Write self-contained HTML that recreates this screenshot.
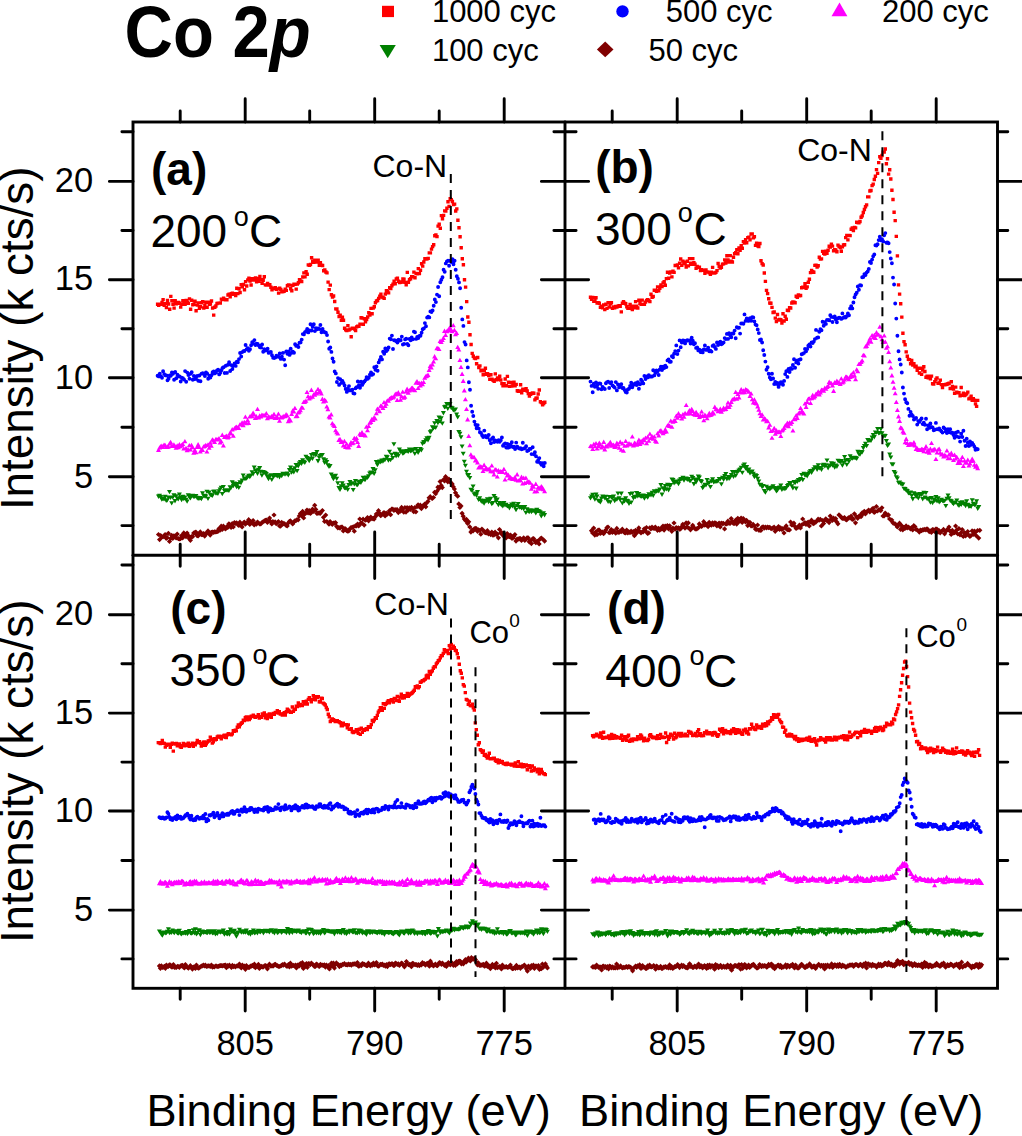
<!DOCTYPE html><html><head><meta charset="utf-8"><style>html,body{margin:0;padding:0;background:#fff;overflow:hidden;font-family:"Liberation Sans", sans-serif}svg{display:block}</style></head><body><svg width="1022" height="1136" viewBox="0 0 1022 1136" style="font-family:&quot;Liberation Sans&quot;, sans-serif"><rect width="1022" height="1136" fill="#fff"/><path d="M155.9 534.5l2.6 -2.6l2.6 2.6l-2.6 2.6zM157 539.6l2.6 -2.6l2.6 2.6l-2.6 2.6zM158.1 535.5l2.6 -2.6l2.6 2.6l-2.6 2.6zM159.2 536.7l2.6 -2.6l2.6 2.6l-2.6 2.6zM160.3 537l2.6 -2.6l2.6 2.6l-2.6 2.6zM161.4 535.7l2.6 -2.6l2.6 2.6l-2.6 2.6zM162.5 534.5l2.6 -2.6l2.6 2.6l-2.6 2.6zM163.6 538.3l2.6 -2.6l2.6 2.6l-2.6 2.6zM164.7 537.7l2.6 -2.6l2.6 2.6l-2.6 2.6zM165.8 533.3l2.6 -2.6l2.6 2.6l-2.6 2.6zM166.9 541.4l2.6 -2.6l2.6 2.6l-2.6 2.6zM168 538.7l2.6 -2.6l2.6 2.6l-2.6 2.6zM169.1 535.4l2.6 -2.6l2.6 2.6l-2.6 2.6zM170.2 538.5l2.6 -2.6l2.6 2.6l-2.6 2.6zM171.3 535.8l2.6 -2.6l2.6 2.6l-2.6 2.6zM172.4 536.5l2.6 -2.6l2.6 2.6l-2.6 2.6zM173.5 538l2.6 -2.6l2.6 2.6l-2.6 2.6zM174.6 534.1l2.6 -2.6l2.6 2.6l-2.6 2.6zM175.7 538.6l2.6 -2.6l2.6 2.6l-2.6 2.6zM176.8 539l2.6 -2.6l2.6 2.6l-2.6 2.6zM177.9 538.7l2.6 -2.6l2.6 2.6l-2.6 2.6zM179 535.6l2.6 -2.6l2.6 2.6l-2.6 2.6zM180.1 537.8l2.6 -2.6l2.6 2.6l-2.6 2.6zM181.2 532.9l2.6 -2.6l2.6 2.6l-2.6 2.6zM182.3 535.5l2.6 -2.6l2.6 2.6l-2.6 2.6zM183.4 536.6l2.6 -2.6l2.6 2.6l-2.6 2.6zM184.5 533.1l2.6 -2.6l2.6 2.6l-2.6 2.6zM185.6 535.4l2.6 -2.6l2.6 2.6l-2.6 2.6zM186.7 538.7l2.6 -2.6l2.6 2.6l-2.6 2.6zM187.8 540.3l2.6 -2.6l2.6 2.6l-2.6 2.6zM188.9 536.7l2.6 -2.6l2.6 2.6l-2.6 2.6zM190 536.7l2.6 -2.6l2.6 2.6l-2.6 2.6zM191.1 533.1l2.6 -2.6l2.6 2.6l-2.6 2.6zM192.2 532.6l2.6 -2.6l2.6 2.6l-2.6 2.6zM193.3 532l2.6 -2.6l2.6 2.6l-2.6 2.6zM194.4 535.6l2.6 -2.6l2.6 2.6l-2.6 2.6zM195.5 535.9l2.6 -2.6l2.6 2.6l-2.6 2.6zM196.6 533.1l2.6 -2.6l2.6 2.6l-2.6 2.6zM197.7 531.9l2.6 -2.6l2.6 2.6l-2.6 2.6zM198.8 534.6l2.6 -2.6l2.6 2.6l-2.6 2.6zM199.9 534.6l2.6 -2.6l2.6 2.6l-2.6 2.6zM201 533.6l2.6 -2.6l2.6 2.6l-2.6 2.6zM202.1 536.1l2.6 -2.6l2.6 2.6l-2.6 2.6zM203.2 533.3l2.6 -2.6l2.6 2.6l-2.6 2.6zM204.3 533.1l2.6 -2.6l2.6 2.6l-2.6 2.6zM205.4 530.9l2.6 -2.6l2.6 2.6l-2.6 2.6zM206.5 533l2.6 -2.6l2.6 2.6l-2.6 2.6zM207.6 535.1l2.6 -2.6l2.6 2.6l-2.6 2.6zM208.7 532.3l2.6 -2.6l2.6 2.6l-2.6 2.6zM209.8 532.1l2.6 -2.6l2.6 2.6l-2.6 2.6zM210.9 532.4l2.6 -2.6l2.6 2.6l-2.6 2.6zM212 531.8l2.6 -2.6l2.6 2.6l-2.6 2.6zM213.1 532l2.6 -2.6l2.6 2.6l-2.6 2.6zM214.2 531.7l2.6 -2.6l2.6 2.6l-2.6 2.6zM215.3 531.5l2.6 -2.6l2.6 2.6l-2.6 2.6zM216.4 528.5l2.6 -2.6l2.6 2.6l-2.6 2.6zM217.5 530.2l2.6 -2.6l2.6 2.6l-2.6 2.6zM218.6 526.2l2.6 -2.6l2.6 2.6l-2.6 2.6zM219.7 529.4l2.6 -2.6l2.6 2.6l-2.6 2.6zM220.8 526.2l2.6 -2.6l2.6 2.6l-2.6 2.6zM221.9 528.1l2.6 -2.6l2.6 2.6l-2.6 2.6zM223 528.8l2.6 -2.6l2.6 2.6l-2.6 2.6zM224.1 526.8l2.6 -2.6l2.6 2.6l-2.6 2.6zM225.2 527.4l2.6 -2.6l2.6 2.6l-2.6 2.6zM226.3 523.8l2.6 -2.6l2.6 2.6l-2.6 2.6zM227.4 524.9l2.6 -2.6l2.6 2.6l-2.6 2.6zM228.5 527.5l2.6 -2.6l2.6 2.6l-2.6 2.6zM229.6 523.7l2.6 -2.6l2.6 2.6l-2.6 2.6zM230.7 526.9l2.6 -2.6l2.6 2.6l-2.6 2.6zM231.8 522.7l2.6 -2.6l2.6 2.6l-2.6 2.6zM232.9 523.4l2.6 -2.6l2.6 2.6l-2.6 2.6zM234 522.8l2.6 -2.6l2.6 2.6l-2.6 2.6zM235.1 524.6l2.6 -2.6l2.6 2.6l-2.6 2.6zM236.2 525.4l2.6 -2.6l2.6 2.6l-2.6 2.6zM237.3 522.2l2.6 -2.6l2.6 2.6l-2.6 2.6zM238.4 523.7l2.6 -2.6l2.6 2.6l-2.6 2.6zM239.5 527l2.6 -2.6l2.6 2.6l-2.6 2.6zM240.6 523.1l2.6 -2.6l2.6 2.6l-2.6 2.6zM241.7 522.1l2.6 -2.6l2.6 2.6l-2.6 2.6zM242.8 524.2l2.6 -2.6l2.6 2.6l-2.6 2.6zM243.9 522.9l2.6 -2.6l2.6 2.6l-2.6 2.6zM245 521.9l2.6 -2.6l2.6 2.6l-2.6 2.6zM246.1 519.7l2.6 -2.6l2.6 2.6l-2.6 2.6zM247.2 524.5l2.6 -2.6l2.6 2.6l-2.6 2.6zM248.3 521.8l2.6 -2.6l2.6 2.6l-2.6 2.6zM249.4 522.7l2.6 -2.6l2.6 2.6l-2.6 2.6zM250.5 520.6l2.6 -2.6l2.6 2.6l-2.6 2.6zM251.6 525l2.6 -2.6l2.6 2.6l-2.6 2.6zM252.7 523.8l2.6 -2.6l2.6 2.6l-2.6 2.6zM253.8 524.2l2.6 -2.6l2.6 2.6l-2.6 2.6zM254.9 522l2.6 -2.6l2.6 2.6l-2.6 2.6zM256 523l2.6 -2.6l2.6 2.6l-2.6 2.6zM257.1 523.8l2.6 -2.6l2.6 2.6l-2.6 2.6zM258.2 523.9l2.6 -2.6l2.6 2.6l-2.6 2.6zM259.3 522.5l2.6 -2.6l2.6 2.6l-2.6 2.6zM260.4 521.8l2.6 -2.6l2.6 2.6l-2.6 2.6zM261.5 521.2l2.6 -2.6l2.6 2.6l-2.6 2.6zM262.6 520.4l2.6 -2.6l2.6 2.6l-2.6 2.6zM263.7 520l2.6 -2.6l2.6 2.6l-2.6 2.6zM264.8 522.5l2.6 -2.6l2.6 2.6l-2.6 2.6zM265.9 521.3l2.6 -2.6l2.6 2.6l-2.6 2.6zM267 518l2.6 -2.6l2.6 2.6l-2.6 2.6zM268.1 521.6l2.6 -2.6l2.6 2.6l-2.6 2.6zM269.2 523.9l2.6 -2.6l2.6 2.6l-2.6 2.6zM270.3 521.5l2.6 -2.6l2.6 2.6l-2.6 2.6zM271.4 515l2.6 -2.6l2.6 2.6l-2.6 2.6zM272.5 521.9l2.6 -2.6l2.6 2.6l-2.6 2.6zM273.6 523.7l2.6 -2.6l2.6 2.6l-2.6 2.6zM274.7 522.7l2.6 -2.6l2.6 2.6l-2.6 2.6zM275.8 521.5l2.6 -2.6l2.6 2.6l-2.6 2.6zM276.9 525.9l2.6 -2.6l2.6 2.6l-2.6 2.6zM278 526.1l2.6 -2.6l2.6 2.6l-2.6 2.6zM279.1 522.4l2.6 -2.6l2.6 2.6l-2.6 2.6zM280.2 524.2l2.6 -2.6l2.6 2.6l-2.6 2.6zM281.3 523.4l2.6 -2.6l2.6 2.6l-2.6 2.6zM282.4 524.2l2.6 -2.6l2.6 2.6l-2.6 2.6zM283.5 525.5l2.6 -2.6l2.6 2.6l-2.6 2.6zM284.6 525.9l2.6 -2.6l2.6 2.6l-2.6 2.6zM285.7 523l2.6 -2.6l2.6 2.6l-2.6 2.6zM286.8 521.4l2.6 -2.6l2.6 2.6l-2.6 2.6zM287.9 520.9l2.6 -2.6l2.6 2.6l-2.6 2.6zM289 522.1l2.6 -2.6l2.6 2.6l-2.6 2.6zM290.1 524l2.6 -2.6l2.6 2.6l-2.6 2.6zM291.2 521.8l2.6 -2.6l2.6 2.6l-2.6 2.6zM292.3 520.8l2.6 -2.6l2.6 2.6l-2.6 2.6zM293.4 520.6l2.6 -2.6l2.6 2.6l-2.6 2.6zM294.5 519.5l2.6 -2.6l2.6 2.6l-2.6 2.6zM295.6 519.8l2.6 -2.6l2.6 2.6l-2.6 2.6zM296.7 515.9l2.6 -2.6l2.6 2.6l-2.6 2.6zM297.8 513.5l2.6 -2.6l2.6 2.6l-2.6 2.6zM298.9 515.7l2.6 -2.6l2.6 2.6l-2.6 2.6zM300 511.4l2.6 -2.6l2.6 2.6l-2.6 2.6zM301.1 518l2.6 -2.6l2.6 2.6l-2.6 2.6zM302.2 514l2.6 -2.6l2.6 2.6l-2.6 2.6zM303.3 513.1l2.6 -2.6l2.6 2.6l-2.6 2.6zM304.4 510l2.6 -2.6l2.6 2.6l-2.6 2.6zM305.5 512.9l2.6 -2.6l2.6 2.6l-2.6 2.6zM306.6 510.6l2.6 -2.6l2.6 2.6l-2.6 2.6zM307.7 513.5l2.6 -2.6l2.6 2.6l-2.6 2.6zM308.8 512.6l2.6 -2.6l2.6 2.6l-2.6 2.6zM309.9 509.2l2.6 -2.6l2.6 2.6l-2.6 2.6zM311 511.3l2.6 -2.6l2.6 2.6l-2.6 2.6zM312.1 505.3l2.6 -2.6l2.6 2.6l-2.6 2.6zM313.2 509.4l2.6 -2.6l2.6 2.6l-2.6 2.6zM314.3 513.4l2.6 -2.6l2.6 2.6l-2.6 2.6zM315.4 513.2l2.6 -2.6l2.6 2.6l-2.6 2.6zM316.5 512.8l2.6 -2.6l2.6 2.6l-2.6 2.6zM317.6 513.4l2.6 -2.6l2.6 2.6l-2.6 2.6zM318.7 511.8l2.6 -2.6l2.6 2.6l-2.6 2.6zM319.8 510.5l2.6 -2.6l2.6 2.6l-2.6 2.6zM320.9 517.3l2.6 -2.6l2.6 2.6l-2.6 2.6zM322 521.4l2.6 -2.6l2.6 2.6l-2.6 2.6zM323.1 515.1l2.6 -2.6l2.6 2.6l-2.6 2.6zM324.2 521.6l2.6 -2.6l2.6 2.6l-2.6 2.6zM325.3 522.6l2.6 -2.6l2.6 2.6l-2.6 2.6zM326.4 524.2l2.6 -2.6l2.6 2.6l-2.6 2.6zM327.5 521.6l2.6 -2.6l2.6 2.6l-2.6 2.6zM328.6 522.8l2.6 -2.6l2.6 2.6l-2.6 2.6zM329.7 524.5l2.6 -2.6l2.6 2.6l-2.6 2.6zM330.8 523l2.6 -2.6l2.6 2.6l-2.6 2.6zM331.9 523.2l2.6 -2.6l2.6 2.6l-2.6 2.6zM333 522.7l2.6 -2.6l2.6 2.6l-2.6 2.6zM334.1 526.4l2.6 -2.6l2.6 2.6l-2.6 2.6zM335.2 527.8l2.6 -2.6l2.6 2.6l-2.6 2.6zM336.3 527.5l2.6 -2.6l2.6 2.6l-2.6 2.6zM337.4 528.1l2.6 -2.6l2.6 2.6l-2.6 2.6zM338.5 527l2.6 -2.6l2.6 2.6l-2.6 2.6zM339.6 527.2l2.6 -2.6l2.6 2.6l-2.6 2.6zM340.7 530.9l2.6 -2.6l2.6 2.6l-2.6 2.6zM341.8 528.8l2.6 -2.6l2.6 2.6l-2.6 2.6zM342.9 528.8l2.6 -2.6l2.6 2.6l-2.6 2.6zM344 530.7l2.6 -2.6l2.6 2.6l-2.6 2.6zM345.1 531.1l2.6 -2.6l2.6 2.6l-2.6 2.6zM346.2 530.9l2.6 -2.6l2.6 2.6l-2.6 2.6zM347.3 528.8l2.6 -2.6l2.6 2.6l-2.6 2.6zM348.4 527.5l2.6 -2.6l2.6 2.6l-2.6 2.6zM349.5 527.6l2.6 -2.6l2.6 2.6l-2.6 2.6zM350.6 526.9l2.6 -2.6l2.6 2.6l-2.6 2.6zM351.7 531.2l2.6 -2.6l2.6 2.6l-2.6 2.6zM352.8 525.8l2.6 -2.6l2.6 2.6l-2.6 2.6zM353.9 525.9l2.6 -2.6l2.6 2.6l-2.6 2.6zM355 524l2.6 -2.6l2.6 2.6l-2.6 2.6zM356.1 526l2.6 -2.6l2.6 2.6l-2.6 2.6zM357.2 519l2.6 -2.6l2.6 2.6l-2.6 2.6zM358.3 523.1l2.6 -2.6l2.6 2.6l-2.6 2.6zM359.4 523.3l2.6 -2.6l2.6 2.6l-2.6 2.6zM360.5 519.2l2.6 -2.6l2.6 2.6l-2.6 2.6zM361.6 525.1l2.6 -2.6l2.6 2.6l-2.6 2.6zM362.7 520.2l2.6 -2.6l2.6 2.6l-2.6 2.6zM363.8 519.7l2.6 -2.6l2.6 2.6l-2.6 2.6zM364.9 517.5l2.6 -2.6l2.6 2.6l-2.6 2.6zM366 520.8l2.6 -2.6l2.6 2.6l-2.6 2.6zM367.1 519.1l2.6 -2.6l2.6 2.6l-2.6 2.6zM368.2 517.1l2.6 -2.6l2.6 2.6l-2.6 2.6zM369.3 518.6l2.6 -2.6l2.6 2.6l-2.6 2.6zM370.4 518.6l2.6 -2.6l2.6 2.6l-2.6 2.6zM371.5 519.1l2.6 -2.6l2.6 2.6l-2.6 2.6zM372.6 516.8l2.6 -2.6l2.6 2.6l-2.6 2.6zM373.7 514.1l2.6 -2.6l2.6 2.6l-2.6 2.6zM374.8 514.4l2.6 -2.6l2.6 2.6l-2.6 2.6zM375.9 510.7l2.6 -2.6l2.6 2.6l-2.6 2.6zM377 513.3l2.6 -2.6l2.6 2.6l-2.6 2.6zM378.1 515.7l2.6 -2.6l2.6 2.6l-2.6 2.6zM379.2 514.8l2.6 -2.6l2.6 2.6l-2.6 2.6zM380.3 513.4l2.6 -2.6l2.6 2.6l-2.6 2.6zM381.4 512.6l2.6 -2.6l2.6 2.6l-2.6 2.6zM382.5 516l2.6 -2.6l2.6 2.6l-2.6 2.6zM383.6 513.2l2.6 -2.6l2.6 2.6l-2.6 2.6zM384.7 514.2l2.6 -2.6l2.6 2.6l-2.6 2.6zM385.8 512.9l2.6 -2.6l2.6 2.6l-2.6 2.6zM386.9 510.7l2.6 -2.6l2.6 2.6l-2.6 2.6zM388 514.7l2.6 -2.6l2.6 2.6l-2.6 2.6zM389.1 509.2l2.6 -2.6l2.6 2.6l-2.6 2.6zM390.2 509.2l2.6 -2.6l2.6 2.6l-2.6 2.6zM391.3 510.5l2.6 -2.6l2.6 2.6l-2.6 2.6zM392.4 509.7l2.6 -2.6l2.6 2.6l-2.6 2.6zM393.5 509.9l2.6 -2.6l2.6 2.6l-2.6 2.6zM394.6 509.7l2.6 -2.6l2.6 2.6l-2.6 2.6zM395.7 512.6l2.6 -2.6l2.6 2.6l-2.6 2.6zM396.8 510.7l2.6 -2.6l2.6 2.6l-2.6 2.6zM397.9 511.2l2.6 -2.6l2.6 2.6l-2.6 2.6zM399 507.4l2.6 -2.6l2.6 2.6l-2.6 2.6zM400.1 508.6l2.6 -2.6l2.6 2.6l-2.6 2.6zM401.2 512.2l2.6 -2.6l2.6 2.6l-2.6 2.6zM402.3 507.7l2.6 -2.6l2.6 2.6l-2.6 2.6zM403.4 512.1l2.6 -2.6l2.6 2.6l-2.6 2.6zM404.5 507.7l2.6 -2.6l2.6 2.6l-2.6 2.6zM405.6 510.1l2.6 -2.6l2.6 2.6l-2.6 2.6zM406.7 507.8l2.6 -2.6l2.6 2.6l-2.6 2.6zM407.8 509.5l2.6 -2.6l2.6 2.6l-2.6 2.6zM408.9 507.3l2.6 -2.6l2.6 2.6l-2.6 2.6zM410 508.3l2.6 -2.6l2.6 2.6l-2.6 2.6zM411.1 511.7l2.6 -2.6l2.6 2.6l-2.6 2.6zM412.2 507.5l2.6 -2.6l2.6 2.6l-2.6 2.6zM413.3 511.8l2.6 -2.6l2.6 2.6l-2.6 2.6zM414.4 506.7l2.6 -2.6l2.6 2.6l-2.6 2.6zM415.5 504.8l2.6 -2.6l2.6 2.6l-2.6 2.6zM416.6 506.7l2.6 -2.6l2.6 2.6l-2.6 2.6zM417.7 505.2l2.6 -2.6l2.6 2.6l-2.6 2.6zM418.8 508.6l2.6 -2.6l2.6 2.6l-2.6 2.6zM419.9 506.2l2.6 -2.6l2.6 2.6l-2.6 2.6zM421 506l2.6 -2.6l2.6 2.6l-2.6 2.6zM422.1 504.1l2.6 -2.6l2.6 2.6l-2.6 2.6zM423.2 506.8l2.6 -2.6l2.6 2.6l-2.6 2.6zM424.3 502.7l2.6 -2.6l2.6 2.6l-2.6 2.6zM425.4 501.3l2.6 -2.6l2.6 2.6l-2.6 2.6zM426.5 497.8l2.6 -2.6l2.6 2.6l-2.6 2.6zM427.6 496.7l2.6 -2.6l2.6 2.6l-2.6 2.6zM428.7 497.8l2.6 -2.6l2.6 2.6l-2.6 2.6zM429.8 498.4l2.6 -2.6l2.6 2.6l-2.6 2.6zM430.9 497.5l2.6 -2.6l2.6 2.6l-2.6 2.6zM432 492.3l2.6 -2.6l2.6 2.6l-2.6 2.6zM433.1 493.7l2.6 -2.6l2.6 2.6l-2.6 2.6zM434.2 491.4l2.6 -2.6l2.6 2.6l-2.6 2.6zM435.3 487.2l2.6 -2.6l2.6 2.6l-2.6 2.6zM436.4 488.6l2.6 -2.6l2.6 2.6l-2.6 2.6zM437.5 481.6l2.6 -2.6l2.6 2.6l-2.6 2.6zM438.6 485.4l2.6 -2.6l2.6 2.6l-2.6 2.6zM439.7 487.6l2.6 -2.6l2.6 2.6l-2.6 2.6zM440.8 479.8l2.6 -2.6l2.6 2.6l-2.6 2.6zM441.9 480.9l2.6 -2.6l2.6 2.6l-2.6 2.6zM443 476.7l2.6 -2.6l2.6 2.6l-2.6 2.6zM444.1 478.7l2.6 -2.6l2.6 2.6l-2.6 2.6zM445.2 481.8l2.6 -2.6l2.6 2.6l-2.6 2.6zM446.3 479.1l2.6 -2.6l2.6 2.6l-2.6 2.6zM447.4 482l2.6 -2.6l2.6 2.6l-2.6 2.6zM448.5 482.7l2.6 -2.6l2.6 2.6l-2.6 2.6zM449.6 484.1l2.6 -2.6l2.6 2.6l-2.6 2.6zM450.7 486.8l2.6 -2.6l2.6 2.6l-2.6 2.6zM451.8 489l2.6 -2.6l2.6 2.6l-2.6 2.6zM452.9 492.8l2.6 -2.6l2.6 2.6l-2.6 2.6zM454 495.2l2.6 -2.6l2.6 2.6l-2.6 2.6zM455.1 496.2l2.6 -2.6l2.6 2.6l-2.6 2.6zM456.2 503.9l2.6 -2.6l2.6 2.6l-2.6 2.6zM457.3 507.5l2.6 -2.6l2.6 2.6l-2.6 2.6zM458.4 505.9l2.6 -2.6l2.6 2.6l-2.6 2.6zM459.5 513.3l2.6 -2.6l2.6 2.6l-2.6 2.6zM460.6 516.2l2.6 -2.6l2.6 2.6l-2.6 2.6zM461.7 518.9l2.6 -2.6l2.6 2.6l-2.6 2.6zM462.8 520.5l2.6 -2.6l2.6 2.6l-2.6 2.6zM463.9 519.4l2.6 -2.6l2.6 2.6l-2.6 2.6zM465 523.4l2.6 -2.6l2.6 2.6l-2.6 2.6zM466.1 521.8l2.6 -2.6l2.6 2.6l-2.6 2.6zM467.2 526.9l2.6 -2.6l2.6 2.6l-2.6 2.6zM468.3 532.1l2.6 -2.6l2.6 2.6l-2.6 2.6zM469.4 530.2l2.6 -2.6l2.6 2.6l-2.6 2.6zM470.5 531l2.6 -2.6l2.6 2.6l-2.6 2.6zM471.6 528.9l2.6 -2.6l2.6 2.6l-2.6 2.6zM472.7 528.4l2.6 -2.6l2.6 2.6l-2.6 2.6zM473.8 528.7l2.6 -2.6l2.6 2.6l-2.6 2.6zM474.9 531.3l2.6 -2.6l2.6 2.6l-2.6 2.6zM476 529.9l2.6 -2.6l2.6 2.6l-2.6 2.6zM477.1 530.5l2.6 -2.6l2.6 2.6l-2.6 2.6zM478.2 534.2l2.6 -2.6l2.6 2.6l-2.6 2.6zM479.3 529.1l2.6 -2.6l2.6 2.6l-2.6 2.6zM480.4 530l2.6 -2.6l2.6 2.6l-2.6 2.6zM481.5 531.8l2.6 -2.6l2.6 2.6l-2.6 2.6zM482.6 532.7l2.6 -2.6l2.6 2.6l-2.6 2.6zM483.7 532.9l2.6 -2.6l2.6 2.6l-2.6 2.6zM484.8 530.7l2.6 -2.6l2.6 2.6l-2.6 2.6zM485.9 533.9l2.6 -2.6l2.6 2.6l-2.6 2.6zM487 533.5l2.6 -2.6l2.6 2.6l-2.6 2.6zM488.1 534.6l2.6 -2.6l2.6 2.6l-2.6 2.6zM489.2 532l2.6 -2.6l2.6 2.6l-2.6 2.6zM490.3 535.2l2.6 -2.6l2.6 2.6l-2.6 2.6zM491.4 534.9l2.6 -2.6l2.6 2.6l-2.6 2.6zM492.5 532.2l2.6 -2.6l2.6 2.6l-2.6 2.6zM493.6 534.5l2.6 -2.6l2.6 2.6l-2.6 2.6zM494.7 534l2.6 -2.6l2.6 2.6l-2.6 2.6zM495.8 537.8l2.6 -2.6l2.6 2.6l-2.6 2.6zM496.9 529.5l2.6 -2.6l2.6 2.6l-2.6 2.6zM498 532.9l2.6 -2.6l2.6 2.6l-2.6 2.6zM499.1 532.6l2.6 -2.6l2.6 2.6l-2.6 2.6zM500.2 535.3l2.6 -2.6l2.6 2.6l-2.6 2.6zM501.3 534.9l2.6 -2.6l2.6 2.6l-2.6 2.6zM502.4 535.6l2.6 -2.6l2.6 2.6l-2.6 2.6zM503.5 537.9l2.6 -2.6l2.6 2.6l-2.6 2.6zM504.6 533.6l2.6 -2.6l2.6 2.6l-2.6 2.6zM505.7 535.3l2.6 -2.6l2.6 2.6l-2.6 2.6zM506.8 536.7l2.6 -2.6l2.6 2.6l-2.6 2.6zM507.9 535l2.6 -2.6l2.6 2.6l-2.6 2.6zM509 538.1l2.6 -2.6l2.6 2.6l-2.6 2.6zM510.1 538.2l2.6 -2.6l2.6 2.6l-2.6 2.6zM511.2 536.4l2.6 -2.6l2.6 2.6l-2.6 2.6zM512.3 534.6l2.6 -2.6l2.6 2.6l-2.6 2.6zM513.4 541.1l2.6 -2.6l2.6 2.6l-2.6 2.6zM514.5 539.1l2.6 -2.6l2.6 2.6l-2.6 2.6zM515.6 539.2l2.6 -2.6l2.6 2.6l-2.6 2.6zM516.7 538.7l2.6 -2.6l2.6 2.6l-2.6 2.6zM517.8 538.6l2.6 -2.6l2.6 2.6l-2.6 2.6zM518.9 540.4l2.6 -2.6l2.6 2.6l-2.6 2.6zM520 538.9l2.6 -2.6l2.6 2.6l-2.6 2.6zM521.1 537.9l2.6 -2.6l2.6 2.6l-2.6 2.6zM522.2 540.5l2.6 -2.6l2.6 2.6l-2.6 2.6zM523.3 539.4l2.6 -2.6l2.6 2.6l-2.6 2.6zM524.4 537.9l2.6 -2.6l2.6 2.6l-2.6 2.6zM525.5 537.8l2.6 -2.6l2.6 2.6l-2.6 2.6zM526.6 541.8l2.6 -2.6l2.6 2.6l-2.6 2.6zM527.7 540.9l2.6 -2.6l2.6 2.6l-2.6 2.6zM528.8 543.6l2.6 -2.6l2.6 2.6l-2.6 2.6zM529.9 538.9l2.6 -2.6l2.6 2.6l-2.6 2.6zM531 538.6l2.6 -2.6l2.6 2.6l-2.6 2.6zM532.1 540.8l2.6 -2.6l2.6 2.6l-2.6 2.6zM533.2 542.7l2.6 -2.6l2.6 2.6l-2.6 2.6zM534.3 541.3l2.6 -2.6l2.6 2.6l-2.6 2.6zM535.4 541l2.6 -2.6l2.6 2.6l-2.6 2.6zM536.5 543.9l2.6 -2.6l2.6 2.6l-2.6 2.6zM537.6 538.9l2.6 -2.6l2.6 2.6l-2.6 2.6zM538.7 538l2.6 -2.6l2.6 2.6l-2.6 2.6zM539.8 539l2.6 -2.6l2.6 2.6l-2.6 2.6zM540.9 539.8l2.6 -2.6l2.6 2.6l-2.6 2.6zM542 541.1l2.6 -2.6l2.6 2.6l-2.6 2.6z" fill="#800000"/><path d="M156 494.6l2.5 4.3l2.5 -4.3zM157.1 493.7l2.5 4.3l2.5 -4.3zM158.2 495.1l2.5 4.3l2.5 -4.3zM159.3 497.5l2.5 4.3l2.5 -4.3zM160.4 496.6l2.5 4.3l2.5 -4.3zM161.5 497.2l2.5 4.3l2.5 -4.3zM162.6 494.7l2.5 4.3l2.5 -4.3zM163.7 498.8l2.5 4.3l2.5 -4.3zM164.8 498.2l2.5 4.3l2.5 -4.3zM165.9 495.4l2.5 4.3l2.5 -4.3zM167 490l2.5 4.3l2.5 -4.3zM168.1 495.6l2.5 4.3l2.5 -4.3zM169.2 501.3l2.5 4.3l2.5 -4.3zM170.3 495.4l2.5 4.3l2.5 -4.3zM171.4 493.3l2.5 4.3l2.5 -4.3zM172.5 499.1l2.5 4.3l2.5 -4.3zM173.6 494.2l2.5 4.3l2.5 -4.3zM174.7 496.5l2.5 4.3l2.5 -4.3zM175.8 497.1l2.5 4.3l2.5 -4.3zM176.9 492.4l2.5 4.3l2.5 -4.3zM178 495.8l2.5 4.3l2.5 -4.3zM179.1 498l2.5 4.3l2.5 -4.3zM180.2 494.8l2.5 4.3l2.5 -4.3zM181.3 496.9l2.5 4.3l2.5 -4.3zM182.4 495.4l2.5 4.3l2.5 -4.3zM183.5 497.7l2.5 4.3l2.5 -4.3zM184.6 499.4l2.5 4.3l2.5 -4.3zM185.7 493.2l2.5 4.3l2.5 -4.3zM186.8 494.9l2.5 4.3l2.5 -4.3zM187.9 496.3l2.5 4.3l2.5 -4.3zM189 494.2l2.5 4.3l2.5 -4.3zM190.1 493.7l2.5 4.3l2.5 -4.3zM191.2 494.7l2.5 4.3l2.5 -4.3zM192.3 494.8l2.5 4.3l2.5 -4.3zM193.4 493.9l2.5 4.3l2.5 -4.3zM194.5 495.8l2.5 4.3l2.5 -4.3zM195.6 496.7l2.5 4.3l2.5 -4.3zM196.7 496.4l2.5 4.3l2.5 -4.3zM197.8 496l2.5 4.3l2.5 -4.3zM198.9 496.9l2.5 4.3l2.5 -4.3zM200 491.3l2.5 4.3l2.5 -4.3zM201.1 493.7l2.5 4.3l2.5 -4.3zM202.2 494.1l2.5 4.3l2.5 -4.3zM203.3 494.5l2.5 4.3l2.5 -4.3zM204.4 489.7l2.5 4.3l2.5 -4.3zM205.5 496.7l2.5 4.3l2.5 -4.3zM206.6 490.6l2.5 4.3l2.5 -4.3zM207.7 492.7l2.5 4.3l2.5 -4.3zM208.8 493.3l2.5 4.3l2.5 -4.3zM209.9 493.7l2.5 4.3l2.5 -4.3zM211 489.7l2.5 4.3l2.5 -4.3zM212.1 489.6l2.5 4.3l2.5 -4.3zM213.2 491.2l2.5 4.3l2.5 -4.3zM214.3 491.3l2.5 4.3l2.5 -4.3zM215.4 491.6l2.5 4.3l2.5 -4.3zM216.5 489.2l2.5 4.3l2.5 -4.3zM217.6 487.5l2.5 4.3l2.5 -4.3zM218.7 485.8l2.5 4.3l2.5 -4.3zM219.8 491.9l2.5 4.3l2.5 -4.3zM220.9 485l2.5 4.3l2.5 -4.3zM222 489l2.5 4.3l2.5 -4.3zM223.1 488.3l2.5 4.3l2.5 -4.3zM224.2 488.3l2.5 4.3l2.5 -4.3zM225.3 488.3l2.5 4.3l2.5 -4.3zM226.4 488.7l2.5 4.3l2.5 -4.3zM227.5 485.3l2.5 4.3l2.5 -4.3zM228.6 485.8l2.5 4.3l2.5 -4.3zM229.7 480.3l2.5 4.3l2.5 -4.3zM230.8 484l2.5 4.3l2.5 -4.3zM231.9 481.5l2.5 4.3l2.5 -4.3zM233 482.6l2.5 4.3l2.5 -4.3zM234.1 484.9l2.5 4.3l2.5 -4.3zM235.2 482l2.5 4.3l2.5 -4.3zM236.3 485.8l2.5 4.3l2.5 -4.3zM237.4 480.2l2.5 4.3l2.5 -4.3zM238.5 480.9l2.5 4.3l2.5 -4.3zM239.6 478.6l2.5 4.3l2.5 -4.3zM240.7 473.5l2.5 4.3l2.5 -4.3zM241.8 476.6l2.5 4.3l2.5 -4.3zM242.9 476.6l2.5 4.3l2.5 -4.3zM244 476.5l2.5 4.3l2.5 -4.3zM245.1 475.2l2.5 4.3l2.5 -4.3zM246.2 473.8l2.5 4.3l2.5 -4.3zM247.3 475l2.5 4.3l2.5 -4.3zM248.4 473.4l2.5 4.3l2.5 -4.3zM249.5 470.3l2.5 4.3l2.5 -4.3zM250.6 472.1l2.5 4.3l2.5 -4.3zM251.7 465.5l2.5 4.3l2.5 -4.3zM252.8 468.6l2.5 4.3l2.5 -4.3zM253.9 468.6l2.5 4.3l2.5 -4.3zM255 471.6l2.5 4.3l2.5 -4.3zM256.1 467.8l2.5 4.3l2.5 -4.3zM257.2 466.1l2.5 4.3l2.5 -4.3zM258.3 469.8l2.5 4.3l2.5 -4.3zM259.4 473.4l2.5 4.3l2.5 -4.3zM260.5 469.9l2.5 4.3l2.5 -4.3zM261.6 470.6l2.5 4.3l2.5 -4.3zM262.7 470.9l2.5 4.3l2.5 -4.3zM263.8 471.9l2.5 4.3l2.5 -4.3zM264.9 475l2.5 4.3l2.5 -4.3zM266 476.9l2.5 4.3l2.5 -4.3zM267.1 474.2l2.5 4.3l2.5 -4.3zM268.2 473.3l2.5 4.3l2.5 -4.3zM269.3 477.7l2.5 4.3l2.5 -4.3zM270.4 474.1l2.5 4.3l2.5 -4.3zM271.5 474.1l2.5 4.3l2.5 -4.3zM272.6 473.1l2.5 4.3l2.5 -4.3zM273.7 473.1l2.5 4.3l2.5 -4.3zM274.8 474.2l2.5 4.3l2.5 -4.3zM275.9 472.9l2.5 4.3l2.5 -4.3zM277 475.1l2.5 4.3l2.5 -4.3zM278.1 473.2l2.5 4.3l2.5 -4.3zM279.2 473.9l2.5 4.3l2.5 -4.3zM280.3 471.7l2.5 4.3l2.5 -4.3zM281.4 471.8l2.5 4.3l2.5 -4.3zM282.5 472.4l2.5 4.3l2.5 -4.3zM283.6 471.7l2.5 4.3l2.5 -4.3zM284.7 471.4l2.5 4.3l2.5 -4.3zM285.8 473.3l2.5 4.3l2.5 -4.3zM286.9 468.1l2.5 4.3l2.5 -4.3zM288 465.6l2.5 4.3l2.5 -4.3zM289.1 470.5l2.5 4.3l2.5 -4.3zM290.2 467.7l2.5 4.3l2.5 -4.3zM291.3 470.2l2.5 4.3l2.5 -4.3zM292.4 466.2l2.5 4.3l2.5 -4.3zM293.5 463l2.5 4.3l2.5 -4.3zM294.6 469l2.5 4.3l2.5 -4.3zM295.7 464.3l2.5 4.3l2.5 -4.3zM296.8 461.5l2.5 4.3l2.5 -4.3zM297.9 459.9l2.5 4.3l2.5 -4.3zM299 461.8l2.5 4.3l2.5 -4.3zM300.1 458.3l2.5 4.3l2.5 -4.3zM301.2 459.8l2.5 4.3l2.5 -4.3zM302.3 460.7l2.5 4.3l2.5 -4.3zM303.4 454.7l2.5 4.3l2.5 -4.3zM304.5 456.1l2.5 4.3l2.5 -4.3zM305.6 457.1l2.5 4.3l2.5 -4.3zM306.7 458.9l2.5 4.3l2.5 -4.3zM307.8 456.7l2.5 4.3l2.5 -4.3zM308.9 453.1l2.5 4.3l2.5 -4.3zM310 456.6l2.5 4.3l2.5 -4.3zM311.1 452.3l2.5 4.3l2.5 -4.3zM312.2 452l2.5 4.3l2.5 -4.3zM313.3 453.3l2.5 4.3l2.5 -4.3zM314.4 450.1l2.5 4.3l2.5 -4.3zM315.5 459.1l2.5 4.3l2.5 -4.3zM316.6 455.5l2.5 4.3l2.5 -4.3zM317.7 454.1l2.5 4.3l2.5 -4.3zM318.8 453.3l2.5 4.3l2.5 -4.3zM319.9 453l2.5 4.3l2.5 -4.3zM321 457.3l2.5 4.3l2.5 -4.3zM322.1 460.7l2.5 4.3l2.5 -4.3zM323.2 458.2l2.5 4.3l2.5 -4.3zM324.3 460l2.5 4.3l2.5 -4.3zM325.4 463.3l2.5 4.3l2.5 -4.3zM326.5 464.7l2.5 4.3l2.5 -4.3zM327.6 464l2.5 4.3l2.5 -4.3zM328.7 472.4l2.5 4.3l2.5 -4.3zM329.8 474.2l2.5 4.3l2.5 -4.3zM330.9 476.9l2.5 4.3l2.5 -4.3zM332 475.2l2.5 4.3l2.5 -4.3zM333.1 473.7l2.5 4.3l2.5 -4.3zM334.2 476.8l2.5 4.3l2.5 -4.3zM335.3 481.3l2.5 4.3l2.5 -4.3zM336.4 486.1l2.5 4.3l2.5 -4.3zM337.5 487.7l2.5 4.3l2.5 -4.3zM338.6 484.2l2.5 4.3l2.5 -4.3zM339.7 481.2l2.5 4.3l2.5 -4.3zM340.8 483.4l2.5 4.3l2.5 -4.3zM341.9 486l2.5 4.3l2.5 -4.3zM343 486.1l2.5 4.3l2.5 -4.3zM344.1 485.4l2.5 4.3l2.5 -4.3zM345.2 487.8l2.5 4.3l2.5 -4.3zM346.3 482.9l2.5 4.3l2.5 -4.3zM347.4 480l2.5 4.3l2.5 -4.3zM348.5 482.3l2.5 4.3l2.5 -4.3zM349.6 481.3l2.5 4.3l2.5 -4.3zM350.7 487.9l2.5 4.3l2.5 -4.3zM351.8 482.3l2.5 4.3l2.5 -4.3zM352.9 479.1l2.5 4.3l2.5 -4.3zM354 482.7l2.5 4.3l2.5 -4.3zM355.1 482.9l2.5 4.3l2.5 -4.3zM356.2 480.2l2.5 4.3l2.5 -4.3zM357.3 479.8l2.5 4.3l2.5 -4.3zM358.4 480.8l2.5 4.3l2.5 -4.3zM359.5 479l2.5 4.3l2.5 -4.3zM360.6 475.7l2.5 4.3l2.5 -4.3zM361.7 477.6l2.5 4.3l2.5 -4.3zM362.8 477.6l2.5 4.3l2.5 -4.3zM363.9 475.6l2.5 4.3l2.5 -4.3zM365 475.8l2.5 4.3l2.5 -4.3zM366.1 474.2l2.5 4.3l2.5 -4.3zM367.2 471.4l2.5 4.3l2.5 -4.3zM368.3 470.4l2.5 4.3l2.5 -4.3zM369.4 470.8l2.5 4.3l2.5 -4.3zM370.5 467.1l2.5 4.3l2.5 -4.3zM371.6 471.8l2.5 4.3l2.5 -4.3zM372.7 468.2l2.5 4.3l2.5 -4.3zM373.8 460.1l2.5 4.3l2.5 -4.3zM374.9 463l2.5 4.3l2.5 -4.3zM376 460.3l2.5 4.3l2.5 -4.3zM377.1 459.5l2.5 4.3l2.5 -4.3zM378.2 460.1l2.5 4.3l2.5 -4.3zM379.3 458.6l2.5 4.3l2.5 -4.3zM380.4 459.4l2.5 4.3l2.5 -4.3zM381.5 458.3l2.5 4.3l2.5 -4.3zM382.6 457.8l2.5 4.3l2.5 -4.3zM383.7 454.8l2.5 4.3l2.5 -4.3zM384.8 455.2l2.5 4.3l2.5 -4.3zM385.9 458.4l2.5 4.3l2.5 -4.3zM387 449.7l2.5 4.3l2.5 -4.3zM388.1 458l2.5 4.3l2.5 -4.3zM389.2 452.8l2.5 4.3l2.5 -4.3zM390.3 456l2.5 4.3l2.5 -4.3zM391.4 442.2l2.5 4.3l2.5 -4.3zM392.5 451.8l2.5 4.3l2.5 -4.3zM393.6 454.1l2.5 4.3l2.5 -4.3zM394.7 452.3l2.5 4.3l2.5 -4.3zM395.8 453.8l2.5 4.3l2.5 -4.3zM396.9 447.6l2.5 4.3l2.5 -4.3zM398 449.8l2.5 4.3l2.5 -4.3zM399.1 449.3l2.5 4.3l2.5 -4.3zM400.2 451.5l2.5 4.3l2.5 -4.3zM401.3 451.2l2.5 4.3l2.5 -4.3zM402.4 449.7l2.5 4.3l2.5 -4.3zM403.5 449.2l2.5 4.3l2.5 -4.3zM404.6 449l2.5 4.3l2.5 -4.3zM405.7 449.8l2.5 4.3l2.5 -4.3zM406.8 447.4l2.5 4.3l2.5 -4.3zM407.9 449.1l2.5 4.3l2.5 -4.3zM409 448.8l2.5 4.3l2.5 -4.3zM410.1 447.8l2.5 4.3l2.5 -4.3zM411.2 447.6l2.5 4.3l2.5 -4.3zM412.3 451.7l2.5 4.3l2.5 -4.3zM413.4 447.1l2.5 4.3l2.5 -4.3zM414.5 449l2.5 4.3l2.5 -4.3zM415.6 450.7l2.5 4.3l2.5 -4.3zM416.7 449l2.5 4.3l2.5 -4.3zM417.8 447l2.5 4.3l2.5 -4.3zM418.9 448.2l2.5 4.3l2.5 -4.3zM420 441.7l2.5 4.3l2.5 -4.3zM421.1 440.3l2.5 4.3l2.5 -4.3zM422.2 440.1l2.5 4.3l2.5 -4.3zM423.3 438.3l2.5 4.3l2.5 -4.3zM424.4 436.3l2.5 4.3l2.5 -4.3zM425.5 438.3l2.5 4.3l2.5 -4.3zM426.6 435.8l2.5 4.3l2.5 -4.3zM427.7 430.3l2.5 4.3l2.5 -4.3zM428.8 429.3l2.5 4.3l2.5 -4.3zM429.9 425.3l2.5 4.3l2.5 -4.3zM431 426.3l2.5 4.3l2.5 -4.3zM432.1 421.3l2.5 4.3l2.5 -4.3zM433.2 425.6l2.5 4.3l2.5 -4.3zM434.3 419l2.5 4.3l2.5 -4.3zM435.4 420.9l2.5 4.3l2.5 -4.3zM436.5 415.4l2.5 4.3l2.5 -4.3zM437.6 419.5l2.5 4.3l2.5 -4.3zM438.7 416.3l2.5 4.3l2.5 -4.3zM439.8 421.4l2.5 4.3l2.5 -4.3zM440.9 411.1l2.5 4.3l2.5 -4.3zM442 405.2l2.5 4.3l2.5 -4.3zM443.1 404.8l2.5 4.3l2.5 -4.3zM444.2 402.1l2.5 4.3l2.5 -4.3zM445.3 406.8l2.5 4.3l2.5 -4.3zM446.4 401.9l2.5 4.3l2.5 -4.3zM447.5 402l2.5 4.3l2.5 -4.3zM448.6 405.7l2.5 4.3l2.5 -4.3zM449.7 406.3l2.5 4.3l2.5 -4.3zM450.8 408.3l2.5 4.3l2.5 -4.3zM451.9 408l2.5 4.3l2.5 -4.3zM453 407.5l2.5 4.3l2.5 -4.3zM454.1 412.6l2.5 4.3l2.5 -4.3zM455.2 415.3l2.5 4.3l2.5 -4.3zM456.3 430.1l2.5 4.3l2.5 -4.3zM457.4 431.7l2.5 4.3l2.5 -4.3zM458.5 435.3l2.5 4.3l2.5 -4.3zM459.6 444.5l2.5 4.3l2.5 -4.3zM460.7 451.8l2.5 4.3l2.5 -4.3zM461.8 459.7l2.5 4.3l2.5 -4.3zM462.9 463.7l2.5 4.3l2.5 -4.3zM464 469.8l2.5 4.3l2.5 -4.3zM465.1 473.2l2.5 4.3l2.5 -4.3zM466.2 473.1l2.5 4.3l2.5 -4.3zM467.3 476l2.5 4.3l2.5 -4.3zM468.4 487.7l2.5 4.3l2.5 -4.3zM469.5 488.8l2.5 4.3l2.5 -4.3zM470.6 484.4l2.5 4.3l2.5 -4.3zM471.7 492.4l2.5 4.3l2.5 -4.3zM472.8 491.5l2.5 4.3l2.5 -4.3zM473.9 493.5l2.5 4.3l2.5 -4.3zM475 490.1l2.5 4.3l2.5 -4.3zM476.1 497.7l2.5 4.3l2.5 -4.3zM477.2 496.3l2.5 4.3l2.5 -4.3zM478.3 498.6l2.5 4.3l2.5 -4.3zM479.4 499.6l2.5 4.3l2.5 -4.3zM480.5 500.3l2.5 4.3l2.5 -4.3zM481.6 501.4l2.5 4.3l2.5 -4.3zM482.7 498.8l2.5 4.3l2.5 -4.3zM483.8 498.9l2.5 4.3l2.5 -4.3zM484.9 497.3l2.5 4.3l2.5 -4.3zM486 500l2.5 4.3l2.5 -4.3zM487.1 498.5l2.5 4.3l2.5 -4.3zM488.2 496.7l2.5 4.3l2.5 -4.3zM489.3 501.9l2.5 4.3l2.5 -4.3zM490.4 501l2.5 4.3l2.5 -4.3zM491.5 494.1l2.5 4.3l2.5 -4.3zM492.6 496l2.5 4.3l2.5 -4.3zM493.7 499.6l2.5 4.3l2.5 -4.3zM494.8 497.4l2.5 4.3l2.5 -4.3zM495.9 503l2.5 4.3l2.5 -4.3zM497 501l2.5 4.3l2.5 -4.3zM498.1 502.1l2.5 4.3l2.5 -4.3zM499.2 503.1l2.5 4.3l2.5 -4.3zM500.3 504.3l2.5 4.3l2.5 -4.3zM501.4 501.1l2.5 4.3l2.5 -4.3zM502.5 503.3l2.5 4.3l2.5 -4.3zM503.6 502.8l2.5 4.3l2.5 -4.3zM504.7 504.2l2.5 4.3l2.5 -4.3zM505.8 504l2.5 4.3l2.5 -4.3zM506.9 506.1l2.5 4.3l2.5 -4.3zM508 504.5l2.5 4.3l2.5 -4.3zM509.1 502.6l2.5 4.3l2.5 -4.3zM510.2 504.2l2.5 4.3l2.5 -4.3zM511.3 501.8l2.5 4.3l2.5 -4.3zM512.4 505.2l2.5 4.3l2.5 -4.3zM513.5 508l2.5 4.3l2.5 -4.3zM514.6 503.8l2.5 4.3l2.5 -4.3zM515.7 501.9l2.5 4.3l2.5 -4.3zM516.8 505.5l2.5 4.3l2.5 -4.3zM517.9 504.9l2.5 4.3l2.5 -4.3zM519 506.2l2.5 4.3l2.5 -4.3zM520.1 505.3l2.5 4.3l2.5 -4.3zM521.2 507l2.5 4.3l2.5 -4.3zM522.3 505l2.5 4.3l2.5 -4.3zM523.4 510.7l2.5 4.3l2.5 -4.3zM524.5 507.3l2.5 4.3l2.5 -4.3zM525.6 509.1l2.5 4.3l2.5 -4.3zM526.7 509.9l2.5 4.3l2.5 -4.3zM527.8 508.3l2.5 4.3l2.5 -4.3zM528.9 509.9l2.5 4.3l2.5 -4.3zM530 508.7l2.5 4.3l2.5 -4.3zM531.1 508.6l2.5 4.3l2.5 -4.3zM532.2 509.4l2.5 4.3l2.5 -4.3zM533.3 511.2l2.5 4.3l2.5 -4.3zM534.4 507.8l2.5 4.3l2.5 -4.3zM535.5 508.9l2.5 4.3l2.5 -4.3zM536.6 509.4l2.5 4.3l2.5 -4.3zM537.7 510.3l2.5 4.3l2.5 -4.3zM538.8 514.2l2.5 4.3l2.5 -4.3zM539.9 512l2.5 4.3l2.5 -4.3zM541 511.2l2.5 4.3l2.5 -4.3zM542.1 513.1l2.5 4.3l2.5 -4.3z" fill="#008000"/><path d="M156 451.9l2.5 -4.3l2.5 4.3zM157.1 449.6l2.5 -4.3l2.5 4.3zM158.2 448.3l2.5 -4.3l2.5 4.3zM159.3 447.7l2.5 -4.3l2.5 4.3zM160.4 449l2.5 -4.3l2.5 4.3zM161.5 446.9l2.5 -4.3l2.5 4.3zM162.6 447.1l2.5 -4.3l2.5 4.3zM163.7 448.9l2.5 -4.3l2.5 4.3zM164.8 448.9l2.5 -4.3l2.5 4.3zM165.9 448.6l2.5 -4.3l2.5 4.3zM167 445.6l2.5 -4.3l2.5 4.3zM168.1 444l2.5 -4.3l2.5 4.3zM169.2 448l2.5 -4.3l2.5 4.3zM170.3 447.7l2.5 -4.3l2.5 4.3zM171.4 446.6l2.5 -4.3l2.5 4.3zM172.5 448.1l2.5 -4.3l2.5 4.3zM173.6 449.8l2.5 -4.3l2.5 4.3zM174.7 447.6l2.5 -4.3l2.5 4.3zM175.8 449.2l2.5 -4.3l2.5 4.3zM176.9 446.2l2.5 -4.3l2.5 4.3zM178 448.3l2.5 -4.3l2.5 4.3zM179.1 447.1l2.5 -4.3l2.5 4.3zM180.2 446l2.5 -4.3l2.5 4.3zM181.3 450.6l2.5 -4.3l2.5 4.3zM182.4 443.3l2.5 -4.3l2.5 4.3zM183.5 450l2.5 -4.3l2.5 4.3zM184.6 452.2l2.5 -4.3l2.5 4.3zM185.7 451.6l2.5 -4.3l2.5 4.3zM186.8 447.3l2.5 -4.3l2.5 4.3zM187.9 451.6l2.5 -4.3l2.5 4.3zM189 447l2.5 -4.3l2.5 4.3zM190.1 449.3l2.5 -4.3l2.5 4.3zM191.2 454.7l2.5 -4.3l2.5 4.3zM192.3 451.9l2.5 -4.3l2.5 4.3zM193.4 454.2l2.5 -4.3l2.5 4.3zM194.5 448.9l2.5 -4.3l2.5 4.3zM195.6 446.4l2.5 -4.3l2.5 4.3zM196.7 449.1l2.5 -4.3l2.5 4.3zM197.8 453.4l2.5 -4.3l2.5 4.3zM198.9 452.1l2.5 -4.3l2.5 4.3zM200 451.9l2.5 -4.3l2.5 4.3zM201.1 448.5l2.5 -4.3l2.5 4.3zM202.2 448l2.5 -4.3l2.5 4.3zM203.3 447.1l2.5 -4.3l2.5 4.3zM204.4 453.6l2.5 -4.3l2.5 4.3zM205.5 446.5l2.5 -4.3l2.5 4.3zM206.6 449.8l2.5 -4.3l2.5 4.3zM207.7 444.7l2.5 -4.3l2.5 4.3zM208.8 447.8l2.5 -4.3l2.5 4.3zM209.9 441.6l2.5 -4.3l2.5 4.3zM211 442.5l2.5 -4.3l2.5 4.3zM212.1 444l2.5 -4.3l2.5 4.3zM213.2 441.4l2.5 -4.3l2.5 4.3zM214.3 441.4l2.5 -4.3l2.5 4.3zM215.4 441.5l2.5 -4.3l2.5 4.3zM216.5 440.2l2.5 -4.3l2.5 4.3zM217.6 444.6l2.5 -4.3l2.5 4.3zM218.7 443.2l2.5 -4.3l2.5 4.3zM219.8 436.9l2.5 -4.3l2.5 4.3zM220.9 447.6l2.5 -4.3l2.5 4.3zM222 439.1l2.5 -4.3l2.5 4.3zM223.1 438.5l2.5 -4.3l2.5 4.3zM224.2 437.7l2.5 -4.3l2.5 4.3zM225.3 439.5l2.5 -4.3l2.5 4.3zM226.4 438.5l2.5 -4.3l2.5 4.3zM227.5 434.9l2.5 -4.3l2.5 4.3zM228.6 435.4l2.5 -4.3l2.5 4.3zM229.7 431.4l2.5 -4.3l2.5 4.3zM230.8 437.8l2.5 -4.3l2.5 4.3zM231.9 430.6l2.5 -4.3l2.5 4.3zM233 429.4l2.5 -4.3l2.5 4.3zM234.1 428.8l2.5 -4.3l2.5 4.3zM235.2 429.7l2.5 -4.3l2.5 4.3zM236.3 430l2.5 -4.3l2.5 4.3zM237.4 426.5l2.5 -4.3l2.5 4.3zM238.5 426.3l2.5 -4.3l2.5 4.3zM239.6 424.5l2.5 -4.3l2.5 4.3zM240.7 427.3l2.5 -4.3l2.5 4.3zM241.8 424l2.5 -4.3l2.5 4.3zM242.9 418.8l2.5 -4.3l2.5 4.3zM244 425.3l2.5 -4.3l2.5 4.3zM245.1 422.1l2.5 -4.3l2.5 4.3zM246.2 425.1l2.5 -4.3l2.5 4.3zM247.3 418.5l2.5 -4.3l2.5 4.3zM248.4 418.1l2.5 -4.3l2.5 4.3zM249.5 418.2l2.5 -4.3l2.5 4.3zM250.6 414.8l2.5 -4.3l2.5 4.3zM251.7 416.6l2.5 -4.3l2.5 4.3zM252.8 420l2.5 -4.3l2.5 4.3zM253.9 418.4l2.5 -4.3l2.5 4.3zM255 411.1l2.5 -4.3l2.5 4.3zM256.1 419.5l2.5 -4.3l2.5 4.3zM257.2 417.5l2.5 -4.3l2.5 4.3zM258.3 418.6l2.5 -4.3l2.5 4.3zM259.4 416.9l2.5 -4.3l2.5 4.3zM260.5 417.4l2.5 -4.3l2.5 4.3zM261.6 417.3l2.5 -4.3l2.5 4.3zM262.7 417.5l2.5 -4.3l2.5 4.3zM263.8 415.2l2.5 -4.3l2.5 4.3zM264.9 420.2l2.5 -4.3l2.5 4.3zM266 418.5l2.5 -4.3l2.5 4.3zM267.1 419.2l2.5 -4.3l2.5 4.3zM268.2 419.3l2.5 -4.3l2.5 4.3zM269.3 418l2.5 -4.3l2.5 4.3zM270.4 418.8l2.5 -4.3l2.5 4.3zM271.5 416.1l2.5 -4.3l2.5 4.3zM272.6 419.9l2.5 -4.3l2.5 4.3zM273.7 420.1l2.5 -4.3l2.5 4.3zM274.8 419l2.5 -4.3l2.5 4.3zM275.9 415.7l2.5 -4.3l2.5 4.3zM277 422.8l2.5 -4.3l2.5 4.3zM278.1 419.3l2.5 -4.3l2.5 4.3zM279.2 419.6l2.5 -4.3l2.5 4.3zM280.3 418.8l2.5 -4.3l2.5 4.3zM281.4 418l2.5 -4.3l2.5 4.3zM282.5 418.2l2.5 -4.3l2.5 4.3zM283.6 416.4l2.5 -4.3l2.5 4.3zM284.7 417.4l2.5 -4.3l2.5 4.3zM285.8 423.2l2.5 -4.3l2.5 4.3zM286.9 420.8l2.5 -4.3l2.5 4.3zM288 422.4l2.5 -4.3l2.5 4.3zM289.1 416l2.5 -4.3l2.5 4.3zM290.2 412.6l2.5 -4.3l2.5 4.3zM291.3 413.4l2.5 -4.3l2.5 4.3zM292.4 410.1l2.5 -4.3l2.5 4.3zM293.5 418.2l2.5 -4.3l2.5 4.3zM294.6 417.9l2.5 -4.3l2.5 4.3zM295.7 414.4l2.5 -4.3l2.5 4.3zM296.8 413.8l2.5 -4.3l2.5 4.3zM297.9 412.3l2.5 -4.3l2.5 4.3zM299 409.6l2.5 -4.3l2.5 4.3zM300.1 409.8l2.5 -4.3l2.5 4.3zM301.2 404.1l2.5 -4.3l2.5 4.3zM302.3 403.7l2.5 -4.3l2.5 4.3zM303.4 402.8l2.5 -4.3l2.5 4.3zM304.5 394l2.5 -4.3l2.5 4.3zM305.6 398.2l2.5 -4.3l2.5 4.3zM306.7 400.6l2.5 -4.3l2.5 4.3zM307.8 399.4l2.5 -4.3l2.5 4.3zM308.9 391.9l2.5 -4.3l2.5 4.3zM310 398.7l2.5 -4.3l2.5 4.3zM311.1 396.5l2.5 -4.3l2.5 4.3zM312.2 396.7l2.5 -4.3l2.5 4.3zM313.3 394.2l2.5 -4.3l2.5 4.3zM314.4 395.4l2.5 -4.3l2.5 4.3zM315.5 391l2.5 -4.3l2.5 4.3zM316.6 393.9l2.5 -4.3l2.5 4.3zM317.7 392.9l2.5 -4.3l2.5 4.3zM318.8 395.4l2.5 -4.3l2.5 4.3zM319.9 400.9l2.5 -4.3l2.5 4.3zM321 403.6l2.5 -4.3l2.5 4.3zM322.1 401.9l2.5 -4.3l2.5 4.3zM323.2 402.7l2.5 -4.3l2.5 4.3zM324.3 408.5l2.5 -4.3l2.5 4.3zM325.4 411.3l2.5 -4.3l2.5 4.3zM326.5 418.6l2.5 -4.3l2.5 4.3zM327.6 419.5l2.5 -4.3l2.5 4.3zM328.7 416.4l2.5 -4.3l2.5 4.3zM329.8 425.2l2.5 -4.3l2.5 4.3zM330.9 426.7l2.5 -4.3l2.5 4.3zM332 427.9l2.5 -4.3l2.5 4.3zM333.1 432.3l2.5 -4.3l2.5 4.3zM334.2 434.3l2.5 -4.3l2.5 4.3zM335.3 435.5l2.5 -4.3l2.5 4.3zM336.4 441.9l2.5 -4.3l2.5 4.3zM337.5 441.1l2.5 -4.3l2.5 4.3zM338.6 443.9l2.5 -4.3l2.5 4.3zM339.7 443.8l2.5 -4.3l2.5 4.3zM340.8 447.5l2.5 -4.3l2.5 4.3zM341.9 443l2.5 -4.3l2.5 4.3zM343 448.9l2.5 -4.3l2.5 4.3zM344.1 445.7l2.5 -4.3l2.5 4.3zM345.2 449.6l2.5 -4.3l2.5 4.3zM346.3 449.3l2.5 -4.3l2.5 4.3zM347.4 446.8l2.5 -4.3l2.5 4.3zM348.5 444.2l2.5 -4.3l2.5 4.3zM349.6 445.3l2.5 -4.3l2.5 4.3zM350.7 444.8l2.5 -4.3l2.5 4.3zM351.8 440l2.5 -4.3l2.5 4.3zM352.9 441.8l2.5 -4.3l2.5 4.3zM354 440.1l2.5 -4.3l2.5 4.3zM355.1 444l2.5 -4.3l2.5 4.3zM356.2 447.9l2.5 -4.3l2.5 4.3zM357.3 435.8l2.5 -4.3l2.5 4.3zM358.4 437l2.5 -4.3l2.5 4.3zM359.5 434.2l2.5 -4.3l2.5 4.3zM360.6 436.7l2.5 -4.3l2.5 4.3zM361.7 436.7l2.5 -4.3l2.5 4.3zM362.8 437.5l2.5 -4.3l2.5 4.3zM363.9 428.8l2.5 -4.3l2.5 4.3zM365 432.2l2.5 -4.3l2.5 4.3zM366.1 428l2.5 -4.3l2.5 4.3zM367.2 424.8l2.5 -4.3l2.5 4.3zM368.3 423.9l2.5 -4.3l2.5 4.3zM369.4 421.1l2.5 -4.3l2.5 4.3zM370.5 422.1l2.5 -4.3l2.5 4.3zM371.6 419.4l2.5 -4.3l2.5 4.3zM372.7 420.6l2.5 -4.3l2.5 4.3zM373.8 415.2l2.5 -4.3l2.5 4.3zM374.9 410.8l2.5 -4.3l2.5 4.3zM376 411.5l2.5 -4.3l2.5 4.3zM377.1 413.3l2.5 -4.3l2.5 4.3zM378.2 407.8l2.5 -4.3l2.5 4.3zM379.3 408.2l2.5 -4.3l2.5 4.3zM380.4 409.9l2.5 -4.3l2.5 4.3zM381.5 404.2l2.5 -4.3l2.5 4.3zM382.6 408.1l2.5 -4.3l2.5 4.3zM383.7 405.8l2.5 -4.3l2.5 4.3zM384.8 402.6l2.5 -4.3l2.5 4.3zM385.9 402.8l2.5 -4.3l2.5 4.3zM387 400.7l2.5 -4.3l2.5 4.3zM388.1 400.1l2.5 -4.3l2.5 4.3zM389.2 399.4l2.5 -4.3l2.5 4.3zM390.3 399.5l2.5 -4.3l2.5 4.3zM391.4 398.6l2.5 -4.3l2.5 4.3zM392.5 396.6l2.5 -4.3l2.5 4.3zM393.6 395.5l2.5 -4.3l2.5 4.3zM394.7 402.1l2.5 -4.3l2.5 4.3zM395.8 394.4l2.5 -4.3l2.5 4.3zM396.9 396.3l2.5 -4.3l2.5 4.3zM398 401.8l2.5 -4.3l2.5 4.3zM399.1 398.2l2.5 -4.3l2.5 4.3zM400.2 393.8l2.5 -4.3l2.5 4.3zM401.3 399.7l2.5 -4.3l2.5 4.3zM402.4 398.7l2.5 -4.3l2.5 4.3zM403.5 393.4l2.5 -4.3l2.5 4.3zM404.6 390.9l2.5 -4.3l2.5 4.3zM405.7 394.7l2.5 -4.3l2.5 4.3zM406.8 392.4l2.5 -4.3l2.5 4.3zM407.9 391.7l2.5 -4.3l2.5 4.3zM409 390l2.5 -4.3l2.5 4.3zM410.1 389.9l2.5 -4.3l2.5 4.3zM411.2 391.5l2.5 -4.3l2.5 4.3zM412.3 392.2l2.5 -4.3l2.5 4.3zM413.4 384.7l2.5 -4.3l2.5 4.3zM414.5 383.3l2.5 -4.3l2.5 4.3zM415.6 390.1l2.5 -4.3l2.5 4.3zM416.7 385l2.5 -4.3l2.5 4.3zM417.8 387.5l2.5 -4.3l2.5 4.3zM418.9 384.9l2.5 -4.3l2.5 4.3zM420 386.2l2.5 -4.3l2.5 4.3zM421.1 384l2.5 -4.3l2.5 4.3zM422.2 379.7l2.5 -4.3l2.5 4.3zM423.3 378.3l2.5 -4.3l2.5 4.3zM424.4 377.7l2.5 -4.3l2.5 4.3zM425.5 376.9l2.5 -4.3l2.5 4.3zM426.6 371.9l2.5 -4.3l2.5 4.3zM427.7 367.9l2.5 -4.3l2.5 4.3zM428.8 369.5l2.5 -4.3l2.5 4.3zM429.9 366.6l2.5 -4.3l2.5 4.3zM431 363.5l2.5 -4.3l2.5 4.3zM432.1 358.4l2.5 -4.3l2.5 4.3zM433.2 360.3l2.5 -4.3l2.5 4.3zM434.3 350.3l2.5 -4.3l2.5 4.3zM435.4 350l2.5 -4.3l2.5 4.3zM436.5 351.1l2.5 -4.3l2.5 4.3zM437.6 342.9l2.5 -4.3l2.5 4.3zM438.7 344.1l2.5 -4.3l2.5 4.3zM439.8 342.1l2.5 -4.3l2.5 4.3zM440.9 339.9l2.5 -4.3l2.5 4.3zM442 332.9l2.5 -4.3l2.5 4.3zM443.1 337l2.5 -4.3l2.5 4.3zM444.2 333.2l2.5 -4.3l2.5 4.3zM445.3 332.4l2.5 -4.3l2.5 4.3zM446.4 330.8l2.5 -4.3l2.5 4.3zM447.5 329.5l2.5 -4.3l2.5 4.3zM448.6 332l2.5 -4.3l2.5 4.3zM449.7 333.2l2.5 -4.3l2.5 4.3zM450.8 327.2l2.5 -4.3l2.5 4.3zM451.9 332l2.5 -4.3l2.5 4.3zM453 336.2l2.5 -4.3l2.5 4.3zM454.1 334.9l2.5 -4.3l2.5 4.3zM455.2 349.1l2.5 -4.3l2.5 4.3zM456.3 351.6l2.5 -4.3l2.5 4.3zM457.4 362.1l2.5 -4.3l2.5 4.3zM458.5 369.1l2.5 -4.3l2.5 4.3zM459.6 375.9l2.5 -4.3l2.5 4.3zM460.7 382.9l2.5 -4.3l2.5 4.3zM461.8 392.4l2.5 -4.3l2.5 4.3zM462.9 401.3l2.5 -4.3l2.5 4.3zM464 411.1l2.5 -4.3l2.5 4.3zM465.1 421.4l2.5 -4.3l2.5 4.3zM466.2 438.1l2.5 -4.3l2.5 4.3zM467.3 447.3l2.5 -4.3l2.5 4.3zM468.4 456.6l2.5 -4.3l2.5 4.3zM469.5 458.6l2.5 -4.3l2.5 4.3zM470.6 459.2l2.5 -4.3l2.5 4.3zM471.7 459.3l2.5 -4.3l2.5 4.3zM472.8 462.5l2.5 -4.3l2.5 4.3zM473.9 462.5l2.5 -4.3l2.5 4.3zM475 464.6l2.5 -4.3l2.5 4.3zM476.1 469.5l2.5 -4.3l2.5 4.3zM477.2 468.8l2.5 -4.3l2.5 4.3zM478.3 468.4l2.5 -4.3l2.5 4.3zM479.4 469.4l2.5 -4.3l2.5 4.3zM480.5 473l2.5 -4.3l2.5 4.3zM481.6 466.9l2.5 -4.3l2.5 4.3zM482.7 471l2.5 -4.3l2.5 4.3zM483.8 470l2.5 -4.3l2.5 4.3zM484.9 471.2l2.5 -4.3l2.5 4.3zM486 471.4l2.5 -4.3l2.5 4.3zM487.1 470.9l2.5 -4.3l2.5 4.3zM488.2 473.3l2.5 -4.3l2.5 4.3zM489.3 467.5l2.5 -4.3l2.5 4.3zM490.4 473.5l2.5 -4.3l2.5 4.3zM491.5 476.4l2.5 -4.3l2.5 4.3zM492.6 471.4l2.5 -4.3l2.5 4.3zM493.7 471.7l2.5 -4.3l2.5 4.3zM494.8 478.6l2.5 -4.3l2.5 4.3zM495.9 472.4l2.5 -4.3l2.5 4.3zM497 473.9l2.5 -4.3l2.5 4.3zM498.1 473.3l2.5 -4.3l2.5 4.3zM499.2 473.9l2.5 -4.3l2.5 4.3zM500.3 474l2.5 -4.3l2.5 4.3zM501.4 471l2.5 -4.3l2.5 4.3zM502.5 481.5l2.5 -4.3l2.5 4.3zM503.6 474.7l2.5 -4.3l2.5 4.3zM504.7 477.5l2.5 -4.3l2.5 4.3zM505.8 476.8l2.5 -4.3l2.5 4.3zM506.9 480.3l2.5 -4.3l2.5 4.3zM508 479.2l2.5 -4.3l2.5 4.3zM509.1 480.6l2.5 -4.3l2.5 4.3zM510.2 481l2.5 -4.3l2.5 4.3zM511.3 480.7l2.5 -4.3l2.5 4.3zM512.4 479.3l2.5 -4.3l2.5 4.3zM513.5 481.7l2.5 -4.3l2.5 4.3zM514.6 476.4l2.5 -4.3l2.5 4.3zM515.7 482.5l2.5 -4.3l2.5 4.3zM516.8 482.6l2.5 -4.3l2.5 4.3zM517.9 482.1l2.5 -4.3l2.5 4.3zM519 478.9l2.5 -4.3l2.5 4.3zM520.1 485.5l2.5 -4.3l2.5 4.3zM521.2 479.9l2.5 -4.3l2.5 4.3zM522.3 484.9l2.5 -4.3l2.5 4.3zM523.4 479.7l2.5 -4.3l2.5 4.3zM524.5 484.1l2.5 -4.3l2.5 4.3zM525.6 483.6l2.5 -4.3l2.5 4.3zM526.7 483.8l2.5 -4.3l2.5 4.3zM527.8 484.7l2.5 -4.3l2.5 4.3zM528.9 490.8l2.5 -4.3l2.5 4.3zM530 487.3l2.5 -4.3l2.5 4.3zM531.1 488.7l2.5 -4.3l2.5 4.3zM532.2 493.5l2.5 -4.3l2.5 4.3zM533.3 485.9l2.5 -4.3l2.5 4.3zM534.4 493.3l2.5 -4.3l2.5 4.3zM535.5 489.6l2.5 -4.3l2.5 4.3zM536.6 489.7l2.5 -4.3l2.5 4.3zM537.7 490.8l2.5 -4.3l2.5 4.3zM538.8 488.3l2.5 -4.3l2.5 4.3zM539.9 489.6l2.5 -4.3l2.5 4.3zM541 491.2l2.5 -4.3l2.5 4.3zM542.1 493.2l2.5 -4.3l2.5 4.3z" fill="#ff00ff"/><path d="M157.6 375.8h0M158.7 376.4h0M159.8 373.8h0M160.9 376.5h0M162 377.7h0M163.1 371.3h0M164.2 374.1h0M165.3 375.2h0M166.4 375.5h0M167.5 380.3h0M168.6 378.8h0M169.7 375.5h0M170.8 375.7h0M171.9 372.5h0M173 373.7h0M174.1 379.8h0M175.2 372h0M176.3 378.2h0M177.4 374.8h0M178.5 375.9h0M179.6 376.5h0M180.7 381.5h0M181.8 377.7h0M182.9 378.2h0M184 379.5h0M185.1 371.1h0M186.2 381.8h0M187.3 372.6h0M188.4 375h0M189.5 378.7h0M190.6 373.7h0M191.7 372.3h0M192.8 379.8h0M193.9 375.9h0M195 379.1h0M196.1 377.8h0M197.2 375.9h0M198.3 380.7h0M199.4 375.5h0M200.5 381.3h0M201.6 373.6h0M202.7 373.2h0M203.8 373.9h0M204.9 376.1h0M206 372.4h0M207.1 373.4h0M208.2 378.8h0M209.3 375.8h0M210.4 377.6h0M211.5 375.2h0M212.6 372.3h0M213.7 371.4h0M214.8 373.4h0M215.9 372.6h0M217 370.5h0M218.1 369.8h0M219.2 374.4h0M220.3 372.8h0M221.4 370.3h0M222.5 368h0M223.6 367.3h0M224.7 373h0M225.8 365.8h0M226.9 372.9h0M228 364.8h0M229.1 362.3h0M230.2 371h0M231.3 365.1h0M232.4 369h0M233.5 365.7h0M234.6 363.4h0M235.7 365.9h0M236.8 361.8h0M237.9 362.3h0M239 359.1h0M240.1 353h0M241.2 356.5h0M242.3 352.1h0M243.4 351.2h0M244.5 351h0M245.6 345h0M246.7 349.1h0M247.8 348.2h0M248.9 350.8h0M250 349.3h0M251.1 345.2h0M252.2 342.2h0M253.3 343.6h0M254.4 340.1h0M255.5 345h0M256.6 343.8h0M257.7 343.9h0M258.8 345.5h0M259.9 347.3h0M261 347.5h0M262.1 344.5h0M263.2 351.7h0M264.3 349.1h0M265.4 350.5h0M266.5 350.4h0M267.6 348.8h0M268.7 352.9h0M269.8 352.1h0M270.9 351.9h0M272 355.3h0M273.1 357.8h0M274.2 358.1h0M275.3 357.5h0M276.4 355.7h0M277.5 356.5h0M278.6 356.9h0M279.7 353.4h0M280.8 358.9h0M281.9 356.8h0M283 352.9h0M284.1 359.6h0M285.2 365.2h0M286.3 351.4h0M287.4 353.7h0M288.5 351.4h0M289.6 354.9h0M290.7 348.7h0M291.8 352.7h0M292.9 351.7h0M294 352.8h0M295.1 344.2h0M296.2 345.9h0M297.3 345.8h0M298.4 347h0M299.5 342.8h0M300.6 342.4h0M301.7 339.6h0M302.8 334.1h0M303.9 334.4h0M305 332.1h0M306.1 331.3h0M307.2 328.9h0M308.3 332.4h0M309.4 330.5h0M310.5 324.2h0M311.6 330.5h0M312.7 326.8h0M313.8 324.2h0M314.9 331.1h0M316 328.1h0M317.1 329.3h0M318.2 328.4h0M319.3 329h0M320.4 325h0M321.5 332.2h0M322.6 329h0M323.7 331.7h0M324.8 332.3h0M325.9 332.7h0M327 335.1h0M328.1 341.5h0M329.2 348.8h0M330.3 347.5h0M331.4 351.9h0M332.5 358.5h0M333.6 361.8h0M334.7 371.4h0M335.8 373.4h0M336.9 382h0M338 378.1h0M339.1 384.9h0M340.2 379.3h0M341.3 382.9h0M342.4 381h0M343.5 383h0M344.6 385.5h0M345.7 389h0M346.8 391.9h0M347.9 388.5h0M349 386.1h0M350.1 390.4h0M351.2 390.3h0M352.3 389.7h0M353.4 393.2h0M354.5 393.6h0M355.6 388.2h0M356.7 387.3h0M357.8 381.4h0M358.9 385.2h0M360 387.7h0M361.1 381.7h0M362.2 384.9h0M363.3 382.9h0M364.4 381.4h0M365.5 380.1h0M366.6 377.1h0M367.7 378.8h0M368.8 377.7h0M369.9 374.7h0M371 372.5h0M372.1 374.8h0M373.2 374.1h0M374.3 367.3h0M375.4 369.8h0M376.5 366.4h0M377.6 370.8h0M378.7 362.4h0M379.8 359.9h0M380.9 357h0M382 359.4h0M383.1 351.8h0M384.2 353.8h0M385.3 348.4h0M386.4 351h0M387.5 349.8h0M388.6 347.4h0M389.7 338.6h0M390.8 339.3h0M391.9 335.6h0M393 349h0M394.1 340.3h0M395.2 340.4h0M396.3 341.3h0M397.4 342.5h0M398.5 339.8h0M399.6 340.6h0M400.7 340.2h0M401.8 336.6h0M402.9 344.5h0M404 344h0M405.1 339.4h0M406.2 338.8h0M407.3 343.9h0M408.4 345.2h0M409.5 338.9h0M410.6 340.2h0M411.7 337.4h0M412.8 339.2h0M413.9 331.6h0M415 332.2h0M416.1 338.9h0M417.2 337h0M418.3 338h0M419.4 336h0M420.5 335.7h0M421.6 332.8h0M422.7 329.3h0M423.8 328.4h0M424.9 323.1h0M426 326.2h0M427.1 317.6h0M428.2 316.7h0M429.3 317.4h0M430.4 311.4h0M431.5 312h0M432.6 310.4h0M433.7 305.7h0M434.8 299.4h0M435.9 302.1h0M437 294.6h0M438.1 287h0M439.2 296.3h0M440.3 282.2h0M441.4 279.7h0M442.5 277.2h0M443.6 269.7h0M444.7 271.8h0M445.8 263.4h0M446.9 261.5h0M448 260.8h0M449.1 265.8h0M450.2 260.6h0M451.3 262h0M452.4 259.1h0M453.5 264.2h0M454.6 260.8h0M455.7 269.8h0M456.8 276.2h0M457.9 278.7h0M459 282.4h0M460.1 288.2h0M461.2 307.7h0M462.3 319.4h0M463.4 325.9h0M464.5 342.1h0M465.6 344.5h0M466.7 360.4h0M467.8 367.4h0M468.9 382.3h0M470 389.7h0M471.1 405.8h0M472.2 411.8h0M473.3 416h0M474.4 421.6h0M475.5 424.8h0M476.6 428.3h0M477.7 425.1h0M478.8 428.6h0M479.9 432.3h0M481 433h0M482.1 435.3h0M483.2 437.1h0M484.3 430.6h0M485.4 435.9h0M486.5 437.3h0M487.6 437.4h0M488.7 435h0M489.8 440.2h0M490.9 443.2h0M492 438.7h0M493.1 437.5h0M494.2 442h0M495.3 440.4h0M496.4 441h0M497.5 441.7h0M498.6 440.3h0M499.7 441.8h0M500.8 440.3h0M501.9 437.5h0M503 445.7h0M504.1 444.1h0M505.2 443.5h0M506.3 447.5h0M507.4 443.9h0M508.5 447.5h0M509.6 447h0M510.7 444.4h0M511.8 442.2h0M512.9 447h0M514 446.6h0M515.1 449h0M516.2 442.6h0M517.3 446.6h0M518.4 447.9h0M519.5 448.6h0M520.6 448.3h0M521.7 449.2h0M522.8 442.8h0M523.9 448.5h0M525 448h0M526.1 446.2h0M527.2 451.1h0M528.3 450.4h0M529.4 448.9h0M530.5 448.9h0M531.6 454.1h0M532.7 447.2h0M533.8 454.3h0M534.9 452.3h0M536 456.3h0M537.1 461.7h0M538.2 460.1h0M539.3 458.1h0M540.4 463h0M541.5 464.7h0M542.6 463.2h0M543.7 466.3h0M544.8 462.9h0" stroke="#0000ff" stroke-width="3.9" stroke-linecap="round" fill="none"/><path d="M155.9 302.5h3.4v3.4h-3.4zM157 303.5h3.4v3.4h-3.4zM158.1 302.4h3.4v3.4h-3.4zM159.2 302.7h3.4v3.4h-3.4zM160.3 300.8h3.4v3.4h-3.4zM161.4 297.9h3.4v3.4h-3.4zM162.5 303.5h3.4v3.4h-3.4zM163.6 301.9h3.4v3.4h-3.4zM164.7 305.8h3.4v3.4h-3.4zM165.8 298.8h3.4v3.4h-3.4zM166.9 302.3h3.4v3.4h-3.4zM168 307.5h3.4v3.4h-3.4zM169.1 294.7h3.4v3.4h-3.4zM170.2 298.9h3.4v3.4h-3.4zM171.3 302.6h3.4v3.4h-3.4zM172.4 306.4h3.4v3.4h-3.4zM173.5 299h3.4v3.4h-3.4zM174.6 302.2h3.4v3.4h-3.4zM175.7 301.6h3.4v3.4h-3.4zM176.8 300.7h3.4v3.4h-3.4zM177.9 301.5h3.4v3.4h-3.4zM179 305.4h3.4v3.4h-3.4zM180.1 302.6h3.4v3.4h-3.4zM181.2 298.9h3.4v3.4h-3.4zM182.3 300.8h3.4v3.4h-3.4zM183.4 302.7h3.4v3.4h-3.4zM184.5 298.8h3.4v3.4h-3.4zM185.6 300.7h3.4v3.4h-3.4zM186.7 301.5h3.4v3.4h-3.4zM187.8 297.2h3.4v3.4h-3.4zM188.9 307.5h3.4v3.4h-3.4zM190 298.6h3.4v3.4h-3.4zM191.1 303h3.4v3.4h-3.4zM192.2 302.5h3.4v3.4h-3.4zM193.3 299.6h3.4v3.4h-3.4zM194.4 309.1h3.4v3.4h-3.4zM195.5 303.4h3.4v3.4h-3.4zM196.6 301.2h3.4v3.4h-3.4zM197.7 306.6h3.4v3.4h-3.4zM198.8 305.1h3.4v3.4h-3.4zM199.9 301.1h3.4v3.4h-3.4zM201 299.9h3.4v3.4h-3.4zM202.1 306.3h3.4v3.4h-3.4zM203.2 303.7h3.4v3.4h-3.4zM204.3 300.4h3.4v3.4h-3.4zM205.4 305.7h3.4v3.4h-3.4zM206.5 300.6h3.4v3.4h-3.4zM207.6 302.6h3.4v3.4h-3.4zM208.7 302.3h3.4v3.4h-3.4zM209.8 299.3h3.4v3.4h-3.4zM210.9 306.3h3.4v3.4h-3.4zM212 313.4h3.4v3.4h-3.4zM213.1 305.5h3.4v3.4h-3.4zM214.2 304.3h3.4v3.4h-3.4zM215.3 301.8h3.4v3.4h-3.4zM216.4 301.4h3.4v3.4h-3.4zM217.5 301.4h3.4v3.4h-3.4zM218.6 301.3h3.4v3.4h-3.4zM219.7 297.4h3.4v3.4h-3.4zM220.8 297.9h3.4v3.4h-3.4zM221.9 296.5h3.4v3.4h-3.4zM223 297.8h3.4v3.4h-3.4zM224.1 298.2h3.4v3.4h-3.4zM225.2 298h3.4v3.4h-3.4zM226.3 293.3h3.4v3.4h-3.4zM227.4 292.6h3.4v3.4h-3.4zM228.5 295.1h3.4v3.4h-3.4zM229.6 292.1h3.4v3.4h-3.4zM230.7 291.6h3.4v3.4h-3.4zM231.8 292.7h3.4v3.4h-3.4zM232.9 291.9h3.4v3.4h-3.4zM234 293.8h3.4v3.4h-3.4zM235.1 286.5h3.4v3.4h-3.4zM236.2 291.9h3.4v3.4h-3.4zM237.3 287h3.4v3.4h-3.4zM238.4 290.8h3.4v3.4h-3.4zM239.5 283.1h3.4v3.4h-3.4zM240.6 285.1h3.4v3.4h-3.4zM241.7 282.8h3.4v3.4h-3.4zM242.8 288h3.4v3.4h-3.4zM243.9 279.9h3.4v3.4h-3.4zM245 284.3h3.4v3.4h-3.4zM246.1 278.2h3.4v3.4h-3.4zM247.2 276.5h3.4v3.4h-3.4zM248.3 279.4h3.4v3.4h-3.4zM249.4 283.3h3.4v3.4h-3.4zM250.5 277.1h3.4v3.4h-3.4zM251.6 278.4h3.4v3.4h-3.4zM252.7 277.1h3.4v3.4h-3.4zM253.8 276.3h3.4v3.4h-3.4zM254.9 280.1h3.4v3.4h-3.4zM256 276.8h3.4v3.4h-3.4zM257.1 279.5h3.4v3.4h-3.4zM258.2 274.8h3.4v3.4h-3.4zM259.3 277.9h3.4v3.4h-3.4zM260.4 281.6h3.4v3.4h-3.4zM261.5 278.6h3.4v3.4h-3.4zM262.6 275h3.4v3.4h-3.4zM263.7 283.2h3.4v3.4h-3.4zM264.8 283.4h3.4v3.4h-3.4zM265.9 281.7h3.4v3.4h-3.4zM267 283.4h3.4v3.4h-3.4zM268.1 282.9h3.4v3.4h-3.4zM269.2 285.5h3.4v3.4h-3.4zM270.3 288.1h3.4v3.4h-3.4zM271.4 286.8h3.4v3.4h-3.4zM272.5 286.5h3.4v3.4h-3.4zM273.6 286.1h3.4v3.4h-3.4zM274.7 287.5h3.4v3.4h-3.4zM275.8 287.2h3.4v3.4h-3.4zM276.9 291.4h3.4v3.4h-3.4zM278 286.4h3.4v3.4h-3.4zM279.1 287.7h3.4v3.4h-3.4zM280.2 290.1h3.4v3.4h-3.4zM281.3 289.9h3.4v3.4h-3.4zM282.4 289.5h3.4v3.4h-3.4zM283.5 287.4h3.4v3.4h-3.4zM284.6 288.7h3.4v3.4h-3.4zM285.7 284h3.4v3.4h-3.4zM286.8 283.3h3.4v3.4h-3.4zM287.9 283.4h3.4v3.4h-3.4zM289 287.1h3.4v3.4h-3.4zM290.1 289h3.4v3.4h-3.4zM291.2 283.7h3.4v3.4h-3.4zM292.3 282.6h3.4v3.4h-3.4zM293.4 282.6h3.4v3.4h-3.4zM294.5 287.4h3.4v3.4h-3.4zM295.6 282.4h3.4v3.4h-3.4zM296.7 281h3.4v3.4h-3.4zM297.8 278h3.4v3.4h-3.4zM298.9 279.3h3.4v3.4h-3.4zM300 279.8h3.4v3.4h-3.4zM301.1 275.3h3.4v3.4h-3.4zM302.2 271.2h3.4v3.4h-3.4zM303.3 275.2h3.4v3.4h-3.4zM304.4 269.9h3.4v3.4h-3.4zM305.5 272.6h3.4v3.4h-3.4zM306.6 263.2h3.4v3.4h-3.4zM307.7 263.6h3.4v3.4h-3.4zM308.8 262.8h3.4v3.4h-3.4zM309.9 256.1h3.4v3.4h-3.4zM311 259.8h3.4v3.4h-3.4zM312.1 260.5h3.4v3.4h-3.4zM313.2 258.6h3.4v3.4h-3.4zM314.3 260.4h3.4v3.4h-3.4zM315.4 260.3h3.4v3.4h-3.4zM316.5 258.5h3.4v3.4h-3.4zM317.6 263.6h3.4v3.4h-3.4zM318.7 260.9h3.4v3.4h-3.4zM319.8 263.5h3.4v3.4h-3.4zM320.9 263.8h3.4v3.4h-3.4zM322 269h3.4v3.4h-3.4zM323.1 268.2h3.4v3.4h-3.4zM324.2 270.3h3.4v3.4h-3.4zM325.3 271.2h3.4v3.4h-3.4zM326.4 280.4h3.4v3.4h-3.4zM327.5 287.9h3.4v3.4h-3.4zM328.6 283.4h3.4v3.4h-3.4zM329.7 293.1h3.4v3.4h-3.4zM330.8 295.4h3.4v3.4h-3.4zM331.9 294.3h3.4v3.4h-3.4zM333 299.8h3.4v3.4h-3.4zM334.1 307.2h3.4v3.4h-3.4zM335.2 307.3h3.4v3.4h-3.4zM336.3 310.6h3.4v3.4h-3.4zM337.4 314.8h3.4v3.4h-3.4zM338.5 313.4h3.4v3.4h-3.4zM339.6 318.7h3.4v3.4h-3.4zM340.7 315.5h3.4v3.4h-3.4zM341.8 318.6h3.4v3.4h-3.4zM342.9 326.6h3.4v3.4h-3.4zM344 328.2h3.4v3.4h-3.4zM345.1 328.8h3.4v3.4h-3.4zM346.2 323.9h3.4v3.4h-3.4zM347.3 328.3h3.4v3.4h-3.4zM348.4 327.4h3.4v3.4h-3.4zM349.5 335.1h3.4v3.4h-3.4zM350.6 326.6h3.4v3.4h-3.4zM351.7 326.4h3.4v3.4h-3.4zM352.8 327.4h3.4v3.4h-3.4zM353.9 328.8h3.4v3.4h-3.4zM355 325.2h3.4v3.4h-3.4zM356.1 324.5h3.4v3.4h-3.4zM357.2 324.6h3.4v3.4h-3.4zM358.3 322.4h3.4v3.4h-3.4zM359.4 316.1h3.4v3.4h-3.4zM360.5 316.4h3.4v3.4h-3.4zM361.6 322.6h3.4v3.4h-3.4zM362.7 317.1h3.4v3.4h-3.4zM363.8 320.2h3.4v3.4h-3.4zM364.9 317.8h3.4v3.4h-3.4zM366 315.3h3.4v3.4h-3.4zM367.1 311.1h3.4v3.4h-3.4zM368.2 313.4h3.4v3.4h-3.4zM369.3 306.7h3.4v3.4h-3.4zM370.4 312.1h3.4v3.4h-3.4zM371.5 306.4h3.4v3.4h-3.4zM372.6 305h3.4v3.4h-3.4zM373.7 301.1h3.4v3.4h-3.4zM374.8 299.3h3.4v3.4h-3.4zM375.9 298.8h3.4v3.4h-3.4zM377 296.7h3.4v3.4h-3.4zM378.1 294.5h3.4v3.4h-3.4zM379.2 292.6h3.4v3.4h-3.4zM380.3 295.4h3.4v3.4h-3.4zM381.4 295.9h3.4v3.4h-3.4zM382.5 296.7h3.4v3.4h-3.4zM383.6 292.4h3.4v3.4h-3.4zM384.7 289h3.4v3.4h-3.4zM385.8 289.6h3.4v3.4h-3.4zM386.9 291.2h3.4v3.4h-3.4zM388 285.9h3.4v3.4h-3.4zM389.1 286.9h3.4v3.4h-3.4zM390.2 284.1h3.4v3.4h-3.4zM391.3 282.4h3.4v3.4h-3.4zM392.4 279.6h3.4v3.4h-3.4zM393.5 282h3.4v3.4h-3.4zM394.6 277.3h3.4v3.4h-3.4zM395.7 276.4h3.4v3.4h-3.4zM396.8 279.5h3.4v3.4h-3.4zM397.9 280.9h3.4v3.4h-3.4zM399 280.6h3.4v3.4h-3.4zM400.1 280.3h3.4v3.4h-3.4zM401.2 277.2h3.4v3.4h-3.4zM402.3 277.5h3.4v3.4h-3.4zM403.4 280.7h3.4v3.4h-3.4zM404.5 283h3.4v3.4h-3.4zM405.6 270.7h3.4v3.4h-3.4zM406.7 280.6h3.4v3.4h-3.4zM407.8 277.9h3.4v3.4h-3.4zM408.9 277.1h3.4v3.4h-3.4zM410 275.1h3.4v3.4h-3.4zM411.1 275.1h3.4v3.4h-3.4zM412.2 270.4h3.4v3.4h-3.4zM413.3 276.1h3.4v3.4h-3.4zM414.4 271.7h3.4v3.4h-3.4zM415.5 272.1h3.4v3.4h-3.4zM416.6 266.9h3.4v3.4h-3.4zM417.7 271.9h3.4v3.4h-3.4zM418.8 268.6h3.4v3.4h-3.4zM419.9 262h3.4v3.4h-3.4zM421 264.4h3.4v3.4h-3.4zM422.1 260.3h3.4v3.4h-3.4zM423.2 257.1h3.4v3.4h-3.4zM424.3 257.4h3.4v3.4h-3.4zM425.4 257.2h3.4v3.4h-3.4zM426.5 256.7h3.4v3.4h-3.4zM427.6 251.2h3.4v3.4h-3.4zM428.7 251.2h3.4v3.4h-3.4zM429.8 247.4h3.4v3.4h-3.4zM430.9 244.9h3.4v3.4h-3.4zM432 243h3.4v3.4h-3.4zM433.1 234h3.4v3.4h-3.4zM434.2 233.3h3.4v3.4h-3.4zM435.3 234.9h3.4v3.4h-3.4zM436.4 224.4h3.4v3.4h-3.4zM437.5 222.5h3.4v3.4h-3.4zM438.6 226.6h3.4v3.4h-3.4zM439.7 213.9h3.4v3.4h-3.4zM440.8 217h3.4v3.4h-3.4zM441.9 213.7h3.4v3.4h-3.4zM443 209.2h3.4v3.4h-3.4zM444.1 209.4h3.4v3.4h-3.4zM445.2 206.5h3.4v3.4h-3.4zM446.3 200.1h3.4v3.4h-3.4zM447.4 204.7h3.4v3.4h-3.4zM448.5 197.1h3.4v3.4h-3.4zM449.6 197.9h3.4v3.4h-3.4zM450.7 199.8h3.4v3.4h-3.4zM451.8 202.8h3.4v3.4h-3.4zM452.9 202.4h3.4v3.4h-3.4zM454 209.3h3.4v3.4h-3.4zM455.1 207.2h3.4v3.4h-3.4zM456.2 218.5h3.4v3.4h-3.4zM457.3 226h3.4v3.4h-3.4zM458.4 235.1h3.4v3.4h-3.4zM459.5 246.1h3.4v3.4h-3.4zM460.6 257h3.4v3.4h-3.4zM461.7 263h3.4v3.4h-3.4zM462.8 278h3.4v3.4h-3.4zM463.9 285.4h3.4v3.4h-3.4zM465 299.9h3.4v3.4h-3.4zM466.1 315.3h3.4v3.4h-3.4zM467.2 320.5h3.4v3.4h-3.4zM468.3 333h3.4v3.4h-3.4zM469.4 342.8h3.4v3.4h-3.4zM470.5 351.7h3.4v3.4h-3.4zM471.6 354.5h3.4v3.4h-3.4zM472.7 356.3h3.4v3.4h-3.4zM473.8 356.8h3.4v3.4h-3.4zM474.9 362.1h3.4v3.4h-3.4zM476 355.8h3.4v3.4h-3.4zM477.1 365.8h3.4v3.4h-3.4zM478.2 364.2h3.4v3.4h-3.4zM479.3 369h3.4v3.4h-3.4zM480.4 368.4h3.4v3.4h-3.4zM481.5 373.1h3.4v3.4h-3.4zM482.6 369.1h3.4v3.4h-3.4zM483.7 366.6h3.4v3.4h-3.4zM484.8 372.6h3.4v3.4h-3.4zM485.9 372.1h3.4v3.4h-3.4zM487 373.8h3.4v3.4h-3.4zM488.1 377.7h3.4v3.4h-3.4zM489.2 373h3.4v3.4h-3.4zM490.3 377.6h3.4v3.4h-3.4zM491.4 378.6h3.4v3.4h-3.4zM492.5 379.6h3.4v3.4h-3.4zM493.6 372.2h3.4v3.4h-3.4zM494.7 378.1h3.4v3.4h-3.4zM495.8 376.3h3.4v3.4h-3.4zM496.9 377.9h3.4v3.4h-3.4zM498 374.5h3.4v3.4h-3.4zM499.1 378.3h3.4v3.4h-3.4zM500.2 381.9h3.4v3.4h-3.4zM501.3 384.2h3.4v3.4h-3.4zM502.4 381.9h3.4v3.4h-3.4zM503.5 377.3h3.4v3.4h-3.4zM504.6 384h3.4v3.4h-3.4zM505.7 374.7h3.4v3.4h-3.4zM506.8 380.5h3.4v3.4h-3.4zM507.9 384.7h3.4v3.4h-3.4zM509 380.7h3.4v3.4h-3.4zM510.1 384.4h3.4v3.4h-3.4zM511.2 382.3h3.4v3.4h-3.4zM512.3 380.4h3.4v3.4h-3.4zM513.4 384.2h3.4v3.4h-3.4zM514.5 382.7h3.4v3.4h-3.4zM515.6 389h3.4v3.4h-3.4zM516.7 389.6h3.4v3.4h-3.4zM517.8 389.3h3.4v3.4h-3.4zM518.9 383.1h3.4v3.4h-3.4zM520 391h3.4v3.4h-3.4zM521.1 387.5h3.4v3.4h-3.4zM522.2 388.5h3.4v3.4h-3.4zM523.3 388.3h3.4v3.4h-3.4zM524.4 387h3.4v3.4h-3.4zM525.5 389.3h3.4v3.4h-3.4zM526.6 391.9h3.4v3.4h-3.4zM527.7 394.3h3.4v3.4h-3.4zM528.8 392.5h3.4v3.4h-3.4zM529.9 391.8h3.4v3.4h-3.4zM531 391.2h3.4v3.4h-3.4zM532.1 391.5h3.4v3.4h-3.4zM533.2 398.2h3.4v3.4h-3.4zM534.3 396.6h3.4v3.4h-3.4zM535.4 396.3h3.4v3.4h-3.4zM536.5 392.3h3.4v3.4h-3.4zM537.6 388.3h3.4v3.4h-3.4zM538.7 400.1h3.4v3.4h-3.4zM539.8 400.9h3.4v3.4h-3.4zM540.9 403.1h3.4v3.4h-3.4zM542 401.8h3.4v3.4h-3.4zM543.1 400.6h3.4v3.4h-3.4z" fill="#ff0000"/><path d="M588.9 530.7l2.6 -2.6l2.6 2.6l-2.6 2.6zM590 532.9l2.6 -2.6l2.6 2.6l-2.6 2.6zM591.1 528.1l2.6 -2.6l2.6 2.6l-2.6 2.6zM592.2 535.1l2.6 -2.6l2.6 2.6l-2.6 2.6zM593.3 531.8l2.6 -2.6l2.6 2.6l-2.6 2.6zM594.4 534.7l2.6 -2.6l2.6 2.6l-2.6 2.6zM595.5 530.2l2.6 -2.6l2.6 2.6l-2.6 2.6zM596.6 530.1l2.6 -2.6l2.6 2.6l-2.6 2.6zM597.7 533.5l2.6 -2.6l2.6 2.6l-2.6 2.6zM598.8 532.7l2.6 -2.6l2.6 2.6l-2.6 2.6zM599.9 532l2.6 -2.6l2.6 2.6l-2.6 2.6zM601 533.7l2.6 -2.6l2.6 2.6l-2.6 2.6zM602.1 532.2l2.6 -2.6l2.6 2.6l-2.6 2.6zM603.2 530.1l2.6 -2.6l2.6 2.6l-2.6 2.6zM604.3 527.7l2.6 -2.6l2.6 2.6l-2.6 2.6zM605.4 527l2.6 -2.6l2.6 2.6l-2.6 2.6zM606.5 532.6l2.6 -2.6l2.6 2.6l-2.6 2.6zM607.6 532.5l2.6 -2.6l2.6 2.6l-2.6 2.6zM608.7 529.6l2.6 -2.6l2.6 2.6l-2.6 2.6zM609.8 532.4l2.6 -2.6l2.6 2.6l-2.6 2.6zM610.9 531l2.6 -2.6l2.6 2.6l-2.6 2.6zM612 531.5l2.6 -2.6l2.6 2.6l-2.6 2.6zM613.1 533.2l2.6 -2.6l2.6 2.6l-2.6 2.6zM614.2 528.4l2.6 -2.6l2.6 2.6l-2.6 2.6zM615.3 532.1l2.6 -2.6l2.6 2.6l-2.6 2.6zM616.4 532.4l2.6 -2.6l2.6 2.6l-2.6 2.6zM617.5 531l2.6 -2.6l2.6 2.6l-2.6 2.6zM618.6 531.7l2.6 -2.6l2.6 2.6l-2.6 2.6zM619.7 529.2l2.6 -2.6l2.6 2.6l-2.6 2.6zM620.8 531.7l2.6 -2.6l2.6 2.6l-2.6 2.6zM621.9 532.6l2.6 -2.6l2.6 2.6l-2.6 2.6zM623 532.9l2.6 -2.6l2.6 2.6l-2.6 2.6zM624.1 530l2.6 -2.6l2.6 2.6l-2.6 2.6zM625.2 532.9l2.6 -2.6l2.6 2.6l-2.6 2.6zM626.3 531.9l2.6 -2.6l2.6 2.6l-2.6 2.6zM627.4 532.6l2.6 -2.6l2.6 2.6l-2.6 2.6zM628.5 531.2l2.6 -2.6l2.6 2.6l-2.6 2.6zM629.6 532.4l2.6 -2.6l2.6 2.6l-2.6 2.6zM630.7 531.5l2.6 -2.6l2.6 2.6l-2.6 2.6zM631.8 535.7l2.6 -2.6l2.6 2.6l-2.6 2.6zM632.9 530.4l2.6 -2.6l2.6 2.6l-2.6 2.6zM634 533.1l2.6 -2.6l2.6 2.6l-2.6 2.6zM635.1 530.8l2.6 -2.6l2.6 2.6l-2.6 2.6zM636.2 527.9l2.6 -2.6l2.6 2.6l-2.6 2.6zM637.3 531.6l2.6 -2.6l2.6 2.6l-2.6 2.6zM638.4 533l2.6 -2.6l2.6 2.6l-2.6 2.6zM639.5 532l2.6 -2.6l2.6 2.6l-2.6 2.6zM640.6 532l2.6 -2.6l2.6 2.6l-2.6 2.6zM641.7 528.8l2.6 -2.6l2.6 2.6l-2.6 2.6zM642.8 530.8l2.6 -2.6l2.6 2.6l-2.6 2.6zM643.9 527.5l2.6 -2.6l2.6 2.6l-2.6 2.6zM645 533.5l2.6 -2.6l2.6 2.6l-2.6 2.6zM646.1 532.9l2.6 -2.6l2.6 2.6l-2.6 2.6zM647.2 527.8l2.6 -2.6l2.6 2.6l-2.6 2.6zM648.3 529l2.6 -2.6l2.6 2.6l-2.6 2.6zM649.4 527.2l2.6 -2.6l2.6 2.6l-2.6 2.6zM650.5 528.1l2.6 -2.6l2.6 2.6l-2.6 2.6zM651.6 528.5l2.6 -2.6l2.6 2.6l-2.6 2.6zM652.7 527l2.6 -2.6l2.6 2.6l-2.6 2.6zM653.8 528.3l2.6 -2.6l2.6 2.6l-2.6 2.6zM654.9 530.3l2.6 -2.6l2.6 2.6l-2.6 2.6zM656 528.4l2.6 -2.6l2.6 2.6l-2.6 2.6zM657.1 530.2l2.6 -2.6l2.6 2.6l-2.6 2.6zM658.2 528.4l2.6 -2.6l2.6 2.6l-2.6 2.6zM659.3 528.8l2.6 -2.6l2.6 2.6l-2.6 2.6zM660.4 526l2.6 -2.6l2.6 2.6l-2.6 2.6zM661.5 530.1l2.6 -2.6l2.6 2.6l-2.6 2.6zM662.6 526l2.6 -2.6l2.6 2.6l-2.6 2.6zM663.7 527.4l2.6 -2.6l2.6 2.6l-2.6 2.6zM664.8 525.5l2.6 -2.6l2.6 2.6l-2.6 2.6zM665.9 528.8l2.6 -2.6l2.6 2.6l-2.6 2.6zM667 525.8l2.6 -2.6l2.6 2.6l-2.6 2.6zM668.1 528.8l2.6 -2.6l2.6 2.6l-2.6 2.6zM669.2 531.3l2.6 -2.6l2.6 2.6l-2.6 2.6zM670.3 528.1l2.6 -2.6l2.6 2.6l-2.6 2.6zM671.4 523l2.6 -2.6l2.6 2.6l-2.6 2.6zM672.5 529.2l2.6 -2.6l2.6 2.6l-2.6 2.6zM673.6 527.5l2.6 -2.6l2.6 2.6l-2.6 2.6zM674.7 528.3l2.6 -2.6l2.6 2.6l-2.6 2.6zM675.8 527.8l2.6 -2.6l2.6 2.6l-2.6 2.6zM676.9 529.2l2.6 -2.6l2.6 2.6l-2.6 2.6zM678 528.8l2.6 -2.6l2.6 2.6l-2.6 2.6zM679.1 526.7l2.6 -2.6l2.6 2.6l-2.6 2.6zM680.2 524.3l2.6 -2.6l2.6 2.6l-2.6 2.6zM681.3 526.5l2.6 -2.6l2.6 2.6l-2.6 2.6zM682.4 528.1l2.6 -2.6l2.6 2.6l-2.6 2.6zM683.5 522.9l2.6 -2.6l2.6 2.6l-2.6 2.6zM684.6 527.1l2.6 -2.6l2.6 2.6l-2.6 2.6zM685.7 522.9l2.6 -2.6l2.6 2.6l-2.6 2.6zM686.8 528.5l2.6 -2.6l2.6 2.6l-2.6 2.6zM687.9 529.8l2.6 -2.6l2.6 2.6l-2.6 2.6zM689 527.9l2.6 -2.6l2.6 2.6l-2.6 2.6zM690.1 525.3l2.6 -2.6l2.6 2.6l-2.6 2.6zM691.2 527.6l2.6 -2.6l2.6 2.6l-2.6 2.6zM692.3 528.6l2.6 -2.6l2.6 2.6l-2.6 2.6zM693.4 529.2l2.6 -2.6l2.6 2.6l-2.6 2.6zM694.5 528.6l2.6 -2.6l2.6 2.6l-2.6 2.6zM695.6 527.9l2.6 -2.6l2.6 2.6l-2.6 2.6zM696.7 523.9l2.6 -2.6l2.6 2.6l-2.6 2.6zM697.8 525.5l2.6 -2.6l2.6 2.6l-2.6 2.6zM698.9 526.5l2.6 -2.6l2.6 2.6l-2.6 2.6zM700 525.6l2.6 -2.6l2.6 2.6l-2.6 2.6zM701.1 521.7l2.6 -2.6l2.6 2.6l-2.6 2.6zM702.2 525.1l2.6 -2.6l2.6 2.6l-2.6 2.6zM703.3 524l2.6 -2.6l2.6 2.6l-2.6 2.6zM704.4 525.6l2.6 -2.6l2.6 2.6l-2.6 2.6zM705.5 526.6l2.6 -2.6l2.6 2.6l-2.6 2.6zM706.6 522.3l2.6 -2.6l2.6 2.6l-2.6 2.6zM707.7 523.5l2.6 -2.6l2.6 2.6l-2.6 2.6zM708.8 525.2l2.6 -2.6l2.6 2.6l-2.6 2.6zM709.9 522.8l2.6 -2.6l2.6 2.6l-2.6 2.6zM711 524.6l2.6 -2.6l2.6 2.6l-2.6 2.6zM712.1 522.9l2.6 -2.6l2.6 2.6l-2.6 2.6zM713.2 523.1l2.6 -2.6l2.6 2.6l-2.6 2.6zM714.3 526l2.6 -2.6l2.6 2.6l-2.6 2.6zM715.4 524l2.6 -2.6l2.6 2.6l-2.6 2.6zM716.5 523l2.6 -2.6l2.6 2.6l-2.6 2.6zM717.6 526.9l2.6 -2.6l2.6 2.6l-2.6 2.6zM718.7 523.2l2.6 -2.6l2.6 2.6l-2.6 2.6zM719.8 523.6l2.6 -2.6l2.6 2.6l-2.6 2.6zM720.9 523.4l2.6 -2.6l2.6 2.6l-2.6 2.6zM722 528.9l2.6 -2.6l2.6 2.6l-2.6 2.6zM723.1 523.9l2.6 -2.6l2.6 2.6l-2.6 2.6zM724.2 524l2.6 -2.6l2.6 2.6l-2.6 2.6zM725.3 521.2l2.6 -2.6l2.6 2.6l-2.6 2.6zM726.4 523.2l2.6 -2.6l2.6 2.6l-2.6 2.6zM727.5 523.4l2.6 -2.6l2.6 2.6l-2.6 2.6zM728.6 518.6l2.6 -2.6l2.6 2.6l-2.6 2.6zM729.7 521.3l2.6 -2.6l2.6 2.6l-2.6 2.6zM730.8 523.4l2.6 -2.6l2.6 2.6l-2.6 2.6zM731.9 523.5l2.6 -2.6l2.6 2.6l-2.6 2.6zM733 520.2l2.6 -2.6l2.6 2.6l-2.6 2.6zM734.1 524.1l2.6 -2.6l2.6 2.6l-2.6 2.6zM735.2 518.3l2.6 -2.6l2.6 2.6l-2.6 2.6zM736.3 521.7l2.6 -2.6l2.6 2.6l-2.6 2.6zM737.4 520.9l2.6 -2.6l2.6 2.6l-2.6 2.6zM738.5 518.1l2.6 -2.6l2.6 2.6l-2.6 2.6zM739.6 522.4l2.6 -2.6l2.6 2.6l-2.6 2.6zM740.7 518.5l2.6 -2.6l2.6 2.6l-2.6 2.6zM741.8 520.2l2.6 -2.6l2.6 2.6l-2.6 2.6zM742.9 521.9l2.6 -2.6l2.6 2.6l-2.6 2.6zM744 520.4l2.6 -2.6l2.6 2.6l-2.6 2.6zM745.1 525.6l2.6 -2.6l2.6 2.6l-2.6 2.6zM746.2 523.1l2.6 -2.6l2.6 2.6l-2.6 2.6zM747.3 522.3l2.6 -2.6l2.6 2.6l-2.6 2.6zM748.4 525.8l2.6 -2.6l2.6 2.6l-2.6 2.6zM749.5 525.9l2.6 -2.6l2.6 2.6l-2.6 2.6zM750.6 524.4l2.6 -2.6l2.6 2.6l-2.6 2.6zM751.7 525.9l2.6 -2.6l2.6 2.6l-2.6 2.6zM752.8 529.1l2.6 -2.6l2.6 2.6l-2.6 2.6zM753.9 529.4l2.6 -2.6l2.6 2.6l-2.6 2.6zM755 525l2.6 -2.6l2.6 2.6l-2.6 2.6zM756.1 530.1l2.6 -2.6l2.6 2.6l-2.6 2.6zM757.2 530.1l2.6 -2.6l2.6 2.6l-2.6 2.6zM758.3 530.5l2.6 -2.6l2.6 2.6l-2.6 2.6zM759.4 527.3l2.6 -2.6l2.6 2.6l-2.6 2.6zM760.5 526.8l2.6 -2.6l2.6 2.6l-2.6 2.6zM761.6 528.1l2.6 -2.6l2.6 2.6l-2.6 2.6zM762.7 527l2.6 -2.6l2.6 2.6l-2.6 2.6zM763.8 527.8l2.6 -2.6l2.6 2.6l-2.6 2.6zM764.9 527.1l2.6 -2.6l2.6 2.6l-2.6 2.6zM766 527.7l2.6 -2.6l2.6 2.6l-2.6 2.6zM767.1 527.3l2.6 -2.6l2.6 2.6l-2.6 2.6zM768.2 528.3l2.6 -2.6l2.6 2.6l-2.6 2.6zM769.3 528.6l2.6 -2.6l2.6 2.6l-2.6 2.6zM770.4 527.8l2.6 -2.6l2.6 2.6l-2.6 2.6zM771.5 527.2l2.6 -2.6l2.6 2.6l-2.6 2.6zM772.6 531.3l2.6 -2.6l2.6 2.6l-2.6 2.6zM773.7 530l2.6 -2.6l2.6 2.6l-2.6 2.6zM774.8 529.2l2.6 -2.6l2.6 2.6l-2.6 2.6zM775.9 526.6l2.6 -2.6l2.6 2.6l-2.6 2.6zM777 529.5l2.6 -2.6l2.6 2.6l-2.6 2.6zM778.1 527.9l2.6 -2.6l2.6 2.6l-2.6 2.6zM779.2 529.4l2.6 -2.6l2.6 2.6l-2.6 2.6zM780.3 528.6l2.6 -2.6l2.6 2.6l-2.6 2.6zM781.4 532.9l2.6 -2.6l2.6 2.6l-2.6 2.6zM782.5 528l2.6 -2.6l2.6 2.6l-2.6 2.6zM783.6 525.9l2.6 -2.6l2.6 2.6l-2.6 2.6zM784.7 529.7l2.6 -2.6l2.6 2.6l-2.6 2.6zM785.8 529.7l2.6 -2.6l2.6 2.6l-2.6 2.6zM786.9 529.9l2.6 -2.6l2.6 2.6l-2.6 2.6zM788 522l2.6 -2.6l2.6 2.6l-2.6 2.6zM789.1 525l2.6 -2.6l2.6 2.6l-2.6 2.6zM790.2 525l2.6 -2.6l2.6 2.6l-2.6 2.6zM791.3 523.2l2.6 -2.6l2.6 2.6l-2.6 2.6zM792.4 526.4l2.6 -2.6l2.6 2.6l-2.6 2.6zM793.5 528.5l2.6 -2.6l2.6 2.6l-2.6 2.6zM794.6 527.7l2.6 -2.6l2.6 2.6l-2.6 2.6zM795.7 527.1l2.6 -2.6l2.6 2.6l-2.6 2.6zM796.8 525.2l2.6 -2.6l2.6 2.6l-2.6 2.6zM797.9 527.9l2.6 -2.6l2.6 2.6l-2.6 2.6zM799 525.1l2.6 -2.6l2.6 2.6l-2.6 2.6zM800.1 519l2.6 -2.6l2.6 2.6l-2.6 2.6zM801.2 523.6l2.6 -2.6l2.6 2.6l-2.6 2.6zM802.3 522.5l2.6 -2.6l2.6 2.6l-2.6 2.6zM803.4 524.5l2.6 -2.6l2.6 2.6l-2.6 2.6zM804.5 522.8l2.6 -2.6l2.6 2.6l-2.6 2.6zM805.6 522.2l2.6 -2.6l2.6 2.6l-2.6 2.6zM806.7 525.9l2.6 -2.6l2.6 2.6l-2.6 2.6zM807.8 521.6l2.6 -2.6l2.6 2.6l-2.6 2.6zM808.9 520.2l2.6 -2.6l2.6 2.6l-2.6 2.6zM810 523.2l2.6 -2.6l2.6 2.6l-2.6 2.6zM811.1 523.7l2.6 -2.6l2.6 2.6l-2.6 2.6zM812.2 522.1l2.6 -2.6l2.6 2.6l-2.6 2.6zM813.3 522.1l2.6 -2.6l2.6 2.6l-2.6 2.6zM814.4 520.8l2.6 -2.6l2.6 2.6l-2.6 2.6zM815.5 519.2l2.6 -2.6l2.6 2.6l-2.6 2.6zM816.6 520.1l2.6 -2.6l2.6 2.6l-2.6 2.6zM817.7 519.3l2.6 -2.6l2.6 2.6l-2.6 2.6zM818.8 525.9l2.6 -2.6l2.6 2.6l-2.6 2.6zM819.9 520.5l2.6 -2.6l2.6 2.6l-2.6 2.6zM821 523.6l2.6 -2.6l2.6 2.6l-2.6 2.6zM822.1 520.1l2.6 -2.6l2.6 2.6l-2.6 2.6zM823.2 518.8l2.6 -2.6l2.6 2.6l-2.6 2.6zM824.3 520.7l2.6 -2.6l2.6 2.6l-2.6 2.6zM825.4 520.6l2.6 -2.6l2.6 2.6l-2.6 2.6zM826.5 522.6l2.6 -2.6l2.6 2.6l-2.6 2.6zM827.6 516l2.6 -2.6l2.6 2.6l-2.6 2.6zM828.7 518.9l2.6 -2.6l2.6 2.6l-2.6 2.6zM829.8 520.4l2.6 -2.6l2.6 2.6l-2.6 2.6zM830.9 518l2.6 -2.6l2.6 2.6l-2.6 2.6zM832 519.6l2.6 -2.6l2.6 2.6l-2.6 2.6zM833.1 518.7l2.6 -2.6l2.6 2.6l-2.6 2.6zM834.2 521.9l2.6 -2.6l2.6 2.6l-2.6 2.6zM835.3 523.8l2.6 -2.6l2.6 2.6l-2.6 2.6zM836.4 514.9l2.6 -2.6l2.6 2.6l-2.6 2.6zM837.5 515.8l2.6 -2.6l2.6 2.6l-2.6 2.6zM838.6 517.2l2.6 -2.6l2.6 2.6l-2.6 2.6zM839.7 518.5l2.6 -2.6l2.6 2.6l-2.6 2.6zM840.8 518.3l2.6 -2.6l2.6 2.6l-2.6 2.6zM841.9 517.5l2.6 -2.6l2.6 2.6l-2.6 2.6zM843 519.5l2.6 -2.6l2.6 2.6l-2.6 2.6zM844.1 520l2.6 -2.6l2.6 2.6l-2.6 2.6zM845.2 518.4l2.6 -2.6l2.6 2.6l-2.6 2.6zM846.3 517.5l2.6 -2.6l2.6 2.6l-2.6 2.6zM847.4 518l2.6 -2.6l2.6 2.6l-2.6 2.6zM848.5 516.2l2.6 -2.6l2.6 2.6l-2.6 2.6zM849.6 519.3l2.6 -2.6l2.6 2.6l-2.6 2.6zM850.7 519.2l2.6 -2.6l2.6 2.6l-2.6 2.6zM851.8 513.8l2.6 -2.6l2.6 2.6l-2.6 2.6zM852.9 522.8l2.6 -2.6l2.6 2.6l-2.6 2.6zM854 516.9l2.6 -2.6l2.6 2.6l-2.6 2.6zM855.1 518.3l2.6 -2.6l2.6 2.6l-2.6 2.6zM856.2 516.3l2.6 -2.6l2.6 2.6l-2.6 2.6zM857.3 515.5l2.6 -2.6l2.6 2.6l-2.6 2.6zM858.4 516.7l2.6 -2.6l2.6 2.6l-2.6 2.6zM859.5 512.9l2.6 -2.6l2.6 2.6l-2.6 2.6zM860.6 513.7l2.6 -2.6l2.6 2.6l-2.6 2.6zM861.7 511.3l2.6 -2.6l2.6 2.6l-2.6 2.6zM862.8 513.9l2.6 -2.6l2.6 2.6l-2.6 2.6zM863.9 511.9l2.6 -2.6l2.6 2.6l-2.6 2.6zM865 511.1l2.6 -2.6l2.6 2.6l-2.6 2.6zM866.1 510.1l2.6 -2.6l2.6 2.6l-2.6 2.6zM867.2 511.9l2.6 -2.6l2.6 2.6l-2.6 2.6zM868.3 510.6l2.6 -2.6l2.6 2.6l-2.6 2.6zM869.4 509.2l2.6 -2.6l2.6 2.6l-2.6 2.6zM870.5 508.4l2.6 -2.6l2.6 2.6l-2.6 2.6zM871.6 512.4l2.6 -2.6l2.6 2.6l-2.6 2.6zM872.7 511.7l2.6 -2.6l2.6 2.6l-2.6 2.6zM873.8 506.5l2.6 -2.6l2.6 2.6l-2.6 2.6zM874.9 511l2.6 -2.6l2.6 2.6l-2.6 2.6zM876 509.9l2.6 -2.6l2.6 2.6l-2.6 2.6zM877.1 509.9l2.6 -2.6l2.6 2.6l-2.6 2.6zM878.2 510.6l2.6 -2.6l2.6 2.6l-2.6 2.6zM879.3 507.8l2.6 -2.6l2.6 2.6l-2.6 2.6zM880.4 516l2.6 -2.6l2.6 2.6l-2.6 2.6zM881.5 516l2.6 -2.6l2.6 2.6l-2.6 2.6zM882.6 513.1l2.6 -2.6l2.6 2.6l-2.6 2.6zM883.7 514l2.6 -2.6l2.6 2.6l-2.6 2.6zM884.8 515.2l2.6 -2.6l2.6 2.6l-2.6 2.6zM885.9 514.9l2.6 -2.6l2.6 2.6l-2.6 2.6zM887 519l2.6 -2.6l2.6 2.6l-2.6 2.6zM888.1 520l2.6 -2.6l2.6 2.6l-2.6 2.6zM889.2 520l2.6 -2.6l2.6 2.6l-2.6 2.6zM890.3 522.8l2.6 -2.6l2.6 2.6l-2.6 2.6zM891.4 523.5l2.6 -2.6l2.6 2.6l-2.6 2.6zM892.5 523.9l2.6 -2.6l2.6 2.6l-2.6 2.6zM893.6 524.8l2.6 -2.6l2.6 2.6l-2.6 2.6zM894.7 527l2.6 -2.6l2.6 2.6l-2.6 2.6zM895.8 525.3l2.6 -2.6l2.6 2.6l-2.6 2.6zM896.9 523.2l2.6 -2.6l2.6 2.6l-2.6 2.6zM898 529.4l2.6 -2.6l2.6 2.6l-2.6 2.6zM899.1 525.7l2.6 -2.6l2.6 2.6l-2.6 2.6zM900.2 529.8l2.6 -2.6l2.6 2.6l-2.6 2.6zM901.3 527.7l2.6 -2.6l2.6 2.6l-2.6 2.6zM902.4 528.5l2.6 -2.6l2.6 2.6l-2.6 2.6zM903.5 525.9l2.6 -2.6l2.6 2.6l-2.6 2.6zM904.6 527.9l2.6 -2.6l2.6 2.6l-2.6 2.6zM905.7 527.1l2.6 -2.6l2.6 2.6l-2.6 2.6zM906.8 527.9l2.6 -2.6l2.6 2.6l-2.6 2.6zM907.9 529l2.6 -2.6l2.6 2.6l-2.6 2.6zM909 527.5l2.6 -2.6l2.6 2.6l-2.6 2.6zM910.1 529.9l2.6 -2.6l2.6 2.6l-2.6 2.6zM911.2 525.7l2.6 -2.6l2.6 2.6l-2.6 2.6zM912.3 526.5l2.6 -2.6l2.6 2.6l-2.6 2.6zM913.4 529.5l2.6 -2.6l2.6 2.6l-2.6 2.6zM914.5 529.8l2.6 -2.6l2.6 2.6l-2.6 2.6zM915.6 530.9l2.6 -2.6l2.6 2.6l-2.6 2.6zM916.7 532.1l2.6 -2.6l2.6 2.6l-2.6 2.6zM917.8 530l2.6 -2.6l2.6 2.6l-2.6 2.6zM918.9 530.7l2.6 -2.6l2.6 2.6l-2.6 2.6zM920 529.8l2.6 -2.6l2.6 2.6l-2.6 2.6zM921.1 529.8l2.6 -2.6l2.6 2.6l-2.6 2.6zM922.2 529.4l2.6 -2.6l2.6 2.6l-2.6 2.6zM923.3 529.9l2.6 -2.6l2.6 2.6l-2.6 2.6zM924.4 528.8l2.6 -2.6l2.6 2.6l-2.6 2.6zM925.5 529.7l2.6 -2.6l2.6 2.6l-2.6 2.6zM926.6 531.6l2.6 -2.6l2.6 2.6l-2.6 2.6zM927.7 531.1l2.6 -2.6l2.6 2.6l-2.6 2.6zM928.8 532.5l2.6 -2.6l2.6 2.6l-2.6 2.6zM929.9 529.5l2.6 -2.6l2.6 2.6l-2.6 2.6zM931 529.8l2.6 -2.6l2.6 2.6l-2.6 2.6zM932.1 531.5l2.6 -2.6l2.6 2.6l-2.6 2.6zM933.2 529.1l2.6 -2.6l2.6 2.6l-2.6 2.6zM934.3 529.1l2.6 -2.6l2.6 2.6l-2.6 2.6zM935.4 532.1l2.6 -2.6l2.6 2.6l-2.6 2.6zM936.5 530.5l2.6 -2.6l2.6 2.6l-2.6 2.6zM937.6 532.8l2.6 -2.6l2.6 2.6l-2.6 2.6zM938.7 531.6l2.6 -2.6l2.6 2.6l-2.6 2.6zM939.8 530.5l2.6 -2.6l2.6 2.6l-2.6 2.6zM940.9 529.4l2.6 -2.6l2.6 2.6l-2.6 2.6zM942 533.8l2.6 -2.6l2.6 2.6l-2.6 2.6zM943.1 531.5l2.6 -2.6l2.6 2.6l-2.6 2.6zM944.2 530l2.6 -2.6l2.6 2.6l-2.6 2.6zM945.3 528.9l2.6 -2.6l2.6 2.6l-2.6 2.6zM946.4 527l2.6 -2.6l2.6 2.6l-2.6 2.6zM947.5 531.2l2.6 -2.6l2.6 2.6l-2.6 2.6zM948.6 534.4l2.6 -2.6l2.6 2.6l-2.6 2.6zM949.7 530.4l2.6 -2.6l2.6 2.6l-2.6 2.6zM950.8 532.8l2.6 -2.6l2.6 2.6l-2.6 2.6zM951.9 532.7l2.6 -2.6l2.6 2.6l-2.6 2.6zM953 526l2.6 -2.6l2.6 2.6l-2.6 2.6zM954.1 530l2.6 -2.6l2.6 2.6l-2.6 2.6zM955.2 534l2.6 -2.6l2.6 2.6l-2.6 2.6zM956.3 528.6l2.6 -2.6l2.6 2.6l-2.6 2.6zM957.4 534.8l2.6 -2.6l2.6 2.6l-2.6 2.6zM958.5 532.7l2.6 -2.6l2.6 2.6l-2.6 2.6zM959.6 529.5l2.6 -2.6l2.6 2.6l-2.6 2.6zM960.7 536.4l2.6 -2.6l2.6 2.6l-2.6 2.6zM961.8 532.6l2.6 -2.6l2.6 2.6l-2.6 2.6zM962.9 535.9l2.6 -2.6l2.6 2.6l-2.6 2.6zM964 533.3l2.6 -2.6l2.6 2.6l-2.6 2.6zM965.1 531.5l2.6 -2.6l2.6 2.6l-2.6 2.6zM966.2 535.2l2.6 -2.6l2.6 2.6l-2.6 2.6zM967.3 536.5l2.6 -2.6l2.6 2.6l-2.6 2.6zM968.4 535.6l2.6 -2.6l2.6 2.6l-2.6 2.6zM969.5 530.9l2.6 -2.6l2.6 2.6l-2.6 2.6zM970.6 534.4l2.6 -2.6l2.6 2.6l-2.6 2.6zM971.7 531l2.6 -2.6l2.6 2.6l-2.6 2.6zM972.8 532.1l2.6 -2.6l2.6 2.6l-2.6 2.6zM973.9 535.9l2.6 -2.6l2.6 2.6l-2.6 2.6zM975 530.5l2.6 -2.6l2.6 2.6l-2.6 2.6zM976.1 538.1l2.6 -2.6l2.6 2.6l-2.6 2.6zM977.2 530.3l2.6 -2.6l2.6 2.6l-2.6 2.6z" fill="#800000"/><path d="M588 496.3l2.5 4.3l2.5 -4.3zM589.1 494.5l2.5 4.3l2.5 -4.3zM590.2 492.7l2.5 4.3l2.5 -4.3zM591.3 495.3l2.5 4.3l2.5 -4.3zM592.4 497.4l2.5 4.3l2.5 -4.3zM593.5 492.6l2.5 4.3l2.5 -4.3zM594.6 494.5l2.5 4.3l2.5 -4.3zM595.7 498.7l2.5 4.3l2.5 -4.3zM596.8 499.3l2.5 4.3l2.5 -4.3zM597.9 500.3l2.5 4.3l2.5 -4.3zM599 496.4l2.5 4.3l2.5 -4.3zM600.1 494.5l2.5 4.3l2.5 -4.3zM601.2 494.7l2.5 4.3l2.5 -4.3zM602.3 496.1l2.5 4.3l2.5 -4.3zM603.4 494.8l2.5 4.3l2.5 -4.3zM604.5 497.9l2.5 4.3l2.5 -4.3zM605.6 499.7l2.5 4.3l2.5 -4.3zM606.7 494.9l2.5 4.3l2.5 -4.3zM607.8 500.3l2.5 4.3l2.5 -4.3zM608.9 495.4l2.5 4.3l2.5 -4.3zM610 495.9l2.5 4.3l2.5 -4.3zM611.1 494.5l2.5 4.3l2.5 -4.3zM612.2 498.9l2.5 4.3l2.5 -4.3zM613.3 497.2l2.5 4.3l2.5 -4.3zM614.4 497.5l2.5 4.3l2.5 -4.3zM615.5 491.4l2.5 4.3l2.5 -4.3zM616.6 496.2l2.5 4.3l2.5 -4.3zM617.7 498l2.5 4.3l2.5 -4.3zM618.8 491.6l2.5 4.3l2.5 -4.3zM619.9 501.3l2.5 4.3l2.5 -4.3zM621 497.8l2.5 4.3l2.5 -4.3zM622.1 499.3l2.5 4.3l2.5 -4.3zM623.2 496.3l2.5 4.3l2.5 -4.3zM624.3 498.7l2.5 4.3l2.5 -4.3zM625.4 499.3l2.5 4.3l2.5 -4.3zM626.5 501.8l2.5 4.3l2.5 -4.3zM627.6 492l2.5 4.3l2.5 -4.3zM628.7 500.5l2.5 4.3l2.5 -4.3zM629.8 491.5l2.5 4.3l2.5 -4.3zM630.9 496.1l2.5 4.3l2.5 -4.3zM632 494.7l2.5 4.3l2.5 -4.3zM633.1 495l2.5 4.3l2.5 -4.3zM634.2 491.1l2.5 4.3l2.5 -4.3zM635.3 494.3l2.5 4.3l2.5 -4.3zM636.4 492.1l2.5 4.3l2.5 -4.3zM637.5 494l2.5 4.3l2.5 -4.3zM638.6 494.7l2.5 4.3l2.5 -4.3zM639.7 494.1l2.5 4.3l2.5 -4.3zM640.8 493.5l2.5 4.3l2.5 -4.3zM641.9 496.4l2.5 4.3l2.5 -4.3zM643 493.9l2.5 4.3l2.5 -4.3zM644.1 494.2l2.5 4.3l2.5 -4.3zM645.2 495.5l2.5 4.3l2.5 -4.3zM646.3 492.3l2.5 4.3l2.5 -4.3zM647.4 492.3l2.5 4.3l2.5 -4.3zM648.5 493.2l2.5 4.3l2.5 -4.3zM649.6 490.8l2.5 4.3l2.5 -4.3zM650.7 493.6l2.5 4.3l2.5 -4.3zM651.8 489.3l2.5 4.3l2.5 -4.3zM652.9 489.8l2.5 4.3l2.5 -4.3zM654 489.4l2.5 4.3l2.5 -4.3zM655.1 488.7l2.5 4.3l2.5 -4.3zM656.2 489.1l2.5 4.3l2.5 -4.3zM657.3 487.5l2.5 4.3l2.5 -4.3zM658.4 483.1l2.5 4.3l2.5 -4.3zM659.5 492.6l2.5 4.3l2.5 -4.3zM660.6 486.3l2.5 4.3l2.5 -4.3zM661.7 488.3l2.5 4.3l2.5 -4.3zM662.8 484.1l2.5 4.3l2.5 -4.3zM663.9 487.2l2.5 4.3l2.5 -4.3zM665 482.8l2.5 4.3l2.5 -4.3zM666.1 488.1l2.5 4.3l2.5 -4.3zM667.2 484.3l2.5 4.3l2.5 -4.3zM668.3 483.1l2.5 4.3l2.5 -4.3zM669.4 477.5l2.5 4.3l2.5 -4.3zM670.5 478.1l2.5 4.3l2.5 -4.3zM671.6 481.2l2.5 4.3l2.5 -4.3zM672.7 480.3l2.5 4.3l2.5 -4.3zM673.8 479.8l2.5 4.3l2.5 -4.3zM674.9 479.4l2.5 4.3l2.5 -4.3zM676 481.9l2.5 4.3l2.5 -4.3zM677.1 478.5l2.5 4.3l2.5 -4.3zM678.2 477.2l2.5 4.3l2.5 -4.3zM679.3 476.9l2.5 4.3l2.5 -4.3zM680.4 475.8l2.5 4.3l2.5 -4.3zM681.5 478.5l2.5 4.3l2.5 -4.3zM682.6 476.5l2.5 4.3l2.5 -4.3zM683.7 476.4l2.5 4.3l2.5 -4.3zM684.8 477.7l2.5 4.3l2.5 -4.3zM685.9 477.1l2.5 4.3l2.5 -4.3zM687 478.7l2.5 4.3l2.5 -4.3zM688.1 478.8l2.5 4.3l2.5 -4.3zM689.2 474.7l2.5 4.3l2.5 -4.3zM690.3 476.1l2.5 4.3l2.5 -4.3zM691.4 482.1l2.5 4.3l2.5 -4.3zM692.5 477.6l2.5 4.3l2.5 -4.3zM693.6 480.2l2.5 4.3l2.5 -4.3zM694.7 477.4l2.5 4.3l2.5 -4.3zM695.8 474.6l2.5 4.3l2.5 -4.3zM696.9 475.5l2.5 4.3l2.5 -4.3zM698 479l2.5 4.3l2.5 -4.3zM699.1 479.8l2.5 4.3l2.5 -4.3zM700.2 485.9l2.5 4.3l2.5 -4.3zM701.3 484.4l2.5 4.3l2.5 -4.3zM702.4 482.8l2.5 4.3l2.5 -4.3zM703.5 483.3l2.5 4.3l2.5 -4.3zM704.6 478l2.5 4.3l2.5 -4.3zM705.7 481.3l2.5 4.3l2.5 -4.3zM706.8 480.7l2.5 4.3l2.5 -4.3zM707.9 485l2.5 4.3l2.5 -4.3zM709 479.2l2.5 4.3l2.5 -4.3zM710.1 477.3l2.5 4.3l2.5 -4.3zM711.2 480.2l2.5 4.3l2.5 -4.3zM712.3 479.4l2.5 4.3l2.5 -4.3zM713.4 479.6l2.5 4.3l2.5 -4.3zM714.5 479.5l2.5 4.3l2.5 -4.3zM715.6 479l2.5 4.3l2.5 -4.3zM716.7 476.9l2.5 4.3l2.5 -4.3zM717.8 476.9l2.5 4.3l2.5 -4.3zM718.9 482.2l2.5 4.3l2.5 -4.3zM720 475.7l2.5 4.3l2.5 -4.3zM721.1 477.6l2.5 4.3l2.5 -4.3zM722.2 474.1l2.5 4.3l2.5 -4.3zM723.3 472.1l2.5 4.3l2.5 -4.3zM724.4 477.1l2.5 4.3l2.5 -4.3zM725.5 475l2.5 4.3l2.5 -4.3zM726.6 476.7l2.5 4.3l2.5 -4.3zM727.7 475.4l2.5 4.3l2.5 -4.3zM728.8 472.9l2.5 4.3l2.5 -4.3zM729.9 470l2.5 4.3l2.5 -4.3zM731 474.8l2.5 4.3l2.5 -4.3zM732.1 470.1l2.5 4.3l2.5 -4.3zM733.2 473.7l2.5 4.3l2.5 -4.3zM734.3 469.9l2.5 4.3l2.5 -4.3zM735.4 469.7l2.5 4.3l2.5 -4.3zM736.5 468.4l2.5 4.3l2.5 -4.3zM737.6 467.6l2.5 4.3l2.5 -4.3zM738.7 465.7l2.5 4.3l2.5 -4.3zM739.8 470.7l2.5 4.3l2.5 -4.3zM740.9 463.8l2.5 4.3l2.5 -4.3zM742 462.4l2.5 4.3l2.5 -4.3zM743.1 466.4l2.5 4.3l2.5 -4.3zM744.2 464.9l2.5 4.3l2.5 -4.3zM745.3 469l2.5 4.3l2.5 -4.3zM746.4 467.5l2.5 4.3l2.5 -4.3zM747.5 471.3l2.5 4.3l2.5 -4.3zM748.6 470.2l2.5 4.3l2.5 -4.3zM749.7 469.6l2.5 4.3l2.5 -4.3zM750.8 471.7l2.5 4.3l2.5 -4.3zM751.9 474.9l2.5 4.3l2.5 -4.3zM753 473.3l2.5 4.3l2.5 -4.3zM754.1 474l2.5 4.3l2.5 -4.3zM755.2 476.8l2.5 4.3l2.5 -4.3zM756.3 479.4l2.5 4.3l2.5 -4.3zM757.4 482.8l2.5 4.3l2.5 -4.3zM758.5 482.7l2.5 4.3l2.5 -4.3zM759.6 485l2.5 4.3l2.5 -4.3zM760.7 484l2.5 4.3l2.5 -4.3zM761.8 489.1l2.5 4.3l2.5 -4.3zM762.9 490.5l2.5 4.3l2.5 -4.3zM764 484.8l2.5 4.3l2.5 -4.3zM765.1 486.8l2.5 4.3l2.5 -4.3zM766.2 486.2l2.5 4.3l2.5 -4.3zM767.3 487.3l2.5 4.3l2.5 -4.3zM768.4 486.1l2.5 4.3l2.5 -4.3zM769.5 485.4l2.5 4.3l2.5 -4.3zM770.6 484.3l2.5 4.3l2.5 -4.3zM771.7 486l2.5 4.3l2.5 -4.3zM772.8 487.1l2.5 4.3l2.5 -4.3zM773.9 489.3l2.5 4.3l2.5 -4.3zM775 488.3l2.5 4.3l2.5 -4.3zM776.1 486.1l2.5 4.3l2.5 -4.3zM777.2 485.5l2.5 4.3l2.5 -4.3zM778.3 483.5l2.5 4.3l2.5 -4.3zM779.4 487.8l2.5 4.3l2.5 -4.3zM780.5 486.2l2.5 4.3l2.5 -4.3zM781.6 486.9l2.5 4.3l2.5 -4.3zM782.7 486.8l2.5 4.3l2.5 -4.3zM783.8 485.9l2.5 4.3l2.5 -4.3zM784.9 484l2.5 4.3l2.5 -4.3zM786 483.1l2.5 4.3l2.5 -4.3zM787.1 481.1l2.5 4.3l2.5 -4.3zM788.2 481.3l2.5 4.3l2.5 -4.3zM789.3 484.2l2.5 4.3l2.5 -4.3zM790.4 486.2l2.5 4.3l2.5 -4.3zM791.5 480.1l2.5 4.3l2.5 -4.3zM792.6 480.9l2.5 4.3l2.5 -4.3zM793.7 486.6l2.5 4.3l2.5 -4.3zM794.8 479.6l2.5 4.3l2.5 -4.3zM795.9 478.1l2.5 4.3l2.5 -4.3zM797 478.3l2.5 4.3l2.5 -4.3zM798.1 477.1l2.5 4.3l2.5 -4.3zM799.2 472.9l2.5 4.3l2.5 -4.3zM800.3 477.9l2.5 4.3l2.5 -4.3zM801.4 471.8l2.5 4.3l2.5 -4.3zM802.5 473.5l2.5 4.3l2.5 -4.3zM803.6 473l2.5 4.3l2.5 -4.3zM804.7 474.1l2.5 4.3l2.5 -4.3zM805.8 471.9l2.5 4.3l2.5 -4.3zM806.9 470.6l2.5 4.3l2.5 -4.3zM808 469l2.5 4.3l2.5 -4.3zM809.1 470.6l2.5 4.3l2.5 -4.3zM810.2 468.7l2.5 4.3l2.5 -4.3zM811.3 467.2l2.5 4.3l2.5 -4.3zM812.4 465.3l2.5 4.3l2.5 -4.3zM813.5 465.7l2.5 4.3l2.5 -4.3zM814.6 467.6l2.5 4.3l2.5 -4.3zM815.7 463.2l2.5 4.3l2.5 -4.3zM816.8 466.3l2.5 4.3l2.5 -4.3zM817.9 465.9l2.5 4.3l2.5 -4.3zM819 467.7l2.5 4.3l2.5 -4.3zM820.1 463.6l2.5 4.3l2.5 -4.3zM821.2 462.7l2.5 4.3l2.5 -4.3zM822.3 464.2l2.5 4.3l2.5 -4.3zM823.4 463.3l2.5 4.3l2.5 -4.3zM824.5 458.4l2.5 4.3l2.5 -4.3zM825.6 466.1l2.5 4.3l2.5 -4.3zM826.7 464.3l2.5 4.3l2.5 -4.3zM827.8 463.4l2.5 4.3l2.5 -4.3zM828.9 461.2l2.5 4.3l2.5 -4.3zM830 463.4l2.5 4.3l2.5 -4.3zM831.1 461.8l2.5 4.3l2.5 -4.3zM832.2 465.5l2.5 4.3l2.5 -4.3zM833.3 463.4l2.5 4.3l2.5 -4.3zM834.4 464.6l2.5 4.3l2.5 -4.3zM835.5 458.8l2.5 4.3l2.5 -4.3zM836.6 459.2l2.5 4.3l2.5 -4.3zM837.7 459.9l2.5 4.3l2.5 -4.3zM838.8 459.1l2.5 4.3l2.5 -4.3zM839.9 463.5l2.5 4.3l2.5 -4.3zM841 460.6l2.5 4.3l2.5 -4.3zM842.1 454.9l2.5 4.3l2.5 -4.3zM843.2 458.6l2.5 4.3l2.5 -4.3zM844.3 462.7l2.5 4.3l2.5 -4.3zM845.4 457.9l2.5 4.3l2.5 -4.3zM846.5 459.4l2.5 4.3l2.5 -4.3zM847.6 454.2l2.5 4.3l2.5 -4.3zM848.7 456.1l2.5 4.3l2.5 -4.3zM849.8 456.5l2.5 4.3l2.5 -4.3zM850.9 455.8l2.5 4.3l2.5 -4.3zM852 455.8l2.5 4.3l2.5 -4.3zM853.1 455.9l2.5 4.3l2.5 -4.3zM854.2 456.8l2.5 4.3l2.5 -4.3zM855.3 449.8l2.5 4.3l2.5 -4.3zM856.4 452.3l2.5 4.3l2.5 -4.3zM857.5 452.4l2.5 4.3l2.5 -4.3zM858.6 449.9l2.5 4.3l2.5 -4.3zM859.7 450.3l2.5 4.3l2.5 -4.3zM860.8 446.1l2.5 4.3l2.5 -4.3zM861.9 444l2.5 4.3l2.5 -4.3zM863 441.7l2.5 4.3l2.5 -4.3zM864.1 444l2.5 4.3l2.5 -4.3zM865.2 438.1l2.5 4.3l2.5 -4.3zM866.3 438.8l2.5 4.3l2.5 -4.3zM867.4 438.5l2.5 4.3l2.5 -4.3zM868.5 438.7l2.5 4.3l2.5 -4.3zM869.6 435.6l2.5 4.3l2.5 -4.3zM870.7 433l2.5 4.3l2.5 -4.3zM871.8 435.1l2.5 4.3l2.5 -4.3zM872.9 430.5l2.5 4.3l2.5 -4.3zM874 430.5l2.5 4.3l2.5 -4.3zM875.1 427.1l2.5 4.3l2.5 -4.3zM876.2 431.2l2.5 4.3l2.5 -4.3zM877.3 430.9l2.5 4.3l2.5 -4.3zM878.4 427.1l2.5 4.3l2.5 -4.3zM879.5 431.2l2.5 4.3l2.5 -4.3zM880.6 434.4l2.5 4.3l2.5 -4.3zM881.7 433.8l2.5 4.3l2.5 -4.3zM882.8 433.9l2.5 4.3l2.5 -4.3zM883.9 439.1l2.5 4.3l2.5 -4.3zM885 443.7l2.5 4.3l2.5 -4.3zM886.1 442.4l2.5 4.3l2.5 -4.3zM887.2 452.5l2.5 4.3l2.5 -4.3zM888.3 455.5l2.5 4.3l2.5 -4.3zM889.4 462.3l2.5 4.3l2.5 -4.3zM890.5 462.5l2.5 4.3l2.5 -4.3zM891.6 470l2.5 4.3l2.5 -4.3zM892.7 471.6l2.5 4.3l2.5 -4.3zM893.8 475.3l2.5 4.3l2.5 -4.3zM894.9 476.4l2.5 4.3l2.5 -4.3zM896 480.7l2.5 4.3l2.5 -4.3zM897.1 480.5l2.5 4.3l2.5 -4.3zM898.2 481.8l2.5 4.3l2.5 -4.3zM899.3 482.2l2.5 4.3l2.5 -4.3zM900.4 482.4l2.5 4.3l2.5 -4.3zM901.5 486.8l2.5 4.3l2.5 -4.3zM902.6 487.1l2.5 4.3l2.5 -4.3zM903.7 488.5l2.5 4.3l2.5 -4.3zM904.8 489l2.5 4.3l2.5 -4.3zM905.9 491.1l2.5 4.3l2.5 -4.3zM907 491.2l2.5 4.3l2.5 -4.3zM908.1 490.5l2.5 4.3l2.5 -4.3zM909.2 493.8l2.5 4.3l2.5 -4.3zM910.3 497.1l2.5 4.3l2.5 -4.3zM911.4 491.2l2.5 4.3l2.5 -4.3zM912.5 492.4l2.5 4.3l2.5 -4.3zM913.6 494.7l2.5 4.3l2.5 -4.3zM914.7 492.3l2.5 4.3l2.5 -4.3zM915.8 496.2l2.5 4.3l2.5 -4.3zM916.9 492.9l2.5 4.3l2.5 -4.3zM918 492l2.5 4.3l2.5 -4.3zM919.1 492.7l2.5 4.3l2.5 -4.3zM920.2 497.1l2.5 4.3l2.5 -4.3zM921.3 490.8l2.5 4.3l2.5 -4.3zM922.4 495.4l2.5 4.3l2.5 -4.3zM923.5 490.9l2.5 4.3l2.5 -4.3zM924.6 497l2.5 4.3l2.5 -4.3zM925.7 496.5l2.5 4.3l2.5 -4.3zM926.8 497.1l2.5 4.3l2.5 -4.3zM927.9 500.4l2.5 4.3l2.5 -4.3zM929 495.9l2.5 4.3l2.5 -4.3zM930.1 501l2.5 4.3l2.5 -4.3zM931.2 497.6l2.5 4.3l2.5 -4.3zM932.3 498.7l2.5 4.3l2.5 -4.3zM933.4 495.1l2.5 4.3l2.5 -4.3zM934.5 499.2l2.5 4.3l2.5 -4.3zM935.6 496.3l2.5 4.3l2.5 -4.3zM936.7 500.3l2.5 4.3l2.5 -4.3zM937.8 499.3l2.5 4.3l2.5 -4.3zM938.9 497.7l2.5 4.3l2.5 -4.3zM940 499l2.5 4.3l2.5 -4.3zM941.1 499.1l2.5 4.3l2.5 -4.3zM942.2 498.7l2.5 4.3l2.5 -4.3zM943.3 504l2.5 4.3l2.5 -4.3zM944.4 496.8l2.5 4.3l2.5 -4.3zM945.5 493.4l2.5 4.3l2.5 -4.3zM946.6 496.2l2.5 4.3l2.5 -4.3zM947.7 498.7l2.5 4.3l2.5 -4.3zM948.8 499.3l2.5 4.3l2.5 -4.3zM949.9 501l2.5 4.3l2.5 -4.3zM951 501.9l2.5 4.3l2.5 -4.3zM952.1 500.5l2.5 4.3l2.5 -4.3zM953.2 500.5l2.5 4.3l2.5 -4.3zM954.3 498.5l2.5 4.3l2.5 -4.3zM955.4 502.7l2.5 4.3l2.5 -4.3zM956.5 503.7l2.5 4.3l2.5 -4.3zM957.6 500.8l2.5 4.3l2.5 -4.3zM958.7 502.8l2.5 4.3l2.5 -4.3zM959.8 500.2l2.5 4.3l2.5 -4.3zM960.9 501.6l2.5 4.3l2.5 -4.3zM962 502.1l2.5 4.3l2.5 -4.3zM963.1 503.9l2.5 4.3l2.5 -4.3zM964.2 499.3l2.5 4.3l2.5 -4.3zM965.3 502.7l2.5 4.3l2.5 -4.3zM966.4 504.6l2.5 4.3l2.5 -4.3zM967.5 503.7l2.5 4.3l2.5 -4.3zM968.6 504.6l2.5 4.3l2.5 -4.3zM969.7 498.2l2.5 4.3l2.5 -4.3zM970.8 501.8l2.5 4.3l2.5 -4.3zM971.9 502.9l2.5 4.3l2.5 -4.3zM973 502.4l2.5 4.3l2.5 -4.3zM974.1 499.3l2.5 4.3l2.5 -4.3zM975.2 506.6l2.5 4.3l2.5 -4.3zM976.3 505.1l2.5 4.3l2.5 -4.3z" fill="#008000"/><path d="M588 448l2.5 -4.3l2.5 4.3zM589.1 448.3l2.5 -4.3l2.5 4.3zM590.2 451.1l2.5 -4.3l2.5 4.3zM591.3 446l2.5 -4.3l2.5 4.3zM592.4 448.2l2.5 -4.3l2.5 4.3zM593.5 445.2l2.5 -4.3l2.5 4.3zM594.6 450.6l2.5 -4.3l2.5 4.3zM595.7 448l2.5 -4.3l2.5 4.3zM596.8 444.8l2.5 -4.3l2.5 4.3zM597.9 446.6l2.5 -4.3l2.5 4.3zM599 449.4l2.5 -4.3l2.5 4.3zM600.1 448.3l2.5 -4.3l2.5 4.3zM601.2 443.9l2.5 -4.3l2.5 4.3zM602.3 451.6l2.5 -4.3l2.5 4.3zM603.4 448.1l2.5 -4.3l2.5 4.3zM604.5 448.4l2.5 -4.3l2.5 4.3zM605.6 446.8l2.5 -4.3l2.5 4.3zM606.7 445.7l2.5 -4.3l2.5 4.3zM607.8 444l2.5 -4.3l2.5 4.3zM608.9 447.8l2.5 -4.3l2.5 4.3zM610 447.4l2.5 -4.3l2.5 4.3zM611.1 446.8l2.5 -4.3l2.5 4.3zM612.2 449.1l2.5 -4.3l2.5 4.3zM613.3 448l2.5 -4.3l2.5 4.3zM614.4 444.9l2.5 -4.3l2.5 4.3zM615.5 446.2l2.5 -4.3l2.5 4.3zM616.6 449.7l2.5 -4.3l2.5 4.3zM617.7 443.9l2.5 -4.3l2.5 4.3zM618.8 451.8l2.5 -4.3l2.5 4.3zM619.9 445.6l2.5 -4.3l2.5 4.3zM621 452.7l2.5 -4.3l2.5 4.3zM622.1 447.7l2.5 -4.3l2.5 4.3zM623.2 443l2.5 -4.3l2.5 4.3zM624.3 447.5l2.5 -4.3l2.5 4.3zM625.4 446.6l2.5 -4.3l2.5 4.3zM626.5 445.3l2.5 -4.3l2.5 4.3zM627.6 446.3l2.5 -4.3l2.5 4.3zM628.7 446.2l2.5 -4.3l2.5 4.3zM629.8 438.5l2.5 -4.3l2.5 4.3zM630.9 447.4l2.5 -4.3l2.5 4.3zM632 444.9l2.5 -4.3l2.5 4.3zM633.1 445.5l2.5 -4.3l2.5 4.3zM634.2 446.8l2.5 -4.3l2.5 4.3zM635.3 444.9l2.5 -4.3l2.5 4.3zM636.4 441.8l2.5 -4.3l2.5 4.3zM637.5 446.1l2.5 -4.3l2.5 4.3zM638.6 443.1l2.5 -4.3l2.5 4.3zM639.7 444.4l2.5 -4.3l2.5 4.3zM640.8 441.4l2.5 -4.3l2.5 4.3zM641.9 442.2l2.5 -4.3l2.5 4.3zM643 439.8l2.5 -4.3l2.5 4.3zM644.1 445.2l2.5 -4.3l2.5 4.3zM645.2 438.7l2.5 -4.3l2.5 4.3zM646.3 442.8l2.5 -4.3l2.5 4.3zM647.4 435.8l2.5 -4.3l2.5 4.3zM648.5 440.1l2.5 -4.3l2.5 4.3zM649.6 438.4l2.5 -4.3l2.5 4.3zM650.7 440.8l2.5 -4.3l2.5 4.3zM651.8 438.6l2.5 -4.3l2.5 4.3zM652.9 442.7l2.5 -4.3l2.5 4.3zM654 443.7l2.5 -4.3l2.5 4.3zM655.1 435.2l2.5 -4.3l2.5 4.3zM656.2 437.4l2.5 -4.3l2.5 4.3zM657.3 433l2.5 -4.3l2.5 4.3zM658.4 432.4l2.5 -4.3l2.5 4.3zM659.5 433.8l2.5 -4.3l2.5 4.3zM660.6 435.3l2.5 -4.3l2.5 4.3zM661.7 434l2.5 -4.3l2.5 4.3zM662.8 431.4l2.5 -4.3l2.5 4.3zM663.9 433.6l2.5 -4.3l2.5 4.3zM665 427.5l2.5 -4.3l2.5 4.3zM666.1 427.1l2.5 -4.3l2.5 4.3zM667.2 427.9l2.5 -4.3l2.5 4.3zM668.3 422.7l2.5 -4.3l2.5 4.3zM669.4 428.7l2.5 -4.3l2.5 4.3zM670.5 423.7l2.5 -4.3l2.5 4.3zM671.6 422.3l2.5 -4.3l2.5 4.3zM672.7 422.9l2.5 -4.3l2.5 4.3zM673.8 417.8l2.5 -4.3l2.5 4.3zM674.9 419.8l2.5 -4.3l2.5 4.3zM676 415.4l2.5 -4.3l2.5 4.3zM677.1 418.1l2.5 -4.3l2.5 4.3zM678.2 418l2.5 -4.3l2.5 4.3zM679.3 420.6l2.5 -4.3l2.5 4.3zM680.4 416.3l2.5 -4.3l2.5 4.3zM681.5 418.7l2.5 -4.3l2.5 4.3zM682.6 415l2.5 -4.3l2.5 4.3zM683.7 407.1l2.5 -4.3l2.5 4.3zM684.8 415.8l2.5 -4.3l2.5 4.3zM685.9 413.9l2.5 -4.3l2.5 4.3zM687 412.2l2.5 -4.3l2.5 4.3zM688.1 415.5l2.5 -4.3l2.5 4.3zM689.2 411.1l2.5 -4.3l2.5 4.3zM690.3 412.9l2.5 -4.3l2.5 4.3zM691.4 415.9l2.5 -4.3l2.5 4.3zM692.5 416.8l2.5 -4.3l2.5 4.3zM693.6 414l2.5 -4.3l2.5 4.3zM694.7 416.9l2.5 -4.3l2.5 4.3zM695.8 417.1l2.5 -4.3l2.5 4.3zM696.9 418.9l2.5 -4.3l2.5 4.3zM698 417.5l2.5 -4.3l2.5 4.3zM699.1 413.6l2.5 -4.3l2.5 4.3zM700.2 417.9l2.5 -4.3l2.5 4.3zM701.3 422.3l2.5 -4.3l2.5 4.3zM702.4 416.8l2.5 -4.3l2.5 4.3zM703.5 418.1l2.5 -4.3l2.5 4.3zM704.6 420.2l2.5 -4.3l2.5 4.3zM705.7 417.5l2.5 -4.3l2.5 4.3zM706.8 415.1l2.5 -4.3l2.5 4.3zM707.9 417.1l2.5 -4.3l2.5 4.3zM709 416.3l2.5 -4.3l2.5 4.3zM710.1 414.3l2.5 -4.3l2.5 4.3zM711.2 415.4l2.5 -4.3l2.5 4.3zM712.3 408.9l2.5 -4.3l2.5 4.3zM713.4 411.1l2.5 -4.3l2.5 4.3zM714.5 411.6l2.5 -4.3l2.5 4.3zM715.6 413.2l2.5 -4.3l2.5 4.3zM716.7 412.9l2.5 -4.3l2.5 4.3zM717.8 410.8l2.5 -4.3l2.5 4.3zM718.9 413.8l2.5 -4.3l2.5 4.3zM720 411.8l2.5 -4.3l2.5 4.3zM721.1 409.7l2.5 -4.3l2.5 4.3zM722.2 411.2l2.5 -4.3l2.5 4.3zM723.3 411.1l2.5 -4.3l2.5 4.3zM724.4 408.4l2.5 -4.3l2.5 4.3zM725.5 404.6l2.5 -4.3l2.5 4.3zM726.6 408.9l2.5 -4.3l2.5 4.3zM727.7 406.8l2.5 -4.3l2.5 4.3zM728.8 404l2.5 -4.3l2.5 4.3zM729.9 401.6l2.5 -4.3l2.5 4.3zM731 401.3l2.5 -4.3l2.5 4.3zM732.1 400.2l2.5 -4.3l2.5 4.3zM733.2 394l2.5 -4.3l2.5 4.3zM734.3 400.7l2.5 -4.3l2.5 4.3zM735.4 396l2.5 -4.3l2.5 4.3zM736.5 399.4l2.5 -4.3l2.5 4.3zM737.6 394.1l2.5 -4.3l2.5 4.3zM738.7 391.3l2.5 -4.3l2.5 4.3zM739.8 394.5l2.5 -4.3l2.5 4.3zM740.9 392.5l2.5 -4.3l2.5 4.3zM742 394.2l2.5 -4.3l2.5 4.3zM743.1 391.4l2.5 -4.3l2.5 4.3zM744.2 392.1l2.5 -4.3l2.5 4.3zM745.3 392.5l2.5 -4.3l2.5 4.3zM746.4 393.8l2.5 -4.3l2.5 4.3zM747.5 397.9l2.5 -4.3l2.5 4.3zM748.6 395.6l2.5 -4.3l2.5 4.3zM749.7 401.2l2.5 -4.3l2.5 4.3zM750.8 404.6l2.5 -4.3l2.5 4.3zM751.9 401.6l2.5 -4.3l2.5 4.3zM753 404.9l2.5 -4.3l2.5 4.3zM754.1 405.5l2.5 -4.3l2.5 4.3zM755.2 408.4l2.5 -4.3l2.5 4.3zM756.3 411.8l2.5 -4.3l2.5 4.3zM757.4 415.3l2.5 -4.3l2.5 4.3zM758.5 418l2.5 -4.3l2.5 4.3zM759.6 416.5l2.5 -4.3l2.5 4.3zM760.7 421.6l2.5 -4.3l2.5 4.3zM761.8 420.4l2.5 -4.3l2.5 4.3zM762.9 421l2.5 -4.3l2.5 4.3zM764 423.3l2.5 -4.3l2.5 4.3zM765.1 423l2.5 -4.3l2.5 4.3zM766.2 429.4l2.5 -4.3l2.5 4.3zM767.3 426.8l2.5 -4.3l2.5 4.3zM768.4 433l2.5 -4.3l2.5 4.3zM769.5 439.8l2.5 -4.3l2.5 4.3zM770.6 432.4l2.5 -4.3l2.5 4.3zM771.7 430.1l2.5 -4.3l2.5 4.3zM772.8 435.8l2.5 -4.3l2.5 4.3zM773.9 432.3l2.5 -4.3l2.5 4.3zM775 434.3l2.5 -4.3l2.5 4.3zM776.1 433.9l2.5 -4.3l2.5 4.3zM777.2 433.8l2.5 -4.3l2.5 4.3zM778.3 437.9l2.5 -4.3l2.5 4.3zM779.4 432.6l2.5 -4.3l2.5 4.3zM780.5 431.6l2.5 -4.3l2.5 4.3zM781.6 429.9l2.5 -4.3l2.5 4.3zM782.7 427.5l2.5 -4.3l2.5 4.3zM783.8 426.8l2.5 -4.3l2.5 4.3zM784.9 424.8l2.5 -4.3l2.5 4.3zM786 428.2l2.5 -4.3l2.5 4.3zM787.1 424.6l2.5 -4.3l2.5 4.3zM788.2 425.8l2.5 -4.3l2.5 4.3zM789.3 424.1l2.5 -4.3l2.5 4.3zM790.4 432.6l2.5 -4.3l2.5 4.3zM791.5 420.9l2.5 -4.3l2.5 4.3zM792.6 421.3l2.5 -4.3l2.5 4.3zM793.7 417.2l2.5 -4.3l2.5 4.3zM794.8 419.9l2.5 -4.3l2.5 4.3zM795.9 415.5l2.5 -4.3l2.5 4.3zM797 414.6l2.5 -4.3l2.5 4.3zM798.1 410l2.5 -4.3l2.5 4.3zM799.2 413.1l2.5 -4.3l2.5 4.3zM800.3 414.3l2.5 -4.3l2.5 4.3zM801.4 415.6l2.5 -4.3l2.5 4.3zM802.5 405.5l2.5 -4.3l2.5 4.3zM803.6 408.9l2.5 -4.3l2.5 4.3zM804.7 404.1l2.5 -4.3l2.5 4.3zM805.8 400.7l2.5 -4.3l2.5 4.3zM806.9 400.5l2.5 -4.3l2.5 4.3zM808 405l2.5 -4.3l2.5 4.3zM809.1 400.2l2.5 -4.3l2.5 4.3zM810.2 397l2.5 -4.3l2.5 4.3zM811.3 399.5l2.5 -4.3l2.5 4.3zM812.4 398.3l2.5 -4.3l2.5 4.3zM813.5 395.8l2.5 -4.3l2.5 4.3zM814.6 396.6l2.5 -4.3l2.5 4.3zM815.7 393.6l2.5 -4.3l2.5 4.3zM816.8 396.4l2.5 -4.3l2.5 4.3zM817.9 394.5l2.5 -4.3l2.5 4.3zM819 391.8l2.5 -4.3l2.5 4.3zM820.1 392.1l2.5 -4.3l2.5 4.3zM821.2 392.7l2.5 -4.3l2.5 4.3zM822.3 389.9l2.5 -4.3l2.5 4.3zM823.4 390.8l2.5 -4.3l2.5 4.3zM824.5 388.9l2.5 -4.3l2.5 4.3zM825.6 388l2.5 -4.3l2.5 4.3zM826.7 383.9l2.5 -4.3l2.5 4.3zM827.8 385.1l2.5 -4.3l2.5 4.3zM828.9 385.3l2.5 -4.3l2.5 4.3zM830 387.4l2.5 -4.3l2.5 4.3zM831.1 392.9l2.5 -4.3l2.5 4.3zM832.2 384.3l2.5 -4.3l2.5 4.3zM833.3 385.1l2.5 -4.3l2.5 4.3zM834.4 382.8l2.5 -4.3l2.5 4.3zM835.5 384.4l2.5 -4.3l2.5 4.3zM836.6 384.3l2.5 -4.3l2.5 4.3zM837.7 385.9l2.5 -4.3l2.5 4.3zM838.8 380.6l2.5 -4.3l2.5 4.3zM839.9 384.5l2.5 -4.3l2.5 4.3zM841 383.4l2.5 -4.3l2.5 4.3zM842.1 381.6l2.5 -4.3l2.5 4.3zM843.2 378.8l2.5 -4.3l2.5 4.3zM844.3 378.7l2.5 -4.3l2.5 4.3zM845.4 380l2.5 -4.3l2.5 4.3zM846.5 381.2l2.5 -4.3l2.5 4.3zM847.6 378.9l2.5 -4.3l2.5 4.3zM848.7 376.6l2.5 -4.3l2.5 4.3zM849.8 378.2l2.5 -4.3l2.5 4.3zM850.9 374.2l2.5 -4.3l2.5 4.3zM852 377.4l2.5 -4.3l2.5 4.3zM853.1 381.2l2.5 -4.3l2.5 4.3zM854.2 371.6l2.5 -4.3l2.5 4.3zM855.3 373.2l2.5 -4.3l2.5 4.3zM856.4 366.1l2.5 -4.3l2.5 4.3zM857.5 365.8l2.5 -4.3l2.5 4.3zM858.6 363.9l2.5 -4.3l2.5 4.3zM859.7 362.6l2.5 -4.3l2.5 4.3zM860.8 357.1l2.5 -4.3l2.5 4.3zM861.9 357.5l2.5 -4.3l2.5 4.3zM863 348.6l2.5 -4.3l2.5 4.3zM864.1 348l2.5 -4.3l2.5 4.3zM865.2 345.6l2.5 -4.3l2.5 4.3zM866.3 343.2l2.5 -4.3l2.5 4.3zM867.4 340.6l2.5 -4.3l2.5 4.3zM868.5 343.8l2.5 -4.3l2.5 4.3zM869.6 337.3l2.5 -4.3l2.5 4.3zM870.7 339.3l2.5 -4.3l2.5 4.3zM871.8 337l2.5 -4.3l2.5 4.3zM872.9 340l2.5 -4.3l2.5 4.3zM874 334.4l2.5 -4.3l2.5 4.3zM875.1 336.6l2.5 -4.3l2.5 4.3zM876.2 336.7l2.5 -4.3l2.5 4.3zM877.3 328.8l2.5 -4.3l2.5 4.3zM878.4 338.3l2.5 -4.3l2.5 4.3zM879.5 341.2l2.5 -4.3l2.5 4.3zM880.6 344l2.5 -4.3l2.5 4.3zM881.7 337.5l2.5 -4.3l2.5 4.3zM882.8 343.8l2.5 -4.3l2.5 4.3zM883.9 349.7l2.5 -4.3l2.5 4.3zM885 348.3l2.5 -4.3l2.5 4.3zM886.1 354.1l2.5 -4.3l2.5 4.3zM887.2 363.2l2.5 -4.3l2.5 4.3zM888.3 369.6l2.5 -4.3l2.5 4.3zM889.4 377.4l2.5 -4.3l2.5 4.3zM890.5 383.8l2.5 -4.3l2.5 4.3zM891.6 389.8l2.5 -4.3l2.5 4.3zM892.7 395.3l2.5 -4.3l2.5 4.3zM893.8 404.1l2.5 -4.3l2.5 4.3zM894.9 412l2.5 -4.3l2.5 4.3zM896 418.4l2.5 -4.3l2.5 4.3zM897.1 422.9l2.5 -4.3l2.5 4.3zM898.2 429.5l2.5 -4.3l2.5 4.3zM899.3 430.2l2.5 -4.3l2.5 4.3zM900.4 433.5l2.5 -4.3l2.5 4.3zM901.5 434.7l2.5 -4.3l2.5 4.3zM902.6 444.2l2.5 -4.3l2.5 4.3zM903.7 440.9l2.5 -4.3l2.5 4.3zM904.8 445l2.5 -4.3l2.5 4.3zM905.9 447l2.5 -4.3l2.5 4.3zM907 446.1l2.5 -4.3l2.5 4.3zM908.1 445.9l2.5 -4.3l2.5 4.3zM909.2 446l2.5 -4.3l2.5 4.3zM910.3 446.8l2.5 -4.3l2.5 4.3zM911.4 444.3l2.5 -4.3l2.5 4.3zM912.5 447.5l2.5 -4.3l2.5 4.3zM913.6 450.9l2.5 -4.3l2.5 4.3zM914.7 450.2l2.5 -4.3l2.5 4.3zM915.8 451.8l2.5 -4.3l2.5 4.3zM916.9 452l2.5 -4.3l2.5 4.3zM918 452.1l2.5 -4.3l2.5 4.3zM919.1 451l2.5 -4.3l2.5 4.3zM920.2 451.4l2.5 -4.3l2.5 4.3zM921.3 453.3l2.5 -4.3l2.5 4.3zM922.4 450.5l2.5 -4.3l2.5 4.3zM923.5 448.4l2.5 -4.3l2.5 4.3zM924.6 453.7l2.5 -4.3l2.5 4.3zM925.7 452l2.5 -4.3l2.5 4.3zM926.8 454.7l2.5 -4.3l2.5 4.3zM927.9 450.8l2.5 -4.3l2.5 4.3zM929 445.1l2.5 -4.3l2.5 4.3zM930.1 452.4l2.5 -4.3l2.5 4.3zM931.2 451.6l2.5 -4.3l2.5 4.3zM932.3 451.1l2.5 -4.3l2.5 4.3zM933.4 461l2.5 -4.3l2.5 4.3zM934.5 454.6l2.5 -4.3l2.5 4.3zM935.6 451.6l2.5 -4.3l2.5 4.3zM936.7 450.9l2.5 -4.3l2.5 4.3zM937.8 454.7l2.5 -4.3l2.5 4.3zM938.9 456.6l2.5 -4.3l2.5 4.3zM940 456.2l2.5 -4.3l2.5 4.3zM941.1 458.6l2.5 -4.3l2.5 4.3zM942.2 457l2.5 -4.3l2.5 4.3zM943.3 457.7l2.5 -4.3l2.5 4.3zM944.4 452.6l2.5 -4.3l2.5 4.3zM945.5 460.3l2.5 -4.3l2.5 4.3zM946.6 456.4l2.5 -4.3l2.5 4.3zM947.7 460.3l2.5 -4.3l2.5 4.3zM948.8 454.9l2.5 -4.3l2.5 4.3zM949.9 456.8l2.5 -4.3l2.5 4.3zM951 462l2.5 -4.3l2.5 4.3zM952.1 456.9l2.5 -4.3l2.5 4.3zM953.2 460.5l2.5 -4.3l2.5 4.3zM954.3 459l2.5 -4.3l2.5 4.3zM955.4 465.1l2.5 -4.3l2.5 4.3zM956.5 462.4l2.5 -4.3l2.5 4.3zM957.6 464.9l2.5 -4.3l2.5 4.3zM958.7 462.3l2.5 -4.3l2.5 4.3zM959.8 459l2.5 -4.3l2.5 4.3zM960.9 468.1l2.5 -4.3l2.5 4.3zM962 462.6l2.5 -4.3l2.5 4.3zM963.1 464.5l2.5 -4.3l2.5 4.3zM964.2 464.8l2.5 -4.3l2.5 4.3zM965.3 461.7l2.5 -4.3l2.5 4.3zM966.4 467.6l2.5 -4.3l2.5 4.3zM967.5 465.6l2.5 -4.3l2.5 4.3zM968.6 462.9l2.5 -4.3l2.5 4.3zM969.7 460.8l2.5 -4.3l2.5 4.3zM970.8 462.8l2.5 -4.3l2.5 4.3zM971.9 466.8l2.5 -4.3l2.5 4.3zM973 468.7l2.5 -4.3l2.5 4.3zM974.1 467.5l2.5 -4.3l2.5 4.3zM975.2 470.3l2.5 -4.3l2.5 4.3z" fill="#ff00ff"/><path d="M590.5 381.6h0M591.6 385.9h0M592.7 392.2h0M593.8 383.6h0M594.9 386.8h0M596 382.5h0M597.1 385.8h0M598.2 388.8h0M599.3 383.4h0M600.4 383.7h0M601.5 389.3h0M602.6 387h0M603.7 388.1h0M604.8 389h0M605.9 383.2h0M607 382.1h0M608.1 381.7h0M609.2 388h0M610.3 383h0M611.4 382.1h0M612.5 385.4h0M613.6 386.5h0M614.7 387.6h0M615.8 382.1h0M616.9 390.4h0M618 384.4h0M619.1 387.3h0M620.2 386.8h0M621.3 384.3h0M622.4 388h0M623.5 387.9h0M624.6 389.9h0M625.7 392h0M626.8 392.6h0M627.9 389.5h0M629 388.8h0M630.1 385.9h0M631.2 382.6h0M632.3 387.3h0M633.4 384.2h0M634.5 384.5h0M635.6 383.3h0M636.7 385.1h0M637.8 382.2h0M638.9 388.8h0M640 384.2h0M641.1 379.8h0M642.2 381.4h0M643.3 383.4h0M644.4 375.9h0M645.5 379h0M646.6 376.4h0M647.7 377.4h0M648.8 375.3h0M649.9 376.5h0M651 376.6h0M652.1 376.5h0M653.2 370.3h0M654.3 375.4h0M655.4 373h0M656.5 370.5h0M657.6 371.3h0M658.7 375h0M659.8 369.5h0M660.9 366.8h0M662 370.1h0M663.1 366.7h0M664.2 368h0M665.3 365.6h0M666.4 367.1h0M667.5 360.4h0M668.6 359.5h0M669.7 361.7h0M670.8 361.7h0M671.9 356.2h0M673 357.2h0M674.1 353.7h0M675.2 351.1h0M676.3 345.4h0M677.4 354.1h0M678.5 350.6h0M679.6 340.4h0M680.7 347.3h0M681.8 342.5h0M682.9 340.4h0M684 340.7h0M685.1 343.4h0M686.2 340.9h0M687.3 340.3h0M688.4 340.6h0M689.5 340.5h0M690.6 343.6h0M691.7 337.7h0M692.8 340.7h0M693.9 344.3h0M695 343.3h0M696.1 347.9h0M697.2 347.5h0M698.3 350.4h0M699.4 349.6h0M700.5 352.1h0M701.6 350.6h0M702.7 352.4h0M703.8 349.4h0M704.9 345.5h0M706 349.9h0M707.1 349.5h0M708.2 347.7h0M709.3 351.2h0M710.4 350.8h0M711.5 351.6h0M712.6 345.9h0M713.7 345.2h0M714.8 347h0M715.9 348.9h0M717 342.5h0M718.1 345h0M719.2 342.9h0M720.3 341.6h0M721.4 344.2h0M722.5 343.5h0M723.6 342.4h0M724.7 338.1h0M725.8 339.1h0M726.9 333.9h0M728 338.9h0M729.1 333.3h0M730.2 335.2h0M731.3 337.3h0M732.4 333.5h0M733.5 333.6h0M734.6 330.6h0M735.7 338.2h0M736.8 327.2h0M737.9 327.8h0M739 327.8h0M740.1 333.6h0M741.2 323.5h0M742.3 323.4h0M743.4 323.7h0M744.5 314.4h0M745.6 320.9h0M746.7 318.4h0M747.8 320.8h0M748.9 320.7h0M750 318.3h0M751.1 320.7h0M752.2 317.2h0M753.3 317.4h0M754.4 321.5h0M755.5 324.6h0M756.6 325.3h0M757.7 329.4h0M758.8 333.1h0M759.9 340h0M761 339.4h0M762.1 342.5h0M763.2 350.2h0M764.3 355h0M765.4 361.6h0M766.5 369.8h0M767.6 367.2h0M768.7 373.8h0M769.8 377.5h0M770.9 379.3h0M772 373.8h0M773.1 378.5h0M774.2 384.1h0M775.3 381.9h0M776.4 383.9h0M777.5 383h0M778.6 386.9h0M779.7 384h0M780.8 382.2h0M781.9 382.4h0M783 384.8h0M784.1 380.9h0M785.2 374.1h0M786.3 371.3h0M787.4 376.9h0M788.5 369h0M789.6 372h0M790.7 368.1h0M791.8 368.9h0M792.9 365h0M794 359.2h0M795.1 367.7h0M796.2 362.4h0M797.3 360.5h0M798.4 363.6h0M799.5 359.7h0M800.6 359.3h0M801.7 354.3h0M802.8 353.7h0M803.9 353.1h0M805 348.9h0M806.1 351.3h0M807.2 349h0M808.3 345.8h0M809.4 344.4h0M810.5 346.6h0M811.6 342.4h0M812.7 343.1h0M813.8 341.6h0M814.9 339.1h0M816 329.9h0M817.1 337.8h0M818.2 337.4h0M819.3 331.8h0M820.4 329.2h0M821.5 330.2h0M822.6 321.8h0M823.7 325.7h0M824.8 322.3h0M825.9 323.9h0M827 319.9h0M828.1 320h0M829.2 320.3h0M830.3 315.3h0M831.4 316.9h0M832.5 322h0M833.6 317.2h0M834.7 316.4h0M835.8 319.6h0M836.9 322.2h0M838 318.3h0M839.1 317.6h0M840.2 318h0M841.3 318.9h0M842.4 313.4h0M843.5 317.8h0M844.6 317h0M845.7 317.5h0M846.8 316.1h0M847.9 313.4h0M849 315.2h0M850.1 308.4h0M851.2 306.1h0M852.3 308.4h0M853.4 302.5h0M854.5 297.3h0M855.6 294.5h0M856.7 292.8h0M857.8 286.4h0M858.9 289.7h0M860 285.3h0M861.1 285.5h0M862.2 277.3h0M863.3 277h0M864.4 274.1h0M865.5 275.1h0M866.6 272.6h0M867.7 271.4h0M868.8 269h0M869.9 262h0M871 263h0M872.1 259.6h0M873.2 256.2h0M874.3 254.4h0M875.4 245.2h0M876.5 245.6h0M877.6 244.2h0M878.7 240.1h0M879.8 236.7h0M880.9 240.2h0M882 239.1h0M883.1 241.3h0M884.2 235.3h0M885.3 233.1h0M886.4 242.7h0M887.5 242.5h0M888.6 243.3h0M889.7 252.1h0M890.8 258.5h0M891.9 263.3h0M893 277.6h0M894.1 284.5h0M895.2 303.5h0M896.3 318.6h0M897.4 335.7h0M898.5 351.2h0M899.6 359.4h0M900.7 364.5h0M901.8 372.5h0M902.9 387.5h0M904 393.6h0M905.1 399.3h0M906.2 402.3h0M907.3 403.3h0M908.4 408.9h0M909.5 415.8h0M910.6 411.9h0M911.7 414.7h0M912.8 416h0M913.9 419.6h0M915 418.9h0M916.1 417.9h0M917.2 424.6h0M918.3 421.1h0M919.4 421.9h0M920.5 420h0M921.6 418.4h0M922.7 424.1h0M923.8 422.6h0M924.9 424.8h0M926 418.7h0M927.1 429.2h0M928.2 425.5h0M929.3 427.9h0M930.4 423.4h0M931.5 426.9h0M932.6 427.4h0M933.7 430.3h0M934.8 429.8h0M935.9 422.9h0M937 429.1h0M938.1 429.2h0M939.2 428.4h0M940.3 430.1h0M941.4 431.3h0M942.5 432.6h0M943.6 427.5h0M944.7 428.6h0M945.8 431.2h0M946.9 433.1h0M948 429.2h0M949.1 432.1h0M950.2 429.2h0M951.3 432.9h0M952.4 432.8h0M953.5 435.1h0M954.6 437.8h0M955.7 432.7h0M956.8 436.4h0M957.9 431.8h0M959 437.2h0M960.1 441.6h0M961.2 433.7h0M962.3 437h0M963.4 430.8h0M964.5 440.7h0M965.6 446h0M966.7 438.7h0M967.8 442.7h0M968.9 446.1h0M970 441.4h0M971.1 444.7h0M972.2 443h0M973.3 444.6h0M974.4 446.7h0M975.5 449.8h0M976.6 449h0M977.7 449.2h0" stroke="#0000ff" stroke-width="3.9" stroke-linecap="round" fill="none"/><path d="M588.8 295.5h3.4v3.4h-3.4zM589.9 297.7h3.4v3.4h-3.4zM591 295.8h3.4v3.4h-3.4zM592.1 299.7h3.4v3.4h-3.4zM593.2 299.4h3.4v3.4h-3.4zM594.3 296h3.4v3.4h-3.4zM595.4 301.3h3.4v3.4h-3.4zM596.5 301h3.4v3.4h-3.4zM597.6 301.5h3.4v3.4h-3.4zM598.7 305.6h3.4v3.4h-3.4zM599.8 304.6h3.4v3.4h-3.4zM600.9 306h3.4v3.4h-3.4zM602 303.2h3.4v3.4h-3.4zM603.1 307.9h3.4v3.4h-3.4zM604.2 302.6h3.4v3.4h-3.4zM605.3 306.7h3.4v3.4h-3.4zM606.4 301h3.4v3.4h-3.4zM607.5 305.4h3.4v3.4h-3.4zM608.6 302.2h3.4v3.4h-3.4zM609.7 301h3.4v3.4h-3.4zM610.8 306.5h3.4v3.4h-3.4zM611.9 305.3h3.4v3.4h-3.4zM613 306h3.4v3.4h-3.4zM614.1 304.7h3.4v3.4h-3.4zM615.2 305.3h3.4v3.4h-3.4zM616.3 304.4h3.4v3.4h-3.4zM617.4 304h3.4v3.4h-3.4zM618.5 304.6h3.4v3.4h-3.4zM619.6 310.2h3.4v3.4h-3.4zM620.7 301.5h3.4v3.4h-3.4zM621.8 300.1h3.4v3.4h-3.4zM622.9 301.5h3.4v3.4h-3.4zM624 302.1h3.4v3.4h-3.4zM625.1 305.1h3.4v3.4h-3.4zM626.2 306.5h3.4v3.4h-3.4zM627.3 306.5h3.4v3.4h-3.4zM628.4 302.8h3.4v3.4h-3.4zM629.5 305.1h3.4v3.4h-3.4zM630.6 307.9h3.4v3.4h-3.4zM631.7 304.5h3.4v3.4h-3.4zM632.8 306.1h3.4v3.4h-3.4zM633.9 299.9h3.4v3.4h-3.4zM635 304.5h3.4v3.4h-3.4zM636.1 306.3h3.4v3.4h-3.4zM637.2 298.5h3.4v3.4h-3.4zM638.3 301.5h3.4v3.4h-3.4zM639.4 302.7h3.4v3.4h-3.4zM640.5 298.4h3.4v3.4h-3.4zM641.6 302.7h3.4v3.4h-3.4zM642.7 302.5h3.4v3.4h-3.4zM643.8 300.4h3.4v3.4h-3.4zM644.9 298.8h3.4v3.4h-3.4zM646 298h3.4v3.4h-3.4zM647.1 298.8h3.4v3.4h-3.4zM648.2 299.9h3.4v3.4h-3.4zM649.3 292.6h3.4v3.4h-3.4zM650.4 295.7h3.4v3.4h-3.4zM651.5 294.8h3.4v3.4h-3.4zM652.6 288.6h3.4v3.4h-3.4zM653.7 288.6h3.4v3.4h-3.4zM654.8 289.7h3.4v3.4h-3.4zM655.9 285.2h3.4v3.4h-3.4zM657 289h3.4v3.4h-3.4zM658.1 286.5h3.4v3.4h-3.4zM659.2 283.2h3.4v3.4h-3.4zM660.3 284.9h3.4v3.4h-3.4zM661.4 281.2h3.4v3.4h-3.4zM662.5 280.1h3.4v3.4h-3.4zM663.6 283.5h3.4v3.4h-3.4zM664.7 276.9h3.4v3.4h-3.4zM665.8 270.6h3.4v3.4h-3.4zM666.9 276.5h3.4v3.4h-3.4zM668 271.4h3.4v3.4h-3.4zM669.1 270.3h3.4v3.4h-3.4zM670.2 275.2h3.4v3.4h-3.4zM671.3 269.6h3.4v3.4h-3.4zM672.4 270.7h3.4v3.4h-3.4zM673.5 263.8h3.4v3.4h-3.4zM674.6 263.7h3.4v3.4h-3.4zM675.7 263.2h3.4v3.4h-3.4zM676.8 266.2h3.4v3.4h-3.4zM677.9 261.6h3.4v3.4h-3.4zM679 257.3h3.4v3.4h-3.4zM680.1 263.5h3.4v3.4h-3.4zM681.2 259.4h3.4v3.4h-3.4zM682.3 260.4h3.4v3.4h-3.4zM683.4 261.8h3.4v3.4h-3.4zM684.5 265.3h3.4v3.4h-3.4zM685.6 259.6h3.4v3.4h-3.4zM686.7 264.2h3.4v3.4h-3.4zM687.8 256.9h3.4v3.4h-3.4zM688.9 261.6h3.4v3.4h-3.4zM690 262.7h3.4v3.4h-3.4zM691.1 256.9h3.4v3.4h-3.4zM692.2 261h3.4v3.4h-3.4zM693.3 262.5h3.4v3.4h-3.4zM694.4 266.5h3.4v3.4h-3.4zM695.5 264.7h3.4v3.4h-3.4zM696.6 265.6h3.4v3.4h-3.4zM697.7 265.4h3.4v3.4h-3.4zM698.8 268.9h3.4v3.4h-3.4zM699.9 268.1h3.4v3.4h-3.4zM701 268.6h3.4v3.4h-3.4zM702.1 268.7h3.4v3.4h-3.4zM703.2 271.6h3.4v3.4h-3.4zM704.3 268.3h3.4v3.4h-3.4zM705.4 270.3h3.4v3.4h-3.4zM706.5 270.4h3.4v3.4h-3.4zM707.6 271.2h3.4v3.4h-3.4zM708.7 272.7h3.4v3.4h-3.4zM709.8 270.6h3.4v3.4h-3.4zM710.9 265.7h3.4v3.4h-3.4zM712 271.3h3.4v3.4h-3.4zM713.1 271.3h3.4v3.4h-3.4zM714.2 270.7h3.4v3.4h-3.4zM715.3 268.9h3.4v3.4h-3.4zM716.4 261.8h3.4v3.4h-3.4zM717.5 264.8h3.4v3.4h-3.4zM718.6 266.4h3.4v3.4h-3.4zM719.7 265.6h3.4v3.4h-3.4zM720.8 262.4h3.4v3.4h-3.4zM721.9 262.2h3.4v3.4h-3.4zM723 258.2h3.4v3.4h-3.4zM724.1 261.4h3.4v3.4h-3.4zM725.2 254.1h3.4v3.4h-3.4zM726.3 258.2h3.4v3.4h-3.4zM727.4 260.4h3.4v3.4h-3.4zM728.5 253.9h3.4v3.4h-3.4zM729.6 259.4h3.4v3.4h-3.4zM730.7 260.3h3.4v3.4h-3.4zM731.8 255.6h3.4v3.4h-3.4zM732.9 251.9h3.4v3.4h-3.4zM734 251h3.4v3.4h-3.4zM735.1 248.1h3.4v3.4h-3.4zM736.2 252.1h3.4v3.4h-3.4zM737.3 246.2h3.4v3.4h-3.4zM738.4 248.5h3.4v3.4h-3.4zM739.5 243.9h3.4v3.4h-3.4zM740.6 246.6h3.4v3.4h-3.4zM741.7 239.9h3.4v3.4h-3.4zM742.8 241.4h3.4v3.4h-3.4zM743.9 238.1h3.4v3.4h-3.4zM745 241h3.4v3.4h-3.4zM746.1 235.9h3.4v3.4h-3.4zM747.2 235.5h3.4v3.4h-3.4zM748.3 238.2h3.4v3.4h-3.4zM749.4 232.2h3.4v3.4h-3.4zM750.5 232.3h3.4v3.4h-3.4zM751.6 236.2h3.4v3.4h-3.4zM752.7 235h3.4v3.4h-3.4zM753.8 243.7h3.4v3.4h-3.4zM754.9 241.6h3.4v3.4h-3.4zM756 244h3.4v3.4h-3.4zM757.1 244.9h3.4v3.4h-3.4zM758.2 241.8h3.4v3.4h-3.4zM759.3 259.1h3.4v3.4h-3.4zM760.4 261.9h3.4v3.4h-3.4zM761.5 263.3h3.4v3.4h-3.4zM762.6 271.3h3.4v3.4h-3.4zM763.7 279.7h3.4v3.4h-3.4zM764.8 288.7h3.4v3.4h-3.4zM765.9 291.9h3.4v3.4h-3.4zM767 297.1h3.4v3.4h-3.4zM768.1 301.3h3.4v3.4h-3.4zM769.2 301.6h3.4v3.4h-3.4zM770.3 305.7h3.4v3.4h-3.4zM771.4 310.8h3.4v3.4h-3.4zM772.5 310.3h3.4v3.4h-3.4zM773.6 316.4h3.4v3.4h-3.4zM774.7 319.9h3.4v3.4h-3.4zM775.8 312.8h3.4v3.4h-3.4zM776.9 318.3h3.4v3.4h-3.4zM778 317.8h3.4v3.4h-3.4zM779.1 318h3.4v3.4h-3.4zM780.2 321.3h3.4v3.4h-3.4zM781.3 312h3.4v3.4h-3.4zM782.4 319.3h3.4v3.4h-3.4zM783.5 314.5h3.4v3.4h-3.4zM784.6 317.6h3.4v3.4h-3.4zM785.7 308.6h3.4v3.4h-3.4zM786.8 308.9h3.4v3.4h-3.4zM787.9 306.1h3.4v3.4h-3.4zM789 306.3h3.4v3.4h-3.4zM790.1 301.3h3.4v3.4h-3.4zM791.2 300.2h3.4v3.4h-3.4zM792.3 300.4h3.4v3.4h-3.4zM793.4 301.1h3.4v3.4h-3.4zM794.5 294.5h3.4v3.4h-3.4zM795.6 295.5h3.4v3.4h-3.4zM796.7 293.2h3.4v3.4h-3.4zM797.8 294h3.4v3.4h-3.4zM798.9 293.8h3.4v3.4h-3.4zM800 286.1h3.4v3.4h-3.4zM801.1 285.6h3.4v3.4h-3.4zM802.2 285.6h3.4v3.4h-3.4zM803.3 282h3.4v3.4h-3.4zM804.4 286.5h3.4v3.4h-3.4zM805.5 285.2h3.4v3.4h-3.4zM806.6 280.5h3.4v3.4h-3.4zM807.7 277.6h3.4v3.4h-3.4zM808.8 270.9h3.4v3.4h-3.4zM809.9 268.8h3.4v3.4h-3.4zM811 270.1h3.4v3.4h-3.4zM812.1 270.6h3.4v3.4h-3.4zM813.2 263.7h3.4v3.4h-3.4zM814.3 263.5h3.4v3.4h-3.4zM815.4 265.3h3.4v3.4h-3.4zM816.5 264.1h3.4v3.4h-3.4zM817.6 255.5h3.4v3.4h-3.4zM818.7 257.4h3.4v3.4h-3.4zM819.8 257.2h3.4v3.4h-3.4zM820.9 249.7h3.4v3.4h-3.4zM822 251.6h3.4v3.4h-3.4zM823.1 252.3h3.4v3.4h-3.4zM824.2 249.5h3.4v3.4h-3.4zM825.3 251.5h3.4v3.4h-3.4zM826.4 248.5h3.4v3.4h-3.4zM827.5 244.5h3.4v3.4h-3.4zM828.6 245.3h3.4v3.4h-3.4zM829.7 242.6h3.4v3.4h-3.4zM830.8 244.4h3.4v3.4h-3.4zM831.9 249.1h3.4v3.4h-3.4zM833 248h3.4v3.4h-3.4zM834.1 248.3h3.4v3.4h-3.4zM835.2 250.1h3.4v3.4h-3.4zM836.3 243.4h3.4v3.4h-3.4zM837.4 244.7h3.4v3.4h-3.4zM838.5 245.9h3.4v3.4h-3.4zM839.6 249.5h3.4v3.4h-3.4zM840.7 245.2h3.4v3.4h-3.4zM841.8 243.3h3.4v3.4h-3.4zM842.9 243.1h3.4v3.4h-3.4zM844 235.9h3.4v3.4h-3.4zM845.1 233.8h3.4v3.4h-3.4zM846.2 238.2h3.4v3.4h-3.4zM847.3 233.7h3.4v3.4h-3.4zM848.4 233.9h3.4v3.4h-3.4zM849.5 227.5h3.4v3.4h-3.4zM850.6 226.3h3.4v3.4h-3.4zM851.7 228.8h3.4v3.4h-3.4zM852.8 225.8h3.4v3.4h-3.4zM853.9 226.2h3.4v3.4h-3.4zM855 220.5h3.4v3.4h-3.4zM856.1 220.9h3.4v3.4h-3.4zM857.2 221h3.4v3.4h-3.4zM858.3 219.8h3.4v3.4h-3.4zM859.4 215.5h3.4v3.4h-3.4zM860.5 214.2h3.4v3.4h-3.4zM861.6 210.8h3.4v3.4h-3.4zM862.7 207.8h3.4v3.4h-3.4zM863.8 205h3.4v3.4h-3.4zM864.9 203.2h3.4v3.4h-3.4zM866 195.2h3.4v3.4h-3.4zM867.1 195.2h3.4v3.4h-3.4zM868.2 189.3h3.4v3.4h-3.4zM869.3 188.8h3.4v3.4h-3.4zM870.4 183.9h3.4v3.4h-3.4zM871.5 182.4h3.4v3.4h-3.4zM872.6 177.8h3.4v3.4h-3.4zM873.7 174.6h3.4v3.4h-3.4zM874.8 167.9h3.4v3.4h-3.4zM875.9 171.7h3.4v3.4h-3.4zM877 160.9h3.4v3.4h-3.4zM878.1 155.1h3.4v3.4h-3.4zM879.2 156.6h3.4v3.4h-3.4zM880.3 153.8h3.4v3.4h-3.4zM881.4 150.4h3.4v3.4h-3.4zM882.5 150.4h3.4v3.4h-3.4zM883.6 147.3h3.4v3.4h-3.4zM884.7 162h3.4v3.4h-3.4zM885.8 157.1h3.4v3.4h-3.4zM886.9 172.4h3.4v3.4h-3.4zM888 168h3.4v3.4h-3.4zM889.1 177.3h3.4v3.4h-3.4zM890.2 188.5h3.4v3.4h-3.4zM891.3 197.8h3.4v3.4h-3.4zM892.4 210.5h3.4v3.4h-3.4zM893.5 218.9h3.4v3.4h-3.4zM894.6 234.7h3.4v3.4h-3.4zM895.7 254.2h3.4v3.4h-3.4zM896.8 283.2h3.4v3.4h-3.4zM897.9 292.4h3.4v3.4h-3.4zM899 302h3.4v3.4h-3.4zM900.1 315.4h3.4v3.4h-3.4zM901.2 331.6h3.4v3.4h-3.4zM902.3 339.9h3.4v3.4h-3.4zM903.4 343h3.4v3.4h-3.4zM904.5 350.2h3.4v3.4h-3.4zM905.6 354.6h3.4v3.4h-3.4zM906.7 357.7h3.4v3.4h-3.4zM907.8 357.9h3.4v3.4h-3.4zM908.9 362.1h3.4v3.4h-3.4zM910 358.8h3.4v3.4h-3.4zM911.1 363.3h3.4v3.4h-3.4zM912.2 361.9h3.4v3.4h-3.4zM913.3 365.2h3.4v3.4h-3.4zM914.4 364.4h3.4v3.4h-3.4zM915.5 368.5h3.4v3.4h-3.4zM916.6 366.4h3.4v3.4h-3.4zM917.7 371.3h3.4v3.4h-3.4zM918.8 366.6h3.4v3.4h-3.4zM919.9 372.5h3.4v3.4h-3.4zM921 368.4h3.4v3.4h-3.4zM922.1 365h3.4v3.4h-3.4zM923.2 369.8h3.4v3.4h-3.4zM924.3 375.5h3.4v3.4h-3.4zM925.4 374.5h3.4v3.4h-3.4zM926.5 376.1h3.4v3.4h-3.4zM927.6 374.5h3.4v3.4h-3.4zM928.7 377.2h3.4v3.4h-3.4zM929.8 374.4h3.4v3.4h-3.4zM930.9 382.1h3.4v3.4h-3.4zM932 382.4h3.4v3.4h-3.4zM933.1 379.9h3.4v3.4h-3.4zM934.2 377.7h3.4v3.4h-3.4zM935.3 376.2h3.4v3.4h-3.4zM936.4 381.6h3.4v3.4h-3.4zM937.5 381.3h3.4v3.4h-3.4zM938.6 378.4h3.4v3.4h-3.4zM939.7 382.9h3.4v3.4h-3.4zM940.8 385.9h3.4v3.4h-3.4zM941.9 383.1h3.4v3.4h-3.4zM943 383h3.4v3.4h-3.4zM944.1 382.8h3.4v3.4h-3.4zM945.2 382.5h3.4v3.4h-3.4zM946.3 382.1h3.4v3.4h-3.4zM947.4 381.6h3.4v3.4h-3.4zM948.5 386.8h3.4v3.4h-3.4zM949.6 380h3.4v3.4h-3.4zM950.7 384.8h3.4v3.4h-3.4zM951.8 387.3h3.4v3.4h-3.4zM952.9 391.6h3.4v3.4h-3.4zM954 385.4h3.4v3.4h-3.4zM955.1 390.5h3.4v3.4h-3.4zM956.2 391h3.4v3.4h-3.4zM957.3 391h3.4v3.4h-3.4zM958.4 394.1h3.4v3.4h-3.4zM959.5 385.8h3.4v3.4h-3.4zM960.6 393.6h3.4v3.4h-3.4zM961.7 391.6h3.4v3.4h-3.4zM962.8 393.8h3.4v3.4h-3.4zM963.9 393.2h3.4v3.4h-3.4zM965 392.2h3.4v3.4h-3.4zM966.1 390.4h3.4v3.4h-3.4zM967.2 397.2h3.4v3.4h-3.4zM968.3 396.4h3.4v3.4h-3.4zM969.4 394.5h3.4v3.4h-3.4zM970.5 398.5h3.4v3.4h-3.4zM971.6 396.9h3.4v3.4h-3.4zM972.7 398.5h3.4v3.4h-3.4zM973.8 402.2h3.4v3.4h-3.4zM974.9 404.7h3.4v3.4h-3.4zM976 398.7h3.4v3.4h-3.4z" fill="#ff0000"/><path d="M156.8 965.9l2.6 -2.6l2.6 2.6l-2.6 2.6zM157.8 968.3l2.6 -2.6l2.6 2.6l-2.6 2.6zM158.8 965.8l2.6 -2.6l2.6 2.6l-2.6 2.6zM159.8 967.5l2.6 -2.6l2.6 2.6l-2.6 2.6zM160.8 967.1l2.6 -2.6l2.6 2.6l-2.6 2.6zM161.8 966.4l2.6 -2.6l2.6 2.6l-2.6 2.6zM162.8 968.3l2.6 -2.6l2.6 2.6l-2.6 2.6zM163.8 965l2.6 -2.6l2.6 2.6l-2.6 2.6zM164.8 966.5l2.6 -2.6l2.6 2.6l-2.6 2.6zM165.8 966.4l2.6 -2.6l2.6 2.6l-2.6 2.6zM166.8 964.8l2.6 -2.6l2.6 2.6l-2.6 2.6zM167.8 965.1l2.6 -2.6l2.6 2.6l-2.6 2.6zM168.8 966.9l2.6 -2.6l2.6 2.6l-2.6 2.6zM169.8 967l2.6 -2.6l2.6 2.6l-2.6 2.6zM170.8 964.5l2.6 -2.6l2.6 2.6l-2.6 2.6zM171.8 967.3l2.6 -2.6l2.6 2.6l-2.6 2.6zM172.8 967.2l2.6 -2.6l2.6 2.6l-2.6 2.6zM173.8 967.5l2.6 -2.6l2.6 2.6l-2.6 2.6zM174.8 966.4l2.6 -2.6l2.6 2.6l-2.6 2.6zM175.8 966.6l2.6 -2.6l2.6 2.6l-2.6 2.6zM176.8 967.3l2.6 -2.6l2.6 2.6l-2.6 2.6zM177.8 966l2.6 -2.6l2.6 2.6l-2.6 2.6zM178.8 965.7l2.6 -2.6l2.6 2.6l-2.6 2.6zM179.8 965.3l2.6 -2.6l2.6 2.6l-2.6 2.6zM180.8 967.2l2.6 -2.6l2.6 2.6l-2.6 2.6zM181.8 968l2.6 -2.6l2.6 2.6l-2.6 2.6zM182.8 964.6l2.6 -2.6l2.6 2.6l-2.6 2.6zM183.8 966.3l2.6 -2.6l2.6 2.6l-2.6 2.6zM184.8 967.4l2.6 -2.6l2.6 2.6l-2.6 2.6zM185.8 968.2l2.6 -2.6l2.6 2.6l-2.6 2.6zM186.8 966.9l2.6 -2.6l2.6 2.6l-2.6 2.6zM187.8 965.7l2.6 -2.6l2.6 2.6l-2.6 2.6zM188.8 967.3l2.6 -2.6l2.6 2.6l-2.6 2.6zM189.8 969.1l2.6 -2.6l2.6 2.6l-2.6 2.6zM190.8 967l2.6 -2.6l2.6 2.6l-2.6 2.6zM191.8 967.3l2.6 -2.6l2.6 2.6l-2.6 2.6zM192.8 968.4l2.6 -2.6l2.6 2.6l-2.6 2.6zM193.8 965l2.6 -2.6l2.6 2.6l-2.6 2.6zM194.8 967.4l2.6 -2.6l2.6 2.6l-2.6 2.6zM195.8 968.2l2.6 -2.6l2.6 2.6l-2.6 2.6zM196.8 967.6l2.6 -2.6l2.6 2.6l-2.6 2.6zM197.8 966.8l2.6 -2.6l2.6 2.6l-2.6 2.6zM198.8 966.2l2.6 -2.6l2.6 2.6l-2.6 2.6zM199.8 965.9l2.6 -2.6l2.6 2.6l-2.6 2.6zM200.8 965.1l2.6 -2.6l2.6 2.6l-2.6 2.6zM201.8 966l2.6 -2.6l2.6 2.6l-2.6 2.6zM202.8 965.2l2.6 -2.6l2.6 2.6l-2.6 2.6zM203.8 966.4l2.6 -2.6l2.6 2.6l-2.6 2.6zM204.8 966.2l2.6 -2.6l2.6 2.6l-2.6 2.6zM205.8 965.8l2.6 -2.6l2.6 2.6l-2.6 2.6zM206.8 966l2.6 -2.6l2.6 2.6l-2.6 2.6zM207.8 966.5l2.6 -2.6l2.6 2.6l-2.6 2.6zM208.8 965.1l2.6 -2.6l2.6 2.6l-2.6 2.6zM209.8 967.1l2.6 -2.6l2.6 2.6l-2.6 2.6zM210.8 966.6l2.6 -2.6l2.6 2.6l-2.6 2.6zM211.8 967l2.6 -2.6l2.6 2.6l-2.6 2.6zM212.8 966l2.6 -2.6l2.6 2.6l-2.6 2.6zM213.8 966.1l2.6 -2.6l2.6 2.6l-2.6 2.6zM214.8 966.5l2.6 -2.6l2.6 2.6l-2.6 2.6zM215.8 966.4l2.6 -2.6l2.6 2.6l-2.6 2.6zM216.8 965.9l2.6 -2.6l2.6 2.6l-2.6 2.6zM217.8 965.7l2.6 -2.6l2.6 2.6l-2.6 2.6zM218.8 965.7l2.6 -2.6l2.6 2.6l-2.6 2.6zM219.8 965.9l2.6 -2.6l2.6 2.6l-2.6 2.6zM220.8 965.5l2.6 -2.6l2.6 2.6l-2.6 2.6zM221.8 965.4l2.6 -2.6l2.6 2.6l-2.6 2.6zM222.8 965.2l2.6 -2.6l2.6 2.6l-2.6 2.6zM223.8 967.7l2.6 -2.6l2.6 2.6l-2.6 2.6zM224.8 965.5l2.6 -2.6l2.6 2.6l-2.6 2.6zM225.8 966.1l2.6 -2.6l2.6 2.6l-2.6 2.6zM226.8 965.2l2.6 -2.6l2.6 2.6l-2.6 2.6zM227.8 966.3l2.6 -2.6l2.6 2.6l-2.6 2.6zM228.8 967.5l2.6 -2.6l2.6 2.6l-2.6 2.6zM229.8 965.4l2.6 -2.6l2.6 2.6l-2.6 2.6zM230.8 966.6l2.6 -2.6l2.6 2.6l-2.6 2.6zM231.8 966.1l2.6 -2.6l2.6 2.6l-2.6 2.6zM232.8 967l2.6 -2.6l2.6 2.6l-2.6 2.6zM233.8 966l2.6 -2.6l2.6 2.6l-2.6 2.6zM234.8 966l2.6 -2.6l2.6 2.6l-2.6 2.6zM235.8 965.9l2.6 -2.6l2.6 2.6l-2.6 2.6zM236.8 964l2.6 -2.6l2.6 2.6l-2.6 2.6zM237.8 967.1l2.6 -2.6l2.6 2.6l-2.6 2.6zM238.8 967.8l2.6 -2.6l2.6 2.6l-2.6 2.6zM239.8 965.2l2.6 -2.6l2.6 2.6l-2.6 2.6zM240.8 967l2.6 -2.6l2.6 2.6l-2.6 2.6zM241.8 966l2.6 -2.6l2.6 2.6l-2.6 2.6zM242.8 969.3l2.6 -2.6l2.6 2.6l-2.6 2.6zM243.8 965.5l2.6 -2.6l2.6 2.6l-2.6 2.6zM244.8 966.5l2.6 -2.6l2.6 2.6l-2.6 2.6zM245.8 967.4l2.6 -2.6l2.6 2.6l-2.6 2.6zM246.8 967.4l2.6 -2.6l2.6 2.6l-2.6 2.6zM247.8 966.2l2.6 -2.6l2.6 2.6l-2.6 2.6zM248.8 966.1l2.6 -2.6l2.6 2.6l-2.6 2.6zM249.8 965.4l2.6 -2.6l2.6 2.6l-2.6 2.6zM250.8 966.1l2.6 -2.6l2.6 2.6l-2.6 2.6zM251.8 964.2l2.6 -2.6l2.6 2.6l-2.6 2.6zM252.8 967.7l2.6 -2.6l2.6 2.6l-2.6 2.6zM253.8 966.6l2.6 -2.6l2.6 2.6l-2.6 2.6zM254.8 965.8l2.6 -2.6l2.6 2.6l-2.6 2.6zM255.8 964.4l2.6 -2.6l2.6 2.6l-2.6 2.6zM256.8 968.4l2.6 -2.6l2.6 2.6l-2.6 2.6zM257.8 967.4l2.6 -2.6l2.6 2.6l-2.6 2.6zM258.8 966.4l2.6 -2.6l2.6 2.6l-2.6 2.6zM259.8 966.9l2.6 -2.6l2.6 2.6l-2.6 2.6zM260.8 966.9l2.6 -2.6l2.6 2.6l-2.6 2.6zM261.8 965.9l2.6 -2.6l2.6 2.6l-2.6 2.6zM262.8 965.6l2.6 -2.6l2.6 2.6l-2.6 2.6zM263.8 966l2.6 -2.6l2.6 2.6l-2.6 2.6zM264.8 968.8l2.6 -2.6l2.6 2.6l-2.6 2.6zM265.8 965.3l2.6 -2.6l2.6 2.6l-2.6 2.6zM266.8 964.2l2.6 -2.6l2.6 2.6l-2.6 2.6zM267.8 966l2.6 -2.6l2.6 2.6l-2.6 2.6zM268.8 966l2.6 -2.6l2.6 2.6l-2.6 2.6zM269.8 965.8l2.6 -2.6l2.6 2.6l-2.6 2.6zM270.8 966l2.6 -2.6l2.6 2.6l-2.6 2.6zM271.8 964.6l2.6 -2.6l2.6 2.6l-2.6 2.6zM272.8 964.3l2.6 -2.6l2.6 2.6l-2.6 2.6zM273.8 965.4l2.6 -2.6l2.6 2.6l-2.6 2.6zM274.8 965.7l2.6 -2.6l2.6 2.6l-2.6 2.6zM275.8 966.3l2.6 -2.6l2.6 2.6l-2.6 2.6zM276.8 966.5l2.6 -2.6l2.6 2.6l-2.6 2.6zM277.8 966l2.6 -2.6l2.6 2.6l-2.6 2.6zM278.8 965.6l2.6 -2.6l2.6 2.6l-2.6 2.6zM279.8 964.7l2.6 -2.6l2.6 2.6l-2.6 2.6zM280.8 965.2l2.6 -2.6l2.6 2.6l-2.6 2.6zM281.8 964.1l2.6 -2.6l2.6 2.6l-2.6 2.6zM282.8 964.9l2.6 -2.6l2.6 2.6l-2.6 2.6zM283.8 966.1l2.6 -2.6l2.6 2.6l-2.6 2.6zM284.8 966.2l2.6 -2.6l2.6 2.6l-2.6 2.6zM285.8 964.6l2.6 -2.6l2.6 2.6l-2.6 2.6zM286.8 966.8l2.6 -2.6l2.6 2.6l-2.6 2.6zM287.8 963.2l2.6 -2.6l2.6 2.6l-2.6 2.6zM288.8 966.1l2.6 -2.6l2.6 2.6l-2.6 2.6zM289.8 965.6l2.6 -2.6l2.6 2.6l-2.6 2.6zM290.8 965.4l2.6 -2.6l2.6 2.6l-2.6 2.6zM291.8 966l2.6 -2.6l2.6 2.6l-2.6 2.6zM292.8 965.1l2.6 -2.6l2.6 2.6l-2.6 2.6zM293.8 967.9l2.6 -2.6l2.6 2.6l-2.6 2.6zM294.8 965l2.6 -2.6l2.6 2.6l-2.6 2.6zM295.8 965.2l2.6 -2.6l2.6 2.6l-2.6 2.6zM296.8 965.8l2.6 -2.6l2.6 2.6l-2.6 2.6zM297.8 963.5l2.6 -2.6l2.6 2.6l-2.6 2.6zM298.8 965.3l2.6 -2.6l2.6 2.6l-2.6 2.6zM299.8 962.7l2.6 -2.6l2.6 2.6l-2.6 2.6zM300.8 968.4l2.6 -2.6l2.6 2.6l-2.6 2.6zM301.8 964.9l2.6 -2.6l2.6 2.6l-2.6 2.6zM302.8 965.3l2.6 -2.6l2.6 2.6l-2.6 2.6zM303.8 963.6l2.6 -2.6l2.6 2.6l-2.6 2.6zM304.8 967.3l2.6 -2.6l2.6 2.6l-2.6 2.6zM305.8 963.6l2.6 -2.6l2.6 2.6l-2.6 2.6zM306.8 963.9l2.6 -2.6l2.6 2.6l-2.6 2.6zM307.8 964.6l2.6 -2.6l2.6 2.6l-2.6 2.6zM308.8 963l2.6 -2.6l2.6 2.6l-2.6 2.6zM309.8 964l2.6 -2.6l2.6 2.6l-2.6 2.6zM310.8 964.9l2.6 -2.6l2.6 2.6l-2.6 2.6zM311.8 966.4l2.6 -2.6l2.6 2.6l-2.6 2.6zM312.8 966.5l2.6 -2.6l2.6 2.6l-2.6 2.6zM313.8 964.1l2.6 -2.6l2.6 2.6l-2.6 2.6zM314.8 964.7l2.6 -2.6l2.6 2.6l-2.6 2.6zM315.8 966l2.6 -2.6l2.6 2.6l-2.6 2.6zM316.8 966.5l2.6 -2.6l2.6 2.6l-2.6 2.6zM317.8 964.4l2.6 -2.6l2.6 2.6l-2.6 2.6zM318.8 965l2.6 -2.6l2.6 2.6l-2.6 2.6zM319.8 965.2l2.6 -2.6l2.6 2.6l-2.6 2.6zM320.8 965.4l2.6 -2.6l2.6 2.6l-2.6 2.6zM321.8 964.9l2.6 -2.6l2.6 2.6l-2.6 2.6zM322.8 967.1l2.6 -2.6l2.6 2.6l-2.6 2.6zM323.8 965l2.6 -2.6l2.6 2.6l-2.6 2.6zM324.8 966.4l2.6 -2.6l2.6 2.6l-2.6 2.6zM325.8 965.7l2.6 -2.6l2.6 2.6l-2.6 2.6zM326.8 968.9l2.6 -2.6l2.6 2.6l-2.6 2.6zM327.8 966.7l2.6 -2.6l2.6 2.6l-2.6 2.6zM328.8 963.2l2.6 -2.6l2.6 2.6l-2.6 2.6zM329.8 965.8l2.6 -2.6l2.6 2.6l-2.6 2.6zM330.8 963l2.6 -2.6l2.6 2.6l-2.6 2.6zM331.8 968.1l2.6 -2.6l2.6 2.6l-2.6 2.6zM332.8 964.6l2.6 -2.6l2.6 2.6l-2.6 2.6zM333.8 962.9l2.6 -2.6l2.6 2.6l-2.6 2.6zM334.8 964.1l2.6 -2.6l2.6 2.6l-2.6 2.6zM335.8 964.7l2.6 -2.6l2.6 2.6l-2.6 2.6zM336.8 966.6l2.6 -2.6l2.6 2.6l-2.6 2.6zM337.8 965.2l2.6 -2.6l2.6 2.6l-2.6 2.6zM338.8 965.6l2.6 -2.6l2.6 2.6l-2.6 2.6zM339.8 964.4l2.6 -2.6l2.6 2.6l-2.6 2.6zM340.8 964.5l2.6 -2.6l2.6 2.6l-2.6 2.6zM341.8 963.5l2.6 -2.6l2.6 2.6l-2.6 2.6zM342.8 964.6l2.6 -2.6l2.6 2.6l-2.6 2.6zM343.8 964.7l2.6 -2.6l2.6 2.6l-2.6 2.6zM344.8 964.9l2.6 -2.6l2.6 2.6l-2.6 2.6zM345.8 964.1l2.6 -2.6l2.6 2.6l-2.6 2.6zM346.8 964.7l2.6 -2.6l2.6 2.6l-2.6 2.6zM347.8 964.4l2.6 -2.6l2.6 2.6l-2.6 2.6zM348.8 965.2l2.6 -2.6l2.6 2.6l-2.6 2.6zM349.8 964.2l2.6 -2.6l2.6 2.6l-2.6 2.6zM350.8 964.2l2.6 -2.6l2.6 2.6l-2.6 2.6zM351.8 963.9l2.6 -2.6l2.6 2.6l-2.6 2.6zM352.8 964.1l2.6 -2.6l2.6 2.6l-2.6 2.6zM353.8 964.5l2.6 -2.6l2.6 2.6l-2.6 2.6zM354.8 962.6l2.6 -2.6l2.6 2.6l-2.6 2.6zM355.8 966.1l2.6 -2.6l2.6 2.6l-2.6 2.6zM356.8 965.9l2.6 -2.6l2.6 2.6l-2.6 2.6zM357.8 965.2l2.6 -2.6l2.6 2.6l-2.6 2.6zM358.8 965.6l2.6 -2.6l2.6 2.6l-2.6 2.6zM359.8 963.5l2.6 -2.6l2.6 2.6l-2.6 2.6zM360.8 964.1l2.6 -2.6l2.6 2.6l-2.6 2.6zM361.8 964.3l2.6 -2.6l2.6 2.6l-2.6 2.6zM362.8 965l2.6 -2.6l2.6 2.6l-2.6 2.6zM363.8 965.6l2.6 -2.6l2.6 2.6l-2.6 2.6zM364.8 965.7l2.6 -2.6l2.6 2.6l-2.6 2.6zM365.8 963.2l2.6 -2.6l2.6 2.6l-2.6 2.6zM366.8 964.7l2.6 -2.6l2.6 2.6l-2.6 2.6zM367.8 965.9l2.6 -2.6l2.6 2.6l-2.6 2.6zM368.8 964.5l2.6 -2.6l2.6 2.6l-2.6 2.6zM369.8 965.2l2.6 -2.6l2.6 2.6l-2.6 2.6zM370.8 963l2.6 -2.6l2.6 2.6l-2.6 2.6zM371.8 964.8l2.6 -2.6l2.6 2.6l-2.6 2.6zM372.8 964.4l2.6 -2.6l2.6 2.6l-2.6 2.6zM373.8 962.6l2.6 -2.6l2.6 2.6l-2.6 2.6zM374.8 965.6l2.6 -2.6l2.6 2.6l-2.6 2.6zM375.8 966.2l2.6 -2.6l2.6 2.6l-2.6 2.6zM376.8 965.6l2.6 -2.6l2.6 2.6l-2.6 2.6zM377.8 964.3l2.6 -2.6l2.6 2.6l-2.6 2.6zM378.8 964.6l2.6 -2.6l2.6 2.6l-2.6 2.6zM379.8 964l2.6 -2.6l2.6 2.6l-2.6 2.6zM380.8 965.4l2.6 -2.6l2.6 2.6l-2.6 2.6zM381.8 965.2l2.6 -2.6l2.6 2.6l-2.6 2.6zM382.8 966.2l2.6 -2.6l2.6 2.6l-2.6 2.6zM383.8 964.7l2.6 -2.6l2.6 2.6l-2.6 2.6zM384.8 966.6l2.6 -2.6l2.6 2.6l-2.6 2.6zM385.8 964.2l2.6 -2.6l2.6 2.6l-2.6 2.6zM386.8 963.9l2.6 -2.6l2.6 2.6l-2.6 2.6zM387.8 964.7l2.6 -2.6l2.6 2.6l-2.6 2.6zM388.8 963.8l2.6 -2.6l2.6 2.6l-2.6 2.6zM389.8 963.8l2.6 -2.6l2.6 2.6l-2.6 2.6zM390.8 965.5l2.6 -2.6l2.6 2.6l-2.6 2.6zM391.8 965.4l2.6 -2.6l2.6 2.6l-2.6 2.6zM392.8 963l2.6 -2.6l2.6 2.6l-2.6 2.6zM393.8 963.7l2.6 -2.6l2.6 2.6l-2.6 2.6zM394.8 964.4l2.6 -2.6l2.6 2.6l-2.6 2.6zM395.8 963.9l2.6 -2.6l2.6 2.6l-2.6 2.6zM396.8 965.4l2.6 -2.6l2.6 2.6l-2.6 2.6zM397.8 964.3l2.6 -2.6l2.6 2.6l-2.6 2.6zM398.8 963.2l2.6 -2.6l2.6 2.6l-2.6 2.6zM399.8 963.7l2.6 -2.6l2.6 2.6l-2.6 2.6zM400.8 965.1l2.6 -2.6l2.6 2.6l-2.6 2.6zM401.8 966.8l2.6 -2.6l2.6 2.6l-2.6 2.6zM402.8 965.1l2.6 -2.6l2.6 2.6l-2.6 2.6zM403.8 961.6l2.6 -2.6l2.6 2.6l-2.6 2.6zM404.8 963.6l2.6 -2.6l2.6 2.6l-2.6 2.6zM405.8 964.7l2.6 -2.6l2.6 2.6l-2.6 2.6zM406.8 964.4l2.6 -2.6l2.6 2.6l-2.6 2.6zM407.8 964.7l2.6 -2.6l2.6 2.6l-2.6 2.6zM408.8 966.7l2.6 -2.6l2.6 2.6l-2.6 2.6zM409.8 963.4l2.6 -2.6l2.6 2.6l-2.6 2.6zM410.8 963.5l2.6 -2.6l2.6 2.6l-2.6 2.6zM411.8 964.5l2.6 -2.6l2.6 2.6l-2.6 2.6zM412.8 964.6l2.6 -2.6l2.6 2.6l-2.6 2.6zM413.8 964.7l2.6 -2.6l2.6 2.6l-2.6 2.6zM414.8 965.4l2.6 -2.6l2.6 2.6l-2.6 2.6zM415.8 964.5l2.6 -2.6l2.6 2.6l-2.6 2.6zM416.8 965.6l2.6 -2.6l2.6 2.6l-2.6 2.6zM417.8 964.7l2.6 -2.6l2.6 2.6l-2.6 2.6zM418.8 964.9l2.6 -2.6l2.6 2.6l-2.6 2.6zM419.8 962.7l2.6 -2.6l2.6 2.6l-2.6 2.6zM420.8 963.6l2.6 -2.6l2.6 2.6l-2.6 2.6zM421.8 963.6l2.6 -2.6l2.6 2.6l-2.6 2.6zM422.8 965.1l2.6 -2.6l2.6 2.6l-2.6 2.6zM423.8 963.8l2.6 -2.6l2.6 2.6l-2.6 2.6zM424.8 963.4l2.6 -2.6l2.6 2.6l-2.6 2.6zM425.8 963.6l2.6 -2.6l2.6 2.6l-2.6 2.6zM426.8 966.2l2.6 -2.6l2.6 2.6l-2.6 2.6zM427.8 961.2l2.6 -2.6l2.6 2.6l-2.6 2.6zM428.8 964.6l2.6 -2.6l2.6 2.6l-2.6 2.6zM429.8 964.4l2.6 -2.6l2.6 2.6l-2.6 2.6zM430.8 965.9l2.6 -2.6l2.6 2.6l-2.6 2.6zM431.8 965.1l2.6 -2.6l2.6 2.6l-2.6 2.6zM432.8 964l2.6 -2.6l2.6 2.6l-2.6 2.6zM433.8 965.3l2.6 -2.6l2.6 2.6l-2.6 2.6zM434.8 965.7l2.6 -2.6l2.6 2.6l-2.6 2.6zM435.8 964l2.6 -2.6l2.6 2.6l-2.6 2.6zM436.8 962.6l2.6 -2.6l2.6 2.6l-2.6 2.6zM437.8 963l2.6 -2.6l2.6 2.6l-2.6 2.6zM438.8 964.3l2.6 -2.6l2.6 2.6l-2.6 2.6zM439.8 963.1l2.6 -2.6l2.6 2.6l-2.6 2.6zM440.8 964.3l2.6 -2.6l2.6 2.6l-2.6 2.6zM441.8 965.3l2.6 -2.6l2.6 2.6l-2.6 2.6zM442.8 964.5l2.6 -2.6l2.6 2.6l-2.6 2.6zM443.8 966.4l2.6 -2.6l2.6 2.6l-2.6 2.6zM444.8 963.9l2.6 -2.6l2.6 2.6l-2.6 2.6zM445.8 962.6l2.6 -2.6l2.6 2.6l-2.6 2.6zM446.8 964.1l2.6 -2.6l2.6 2.6l-2.6 2.6zM447.8 964.8l2.6 -2.6l2.6 2.6l-2.6 2.6zM448.8 962.3l2.6 -2.6l2.6 2.6l-2.6 2.6zM449.8 964.1l2.6 -2.6l2.6 2.6l-2.6 2.6zM450.8 965.3l2.6 -2.6l2.6 2.6l-2.6 2.6zM451.8 963.7l2.6 -2.6l2.6 2.6l-2.6 2.6zM452.8 965.3l2.6 -2.6l2.6 2.6l-2.6 2.6zM453.8 961.7l2.6 -2.6l2.6 2.6l-2.6 2.6zM454.8 963.8l2.6 -2.6l2.6 2.6l-2.6 2.6zM455.8 961.3l2.6 -2.6l2.6 2.6l-2.6 2.6zM456.8 961.2l2.6 -2.6l2.6 2.6l-2.6 2.6zM457.8 961.3l2.6 -2.6l2.6 2.6l-2.6 2.6zM458.8 963.9l2.6 -2.6l2.6 2.6l-2.6 2.6zM459.8 962.9l2.6 -2.6l2.6 2.6l-2.6 2.6zM460.8 963.8l2.6 -2.6l2.6 2.6l-2.6 2.6zM461.8 961l2.6 -2.6l2.6 2.6l-2.6 2.6zM462.8 959.7l2.6 -2.6l2.6 2.6l-2.6 2.6zM463.8 961.8l2.6 -2.6l2.6 2.6l-2.6 2.6zM464.8 959.6l2.6 -2.6l2.6 2.6l-2.6 2.6zM465.8 958.2l2.6 -2.6l2.6 2.6l-2.6 2.6zM466.8 960.1l2.6 -2.6l2.6 2.6l-2.6 2.6zM467.8 961l2.6 -2.6l2.6 2.6l-2.6 2.6zM468.8 957.7l2.6 -2.6l2.6 2.6l-2.6 2.6zM469.8 958.5l2.6 -2.6l2.6 2.6l-2.6 2.6zM470.8 959.1l2.6 -2.6l2.6 2.6l-2.6 2.6zM471.8 958.3l2.6 -2.6l2.6 2.6l-2.6 2.6zM472.8 959.6l2.6 -2.6l2.6 2.6l-2.6 2.6zM473.8 962.1l2.6 -2.6l2.6 2.6l-2.6 2.6zM474.8 964.8l2.6 -2.6l2.6 2.6l-2.6 2.6zM475.8 962.9l2.6 -2.6l2.6 2.6l-2.6 2.6zM476.8 965.3l2.6 -2.6l2.6 2.6l-2.6 2.6zM477.8 965.3l2.6 -2.6l2.6 2.6l-2.6 2.6zM478.8 965.1l2.6 -2.6l2.6 2.6l-2.6 2.6zM479.8 964.9l2.6 -2.6l2.6 2.6l-2.6 2.6zM480.8 964.4l2.6 -2.6l2.6 2.6l-2.6 2.6zM481.8 966.2l2.6 -2.6l2.6 2.6l-2.6 2.6zM482.8 965.6l2.6 -2.6l2.6 2.6l-2.6 2.6zM483.8 963.2l2.6 -2.6l2.6 2.6l-2.6 2.6zM484.8 966.4l2.6 -2.6l2.6 2.6l-2.6 2.6zM485.8 965.3l2.6 -2.6l2.6 2.6l-2.6 2.6zM486.8 966.2l2.6 -2.6l2.6 2.6l-2.6 2.6zM487.8 968.6l2.6 -2.6l2.6 2.6l-2.6 2.6zM488.8 966.9l2.6 -2.6l2.6 2.6l-2.6 2.6zM489.8 964.4l2.6 -2.6l2.6 2.6l-2.6 2.6zM490.8 966.3l2.6 -2.6l2.6 2.6l-2.6 2.6zM491.8 965.6l2.6 -2.6l2.6 2.6l-2.6 2.6zM492.8 967.9l2.6 -2.6l2.6 2.6l-2.6 2.6zM493.8 963.3l2.6 -2.6l2.6 2.6l-2.6 2.6zM494.8 967.6l2.6 -2.6l2.6 2.6l-2.6 2.6zM495.8 967l2.6 -2.6l2.6 2.6l-2.6 2.6zM496.8 966.6l2.6 -2.6l2.6 2.6l-2.6 2.6zM497.8 967.5l2.6 -2.6l2.6 2.6l-2.6 2.6zM498.8 969l2.6 -2.6l2.6 2.6l-2.6 2.6zM499.8 965l2.6 -2.6l2.6 2.6l-2.6 2.6zM500.8 966.5l2.6 -2.6l2.6 2.6l-2.6 2.6zM501.8 967l2.6 -2.6l2.6 2.6l-2.6 2.6zM502.8 967l2.6 -2.6l2.6 2.6l-2.6 2.6zM503.8 966.7l2.6 -2.6l2.6 2.6l-2.6 2.6zM504.8 967.5l2.6 -2.6l2.6 2.6l-2.6 2.6zM505.8 967.2l2.6 -2.6l2.6 2.6l-2.6 2.6zM506.8 966.6l2.6 -2.6l2.6 2.6l-2.6 2.6zM507.8 965l2.6 -2.6l2.6 2.6l-2.6 2.6zM508.8 967.8l2.6 -2.6l2.6 2.6l-2.6 2.6zM509.8 968.6l2.6 -2.6l2.6 2.6l-2.6 2.6zM510.8 968.3l2.6 -2.6l2.6 2.6l-2.6 2.6zM511.8 967.5l2.6 -2.6l2.6 2.6l-2.6 2.6zM512.8 968.3l2.6 -2.6l2.6 2.6l-2.6 2.6zM513.8 965.4l2.6 -2.6l2.6 2.6l-2.6 2.6zM514.8 967.9l2.6 -2.6l2.6 2.6l-2.6 2.6zM515.8 967.4l2.6 -2.6l2.6 2.6l-2.6 2.6zM516.8 967l2.6 -2.6l2.6 2.6l-2.6 2.6zM517.8 968.3l2.6 -2.6l2.6 2.6l-2.6 2.6zM518.8 966.8l2.6 -2.6l2.6 2.6l-2.6 2.6zM519.8 966.6l2.6 -2.6l2.6 2.6l-2.6 2.6zM520.8 965.9l2.6 -2.6l2.6 2.6l-2.6 2.6zM521.8 965l2.6 -2.6l2.6 2.6l-2.6 2.6zM522.8 966l2.6 -2.6l2.6 2.6l-2.6 2.6zM523.8 968.8l2.6 -2.6l2.6 2.6l-2.6 2.6zM524.8 971.1l2.6 -2.6l2.6 2.6l-2.6 2.6zM525.8 966.2l2.6 -2.6l2.6 2.6l-2.6 2.6zM526.8 967l2.6 -2.6l2.6 2.6l-2.6 2.6zM527.8 968.5l2.6 -2.6l2.6 2.6l-2.6 2.6zM528.8 965.7l2.6 -2.6l2.6 2.6l-2.6 2.6zM529.8 966.3l2.6 -2.6l2.6 2.6l-2.6 2.6zM530.8 965.2l2.6 -2.6l2.6 2.6l-2.6 2.6zM531.8 968.5l2.6 -2.6l2.6 2.6l-2.6 2.6zM532.8 966l2.6 -2.6l2.6 2.6l-2.6 2.6zM533.8 966.2l2.6 -2.6l2.6 2.6l-2.6 2.6zM534.8 966.5l2.6 -2.6l2.6 2.6l-2.6 2.6zM535.8 965.6l2.6 -2.6l2.6 2.6l-2.6 2.6zM536.8 969.3l2.6 -2.6l2.6 2.6l-2.6 2.6zM537.8 967.7l2.6 -2.6l2.6 2.6l-2.6 2.6zM538.8 968.7l2.6 -2.6l2.6 2.6l-2.6 2.6zM539.8 964.1l2.6 -2.6l2.6 2.6l-2.6 2.6zM540.8 967.2l2.6 -2.6l2.6 2.6l-2.6 2.6zM541.8 966.1l2.6 -2.6l2.6 2.6l-2.6 2.6zM542.8 963.9l2.6 -2.6l2.6 2.6l-2.6 2.6zM543.8 966.2l2.6 -2.6l2.6 2.6l-2.6 2.6zM544.8 967.9l2.6 -2.6l2.6 2.6l-2.6 2.6z" fill="#800000"/><path d="M156.9 929.5l2.5 4.3l2.5 -4.3zM157.9 930.7l2.5 4.3l2.5 -4.3zM158.9 932.4l2.5 4.3l2.5 -4.3zM159.9 933.5l2.5 4.3l2.5 -4.3zM160.9 931.1l2.5 4.3l2.5 -4.3zM161.9 930.5l2.5 4.3l2.5 -4.3zM162.9 931.1l2.5 4.3l2.5 -4.3zM163.9 930.9l2.5 4.3l2.5 -4.3zM164.9 929.8l2.5 4.3l2.5 -4.3zM165.9 927.2l2.5 4.3l2.5 -4.3zM166.9 931l2.5 4.3l2.5 -4.3zM167.9 930.1l2.5 4.3l2.5 -4.3zM168.9 930.7l2.5 4.3l2.5 -4.3zM169.9 928.5l2.5 4.3l2.5 -4.3zM170.9 930.3l2.5 4.3l2.5 -4.3zM171.9 930.9l2.5 4.3l2.5 -4.3zM172.9 929.2l2.5 4.3l2.5 -4.3zM173.9 929.9l2.5 4.3l2.5 -4.3zM174.9 931.3l2.5 4.3l2.5 -4.3zM175.9 931.5l2.5 4.3l2.5 -4.3zM176.9 928.7l2.5 4.3l2.5 -4.3zM177.9 931.5l2.5 4.3l2.5 -4.3zM178.9 932.1l2.5 4.3l2.5 -4.3zM179.9 931.1l2.5 4.3l2.5 -4.3zM180.9 931.1l2.5 4.3l2.5 -4.3zM181.9 930.8l2.5 4.3l2.5 -4.3zM182.9 931.4l2.5 4.3l2.5 -4.3zM183.9 930.1l2.5 4.3l2.5 -4.3zM184.9 932l2.5 4.3l2.5 -4.3zM185.9 930.6l2.5 4.3l2.5 -4.3zM186.9 929l2.5 4.3l2.5 -4.3zM187.9 931.1l2.5 4.3l2.5 -4.3zM188.9 931.5l2.5 4.3l2.5 -4.3zM189.9 931l2.5 4.3l2.5 -4.3zM190.9 928.3l2.5 4.3l2.5 -4.3zM191.9 931.2l2.5 4.3l2.5 -4.3zM192.9 927.3l2.5 4.3l2.5 -4.3zM193.9 932.3l2.5 4.3l2.5 -4.3zM194.9 931.1l2.5 4.3l2.5 -4.3zM195.9 928.5l2.5 4.3l2.5 -4.3zM196.9 928.2l2.5 4.3l2.5 -4.3zM197.9 933l2.5 4.3l2.5 -4.3zM198.9 930.7l2.5 4.3l2.5 -4.3zM199.9 929.6l2.5 4.3l2.5 -4.3zM200.9 930.8l2.5 4.3l2.5 -4.3zM201.9 930.1l2.5 4.3l2.5 -4.3zM202.9 930.1l2.5 4.3l2.5 -4.3zM203.9 930.7l2.5 4.3l2.5 -4.3zM204.9 930.9l2.5 4.3l2.5 -4.3zM205.9 929.2l2.5 4.3l2.5 -4.3zM206.9 930.7l2.5 4.3l2.5 -4.3zM207.9 930.5l2.5 4.3l2.5 -4.3zM208.9 929.2l2.5 4.3l2.5 -4.3zM209.9 931.3l2.5 4.3l2.5 -4.3zM210.9 930.9l2.5 4.3l2.5 -4.3zM211.9 929.2l2.5 4.3l2.5 -4.3zM212.9 932.2l2.5 4.3l2.5 -4.3zM213.9 930.9l2.5 4.3l2.5 -4.3zM214.9 931.8l2.5 4.3l2.5 -4.3zM215.9 929.4l2.5 4.3l2.5 -4.3zM216.9 929.7l2.5 4.3l2.5 -4.3zM217.9 930.4l2.5 4.3l2.5 -4.3zM218.9 929.6l2.5 4.3l2.5 -4.3zM219.9 930l2.5 4.3l2.5 -4.3zM220.9 928.6l2.5 4.3l2.5 -4.3zM221.9 932.5l2.5 4.3l2.5 -4.3zM222.9 930.8l2.5 4.3l2.5 -4.3zM223.9 931.6l2.5 4.3l2.5 -4.3zM224.9 932.1l2.5 4.3l2.5 -4.3zM225.9 930.1l2.5 4.3l2.5 -4.3zM226.9 932.4l2.5 4.3l2.5 -4.3zM227.9 927.6l2.5 4.3l2.5 -4.3zM228.9 929.7l2.5 4.3l2.5 -4.3zM229.9 929.5l2.5 4.3l2.5 -4.3zM230.9 930.1l2.5 4.3l2.5 -4.3zM231.9 928.8l2.5 4.3l2.5 -4.3zM232.9 932l2.5 4.3l2.5 -4.3zM233.9 934.4l2.5 4.3l2.5 -4.3zM234.9 930.6l2.5 4.3l2.5 -4.3zM235.9 930.7l2.5 4.3l2.5 -4.3zM236.9 927.7l2.5 4.3l2.5 -4.3zM237.9 929.2l2.5 4.3l2.5 -4.3zM238.9 930.5l2.5 4.3l2.5 -4.3zM239.9 929.3l2.5 4.3l2.5 -4.3zM240.9 930.4l2.5 4.3l2.5 -4.3zM241.9 929.6l2.5 4.3l2.5 -4.3zM242.9 930.4l2.5 4.3l2.5 -4.3zM243.9 928.5l2.5 4.3l2.5 -4.3zM244.9 930.6l2.5 4.3l2.5 -4.3zM245.9 931.6l2.5 4.3l2.5 -4.3zM246.9 930.8l2.5 4.3l2.5 -4.3zM247.9 932.4l2.5 4.3l2.5 -4.3zM248.9 929.9l2.5 4.3l2.5 -4.3zM249.9 931l2.5 4.3l2.5 -4.3zM250.9 928.6l2.5 4.3l2.5 -4.3zM251.9 931.1l2.5 4.3l2.5 -4.3zM252.9 930.6l2.5 4.3l2.5 -4.3zM253.9 929.7l2.5 4.3l2.5 -4.3zM254.9 931.3l2.5 4.3l2.5 -4.3zM255.9 928.7l2.5 4.3l2.5 -4.3zM256.9 929.7l2.5 4.3l2.5 -4.3zM257.9 930.3l2.5 4.3l2.5 -4.3zM258.9 928.9l2.5 4.3l2.5 -4.3zM259.9 928.9l2.5 4.3l2.5 -4.3zM260.9 931.1l2.5 4.3l2.5 -4.3zM261.9 929.6l2.5 4.3l2.5 -4.3zM262.9 928.8l2.5 4.3l2.5 -4.3zM263.9 929.4l2.5 4.3l2.5 -4.3zM264.9 929.3l2.5 4.3l2.5 -4.3zM265.9 929.1l2.5 4.3l2.5 -4.3zM266.9 930.3l2.5 4.3l2.5 -4.3zM267.9 928.8l2.5 4.3l2.5 -4.3zM268.9 928.3l2.5 4.3l2.5 -4.3zM269.9 930l2.5 4.3l2.5 -4.3zM270.9 929.8l2.5 4.3l2.5 -4.3zM271.9 931.3l2.5 4.3l2.5 -4.3zM272.9 928.5l2.5 4.3l2.5 -4.3zM273.9 929.3l2.5 4.3l2.5 -4.3zM274.9 931l2.5 4.3l2.5 -4.3zM275.9 930.3l2.5 4.3l2.5 -4.3zM276.9 929.3l2.5 4.3l2.5 -4.3zM277.9 929l2.5 4.3l2.5 -4.3zM278.9 930.6l2.5 4.3l2.5 -4.3zM279.9 929.8l2.5 4.3l2.5 -4.3zM280.9 929l2.5 4.3l2.5 -4.3zM281.9 929.4l2.5 4.3l2.5 -4.3zM282.9 929.4l2.5 4.3l2.5 -4.3zM283.9 930.9l2.5 4.3l2.5 -4.3zM284.9 927.1l2.5 4.3l2.5 -4.3zM285.9 929.2l2.5 4.3l2.5 -4.3zM286.9 931.2l2.5 4.3l2.5 -4.3zM287.9 928l2.5 4.3l2.5 -4.3zM288.9 929.5l2.5 4.3l2.5 -4.3zM289.9 930.7l2.5 4.3l2.5 -4.3zM290.9 928.4l2.5 4.3l2.5 -4.3zM291.9 929.2l2.5 4.3l2.5 -4.3zM292.9 928.9l2.5 4.3l2.5 -4.3zM293.9 930l2.5 4.3l2.5 -4.3zM294.9 929.1l2.5 4.3l2.5 -4.3zM295.9 928.6l2.5 4.3l2.5 -4.3zM296.9 929.9l2.5 4.3l2.5 -4.3zM297.9 930l2.5 4.3l2.5 -4.3zM298.9 931l2.5 4.3l2.5 -4.3zM299.9 929.4l2.5 4.3l2.5 -4.3zM300.9 929.6l2.5 4.3l2.5 -4.3zM301.9 929.2l2.5 4.3l2.5 -4.3zM302.9 931.1l2.5 4.3l2.5 -4.3zM303.9 931.1l2.5 4.3l2.5 -4.3zM304.9 928.9l2.5 4.3l2.5 -4.3zM305.9 927.5l2.5 4.3l2.5 -4.3zM306.9 931.9l2.5 4.3l2.5 -4.3zM307.9 927.8l2.5 4.3l2.5 -4.3zM308.9 927.9l2.5 4.3l2.5 -4.3zM309.9 929.2l2.5 4.3l2.5 -4.3zM310.9 931.9l2.5 4.3l2.5 -4.3zM311.9 931l2.5 4.3l2.5 -4.3zM312.9 929.6l2.5 4.3l2.5 -4.3zM313.9 931.3l2.5 4.3l2.5 -4.3zM314.9 929.6l2.5 4.3l2.5 -4.3zM315.9 931.1l2.5 4.3l2.5 -4.3zM316.9 929.4l2.5 4.3l2.5 -4.3zM317.9 931.6l2.5 4.3l2.5 -4.3zM318.9 930.5l2.5 4.3l2.5 -4.3zM319.9 929.2l2.5 4.3l2.5 -4.3zM320.9 928l2.5 4.3l2.5 -4.3zM321.9 931.1l2.5 4.3l2.5 -4.3zM322.9 930.4l2.5 4.3l2.5 -4.3zM323.9 928.8l2.5 4.3l2.5 -4.3zM324.9 928.9l2.5 4.3l2.5 -4.3zM325.9 929.3l2.5 4.3l2.5 -4.3zM326.9 929.5l2.5 4.3l2.5 -4.3zM327.9 929.7l2.5 4.3l2.5 -4.3zM328.9 929.9l2.5 4.3l2.5 -4.3zM329.9 929.9l2.5 4.3l2.5 -4.3zM330.9 929.3l2.5 4.3l2.5 -4.3zM331.9 932.1l2.5 4.3l2.5 -4.3zM332.9 929.6l2.5 4.3l2.5 -4.3zM333.9 929.2l2.5 4.3l2.5 -4.3zM334.9 930.5l2.5 4.3l2.5 -4.3zM335.9 929l2.5 4.3l2.5 -4.3zM336.9 930.4l2.5 4.3l2.5 -4.3zM337.9 930.1l2.5 4.3l2.5 -4.3zM338.9 931.1l2.5 4.3l2.5 -4.3zM339.9 928.9l2.5 4.3l2.5 -4.3zM340.9 927.9l2.5 4.3l2.5 -4.3zM341.9 931.3l2.5 4.3l2.5 -4.3zM342.9 929.8l2.5 4.3l2.5 -4.3zM343.9 931.9l2.5 4.3l2.5 -4.3zM344.9 930.8l2.5 4.3l2.5 -4.3zM345.9 929.5l2.5 4.3l2.5 -4.3zM346.9 930.4l2.5 4.3l2.5 -4.3zM347.9 928.8l2.5 4.3l2.5 -4.3zM348.9 929l2.5 4.3l2.5 -4.3zM349.9 930.1l2.5 4.3l2.5 -4.3zM350.9 930.2l2.5 4.3l2.5 -4.3zM351.9 928.3l2.5 4.3l2.5 -4.3zM352.9 930.9l2.5 4.3l2.5 -4.3zM353.9 930.7l2.5 4.3l2.5 -4.3zM354.9 931.3l2.5 4.3l2.5 -4.3zM355.9 928.5l2.5 4.3l2.5 -4.3zM356.9 930.8l2.5 4.3l2.5 -4.3zM357.9 928.7l2.5 4.3l2.5 -4.3zM358.9 929.6l2.5 4.3l2.5 -4.3zM359.9 931.3l2.5 4.3l2.5 -4.3zM360.9 930.2l2.5 4.3l2.5 -4.3zM361.9 930.8l2.5 4.3l2.5 -4.3zM362.9 931.2l2.5 4.3l2.5 -4.3zM363.9 932.6l2.5 4.3l2.5 -4.3zM364.9 929.2l2.5 4.3l2.5 -4.3zM365.9 929.2l2.5 4.3l2.5 -4.3zM366.9 930.6l2.5 4.3l2.5 -4.3zM367.9 930.8l2.5 4.3l2.5 -4.3zM368.9 929.5l2.5 4.3l2.5 -4.3zM369.9 930.7l2.5 4.3l2.5 -4.3zM370.9 929.4l2.5 4.3l2.5 -4.3zM371.9 930l2.5 4.3l2.5 -4.3zM372.9 930.2l2.5 4.3l2.5 -4.3zM373.9 930.6l2.5 4.3l2.5 -4.3zM374.9 931.1l2.5 4.3l2.5 -4.3zM375.9 930l2.5 4.3l2.5 -4.3zM376.9 930.6l2.5 4.3l2.5 -4.3zM377.9 929.5l2.5 4.3l2.5 -4.3zM378.9 931.2l2.5 4.3l2.5 -4.3zM379.9 931.1l2.5 4.3l2.5 -4.3zM380.9 929.9l2.5 4.3l2.5 -4.3zM381.9 932.6l2.5 4.3l2.5 -4.3zM382.9 930.4l2.5 4.3l2.5 -4.3zM383.9 930.3l2.5 4.3l2.5 -4.3zM384.9 930.1l2.5 4.3l2.5 -4.3zM385.9 931l2.5 4.3l2.5 -4.3zM386.9 930.8l2.5 4.3l2.5 -4.3zM387.9 929.9l2.5 4.3l2.5 -4.3zM388.9 931.1l2.5 4.3l2.5 -4.3zM389.9 931.7l2.5 4.3l2.5 -4.3zM390.9 932.2l2.5 4.3l2.5 -4.3zM391.9 931.3l2.5 4.3l2.5 -4.3zM392.9 930.4l2.5 4.3l2.5 -4.3zM393.9 929.9l2.5 4.3l2.5 -4.3zM394.9 931.3l2.5 4.3l2.5 -4.3zM395.9 932.1l2.5 4.3l2.5 -4.3zM396.9 933.1l2.5 4.3l2.5 -4.3zM397.9 930.4l2.5 4.3l2.5 -4.3zM398.9 929.6l2.5 4.3l2.5 -4.3zM399.9 929.7l2.5 4.3l2.5 -4.3zM400.9 931.1l2.5 4.3l2.5 -4.3zM401.9 931.5l2.5 4.3l2.5 -4.3zM402.9 930l2.5 4.3l2.5 -4.3zM403.9 929.5l2.5 4.3l2.5 -4.3zM404.9 928.7l2.5 4.3l2.5 -4.3zM405.9 931.5l2.5 4.3l2.5 -4.3zM406.9 929.1l2.5 4.3l2.5 -4.3zM407.9 931.3l2.5 4.3l2.5 -4.3zM408.9 930.5l2.5 4.3l2.5 -4.3zM409.9 928.6l2.5 4.3l2.5 -4.3zM410.9 929.4l2.5 4.3l2.5 -4.3zM411.9 931.7l2.5 4.3l2.5 -4.3zM412.9 930.6l2.5 4.3l2.5 -4.3zM413.9 930.4l2.5 4.3l2.5 -4.3zM414.9 931.9l2.5 4.3l2.5 -4.3zM415.9 930.5l2.5 4.3l2.5 -4.3zM416.9 930.7l2.5 4.3l2.5 -4.3zM417.9 930.7l2.5 4.3l2.5 -4.3zM418.9 930.6l2.5 4.3l2.5 -4.3zM419.9 931.7l2.5 4.3l2.5 -4.3zM420.9 929.9l2.5 4.3l2.5 -4.3zM421.9 931.6l2.5 4.3l2.5 -4.3zM422.9 932.1l2.5 4.3l2.5 -4.3zM423.9 929.9l2.5 4.3l2.5 -4.3zM424.9 930.9l2.5 4.3l2.5 -4.3zM425.9 929.1l2.5 4.3l2.5 -4.3zM426.9 930.6l2.5 4.3l2.5 -4.3zM427.9 931.6l2.5 4.3l2.5 -4.3zM428.9 931.2l2.5 4.3l2.5 -4.3zM429.9 929.7l2.5 4.3l2.5 -4.3zM430.9 930.7l2.5 4.3l2.5 -4.3zM431.9 930.6l2.5 4.3l2.5 -4.3zM432.9 930.2l2.5 4.3l2.5 -4.3zM433.9 930.1l2.5 4.3l2.5 -4.3zM434.9 934.2l2.5 4.3l2.5 -4.3zM435.9 927.1l2.5 4.3l2.5 -4.3zM436.9 929.2l2.5 4.3l2.5 -4.3zM437.9 930.7l2.5 4.3l2.5 -4.3zM438.9 929.5l2.5 4.3l2.5 -4.3zM439.9 930l2.5 4.3l2.5 -4.3zM440.9 929.8l2.5 4.3l2.5 -4.3zM441.9 929.2l2.5 4.3l2.5 -4.3zM442.9 929.4l2.5 4.3l2.5 -4.3zM443.9 928.5l2.5 4.3l2.5 -4.3zM444.9 929.2l2.5 4.3l2.5 -4.3zM445.9 929.9l2.5 4.3l2.5 -4.3zM446.9 931.3l2.5 4.3l2.5 -4.3zM447.9 929.5l2.5 4.3l2.5 -4.3zM448.9 928.6l2.5 4.3l2.5 -4.3zM449.9 928.3l2.5 4.3l2.5 -4.3zM450.9 926.8l2.5 4.3l2.5 -4.3zM451.9 928.2l2.5 4.3l2.5 -4.3zM452.9 927.2l2.5 4.3l2.5 -4.3zM453.9 927.2l2.5 4.3l2.5 -4.3zM454.9 927.3l2.5 4.3l2.5 -4.3zM455.9 927.5l2.5 4.3l2.5 -4.3zM456.9 927.2l2.5 4.3l2.5 -4.3zM457.9 926.8l2.5 4.3l2.5 -4.3zM458.9 925.2l2.5 4.3l2.5 -4.3zM459.9 925.6l2.5 4.3l2.5 -4.3zM460.9 926.4l2.5 4.3l2.5 -4.3zM461.9 925.2l2.5 4.3l2.5 -4.3zM462.9 925.4l2.5 4.3l2.5 -4.3zM463.9 924.6l2.5 4.3l2.5 -4.3zM464.9 925.6l2.5 4.3l2.5 -4.3zM465.9 925.1l2.5 4.3l2.5 -4.3zM466.9 925.3l2.5 4.3l2.5 -4.3zM467.9 921.4l2.5 4.3l2.5 -4.3zM468.9 922l2.5 4.3l2.5 -4.3zM469.9 919.2l2.5 4.3l2.5 -4.3zM470.9 921.1l2.5 4.3l2.5 -4.3zM471.9 920.9l2.5 4.3l2.5 -4.3zM472.9 920.6l2.5 4.3l2.5 -4.3zM473.9 923.4l2.5 4.3l2.5 -4.3zM474.9 923.2l2.5 4.3l2.5 -4.3zM475.9 922.6l2.5 4.3l2.5 -4.3zM476.9 926.9l2.5 4.3l2.5 -4.3zM477.9 926.4l2.5 4.3l2.5 -4.3zM478.9 927.7l2.5 4.3l2.5 -4.3zM479.9 926.6l2.5 4.3l2.5 -4.3zM480.9 926.8l2.5 4.3l2.5 -4.3zM481.9 926.7l2.5 4.3l2.5 -4.3zM482.9 927.2l2.5 4.3l2.5 -4.3zM483.9 929.4l2.5 4.3l2.5 -4.3zM484.9 929.5l2.5 4.3l2.5 -4.3zM485.9 927.5l2.5 4.3l2.5 -4.3zM486.9 929.5l2.5 4.3l2.5 -4.3zM487.9 929.8l2.5 4.3l2.5 -4.3zM488.9 929.2l2.5 4.3l2.5 -4.3zM489.9 930.5l2.5 4.3l2.5 -4.3zM490.9 929.5l2.5 4.3l2.5 -4.3zM491.9 931.6l2.5 4.3l2.5 -4.3zM492.9 930.4l2.5 4.3l2.5 -4.3zM493.9 931l2.5 4.3l2.5 -4.3zM494.9 927.2l2.5 4.3l2.5 -4.3zM495.9 930.4l2.5 4.3l2.5 -4.3zM496.9 931l2.5 4.3l2.5 -4.3zM497.9 930.3l2.5 4.3l2.5 -4.3zM498.9 930.7l2.5 4.3l2.5 -4.3zM499.9 930l2.5 4.3l2.5 -4.3zM500.9 931.9l2.5 4.3l2.5 -4.3zM501.9 929.9l2.5 4.3l2.5 -4.3zM502.9 930.6l2.5 4.3l2.5 -4.3zM503.9 932.4l2.5 4.3l2.5 -4.3zM504.9 932.2l2.5 4.3l2.5 -4.3zM505.9 930.9l2.5 4.3l2.5 -4.3zM506.9 929.6l2.5 4.3l2.5 -4.3zM507.9 928.9l2.5 4.3l2.5 -4.3zM508.9 931.3l2.5 4.3l2.5 -4.3zM509.9 931.1l2.5 4.3l2.5 -4.3zM510.9 930.6l2.5 4.3l2.5 -4.3zM511.9 930.6l2.5 4.3l2.5 -4.3zM512.9 933.1l2.5 4.3l2.5 -4.3zM513.9 932.7l2.5 4.3l2.5 -4.3zM514.9 930.9l2.5 4.3l2.5 -4.3zM515.9 930.6l2.5 4.3l2.5 -4.3zM516.9 930.5l2.5 4.3l2.5 -4.3zM517.9 931.2l2.5 4.3l2.5 -4.3zM518.9 930.6l2.5 4.3l2.5 -4.3zM519.9 930.9l2.5 4.3l2.5 -4.3zM520.9 930.4l2.5 4.3l2.5 -4.3zM521.9 931.6l2.5 4.3l2.5 -4.3zM522.9 931l2.5 4.3l2.5 -4.3zM523.9 929.6l2.5 4.3l2.5 -4.3zM524.9 933.8l2.5 4.3l2.5 -4.3zM525.9 931l2.5 4.3l2.5 -4.3zM526.9 930.2l2.5 4.3l2.5 -4.3zM527.9 929.4l2.5 4.3l2.5 -4.3zM528.9 930.7l2.5 4.3l2.5 -4.3zM529.9 930l2.5 4.3l2.5 -4.3zM530.9 932.4l2.5 4.3l2.5 -4.3zM531.9 931.1l2.5 4.3l2.5 -4.3zM532.9 929.9l2.5 4.3l2.5 -4.3zM533.9 928.6l2.5 4.3l2.5 -4.3zM534.9 931.3l2.5 4.3l2.5 -4.3zM535.9 928.6l2.5 4.3l2.5 -4.3zM536.9 930.9l2.5 4.3l2.5 -4.3zM537.9 930.5l2.5 4.3l2.5 -4.3zM538.9 927.3l2.5 4.3l2.5 -4.3zM539.9 929.6l2.5 4.3l2.5 -4.3zM540.9 931.9l2.5 4.3l2.5 -4.3zM541.9 928.2l2.5 4.3l2.5 -4.3zM542.9 927.6l2.5 4.3l2.5 -4.3zM543.9 928.1l2.5 4.3l2.5 -4.3zM544.9 929.8l2.5 4.3l2.5 -4.3z" fill="#008000"/><path d="M156.9 885.2l2.5 -4.3l2.5 4.3zM157.9 883.2l2.5 -4.3l2.5 4.3zM158.9 885.6l2.5 -4.3l2.5 4.3zM159.9 885l2.5 -4.3l2.5 4.3zM160.9 885.7l2.5 -4.3l2.5 4.3zM161.9 884.4l2.5 -4.3l2.5 4.3zM162.9 884l2.5 -4.3l2.5 4.3zM163.9 885.1l2.5 -4.3l2.5 4.3zM164.9 887.7l2.5 -4.3l2.5 4.3zM165.9 885.3l2.5 -4.3l2.5 4.3zM166.9 883.4l2.5 -4.3l2.5 4.3zM167.9 884.7l2.5 -4.3l2.5 4.3zM168.9 884.4l2.5 -4.3l2.5 4.3zM169.9 886.3l2.5 -4.3l2.5 4.3zM170.9 884.9l2.5 -4.3l2.5 4.3zM171.9 884l2.5 -4.3l2.5 4.3zM172.9 884.9l2.5 -4.3l2.5 4.3zM173.9 883.8l2.5 -4.3l2.5 4.3zM174.9 885.3l2.5 -4.3l2.5 4.3zM175.9 883.4l2.5 -4.3l2.5 4.3zM176.9 884.1l2.5 -4.3l2.5 4.3zM177.9 885l2.5 -4.3l2.5 4.3zM178.9 883l2.5 -4.3l2.5 4.3zM179.9 883.1l2.5 -4.3l2.5 4.3zM180.9 883.7l2.5 -4.3l2.5 4.3zM181.9 886.5l2.5 -4.3l2.5 4.3zM182.9 885.7l2.5 -4.3l2.5 4.3zM183.9 884.8l2.5 -4.3l2.5 4.3zM184.9 885.9l2.5 -4.3l2.5 4.3zM185.9 885.7l2.5 -4.3l2.5 4.3zM186.9 883.9l2.5 -4.3l2.5 4.3zM187.9 883.3l2.5 -4.3l2.5 4.3zM188.9 886.2l2.5 -4.3l2.5 4.3zM189.9 883.9l2.5 -4.3l2.5 4.3zM190.9 885.5l2.5 -4.3l2.5 4.3zM191.9 882.8l2.5 -4.3l2.5 4.3zM192.9 884.6l2.5 -4.3l2.5 4.3zM193.9 883.1l2.5 -4.3l2.5 4.3zM194.9 885.5l2.5 -4.3l2.5 4.3zM195.9 885.6l2.5 -4.3l2.5 4.3zM196.9 885.7l2.5 -4.3l2.5 4.3zM197.9 885.6l2.5 -4.3l2.5 4.3zM198.9 884l2.5 -4.3l2.5 4.3zM199.9 885.1l2.5 -4.3l2.5 4.3zM200.9 885.4l2.5 -4.3l2.5 4.3zM201.9 883.5l2.5 -4.3l2.5 4.3zM202.9 885.4l2.5 -4.3l2.5 4.3zM203.9 884.9l2.5 -4.3l2.5 4.3zM204.9 885.2l2.5 -4.3l2.5 4.3zM205.9 884.3l2.5 -4.3l2.5 4.3zM206.9 884.5l2.5 -4.3l2.5 4.3zM207.9 885.2l2.5 -4.3l2.5 4.3zM208.9 884.9l2.5 -4.3l2.5 4.3zM209.9 885.3l2.5 -4.3l2.5 4.3zM210.9 882.9l2.5 -4.3l2.5 4.3zM211.9 885.7l2.5 -4.3l2.5 4.3zM212.9 883.6l2.5 -4.3l2.5 4.3zM213.9 885.8l2.5 -4.3l2.5 4.3zM214.9 882.8l2.5 -4.3l2.5 4.3zM215.9 883.8l2.5 -4.3l2.5 4.3zM216.9 884.8l2.5 -4.3l2.5 4.3zM217.9 885l2.5 -4.3l2.5 4.3zM218.9 883.9l2.5 -4.3l2.5 4.3zM219.9 883.4l2.5 -4.3l2.5 4.3zM220.9 885.2l2.5 -4.3l2.5 4.3zM221.9 885.7l2.5 -4.3l2.5 4.3zM222.9 883.4l2.5 -4.3l2.5 4.3zM223.9 883l2.5 -4.3l2.5 4.3zM224.9 883.7l2.5 -4.3l2.5 4.3zM225.9 884.3l2.5 -4.3l2.5 4.3zM226.9 882.3l2.5 -4.3l2.5 4.3zM227.9 883.2l2.5 -4.3l2.5 4.3zM228.9 885.2l2.5 -4.3l2.5 4.3zM229.9 883.4l2.5 -4.3l2.5 4.3zM230.9 883.4l2.5 -4.3l2.5 4.3zM231.9 886.2l2.5 -4.3l2.5 4.3zM232.9 885.7l2.5 -4.3l2.5 4.3zM233.9 886.4l2.5 -4.3l2.5 4.3zM234.9 884.3l2.5 -4.3l2.5 4.3zM235.9 884.2l2.5 -4.3l2.5 4.3zM236.9 883.8l2.5 -4.3l2.5 4.3zM237.9 882.5l2.5 -4.3l2.5 4.3zM238.9 881.7l2.5 -4.3l2.5 4.3zM239.9 884.2l2.5 -4.3l2.5 4.3zM240.9 883.4l2.5 -4.3l2.5 4.3zM241.9 885.1l2.5 -4.3l2.5 4.3zM242.9 885.5l2.5 -4.3l2.5 4.3zM243.9 882.4l2.5 -4.3l2.5 4.3zM244.9 882.6l2.5 -4.3l2.5 4.3zM245.9 884.5l2.5 -4.3l2.5 4.3zM246.9 886l2.5 -4.3l2.5 4.3zM247.9 886.2l2.5 -4.3l2.5 4.3zM248.9 883.4l2.5 -4.3l2.5 4.3zM249.9 884.3l2.5 -4.3l2.5 4.3zM250.9 886l2.5 -4.3l2.5 4.3zM251.9 883.3l2.5 -4.3l2.5 4.3zM252.9 881.9l2.5 -4.3l2.5 4.3zM253.9 885.9l2.5 -4.3l2.5 4.3zM254.9 883.3l2.5 -4.3l2.5 4.3zM255.9 882.7l2.5 -4.3l2.5 4.3zM256.9 886.1l2.5 -4.3l2.5 4.3zM257.9 883.7l2.5 -4.3l2.5 4.3zM258.9 883.7l2.5 -4.3l2.5 4.3zM259.9 884.9l2.5 -4.3l2.5 4.3zM260.9 886l2.5 -4.3l2.5 4.3zM261.9 885.1l2.5 -4.3l2.5 4.3zM262.9 884.5l2.5 -4.3l2.5 4.3zM263.9 884.7l2.5 -4.3l2.5 4.3zM264.9 884.7l2.5 -4.3l2.5 4.3zM265.9 884.5l2.5 -4.3l2.5 4.3zM266.9 882l2.5 -4.3l2.5 4.3zM267.9 884.5l2.5 -4.3l2.5 4.3zM268.9 882.4l2.5 -4.3l2.5 4.3zM269.9 883.2l2.5 -4.3l2.5 4.3zM270.9 884.2l2.5 -4.3l2.5 4.3zM271.9 883.9l2.5 -4.3l2.5 4.3zM272.9 884.5l2.5 -4.3l2.5 4.3zM273.9 884l2.5 -4.3l2.5 4.3zM274.9 884.6l2.5 -4.3l2.5 4.3zM275.9 886.2l2.5 -4.3l2.5 4.3zM276.9 882.6l2.5 -4.3l2.5 4.3zM277.9 885.2l2.5 -4.3l2.5 4.3zM278.9 888.5l2.5 -4.3l2.5 4.3zM279.9 883.3l2.5 -4.3l2.5 4.3zM280.9 883.4l2.5 -4.3l2.5 4.3zM281.9 883.7l2.5 -4.3l2.5 4.3zM282.9 884.4l2.5 -4.3l2.5 4.3zM283.9 882.9l2.5 -4.3l2.5 4.3zM284.9 883.3l2.5 -4.3l2.5 4.3zM285.9 883.7l2.5 -4.3l2.5 4.3zM286.9 883.8l2.5 -4.3l2.5 4.3zM287.9 885.4l2.5 -4.3l2.5 4.3zM288.9 883.1l2.5 -4.3l2.5 4.3zM289.9 884.6l2.5 -4.3l2.5 4.3zM290.9 884.6l2.5 -4.3l2.5 4.3zM291.9 883.8l2.5 -4.3l2.5 4.3zM292.9 883.7l2.5 -4.3l2.5 4.3zM293.9 882.6l2.5 -4.3l2.5 4.3zM294.9 882.7l2.5 -4.3l2.5 4.3zM295.9 884l2.5 -4.3l2.5 4.3zM296.9 883.8l2.5 -4.3l2.5 4.3zM297.9 883.1l2.5 -4.3l2.5 4.3zM298.9 884.8l2.5 -4.3l2.5 4.3zM299.9 883.6l2.5 -4.3l2.5 4.3zM300.9 883.5l2.5 -4.3l2.5 4.3zM301.9 883.1l2.5 -4.3l2.5 4.3zM302.9 884.6l2.5 -4.3l2.5 4.3zM303.9 884l2.5 -4.3l2.5 4.3zM304.9 883.7l2.5 -4.3l2.5 4.3zM305.9 881.7l2.5 -4.3l2.5 4.3zM306.9 885.3l2.5 -4.3l2.5 4.3zM307.9 881.5l2.5 -4.3l2.5 4.3zM308.9 883.7l2.5 -4.3l2.5 4.3zM309.9 881.7l2.5 -4.3l2.5 4.3zM310.9 881.2l2.5 -4.3l2.5 4.3zM311.9 879.2l2.5 -4.3l2.5 4.3zM312.9 883.2l2.5 -4.3l2.5 4.3zM313.9 883.4l2.5 -4.3l2.5 4.3zM314.9 882.5l2.5 -4.3l2.5 4.3zM315.9 881.8l2.5 -4.3l2.5 4.3zM316.9 881.2l2.5 -4.3l2.5 4.3zM317.9 882.8l2.5 -4.3l2.5 4.3zM318.9 882.5l2.5 -4.3l2.5 4.3zM319.9 881l2.5 -4.3l2.5 4.3zM320.9 882.2l2.5 -4.3l2.5 4.3zM321.9 882.4l2.5 -4.3l2.5 4.3zM322.9 881.4l2.5 -4.3l2.5 4.3zM323.9 885.4l2.5 -4.3l2.5 4.3zM324.9 881.1l2.5 -4.3l2.5 4.3zM325.9 885l2.5 -4.3l2.5 4.3zM326.9 884.1l2.5 -4.3l2.5 4.3zM327.9 882.1l2.5 -4.3l2.5 4.3zM328.9 884.6l2.5 -4.3l2.5 4.3zM329.9 884l2.5 -4.3l2.5 4.3zM330.9 884.1l2.5 -4.3l2.5 4.3zM331.9 882.8l2.5 -4.3l2.5 4.3zM332.9 881.4l2.5 -4.3l2.5 4.3zM333.9 880l2.5 -4.3l2.5 4.3zM334.9 882.9l2.5 -4.3l2.5 4.3zM335.9 882.4l2.5 -4.3l2.5 4.3zM336.9 881.8l2.5 -4.3l2.5 4.3zM337.9 885l2.5 -4.3l2.5 4.3zM338.9 883.1l2.5 -4.3l2.5 4.3zM339.9 880.7l2.5 -4.3l2.5 4.3zM340.9 882.4l2.5 -4.3l2.5 4.3zM341.9 883.1l2.5 -4.3l2.5 4.3zM342.9 879.5l2.5 -4.3l2.5 4.3zM343.9 882.8l2.5 -4.3l2.5 4.3zM344.9 882.1l2.5 -4.3l2.5 4.3zM345.9 880.7l2.5 -4.3l2.5 4.3zM346.9 883l2.5 -4.3l2.5 4.3zM347.9 883.3l2.5 -4.3l2.5 4.3zM348.9 879.4l2.5 -4.3l2.5 4.3zM349.9 883.1l2.5 -4.3l2.5 4.3zM350.9 881.8l2.5 -4.3l2.5 4.3zM351.9 882.2l2.5 -4.3l2.5 4.3zM352.9 880.6l2.5 -4.3l2.5 4.3zM353.9 881.4l2.5 -4.3l2.5 4.3zM354.9 884.8l2.5 -4.3l2.5 4.3zM355.9 883.6l2.5 -4.3l2.5 4.3zM356.9 882.6l2.5 -4.3l2.5 4.3zM357.9 882.9l2.5 -4.3l2.5 4.3zM358.9 881.9l2.5 -4.3l2.5 4.3zM359.9 882.8l2.5 -4.3l2.5 4.3zM360.9 882l2.5 -4.3l2.5 4.3zM361.9 883.7l2.5 -4.3l2.5 4.3zM362.9 881.8l2.5 -4.3l2.5 4.3zM363.9 883.5l2.5 -4.3l2.5 4.3zM364.9 884.2l2.5 -4.3l2.5 4.3zM365.9 883l2.5 -4.3l2.5 4.3zM366.9 883.7l2.5 -4.3l2.5 4.3zM367.9 883.9l2.5 -4.3l2.5 4.3zM368.9 883l2.5 -4.3l2.5 4.3zM369.9 880.3l2.5 -4.3l2.5 4.3zM370.9 885.1l2.5 -4.3l2.5 4.3zM371.9 883.9l2.5 -4.3l2.5 4.3zM372.9 883.5l2.5 -4.3l2.5 4.3zM373.9 885.5l2.5 -4.3l2.5 4.3zM374.9 883.1l2.5 -4.3l2.5 4.3zM375.9 883.5l2.5 -4.3l2.5 4.3zM376.9 883.3l2.5 -4.3l2.5 4.3zM377.9 883l2.5 -4.3l2.5 4.3zM378.9 884.2l2.5 -4.3l2.5 4.3zM379.9 882.9l2.5 -4.3l2.5 4.3zM380.9 886.1l2.5 -4.3l2.5 4.3zM381.9 883.7l2.5 -4.3l2.5 4.3zM382.9 886l2.5 -4.3l2.5 4.3zM383.9 883.5l2.5 -4.3l2.5 4.3zM384.9 884.2l2.5 -4.3l2.5 4.3zM385.9 884.7l2.5 -4.3l2.5 4.3zM386.9 883.6l2.5 -4.3l2.5 4.3zM387.9 885.5l2.5 -4.3l2.5 4.3zM388.9 884l2.5 -4.3l2.5 4.3zM389.9 883.9l2.5 -4.3l2.5 4.3zM390.9 885.6l2.5 -4.3l2.5 4.3zM391.9 883.8l2.5 -4.3l2.5 4.3zM392.9 885.5l2.5 -4.3l2.5 4.3zM393.9 886l2.5 -4.3l2.5 4.3zM394.9 885.7l2.5 -4.3l2.5 4.3zM395.9 886.4l2.5 -4.3l2.5 4.3zM396.9 883.7l2.5 -4.3l2.5 4.3zM397.9 886.2l2.5 -4.3l2.5 4.3zM398.9 884l2.5 -4.3l2.5 4.3zM399.9 882.7l2.5 -4.3l2.5 4.3zM400.9 884.4l2.5 -4.3l2.5 4.3zM401.9 886.9l2.5 -4.3l2.5 4.3zM402.9 883.4l2.5 -4.3l2.5 4.3zM403.9 886.7l2.5 -4.3l2.5 4.3zM404.9 881.1l2.5 -4.3l2.5 4.3zM405.9 885.6l2.5 -4.3l2.5 4.3zM406.9 885.1l2.5 -4.3l2.5 4.3zM407.9 883.9l2.5 -4.3l2.5 4.3zM408.9 881.7l2.5 -4.3l2.5 4.3zM409.9 885.2l2.5 -4.3l2.5 4.3zM410.9 885.1l2.5 -4.3l2.5 4.3zM411.9 884.9l2.5 -4.3l2.5 4.3zM412.9 885.5l2.5 -4.3l2.5 4.3zM413.9 883.3l2.5 -4.3l2.5 4.3zM414.9 886.7l2.5 -4.3l2.5 4.3zM415.9 885.3l2.5 -4.3l2.5 4.3zM416.9 883.3l2.5 -4.3l2.5 4.3zM417.9 886.8l2.5 -4.3l2.5 4.3zM418.9 884.2l2.5 -4.3l2.5 4.3zM419.9 884.7l2.5 -4.3l2.5 4.3zM420.9 885.1l2.5 -4.3l2.5 4.3zM421.9 883l2.5 -4.3l2.5 4.3zM422.9 882.9l2.5 -4.3l2.5 4.3zM423.9 883.8l2.5 -4.3l2.5 4.3zM424.9 882.6l2.5 -4.3l2.5 4.3zM425.9 883.7l2.5 -4.3l2.5 4.3zM426.9 885.6l2.5 -4.3l2.5 4.3zM427.9 882.5l2.5 -4.3l2.5 4.3zM428.9 883.9l2.5 -4.3l2.5 4.3zM429.9 883.1l2.5 -4.3l2.5 4.3zM430.9 884.8l2.5 -4.3l2.5 4.3zM431.9 882.4l2.5 -4.3l2.5 4.3zM432.9 882.4l2.5 -4.3l2.5 4.3zM433.9 883.5l2.5 -4.3l2.5 4.3zM434.9 886.1l2.5 -4.3l2.5 4.3zM435.9 882.5l2.5 -4.3l2.5 4.3zM436.9 881.6l2.5 -4.3l2.5 4.3zM437.9 882.4l2.5 -4.3l2.5 4.3zM438.9 884.4l2.5 -4.3l2.5 4.3zM439.9 884.7l2.5 -4.3l2.5 4.3zM440.9 883.5l2.5 -4.3l2.5 4.3zM441.9 883.9l2.5 -4.3l2.5 4.3zM442.9 881.9l2.5 -4.3l2.5 4.3zM443.9 884l2.5 -4.3l2.5 4.3zM444.9 883.4l2.5 -4.3l2.5 4.3zM445.9 882.8l2.5 -4.3l2.5 4.3zM446.9 884.9l2.5 -4.3l2.5 4.3zM447.9 885l2.5 -4.3l2.5 4.3zM448.9 883.3l2.5 -4.3l2.5 4.3zM449.9 884.4l2.5 -4.3l2.5 4.3zM450.9 881.8l2.5 -4.3l2.5 4.3zM451.9 883l2.5 -4.3l2.5 4.3zM452.9 885.9l2.5 -4.3l2.5 4.3zM453.9 883.1l2.5 -4.3l2.5 4.3zM454.9 883.4l2.5 -4.3l2.5 4.3zM455.9 885.9l2.5 -4.3l2.5 4.3zM456.9 881.9l2.5 -4.3l2.5 4.3zM457.9 883.7l2.5 -4.3l2.5 4.3zM458.9 884.9l2.5 -4.3l2.5 4.3zM459.9 882.5l2.5 -4.3l2.5 4.3zM460.9 880.7l2.5 -4.3l2.5 4.3zM461.9 877.6l2.5 -4.3l2.5 4.3zM462.9 878.8l2.5 -4.3l2.5 4.3zM463.9 875.8l2.5 -4.3l2.5 4.3zM464.9 875.6l2.5 -4.3l2.5 4.3zM465.9 873.6l2.5 -4.3l2.5 4.3zM466.9 872.2l2.5 -4.3l2.5 4.3zM467.9 871.6l2.5 -4.3l2.5 4.3zM468.9 867.9l2.5 -4.3l2.5 4.3zM469.9 866.1l2.5 -4.3l2.5 4.3zM470.9 867l2.5 -4.3l2.5 4.3zM471.9 868l2.5 -4.3l2.5 4.3zM472.9 868.8l2.5 -4.3l2.5 4.3zM473.9 868.7l2.5 -4.3l2.5 4.3zM474.9 873.4l2.5 -4.3l2.5 4.3zM475.9 872.3l2.5 -4.3l2.5 4.3zM476.9 874.6l2.5 -4.3l2.5 4.3zM477.9 881l2.5 -4.3l2.5 4.3zM478.9 884.1l2.5 -4.3l2.5 4.3zM479.9 883.2l2.5 -4.3l2.5 4.3zM480.9 882.9l2.5 -4.3l2.5 4.3zM481.9 885.9l2.5 -4.3l2.5 4.3zM482.9 883l2.5 -4.3l2.5 4.3zM483.9 884.9l2.5 -4.3l2.5 4.3zM484.9 884.5l2.5 -4.3l2.5 4.3zM485.9 886.2l2.5 -4.3l2.5 4.3zM486.9 886l2.5 -4.3l2.5 4.3zM487.9 884.9l2.5 -4.3l2.5 4.3zM488.9 887.4l2.5 -4.3l2.5 4.3zM489.9 887.1l2.5 -4.3l2.5 4.3zM490.9 886.4l2.5 -4.3l2.5 4.3zM491.9 886.1l2.5 -4.3l2.5 4.3zM492.9 886.5l2.5 -4.3l2.5 4.3zM493.9 885.1l2.5 -4.3l2.5 4.3zM494.9 886.4l2.5 -4.3l2.5 4.3zM495.9 886.5l2.5 -4.3l2.5 4.3zM496.9 887.4l2.5 -4.3l2.5 4.3zM497.9 886.5l2.5 -4.3l2.5 4.3zM498.9 886.3l2.5 -4.3l2.5 4.3zM499.9 887.1l2.5 -4.3l2.5 4.3zM500.9 887.9l2.5 -4.3l2.5 4.3zM501.9 887.5l2.5 -4.3l2.5 4.3zM502.9 886.6l2.5 -4.3l2.5 4.3zM503.9 886.3l2.5 -4.3l2.5 4.3zM504.9 888.4l2.5 -4.3l2.5 4.3zM505.9 886.8l2.5 -4.3l2.5 4.3zM506.9 885.4l2.5 -4.3l2.5 4.3zM507.9 887.1l2.5 -4.3l2.5 4.3zM508.9 884.7l2.5 -4.3l2.5 4.3zM509.9 886.2l2.5 -4.3l2.5 4.3zM510.9 887.6l2.5 -4.3l2.5 4.3zM511.9 886.6l2.5 -4.3l2.5 4.3zM512.9 886.4l2.5 -4.3l2.5 4.3zM513.9 887.7l2.5 -4.3l2.5 4.3zM514.9 888.2l2.5 -4.3l2.5 4.3zM515.9 885.7l2.5 -4.3l2.5 4.3zM516.9 885.4l2.5 -4.3l2.5 4.3zM517.9 886l2.5 -4.3l2.5 4.3zM518.9 885.4l2.5 -4.3l2.5 4.3zM519.9 887.4l2.5 -4.3l2.5 4.3zM520.9 887.7l2.5 -4.3l2.5 4.3zM521.9 886.7l2.5 -4.3l2.5 4.3zM522.9 885.5l2.5 -4.3l2.5 4.3zM523.9 884.9l2.5 -4.3l2.5 4.3zM524.9 886.6l2.5 -4.3l2.5 4.3zM525.9 885.8l2.5 -4.3l2.5 4.3zM526.9 887.3l2.5 -4.3l2.5 4.3zM527.9 885.3l2.5 -4.3l2.5 4.3zM528.9 886.1l2.5 -4.3l2.5 4.3zM529.9 886.3l2.5 -4.3l2.5 4.3zM530.9 888l2.5 -4.3l2.5 4.3zM531.9 887.7l2.5 -4.3l2.5 4.3zM532.9 887.4l2.5 -4.3l2.5 4.3zM533.9 887l2.5 -4.3l2.5 4.3zM534.9 887.6l2.5 -4.3l2.5 4.3zM535.9 884.6l2.5 -4.3l2.5 4.3zM536.9 887.9l2.5 -4.3l2.5 4.3zM537.9 886.5l2.5 -4.3l2.5 4.3zM538.9 888.6l2.5 -4.3l2.5 4.3zM539.9 887.9l2.5 -4.3l2.5 4.3zM540.9 888.2l2.5 -4.3l2.5 4.3zM541.9 885.2l2.5 -4.3l2.5 4.3zM542.9 890.3l2.5 -4.3l2.5 4.3zM543.9 887.5l2.5 -4.3l2.5 4.3zM544.9 887.2l2.5 -4.3l2.5 4.3z" fill="#ff00ff"/><path d="M159.4 817.2h0M160.4 818h0M161.4 818.2h0M162.4 817.5h0M163.4 817.7h0M164.4 818.7h0M165.4 818.6h0M166.4 817.5h0M167.4 812.2h0M168.4 813.8h0M169.4 816.9h0M170.4 819.2h0M171.4 818.2h0M172.4 820.1h0M173.4 818.2h0M174.4 818.1h0M175.4 817h0M176.4 819.3h0M177.4 815.5h0M178.4 818h0M179.4 817.2h0M180.4 816.7h0M181.4 818.9h0M182.4 818.5h0M183.4 818.1h0M184.4 816.7h0M185.4 815.3h0M186.4 815.5h0M187.4 813.7h0M188.4 815.5h0M189.4 817.9h0M190.4 819.5h0M191.4 815.8h0M192.4 819.3h0M193.4 820.3h0M194.4 819.1h0M195.4 820h0M196.4 817.4h0M197.4 816.7h0M198.4 817.8h0M199.4 818.8h0M200.4 818h0M201.4 817.5h0M202.4 818.4h0M203.4 815.8h0M204.4 818.2h0M205.4 814h0M206.4 821.4h0M207.4 818.9h0M208.4 820.2h0M209.4 815.2h0M210.4 815.6h0M211.4 814.8h0M212.4 814.1h0M213.4 812.6h0M214.4 817.2h0M215.4 815.5h0M216.4 815.5h0M217.4 812.9h0M218.4 815.7h0M219.4 818.3h0M220.4 815.4h0M221.4 816.3h0M222.4 813.1h0M223.4 816.4h0M224.4 814.5h0M225.4 814.6h0M226.4 814.8h0M227.4 813.7h0M228.4 814.9h0M229.4 813.5h0M230.4 812.7h0M231.4 811.4h0M232.4 811h0M233.4 813.7h0M234.4 813.7h0M235.4 811.6h0M236.4 811.2h0M237.4 810.3h0M238.4 811.2h0M239.4 815.1h0M240.4 810.8h0M241.4 809.5h0M242.4 811.7h0M243.4 811.2h0M244.4 807.3h0M245.4 809.2h0M246.4 811.8h0M247.4 810.5h0M248.4 809.7h0M249.4 810.4h0M250.4 808h0M251.4 808h0M252.4 809.5h0M253.4 809.8h0M254.4 812.1h0M255.4 809.5h0M256.4 810.1h0M257.4 811.9h0M258.4 808.7h0M259.4 809.1h0M260.4 809.6h0M261.4 809.9h0M262.4 809.7h0M263.4 810.5h0M264.4 807.6h0M265.4 807.4h0M266.4 809.3h0M267.4 806.9h0M268.4 811.7h0M269.4 808.1h0M270.4 808.4h0M271.4 810.2h0M272.4 809.7h0M273.4 810h0M274.4 809.1h0M275.4 807.1h0M276.4 808.8h0M277.4 808h0M278.4 804.1h0M279.4 808.5h0M280.4 810.3h0M281.4 807.4h0M282.4 807.6h0M283.4 807.5h0M284.4 809.6h0M285.4 805.3h0M286.4 808.9h0M287.4 808.3h0M288.4 807.8h0M289.4 806.4h0M290.4 807.3h0M291.4 810.4h0M292.4 807.7h0M293.4 806.6h0M294.4 808.4h0M295.4 805.1h0M296.4 808.6h0M297.4 806.7h0M298.4 810.5h0M299.4 810h0M300.4 807.6h0M301.4 807.3h0M302.4 806h0M303.4 807.5h0M304.4 807.7h0M305.4 804.6h0M306.4 804.4h0M307.4 807.5h0M308.4 805.8h0M309.4 806.9h0M310.4 806.8h0M311.4 806.9h0M312.4 806.3h0M313.4 807.5h0M314.4 808.8h0M315.4 809.1h0M316.4 806.1h0M317.4 806.8h0M318.4 806.7h0M319.4 804.3h0M320.4 804.3h0M321.4 806.4h0M322.4 807.3h0M323.4 807.7h0M324.4 805.6h0M325.4 807.6h0M326.4 806.4h0M327.4 805.9h0M328.4 808h0M329.4 804h0M330.4 803.1h0M331.4 809.5h0M332.4 806.5h0M333.4 807.7h0M334.4 806.4h0M335.4 805.5h0M336.4 804.8h0M337.4 803.8h0M338.4 806.8h0M339.4 805h0M340.4 806.3h0M341.4 807h0M342.4 806.4h0M343.4 806.9h0M344.4 809.4h0M345.4 808.3h0M346.4 809.1h0M347.4 809.5h0M348.4 812.8h0M349.4 813.5h0M350.4 811.6h0M351.4 813.7h0M352.4 813.3h0M353.4 812.9h0M354.4 812.2h0M355.4 816.2h0M356.4 814.2h0M357.4 810.1h0M358.4 814.8h0M359.4 815.7h0M360.4 813.4h0M361.4 812.7h0M362.4 812.8h0M363.4 813.8h0M364.4 811.4h0M365.4 812.6h0M366.4 809.6h0M367.4 813.4h0M368.4 809.7h0M369.4 810.7h0M370.4 811.7h0M371.4 812.4h0M372.4 809.6h0M373.4 809.5h0M374.4 812.6h0M375.4 809.1h0M376.4 808.6h0M377.4 808.9h0M378.4 811.5h0M379.4 810.2h0M380.4 810.4h0M381.4 810h0M382.4 807.8h0M383.4 808.9h0M384.4 809.1h0M385.4 806h0M386.4 806.6h0M387.4 807.3h0M388.4 809.6h0M389.4 806.5h0M390.4 806.9h0M391.4 806.8h0M392.4 807.2h0M393.4 807.5h0M394.4 804.9h0M395.4 802.1h0M396.4 807.5h0M397.4 800h0M398.4 806.7h0M399.4 806.8h0M400.4 807.2h0M401.4 803.1h0M402.4 806.6h0M403.4 807.1h0M404.4 807.1h0M405.4 807.9h0M406.4 804.5h0M407.4 805.2h0M408.4 805.2h0M409.4 805.8h0M410.4 807.4h0M411.4 807h0M412.4 805.9h0M413.4 808.3h0M414.4 806.5h0M415.4 803.7h0M416.4 807.3h0M417.4 803.2h0M418.4 801.1h0M419.4 803.9h0M420.4 803.5h0M421.4 803.7h0M422.4 803.5h0M423.4 801.9h0M424.4 801.5h0M425.4 803.2h0M426.4 802.2h0M427.4 801h0M428.4 799.6h0M429.4 800.4h0M430.4 798.5h0M431.4 797.6h0M432.4 802.2h0M433.4 799.8h0M434.4 797.9h0M435.4 800.6h0M436.4 797.7h0M437.4 798.6h0M438.4 798.1h0M439.4 797.2h0M440.4 797h0M441.4 798.8h0M442.4 797.6h0M443.4 793.2h0M444.4 796.6h0M445.4 792.2h0M446.4 793.7h0M447.4 795.8h0M448.4 793.3h0M449.4 796.8h0M450.4 794.3h0M451.4 795.7h0M452.4 795.5h0M453.4 796.8h0M454.4 798.4h0M455.4 795.1h0M456.4 798.3h0M457.4 799.7h0M458.4 801.9h0M459.4 802.1h0M460.4 801.5h0M461.4 800.2h0M462.4 799.9h0M463.4 799.7h0M464.4 802.6h0M465.4 802.6h0M466.4 804.5h0M467.4 802.7h0M468.4 800.7h0M469.4 792.3h0M470.4 790.3h0M471.4 786.7h0M472.4 784.7h0M473.4 787.2h0M474.4 788.6h0M475.4 794h0M476.4 799.8h0M477.4 801.6h0M478.4 804.5h0M479.4 813.1h0M480.4 813.2h0M481.4 815.6h0M482.4 817.8h0M483.4 817.8h0M484.4 818.4h0M485.4 817.9h0M486.4 820h0M487.4 819.6h0M488.4 821.6h0M489.4 822.6h0M490.4 818.9h0M491.4 821.7h0M492.4 820.2h0M493.4 824.2h0M494.4 821.4h0M495.4 822.7h0M496.4 820.6h0M497.4 823.3h0M498.4 820.4h0M499.4 819.7h0M500.4 814.4h0M501.4 821.7h0M502.4 821.2h0M503.4 822.1h0M504.4 820.6h0M505.4 821.9h0M506.4 822h0M507.4 820.4h0M508.4 828h0M509.4 825.5h0M510.4 823.1h0M511.4 823.1h0M512.4 824.4h0M513.4 823.4h0M514.4 821.2h0M515.4 822.9h0M516.4 825.2h0M517.4 822.3h0M518.4 822.2h0M519.4 821.3h0M520.4 822.1h0M521.4 816.3h0M522.4 822.8h0M523.4 826.3h0M524.4 823.5h0M525.4 823.4h0M526.4 823.3h0M527.4 823.4h0M528.4 821.8h0M529.4 820.7h0M530.4 826.5h0M531.4 824.6h0M532.4 820.6h0M533.4 826.5h0M534.4 823.6h0M535.4 825.8h0M536.4 824.3h0M537.4 823.7h0M538.4 826.1h0M539.4 824.4h0M540.4 817.8h0M541.4 826.1h0M542.4 825.3h0M543.4 825.5h0M544.4 825.3h0M545.4 826.6h0" stroke="#0000ff" stroke-width="3.9" stroke-linecap="round" fill="none"/><path d="M156.6 740.9h3.4v3.4h-3.4zM157.6 741h3.4v3.4h-3.4zM158.6 741.8h3.4v3.4h-3.4zM159.6 741.6h3.4v3.4h-3.4zM160.6 738.7h3.4v3.4h-3.4zM161.6 741.4h3.4v3.4h-3.4zM162.6 741.7h3.4v3.4h-3.4zM163.6 745.4h3.4v3.4h-3.4zM164.6 743.7h3.4v3.4h-3.4zM165.6 742.4h3.4v3.4h-3.4zM166.6 743h3.4v3.4h-3.4zM167.6 742.4h3.4v3.4h-3.4zM168.6 745.5h3.4v3.4h-3.4zM169.6 742.7h3.4v3.4h-3.4zM170.6 741.5h3.4v3.4h-3.4zM171.6 749.4h3.4v3.4h-3.4zM172.6 742h3.4v3.4h-3.4zM173.6 742.3h3.4v3.4h-3.4zM174.6 741.8h3.4v3.4h-3.4zM175.6 744h3.4v3.4h-3.4zM176.6 742.3h3.4v3.4h-3.4zM177.6 742.2h3.4v3.4h-3.4zM178.6 745h3.4v3.4h-3.4zM179.6 745.7h3.4v3.4h-3.4zM180.6 744h3.4v3.4h-3.4zM181.6 741.8h3.4v3.4h-3.4zM182.6 744.2h3.4v3.4h-3.4zM183.6 742.5h3.4v3.4h-3.4zM184.6 743.9h3.4v3.4h-3.4zM185.6 743.9h3.4v3.4h-3.4zM186.6 741.5h3.4v3.4h-3.4zM187.6 744.7h3.4v3.4h-3.4zM188.6 743.3h3.4v3.4h-3.4zM189.6 743.1h3.4v3.4h-3.4zM190.6 741.4h3.4v3.4h-3.4zM191.6 744.5h3.4v3.4h-3.4zM192.6 741.9h3.4v3.4h-3.4zM193.6 743h3.4v3.4h-3.4zM194.6 741.2h3.4v3.4h-3.4zM195.6 738.8h3.4v3.4h-3.4zM196.6 740.6h3.4v3.4h-3.4zM197.6 739.9h3.4v3.4h-3.4zM198.6 741.7h3.4v3.4h-3.4zM199.6 744.3h3.4v3.4h-3.4zM200.6 743.7h3.4v3.4h-3.4zM201.6 740.4h3.4v3.4h-3.4zM202.6 740.2h3.4v3.4h-3.4zM203.6 743.5h3.4v3.4h-3.4zM204.6 742h3.4v3.4h-3.4zM205.6 740.4h3.4v3.4h-3.4zM206.6 739.3h3.4v3.4h-3.4zM207.6 738.9h3.4v3.4h-3.4zM208.6 735.4h3.4v3.4h-3.4zM209.6 737.6h3.4v3.4h-3.4zM210.6 741.4h3.4v3.4h-3.4zM211.6 740.2h3.4v3.4h-3.4zM212.6 736.9h3.4v3.4h-3.4zM213.6 738.2h3.4v3.4h-3.4zM214.6 737.5h3.4v3.4h-3.4zM215.6 735.3h3.4v3.4h-3.4zM216.6 734.5h3.4v3.4h-3.4zM217.6 734.6h3.4v3.4h-3.4zM218.6 735.5h3.4v3.4h-3.4zM219.6 737h3.4v3.4h-3.4zM220.6 734.9h3.4v3.4h-3.4zM221.6 734.3h3.4v3.4h-3.4zM222.6 733.5h3.4v3.4h-3.4zM223.6 735.5h3.4v3.4h-3.4zM224.6 735.8h3.4v3.4h-3.4zM225.6 733.2h3.4v3.4h-3.4zM226.6 732.1h3.4v3.4h-3.4zM227.6 732.6h3.4v3.4h-3.4zM228.6 732.6h3.4v3.4h-3.4zM229.6 733.1h3.4v3.4h-3.4zM230.6 732.2h3.4v3.4h-3.4zM231.6 729h3.4v3.4h-3.4zM232.6 729.5h3.4v3.4h-3.4zM233.6 728.4h3.4v3.4h-3.4zM234.6 729.2h3.4v3.4h-3.4zM235.6 725.5h3.4v3.4h-3.4zM236.6 723.3h3.4v3.4h-3.4zM237.6 725h3.4v3.4h-3.4zM238.6 722.8h3.4v3.4h-3.4zM239.6 721.6h3.4v3.4h-3.4zM240.6 720.9h3.4v3.4h-3.4zM241.6 718.4h3.4v3.4h-3.4zM242.6 718.9h3.4v3.4h-3.4zM243.6 716.1h3.4v3.4h-3.4zM244.6 715.3h3.4v3.4h-3.4zM245.6 718.2h3.4v3.4h-3.4zM246.6 715.3h3.4v3.4h-3.4zM247.6 717.8h3.4v3.4h-3.4zM248.6 716.3h3.4v3.4h-3.4zM249.6 714.5h3.4v3.4h-3.4zM250.6 714.5h3.4v3.4h-3.4zM251.6 713.6h3.4v3.4h-3.4zM252.6 715h3.4v3.4h-3.4zM253.6 715.7h3.4v3.4h-3.4zM254.6 714.7h3.4v3.4h-3.4zM255.6 714.9h3.4v3.4h-3.4zM256.6 713h3.4v3.4h-3.4zM257.6 716.3h3.4v3.4h-3.4zM258.6 715.1h3.4v3.4h-3.4zM259.6 715.7h3.4v3.4h-3.4zM260.6 712.2h3.4v3.4h-3.4zM261.6 713.6h3.4v3.4h-3.4zM262.6 711.3h3.4v3.4h-3.4zM263.6 716.1h3.4v3.4h-3.4zM264.6 713.3h3.4v3.4h-3.4zM265.6 716.9h3.4v3.4h-3.4zM266.6 714h3.4v3.4h-3.4zM267.6 712.3h3.4v3.4h-3.4zM268.6 715h3.4v3.4h-3.4zM269.6 715.6h3.4v3.4h-3.4zM270.6 712.6h3.4v3.4h-3.4zM271.6 711.8h3.4v3.4h-3.4zM272.6 712.5h3.4v3.4h-3.4zM273.6 710.7h3.4v3.4h-3.4zM274.6 710.8h3.4v3.4h-3.4zM275.6 709h3.4v3.4h-3.4zM276.6 711.3h3.4v3.4h-3.4zM277.6 710.1h3.4v3.4h-3.4zM278.6 712.3h3.4v3.4h-3.4zM279.6 712.3h3.4v3.4h-3.4zM280.6 713.3h3.4v3.4h-3.4zM281.6 712h3.4v3.4h-3.4zM282.6 711.1h3.4v3.4h-3.4zM283.6 713.3h3.4v3.4h-3.4zM284.6 710h3.4v3.4h-3.4zM285.6 707.6h3.4v3.4h-3.4zM286.6 708.4h3.4v3.4h-3.4zM287.6 709.5h3.4v3.4h-3.4zM288.6 710.5h3.4v3.4h-3.4zM289.6 710.7h3.4v3.4h-3.4zM290.6 705.3h3.4v3.4h-3.4zM291.6 709.6h3.4v3.4h-3.4zM292.6 707.9h3.4v3.4h-3.4zM293.6 707.6h3.4v3.4h-3.4zM294.6 704.4h3.4v3.4h-3.4zM295.6 704.9h3.4v3.4h-3.4zM296.6 701.3h3.4v3.4h-3.4zM297.6 704h3.4v3.4h-3.4zM298.6 702.7h3.4v3.4h-3.4zM299.6 703.7h3.4v3.4h-3.4zM300.6 703.8h3.4v3.4h-3.4zM301.6 700.1h3.4v3.4h-3.4zM302.6 702.4h3.4v3.4h-3.4zM303.6 702.2h3.4v3.4h-3.4zM304.6 699.5h3.4v3.4h-3.4zM305.6 702.3h3.4v3.4h-3.4zM306.6 697.7h3.4v3.4h-3.4zM307.6 696.1h3.4v3.4h-3.4zM308.6 697.8h3.4v3.4h-3.4zM309.6 700h3.4v3.4h-3.4zM310.6 697.7h3.4v3.4h-3.4zM311.6 693.9h3.4v3.4h-3.4zM312.6 695.5h3.4v3.4h-3.4zM313.6 698h3.4v3.4h-3.4zM314.6 694.9h3.4v3.4h-3.4zM315.6 695.9h3.4v3.4h-3.4zM316.6 694.9h3.4v3.4h-3.4zM317.6 700h3.4v3.4h-3.4zM318.6 700.3h3.4v3.4h-3.4zM319.6 696.6h3.4v3.4h-3.4zM320.6 696.8h3.4v3.4h-3.4zM321.6 701.4h3.4v3.4h-3.4zM322.6 702.3h3.4v3.4h-3.4zM323.6 703.3h3.4v3.4h-3.4zM324.6 705.8h3.4v3.4h-3.4zM325.6 707.8h3.4v3.4h-3.4zM326.6 712.5h3.4v3.4h-3.4zM327.6 715h3.4v3.4h-3.4zM328.6 719.8h3.4v3.4h-3.4zM329.6 718.7h3.4v3.4h-3.4zM330.6 717.2h3.4v3.4h-3.4zM331.6 718h3.4v3.4h-3.4zM332.6 718.8h3.4v3.4h-3.4zM333.6 719.8h3.4v3.4h-3.4zM334.6 719h3.4v3.4h-3.4zM335.6 719.1h3.4v3.4h-3.4zM336.6 719.9h3.4v3.4h-3.4zM337.6 720.3h3.4v3.4h-3.4zM338.6 721.1h3.4v3.4h-3.4zM339.6 724.1h3.4v3.4h-3.4zM340.6 724h3.4v3.4h-3.4zM341.6 721.6h3.4v3.4h-3.4zM342.6 723h3.4v3.4h-3.4zM343.6 723h3.4v3.4h-3.4zM344.6 723h3.4v3.4h-3.4zM345.6 726.1h3.4v3.4h-3.4zM346.6 723.2h3.4v3.4h-3.4zM347.6 727.6h3.4v3.4h-3.4zM348.6 727.6h3.4v3.4h-3.4zM349.6 726.9h3.4v3.4h-3.4zM350.6 730h3.4v3.4h-3.4zM351.6 730.8h3.4v3.4h-3.4zM352.6 729.7h3.4v3.4h-3.4zM353.6 730h3.4v3.4h-3.4zM354.6 727.9h3.4v3.4h-3.4zM355.6 730h3.4v3.4h-3.4zM356.6 731.6h3.4v3.4h-3.4zM357.6 727.6h3.4v3.4h-3.4zM358.6 732.7h3.4v3.4h-3.4zM359.6 726.5h3.4v3.4h-3.4zM360.6 730.5h3.4v3.4h-3.4zM361.6 727.9h3.4v3.4h-3.4zM362.6 728.7h3.4v3.4h-3.4zM363.6 727.8h3.4v3.4h-3.4zM364.6 727.1h3.4v3.4h-3.4zM365.6 727.9h3.4v3.4h-3.4zM366.6 725.1h3.4v3.4h-3.4zM367.6 725.1h3.4v3.4h-3.4zM368.6 725.7h3.4v3.4h-3.4zM369.6 722.8h3.4v3.4h-3.4zM370.6 718.7h3.4v3.4h-3.4zM371.6 719.8h3.4v3.4h-3.4zM372.6 718.2h3.4v3.4h-3.4zM373.6 716h3.4v3.4h-3.4zM374.6 716.5h3.4v3.4h-3.4zM375.6 713.7h3.4v3.4h-3.4zM376.6 710.4h3.4v3.4h-3.4zM377.6 708.9h3.4v3.4h-3.4zM378.6 705.9h3.4v3.4h-3.4zM379.6 705.9h3.4v3.4h-3.4zM380.6 708.5h3.4v3.4h-3.4zM381.6 702h3.4v3.4h-3.4zM382.6 706.7h3.4v3.4h-3.4zM383.6 702.9h3.4v3.4h-3.4zM384.6 701.9h3.4v3.4h-3.4zM385.6 700.6h3.4v3.4h-3.4zM386.6 698.9h3.4v3.4h-3.4zM387.6 701.2h3.4v3.4h-3.4zM388.6 699.1h3.4v3.4h-3.4zM389.6 698h3.4v3.4h-3.4zM390.6 698.4h3.4v3.4h-3.4zM391.6 700.4h3.4v3.4h-3.4zM392.6 696.8h3.4v3.4h-3.4zM393.6 696.8h3.4v3.4h-3.4zM394.6 698.8h3.4v3.4h-3.4zM395.6 694.7h3.4v3.4h-3.4zM396.6 698.4h3.4v3.4h-3.4zM397.6 699.5h3.4v3.4h-3.4zM398.6 695.4h3.4v3.4h-3.4zM399.6 692.5h3.4v3.4h-3.4zM400.6 696.3h3.4v3.4h-3.4zM401.6 694h3.4v3.4h-3.4zM402.6 696.2h3.4v3.4h-3.4zM403.6 694.6h3.4v3.4h-3.4zM404.6 693.9h3.4v3.4h-3.4zM405.6 691.7h3.4v3.4h-3.4zM406.6 694.5h3.4v3.4h-3.4zM407.6 693.4h3.4v3.4h-3.4zM408.6 692.3h3.4v3.4h-3.4zM409.6 691.8h3.4v3.4h-3.4zM410.6 691h3.4v3.4h-3.4zM411.6 689.8h3.4v3.4h-3.4zM412.6 688.5h3.4v3.4h-3.4zM413.6 685.1h3.4v3.4h-3.4zM414.6 685.7h3.4v3.4h-3.4zM415.6 684.3h3.4v3.4h-3.4zM416.6 686.1h3.4v3.4h-3.4zM417.6 684.9h3.4v3.4h-3.4zM418.6 680.6h3.4v3.4h-3.4zM419.6 680.2h3.4v3.4h-3.4zM420.6 678.9h3.4v3.4h-3.4zM421.6 679.2h3.4v3.4h-3.4zM422.6 678h3.4v3.4h-3.4zM423.6 677.4h3.4v3.4h-3.4zM424.6 674.2h3.4v3.4h-3.4zM425.6 673.5h3.4v3.4h-3.4zM426.6 676h3.4v3.4h-3.4zM427.6 669.8h3.4v3.4h-3.4zM428.6 672.5h3.4v3.4h-3.4zM429.6 670.2h3.4v3.4h-3.4zM430.6 669.2h3.4v3.4h-3.4zM431.6 666.6h3.4v3.4h-3.4zM432.6 665.1h3.4v3.4h-3.4zM433.6 665h3.4v3.4h-3.4zM434.6 662.2h3.4v3.4h-3.4zM435.6 660.9h3.4v3.4h-3.4zM436.6 659h3.4v3.4h-3.4zM437.6 658.4h3.4v3.4h-3.4zM438.6 656h3.4v3.4h-3.4zM439.6 654h3.4v3.4h-3.4zM440.6 653.8h3.4v3.4h-3.4zM441.6 651.7h3.4v3.4h-3.4zM442.6 648.1h3.4v3.4h-3.4zM443.6 648.9h3.4v3.4h-3.4zM444.6 650.2h3.4v3.4h-3.4zM445.6 648.8h3.4v3.4h-3.4zM446.6 651.8h3.4v3.4h-3.4zM447.6 643.9h3.4v3.4h-3.4zM448.6 647.3h3.4v3.4h-3.4zM449.6 642.8h3.4v3.4h-3.4zM450.6 646.5h3.4v3.4h-3.4zM451.6 644.5h3.4v3.4h-3.4zM452.6 645.9h3.4v3.4h-3.4zM453.6 648.6h3.4v3.4h-3.4zM454.6 649.1h3.4v3.4h-3.4zM455.6 652.1h3.4v3.4h-3.4zM456.6 656h3.4v3.4h-3.4zM457.6 662.6h3.4v3.4h-3.4zM458.6 669.1h3.4v3.4h-3.4zM459.6 671.5h3.4v3.4h-3.4zM460.6 676.2h3.4v3.4h-3.4zM461.6 682.9h3.4v3.4h-3.4zM462.6 684.4h3.4v3.4h-3.4zM463.6 690.9h3.4v3.4h-3.4zM464.6 697.7h3.4v3.4h-3.4zM465.6 698.4h3.4v3.4h-3.4zM466.6 702.7h3.4v3.4h-3.4zM467.6 699.5h3.4v3.4h-3.4zM468.6 703.8h3.4v3.4h-3.4zM469.6 704h3.4v3.4h-3.4zM470.6 702.6h3.4v3.4h-3.4zM471.6 706h3.4v3.4h-3.4zM472.6 708.4h3.4v3.4h-3.4zM473.6 721.2h3.4v3.4h-3.4zM474.6 727.9h3.4v3.4h-3.4zM475.6 733.5h3.4v3.4h-3.4zM476.6 743.1h3.4v3.4h-3.4zM477.6 741.1h3.4v3.4h-3.4zM478.6 747.9h3.4v3.4h-3.4zM479.6 748.8h3.4v3.4h-3.4zM480.6 750.5h3.4v3.4h-3.4zM481.6 749.2h3.4v3.4h-3.4zM482.6 753.6h3.4v3.4h-3.4zM483.6 752.7h3.4v3.4h-3.4zM484.6 754.6h3.4v3.4h-3.4zM485.6 756.4h3.4v3.4h-3.4zM486.6 754.2h3.4v3.4h-3.4zM487.6 751.6h3.4v3.4h-3.4zM488.6 757h3.4v3.4h-3.4zM489.6 757.2h3.4v3.4h-3.4zM490.6 756.9h3.4v3.4h-3.4zM491.6 756.6h3.4v3.4h-3.4zM492.6 756.6h3.4v3.4h-3.4zM493.6 758.5h3.4v3.4h-3.4zM494.6 759.5h3.4v3.4h-3.4zM495.6 758.2h3.4v3.4h-3.4zM496.6 761.2h3.4v3.4h-3.4zM497.6 758.7h3.4v3.4h-3.4zM498.6 760.7h3.4v3.4h-3.4zM499.6 759.7h3.4v3.4h-3.4zM500.6 760.1h3.4v3.4h-3.4zM501.6 761.9h3.4v3.4h-3.4zM502.6 761.7h3.4v3.4h-3.4zM503.6 762.7h3.4v3.4h-3.4zM504.6 762.9h3.4v3.4h-3.4zM505.6 761.4h3.4v3.4h-3.4zM506.6 762.7h3.4v3.4h-3.4zM507.6 762.5h3.4v3.4h-3.4zM508.6 762.7h3.4v3.4h-3.4zM509.6 763.4h3.4v3.4h-3.4zM510.6 762.4h3.4v3.4h-3.4zM511.6 762.7h3.4v3.4h-3.4zM512.6 764.4h3.4v3.4h-3.4zM513.6 761.3h3.4v3.4h-3.4zM514.6 764.3h3.4v3.4h-3.4zM515.6 764.7h3.4v3.4h-3.4zM516.6 760.1h3.4v3.4h-3.4zM517.6 764.6h3.4v3.4h-3.4zM518.6 762.6h3.4v3.4h-3.4zM519.6 762.6h3.4v3.4h-3.4zM520.6 765.1h3.4v3.4h-3.4zM521.6 762.9h3.4v3.4h-3.4zM522.6 764.9h3.4v3.4h-3.4zM523.6 763.8h3.4v3.4h-3.4zM524.6 763.2h3.4v3.4h-3.4zM525.6 768.1h3.4v3.4h-3.4zM526.6 764.4h3.4v3.4h-3.4zM527.6 764h3.4v3.4h-3.4zM528.6 765.6h3.4v3.4h-3.4zM529.6 769.3h3.4v3.4h-3.4zM530.6 764.3h3.4v3.4h-3.4zM531.6 768.8h3.4v3.4h-3.4zM532.6 766.3h3.4v3.4h-3.4zM533.6 768.1h3.4v3.4h-3.4zM534.6 768h3.4v3.4h-3.4zM535.6 770h3.4v3.4h-3.4zM536.6 767.6h3.4v3.4h-3.4zM537.6 772h3.4v3.4h-3.4zM538.6 768.9h3.4v3.4h-3.4zM539.6 767.7h3.4v3.4h-3.4zM540.6 770.5h3.4v3.4h-3.4zM541.6 771.9h3.4v3.4h-3.4zM542.6 772.1h3.4v3.4h-3.4zM543.6 772.9h3.4v3.4h-3.4z" fill="#ff0000"/><path d="M590 966.9l2.6 -2.6l2.6 2.6l-2.6 2.6zM591 966.9l2.6 -2.6l2.6 2.6l-2.6 2.6zM592 966.8l2.6 -2.6l2.6 2.6l-2.6 2.6zM593 967.5l2.6 -2.6l2.6 2.6l-2.6 2.6zM594 965.1l2.6 -2.6l2.6 2.6l-2.6 2.6zM595 966.3l2.6 -2.6l2.6 2.6l-2.6 2.6zM596 967.4l2.6 -2.6l2.6 2.6l-2.6 2.6zM597 967.1l2.6 -2.6l2.6 2.6l-2.6 2.6zM598 967.1l2.6 -2.6l2.6 2.6l-2.6 2.6zM599 970l2.6 -2.6l2.6 2.6l-2.6 2.6zM600 966.4l2.6 -2.6l2.6 2.6l-2.6 2.6zM601 966.2l2.6 -2.6l2.6 2.6l-2.6 2.6zM602 967.5l2.6 -2.6l2.6 2.6l-2.6 2.6zM603 966.6l2.6 -2.6l2.6 2.6l-2.6 2.6zM604 967.8l2.6 -2.6l2.6 2.6l-2.6 2.6zM605 966.6l2.6 -2.6l2.6 2.6l-2.6 2.6zM606 968.8l2.6 -2.6l2.6 2.6l-2.6 2.6zM607 966.1l2.6 -2.6l2.6 2.6l-2.6 2.6zM608 966.5l2.6 -2.6l2.6 2.6l-2.6 2.6zM609 967.8l2.6 -2.6l2.6 2.6l-2.6 2.6zM610 966.9l2.6 -2.6l2.6 2.6l-2.6 2.6zM611 967.8l2.6 -2.6l2.6 2.6l-2.6 2.6zM612 967.7l2.6 -2.6l2.6 2.6l-2.6 2.6zM613 967.8l2.6 -2.6l2.6 2.6l-2.6 2.6zM614 964l2.6 -2.6l2.6 2.6l-2.6 2.6zM615 967.8l2.6 -2.6l2.6 2.6l-2.6 2.6zM616 966.9l2.6 -2.6l2.6 2.6l-2.6 2.6zM617 967.2l2.6 -2.6l2.6 2.6l-2.6 2.6zM618 965.9l2.6 -2.6l2.6 2.6l-2.6 2.6zM619 967.4l2.6 -2.6l2.6 2.6l-2.6 2.6zM620 967.8l2.6 -2.6l2.6 2.6l-2.6 2.6zM621 967.3l2.6 -2.6l2.6 2.6l-2.6 2.6zM622 967.5l2.6 -2.6l2.6 2.6l-2.6 2.6zM623 967.1l2.6 -2.6l2.6 2.6l-2.6 2.6zM624 966.7l2.6 -2.6l2.6 2.6l-2.6 2.6zM625 967.4l2.6 -2.6l2.6 2.6l-2.6 2.6zM626 966.7l2.6 -2.6l2.6 2.6l-2.6 2.6zM627 966.8l2.6 -2.6l2.6 2.6l-2.6 2.6zM628 967.4l2.6 -2.6l2.6 2.6l-2.6 2.6zM629 968l2.6 -2.6l2.6 2.6l-2.6 2.6zM630 970.8l2.6 -2.6l2.6 2.6l-2.6 2.6zM631 968.1l2.6 -2.6l2.6 2.6l-2.6 2.6zM632 967l2.6 -2.6l2.6 2.6l-2.6 2.6zM633 966l2.6 -2.6l2.6 2.6l-2.6 2.6zM634 967.3l2.6 -2.6l2.6 2.6l-2.6 2.6zM635 965.8l2.6 -2.6l2.6 2.6l-2.6 2.6zM636 965.8l2.6 -2.6l2.6 2.6l-2.6 2.6zM637 964.8l2.6 -2.6l2.6 2.6l-2.6 2.6zM638 968.2l2.6 -2.6l2.6 2.6l-2.6 2.6zM639 968.1l2.6 -2.6l2.6 2.6l-2.6 2.6zM640 965.7l2.6 -2.6l2.6 2.6l-2.6 2.6zM641 967l2.6 -2.6l2.6 2.6l-2.6 2.6zM642 967.3l2.6 -2.6l2.6 2.6l-2.6 2.6zM643 968.5l2.6 -2.6l2.6 2.6l-2.6 2.6zM644 968.4l2.6 -2.6l2.6 2.6l-2.6 2.6zM645 965.9l2.6 -2.6l2.6 2.6l-2.6 2.6zM646 967.2l2.6 -2.6l2.6 2.6l-2.6 2.6zM647 965.1l2.6 -2.6l2.6 2.6l-2.6 2.6zM648 966.7l2.6 -2.6l2.6 2.6l-2.6 2.6zM649 966.9l2.6 -2.6l2.6 2.6l-2.6 2.6zM650 966.5l2.6 -2.6l2.6 2.6l-2.6 2.6zM651 965.6l2.6 -2.6l2.6 2.6l-2.6 2.6zM652 966.4l2.6 -2.6l2.6 2.6l-2.6 2.6zM653 969.2l2.6 -2.6l2.6 2.6l-2.6 2.6zM654 966.1l2.6 -2.6l2.6 2.6l-2.6 2.6zM655 966.8l2.6 -2.6l2.6 2.6l-2.6 2.6zM656 967.8l2.6 -2.6l2.6 2.6l-2.6 2.6zM657 967.7l2.6 -2.6l2.6 2.6l-2.6 2.6zM658 966.4l2.6 -2.6l2.6 2.6l-2.6 2.6zM659 968.4l2.6 -2.6l2.6 2.6l-2.6 2.6zM660 968.3l2.6 -2.6l2.6 2.6l-2.6 2.6zM661 967l2.6 -2.6l2.6 2.6l-2.6 2.6zM662 967.1l2.6 -2.6l2.6 2.6l-2.6 2.6zM663 966.7l2.6 -2.6l2.6 2.6l-2.6 2.6zM664 967.4l2.6 -2.6l2.6 2.6l-2.6 2.6zM665 967.1l2.6 -2.6l2.6 2.6l-2.6 2.6zM666 968l2.6 -2.6l2.6 2.6l-2.6 2.6zM667 964.9l2.6 -2.6l2.6 2.6l-2.6 2.6zM668 967.8l2.6 -2.6l2.6 2.6l-2.6 2.6zM669 966.6l2.6 -2.6l2.6 2.6l-2.6 2.6zM670 968.3l2.6 -2.6l2.6 2.6l-2.6 2.6zM671 968l2.6 -2.6l2.6 2.6l-2.6 2.6zM672 966.6l2.6 -2.6l2.6 2.6l-2.6 2.6zM673 966.7l2.6 -2.6l2.6 2.6l-2.6 2.6zM674 966.2l2.6 -2.6l2.6 2.6l-2.6 2.6zM675 964.6l2.6 -2.6l2.6 2.6l-2.6 2.6zM676 966.3l2.6 -2.6l2.6 2.6l-2.6 2.6zM677 967.6l2.6 -2.6l2.6 2.6l-2.6 2.6zM678 966.4l2.6 -2.6l2.6 2.6l-2.6 2.6zM679 965.2l2.6 -2.6l2.6 2.6l-2.6 2.6zM680 966.6l2.6 -2.6l2.6 2.6l-2.6 2.6zM681 965.5l2.6 -2.6l2.6 2.6l-2.6 2.6zM682 966.7l2.6 -2.6l2.6 2.6l-2.6 2.6zM683 967.4l2.6 -2.6l2.6 2.6l-2.6 2.6zM684 967.6l2.6 -2.6l2.6 2.6l-2.6 2.6zM685 967.9l2.6 -2.6l2.6 2.6l-2.6 2.6zM686 965.7l2.6 -2.6l2.6 2.6l-2.6 2.6zM687 963.8l2.6 -2.6l2.6 2.6l-2.6 2.6zM688 966.5l2.6 -2.6l2.6 2.6l-2.6 2.6zM689 966.3l2.6 -2.6l2.6 2.6l-2.6 2.6zM690 967.4l2.6 -2.6l2.6 2.6l-2.6 2.6zM691 967.3l2.6 -2.6l2.6 2.6l-2.6 2.6zM692 966.2l2.6 -2.6l2.6 2.6l-2.6 2.6zM693 966.6l2.6 -2.6l2.6 2.6l-2.6 2.6zM694 967.5l2.6 -2.6l2.6 2.6l-2.6 2.6zM695 965.8l2.6 -2.6l2.6 2.6l-2.6 2.6zM696 964.1l2.6 -2.6l2.6 2.6l-2.6 2.6zM697 966.9l2.6 -2.6l2.6 2.6l-2.6 2.6zM698 966.7l2.6 -2.6l2.6 2.6l-2.6 2.6zM699 965.9l2.6 -2.6l2.6 2.6l-2.6 2.6zM700 967.9l2.6 -2.6l2.6 2.6l-2.6 2.6zM701 966.3l2.6 -2.6l2.6 2.6l-2.6 2.6zM702 965.7l2.6 -2.6l2.6 2.6l-2.6 2.6zM703 966.7l2.6 -2.6l2.6 2.6l-2.6 2.6zM704 968.4l2.6 -2.6l2.6 2.6l-2.6 2.6zM705 965.3l2.6 -2.6l2.6 2.6l-2.6 2.6zM706 967.4l2.6 -2.6l2.6 2.6l-2.6 2.6zM707 965l2.6 -2.6l2.6 2.6l-2.6 2.6zM708 967.2l2.6 -2.6l2.6 2.6l-2.6 2.6zM709 965.9l2.6 -2.6l2.6 2.6l-2.6 2.6zM710 965.9l2.6 -2.6l2.6 2.6l-2.6 2.6zM711 967.2l2.6 -2.6l2.6 2.6l-2.6 2.6zM712 969.2l2.6 -2.6l2.6 2.6l-2.6 2.6zM713 964.5l2.6 -2.6l2.6 2.6l-2.6 2.6zM714 966.1l2.6 -2.6l2.6 2.6l-2.6 2.6zM715 965.5l2.6 -2.6l2.6 2.6l-2.6 2.6zM716 967.7l2.6 -2.6l2.6 2.6l-2.6 2.6zM717 966.4l2.6 -2.6l2.6 2.6l-2.6 2.6zM718 965.4l2.6 -2.6l2.6 2.6l-2.6 2.6zM719 967.3l2.6 -2.6l2.6 2.6l-2.6 2.6zM720 967.1l2.6 -2.6l2.6 2.6l-2.6 2.6zM721 966.2l2.6 -2.6l2.6 2.6l-2.6 2.6zM722 967.2l2.6 -2.6l2.6 2.6l-2.6 2.6zM723 966.7l2.6 -2.6l2.6 2.6l-2.6 2.6zM724 967.3l2.6 -2.6l2.6 2.6l-2.6 2.6zM725 965.1l2.6 -2.6l2.6 2.6l-2.6 2.6zM726 967l2.6 -2.6l2.6 2.6l-2.6 2.6zM727 967.3l2.6 -2.6l2.6 2.6l-2.6 2.6zM728 965.3l2.6 -2.6l2.6 2.6l-2.6 2.6zM729 970.2l2.6 -2.6l2.6 2.6l-2.6 2.6zM730 968l2.6 -2.6l2.6 2.6l-2.6 2.6zM731 966.6l2.6 -2.6l2.6 2.6l-2.6 2.6zM732 965.6l2.6 -2.6l2.6 2.6l-2.6 2.6zM733 965.7l2.6 -2.6l2.6 2.6l-2.6 2.6zM734 966.2l2.6 -2.6l2.6 2.6l-2.6 2.6zM735 966.7l2.6 -2.6l2.6 2.6l-2.6 2.6zM736 964.8l2.6 -2.6l2.6 2.6l-2.6 2.6zM737 965l2.6 -2.6l2.6 2.6l-2.6 2.6zM738 969.1l2.6 -2.6l2.6 2.6l-2.6 2.6zM739 964.7l2.6 -2.6l2.6 2.6l-2.6 2.6zM740 968.4l2.6 -2.6l2.6 2.6l-2.6 2.6zM741 966l2.6 -2.6l2.6 2.6l-2.6 2.6zM742 964.6l2.6 -2.6l2.6 2.6l-2.6 2.6zM743 965.2l2.6 -2.6l2.6 2.6l-2.6 2.6zM744 968l2.6 -2.6l2.6 2.6l-2.6 2.6zM745 966.4l2.6 -2.6l2.6 2.6l-2.6 2.6zM746 965l2.6 -2.6l2.6 2.6l-2.6 2.6zM747 967.5l2.6 -2.6l2.6 2.6l-2.6 2.6zM748 966.7l2.6 -2.6l2.6 2.6l-2.6 2.6zM749 965.4l2.6 -2.6l2.6 2.6l-2.6 2.6zM750 964.9l2.6 -2.6l2.6 2.6l-2.6 2.6zM751 964.4l2.6 -2.6l2.6 2.6l-2.6 2.6zM752 966.1l2.6 -2.6l2.6 2.6l-2.6 2.6zM753 966.7l2.6 -2.6l2.6 2.6l-2.6 2.6zM754 967.8l2.6 -2.6l2.6 2.6l-2.6 2.6zM755 967.8l2.6 -2.6l2.6 2.6l-2.6 2.6zM756 967.2l2.6 -2.6l2.6 2.6l-2.6 2.6zM757 964.5l2.6 -2.6l2.6 2.6l-2.6 2.6zM758 965.4l2.6 -2.6l2.6 2.6l-2.6 2.6zM759 966.7l2.6 -2.6l2.6 2.6l-2.6 2.6zM760 965.5l2.6 -2.6l2.6 2.6l-2.6 2.6zM761 966.2l2.6 -2.6l2.6 2.6l-2.6 2.6zM762 965.6l2.6 -2.6l2.6 2.6l-2.6 2.6zM763 966l2.6 -2.6l2.6 2.6l-2.6 2.6zM764 967.2l2.6 -2.6l2.6 2.6l-2.6 2.6zM765 966.6l2.6 -2.6l2.6 2.6l-2.6 2.6zM766 964.4l2.6 -2.6l2.6 2.6l-2.6 2.6zM767 965.5l2.6 -2.6l2.6 2.6l-2.6 2.6zM768 964.7l2.6 -2.6l2.6 2.6l-2.6 2.6zM769 964.2l2.6 -2.6l2.6 2.6l-2.6 2.6zM770 967.1l2.6 -2.6l2.6 2.6l-2.6 2.6zM771 965.9l2.6 -2.6l2.6 2.6l-2.6 2.6zM772 968.7l2.6 -2.6l2.6 2.6l-2.6 2.6zM773 966.7l2.6 -2.6l2.6 2.6l-2.6 2.6zM774 966.5l2.6 -2.6l2.6 2.6l-2.6 2.6zM775 965.4l2.6 -2.6l2.6 2.6l-2.6 2.6zM776 965.1l2.6 -2.6l2.6 2.6l-2.6 2.6zM777 966.8l2.6 -2.6l2.6 2.6l-2.6 2.6zM778 965.4l2.6 -2.6l2.6 2.6l-2.6 2.6zM779 967.7l2.6 -2.6l2.6 2.6l-2.6 2.6zM780 967l2.6 -2.6l2.6 2.6l-2.6 2.6zM781 967l2.6 -2.6l2.6 2.6l-2.6 2.6zM782 966.1l2.6 -2.6l2.6 2.6l-2.6 2.6zM783 964.9l2.6 -2.6l2.6 2.6l-2.6 2.6zM784 967.3l2.6 -2.6l2.6 2.6l-2.6 2.6zM785 965.3l2.6 -2.6l2.6 2.6l-2.6 2.6zM786 965.9l2.6 -2.6l2.6 2.6l-2.6 2.6zM787 966.8l2.6 -2.6l2.6 2.6l-2.6 2.6zM788 965.5l2.6 -2.6l2.6 2.6l-2.6 2.6zM789 965.4l2.6 -2.6l2.6 2.6l-2.6 2.6zM790 964.4l2.6 -2.6l2.6 2.6l-2.6 2.6zM791 967.1l2.6 -2.6l2.6 2.6l-2.6 2.6zM792 967.8l2.6 -2.6l2.6 2.6l-2.6 2.6zM793 965l2.6 -2.6l2.6 2.6l-2.6 2.6zM794 967.2l2.6 -2.6l2.6 2.6l-2.6 2.6zM795 968l2.6 -2.6l2.6 2.6l-2.6 2.6zM796 967.9l2.6 -2.6l2.6 2.6l-2.6 2.6zM797 967.1l2.6 -2.6l2.6 2.6l-2.6 2.6zM798 965.2l2.6 -2.6l2.6 2.6l-2.6 2.6zM799 964.3l2.6 -2.6l2.6 2.6l-2.6 2.6zM800 965.2l2.6 -2.6l2.6 2.6l-2.6 2.6zM801 966.5l2.6 -2.6l2.6 2.6l-2.6 2.6zM802 967.5l2.6 -2.6l2.6 2.6l-2.6 2.6zM803 967.4l2.6 -2.6l2.6 2.6l-2.6 2.6zM804 965.8l2.6 -2.6l2.6 2.6l-2.6 2.6zM805 966.4l2.6 -2.6l2.6 2.6l-2.6 2.6zM806 965.5l2.6 -2.6l2.6 2.6l-2.6 2.6zM807 963.9l2.6 -2.6l2.6 2.6l-2.6 2.6zM808 965.2l2.6 -2.6l2.6 2.6l-2.6 2.6zM809 967.1l2.6 -2.6l2.6 2.6l-2.6 2.6zM810 966.8l2.6 -2.6l2.6 2.6l-2.6 2.6zM811 966.1l2.6 -2.6l2.6 2.6l-2.6 2.6zM812 966l2.6 -2.6l2.6 2.6l-2.6 2.6zM813 968.5l2.6 -2.6l2.6 2.6l-2.6 2.6zM814 966.4l2.6 -2.6l2.6 2.6l-2.6 2.6zM815 965.6l2.6 -2.6l2.6 2.6l-2.6 2.6zM816 964.4l2.6 -2.6l2.6 2.6l-2.6 2.6zM817 965.2l2.6 -2.6l2.6 2.6l-2.6 2.6zM818 966.3l2.6 -2.6l2.6 2.6l-2.6 2.6zM819 965.3l2.6 -2.6l2.6 2.6l-2.6 2.6zM820 966.4l2.6 -2.6l2.6 2.6l-2.6 2.6zM821 965.3l2.6 -2.6l2.6 2.6l-2.6 2.6zM822 968.9l2.6 -2.6l2.6 2.6l-2.6 2.6zM823 965.4l2.6 -2.6l2.6 2.6l-2.6 2.6zM824 966.9l2.6 -2.6l2.6 2.6l-2.6 2.6zM825 965l2.6 -2.6l2.6 2.6l-2.6 2.6zM826 966.2l2.6 -2.6l2.6 2.6l-2.6 2.6zM827 966.8l2.6 -2.6l2.6 2.6l-2.6 2.6zM828 966.1l2.6 -2.6l2.6 2.6l-2.6 2.6zM829 963.9l2.6 -2.6l2.6 2.6l-2.6 2.6zM830 967.4l2.6 -2.6l2.6 2.6l-2.6 2.6zM831 966.6l2.6 -2.6l2.6 2.6l-2.6 2.6zM832 964.8l2.6 -2.6l2.6 2.6l-2.6 2.6zM833 965.2l2.6 -2.6l2.6 2.6l-2.6 2.6zM834 966.4l2.6 -2.6l2.6 2.6l-2.6 2.6zM835 964.8l2.6 -2.6l2.6 2.6l-2.6 2.6zM836 966.4l2.6 -2.6l2.6 2.6l-2.6 2.6zM837 964.3l2.6 -2.6l2.6 2.6l-2.6 2.6zM838 965.8l2.6 -2.6l2.6 2.6l-2.6 2.6zM839 966.6l2.6 -2.6l2.6 2.6l-2.6 2.6zM840 965.2l2.6 -2.6l2.6 2.6l-2.6 2.6zM841 965.8l2.6 -2.6l2.6 2.6l-2.6 2.6zM842 966.1l2.6 -2.6l2.6 2.6l-2.6 2.6zM843 967.2l2.6 -2.6l2.6 2.6l-2.6 2.6zM844 967l2.6 -2.6l2.6 2.6l-2.6 2.6zM845 965.9l2.6 -2.6l2.6 2.6l-2.6 2.6zM846 965.9l2.6 -2.6l2.6 2.6l-2.6 2.6zM847 965.2l2.6 -2.6l2.6 2.6l-2.6 2.6zM848 965.1l2.6 -2.6l2.6 2.6l-2.6 2.6zM849 965l2.6 -2.6l2.6 2.6l-2.6 2.6zM850 964.9l2.6 -2.6l2.6 2.6l-2.6 2.6zM851 966.5l2.6 -2.6l2.6 2.6l-2.6 2.6zM852 965.2l2.6 -2.6l2.6 2.6l-2.6 2.6zM853 964.5l2.6 -2.6l2.6 2.6l-2.6 2.6zM854 964.5l2.6 -2.6l2.6 2.6l-2.6 2.6zM855 965.3l2.6 -2.6l2.6 2.6l-2.6 2.6zM856 965.9l2.6 -2.6l2.6 2.6l-2.6 2.6zM857 964.8l2.6 -2.6l2.6 2.6l-2.6 2.6zM858 964.3l2.6 -2.6l2.6 2.6l-2.6 2.6zM859 965.6l2.6 -2.6l2.6 2.6l-2.6 2.6zM860 966.4l2.6 -2.6l2.6 2.6l-2.6 2.6zM861 964.2l2.6 -2.6l2.6 2.6l-2.6 2.6zM862 964.8l2.6 -2.6l2.6 2.6l-2.6 2.6zM863 963.2l2.6 -2.6l2.6 2.6l-2.6 2.6zM864 968l2.6 -2.6l2.6 2.6l-2.6 2.6zM865 964.1l2.6 -2.6l2.6 2.6l-2.6 2.6zM866 963.9l2.6 -2.6l2.6 2.6l-2.6 2.6zM867 965.5l2.6 -2.6l2.6 2.6l-2.6 2.6zM868 964.8l2.6 -2.6l2.6 2.6l-2.6 2.6zM869 966.1l2.6 -2.6l2.6 2.6l-2.6 2.6zM870 964.3l2.6 -2.6l2.6 2.6l-2.6 2.6zM871 965.3l2.6 -2.6l2.6 2.6l-2.6 2.6zM872 965.4l2.6 -2.6l2.6 2.6l-2.6 2.6zM873 965.8l2.6 -2.6l2.6 2.6l-2.6 2.6zM874 967.2l2.6 -2.6l2.6 2.6l-2.6 2.6zM875 965.1l2.6 -2.6l2.6 2.6l-2.6 2.6zM876 964.2l2.6 -2.6l2.6 2.6l-2.6 2.6zM877 965.6l2.6 -2.6l2.6 2.6l-2.6 2.6zM878 964.3l2.6 -2.6l2.6 2.6l-2.6 2.6zM879 966.1l2.6 -2.6l2.6 2.6l-2.6 2.6zM880 965.4l2.6 -2.6l2.6 2.6l-2.6 2.6zM881 965.2l2.6 -2.6l2.6 2.6l-2.6 2.6zM882 963.3l2.6 -2.6l2.6 2.6l-2.6 2.6zM883 963.3l2.6 -2.6l2.6 2.6l-2.6 2.6zM884 964.3l2.6 -2.6l2.6 2.6l-2.6 2.6zM885 964.9l2.6 -2.6l2.6 2.6l-2.6 2.6zM886 962.6l2.6 -2.6l2.6 2.6l-2.6 2.6zM887 964.4l2.6 -2.6l2.6 2.6l-2.6 2.6zM888 965.1l2.6 -2.6l2.6 2.6l-2.6 2.6zM889 964.2l2.6 -2.6l2.6 2.6l-2.6 2.6zM890 965.8l2.6 -2.6l2.6 2.6l-2.6 2.6zM891 965l2.6 -2.6l2.6 2.6l-2.6 2.6zM892 966.2l2.6 -2.6l2.6 2.6l-2.6 2.6zM893 963.5l2.6 -2.6l2.6 2.6l-2.6 2.6zM894 964.4l2.6 -2.6l2.6 2.6l-2.6 2.6zM895 960.6l2.6 -2.6l2.6 2.6l-2.6 2.6zM896 962.4l2.6 -2.6l2.6 2.6l-2.6 2.6zM897 964.1l2.6 -2.6l2.6 2.6l-2.6 2.6zM898 962.4l2.6 -2.6l2.6 2.6l-2.6 2.6zM899 962.1l2.6 -2.6l2.6 2.6l-2.6 2.6zM900 961.3l2.6 -2.6l2.6 2.6l-2.6 2.6zM901 964.6l2.6 -2.6l2.6 2.6l-2.6 2.6zM902 964.2l2.6 -2.6l2.6 2.6l-2.6 2.6zM903 963l2.6 -2.6l2.6 2.6l-2.6 2.6zM904 963.6l2.6 -2.6l2.6 2.6l-2.6 2.6zM905 963.5l2.6 -2.6l2.6 2.6l-2.6 2.6zM906 962.3l2.6 -2.6l2.6 2.6l-2.6 2.6zM907 964.5l2.6 -2.6l2.6 2.6l-2.6 2.6zM908 963.8l2.6 -2.6l2.6 2.6l-2.6 2.6zM909 963.7l2.6 -2.6l2.6 2.6l-2.6 2.6zM910 966l2.6 -2.6l2.6 2.6l-2.6 2.6zM911 964.9l2.6 -2.6l2.6 2.6l-2.6 2.6zM912 963.7l2.6 -2.6l2.6 2.6l-2.6 2.6zM913 965.5l2.6 -2.6l2.6 2.6l-2.6 2.6zM914 964.9l2.6 -2.6l2.6 2.6l-2.6 2.6zM915 965.7l2.6 -2.6l2.6 2.6l-2.6 2.6zM916 964.9l2.6 -2.6l2.6 2.6l-2.6 2.6zM917 965.4l2.6 -2.6l2.6 2.6l-2.6 2.6zM918 965.6l2.6 -2.6l2.6 2.6l-2.6 2.6zM919 964.1l2.6 -2.6l2.6 2.6l-2.6 2.6zM920 967.5l2.6 -2.6l2.6 2.6l-2.6 2.6zM921 965.4l2.6 -2.6l2.6 2.6l-2.6 2.6zM922 962.4l2.6 -2.6l2.6 2.6l-2.6 2.6zM923 966.3l2.6 -2.6l2.6 2.6l-2.6 2.6zM924 963.6l2.6 -2.6l2.6 2.6l-2.6 2.6zM925 966.1l2.6 -2.6l2.6 2.6l-2.6 2.6zM926 967l2.6 -2.6l2.6 2.6l-2.6 2.6zM927 965l2.6 -2.6l2.6 2.6l-2.6 2.6zM928 965l2.6 -2.6l2.6 2.6l-2.6 2.6zM929 966.7l2.6 -2.6l2.6 2.6l-2.6 2.6zM930 966.1l2.6 -2.6l2.6 2.6l-2.6 2.6zM931 966l2.6 -2.6l2.6 2.6l-2.6 2.6zM932 965.2l2.6 -2.6l2.6 2.6l-2.6 2.6zM933 965.5l2.6 -2.6l2.6 2.6l-2.6 2.6zM934 963.3l2.6 -2.6l2.6 2.6l-2.6 2.6zM935 965l2.6 -2.6l2.6 2.6l-2.6 2.6zM936 965.3l2.6 -2.6l2.6 2.6l-2.6 2.6zM937 966.2l2.6 -2.6l2.6 2.6l-2.6 2.6zM938 966.1l2.6 -2.6l2.6 2.6l-2.6 2.6zM939 964.1l2.6 -2.6l2.6 2.6l-2.6 2.6zM940 964.7l2.6 -2.6l2.6 2.6l-2.6 2.6zM941 963.1l2.6 -2.6l2.6 2.6l-2.6 2.6zM942 965.4l2.6 -2.6l2.6 2.6l-2.6 2.6zM943 967.2l2.6 -2.6l2.6 2.6l-2.6 2.6zM944 965.8l2.6 -2.6l2.6 2.6l-2.6 2.6zM945 964.7l2.6 -2.6l2.6 2.6l-2.6 2.6zM946 965.7l2.6 -2.6l2.6 2.6l-2.6 2.6zM947 965.4l2.6 -2.6l2.6 2.6l-2.6 2.6zM948 964.2l2.6 -2.6l2.6 2.6l-2.6 2.6zM949 964.6l2.6 -2.6l2.6 2.6l-2.6 2.6zM950 965.4l2.6 -2.6l2.6 2.6l-2.6 2.6zM951 966.5l2.6 -2.6l2.6 2.6l-2.6 2.6zM952 965l2.6 -2.6l2.6 2.6l-2.6 2.6zM953 964.9l2.6 -2.6l2.6 2.6l-2.6 2.6zM954 964.1l2.6 -2.6l2.6 2.6l-2.6 2.6zM955 965.6l2.6 -2.6l2.6 2.6l-2.6 2.6zM956 964.4l2.6 -2.6l2.6 2.6l-2.6 2.6zM957 967.6l2.6 -2.6l2.6 2.6l-2.6 2.6zM958 965.8l2.6 -2.6l2.6 2.6l-2.6 2.6zM959 962.2l2.6 -2.6l2.6 2.6l-2.6 2.6zM960 967.2l2.6 -2.6l2.6 2.6l-2.6 2.6zM961 966l2.6 -2.6l2.6 2.6l-2.6 2.6zM962 965.6l2.6 -2.6l2.6 2.6l-2.6 2.6zM963 965.9l2.6 -2.6l2.6 2.6l-2.6 2.6zM964 965l2.6 -2.6l2.6 2.6l-2.6 2.6zM965 963.4l2.6 -2.6l2.6 2.6l-2.6 2.6zM966 964.8l2.6 -2.6l2.6 2.6l-2.6 2.6zM967 965.5l2.6 -2.6l2.6 2.6l-2.6 2.6zM968 966.1l2.6 -2.6l2.6 2.6l-2.6 2.6zM969 967.8l2.6 -2.6l2.6 2.6l-2.6 2.6zM970 966.1l2.6 -2.6l2.6 2.6l-2.6 2.6zM971 966.6l2.6 -2.6l2.6 2.6l-2.6 2.6zM972 966.8l2.6 -2.6l2.6 2.6l-2.6 2.6zM973 964.8l2.6 -2.6l2.6 2.6l-2.6 2.6zM974 964.6l2.6 -2.6l2.6 2.6l-2.6 2.6zM975 964.8l2.6 -2.6l2.6 2.6l-2.6 2.6zM976 967.4l2.6 -2.6l2.6 2.6l-2.6 2.6zM977 964.2l2.6 -2.6l2.6 2.6l-2.6 2.6zM978 966.4l2.6 -2.6l2.6 2.6l-2.6 2.6zM979 964.8l2.6 -2.6l2.6 2.6l-2.6 2.6z" fill="#800000"/><path d="M590.1 932.2l2.5 4.3l2.5 -4.3zM591.1 932.4l2.5 4.3l2.5 -4.3zM592.1 933.6l2.5 4.3l2.5 -4.3zM593.1 931.5l2.5 4.3l2.5 -4.3zM594.1 931.4l2.5 4.3l2.5 -4.3zM595.1 930.6l2.5 4.3l2.5 -4.3zM596.1 933.9l2.5 4.3l2.5 -4.3zM597.1 931.2l2.5 4.3l2.5 -4.3zM598.1 933l2.5 4.3l2.5 -4.3zM599.1 932.1l2.5 4.3l2.5 -4.3zM600.1 932.5l2.5 4.3l2.5 -4.3zM601.1 931.5l2.5 4.3l2.5 -4.3zM602.1 931.8l2.5 4.3l2.5 -4.3zM603.1 933l2.5 4.3l2.5 -4.3zM604.1 932l2.5 4.3l2.5 -4.3zM605.1 930.8l2.5 4.3l2.5 -4.3zM606.1 931.7l2.5 4.3l2.5 -4.3zM607.1 930.3l2.5 4.3l2.5 -4.3zM608.1 932.3l2.5 4.3l2.5 -4.3zM609.1 932.7l2.5 4.3l2.5 -4.3zM610.1 932l2.5 4.3l2.5 -4.3zM611.1 933.3l2.5 4.3l2.5 -4.3zM612.1 933.4l2.5 4.3l2.5 -4.3zM613.1 931.5l2.5 4.3l2.5 -4.3zM614.1 932.8l2.5 4.3l2.5 -4.3zM615.1 931.3l2.5 4.3l2.5 -4.3zM616.1 931.8l2.5 4.3l2.5 -4.3zM617.1 931.3l2.5 4.3l2.5 -4.3zM618.1 931.7l2.5 4.3l2.5 -4.3zM619.1 930.3l2.5 4.3l2.5 -4.3zM620.1 931.3l2.5 4.3l2.5 -4.3zM621.1 930.1l2.5 4.3l2.5 -4.3zM622.1 933.2l2.5 4.3l2.5 -4.3zM623.1 930.9l2.5 4.3l2.5 -4.3zM624.1 931.4l2.5 4.3l2.5 -4.3zM625.1 929.8l2.5 4.3l2.5 -4.3zM626.1 930.7l2.5 4.3l2.5 -4.3zM627.1 932l2.5 4.3l2.5 -4.3zM628.1 929.2l2.5 4.3l2.5 -4.3zM629.1 931.7l2.5 4.3l2.5 -4.3zM630.1 930.9l2.5 4.3l2.5 -4.3zM631.1 933.7l2.5 4.3l2.5 -4.3zM632.1 932.1l2.5 4.3l2.5 -4.3zM633.1 932.3l2.5 4.3l2.5 -4.3zM634.1 931.7l2.5 4.3l2.5 -4.3zM635.1 932.5l2.5 4.3l2.5 -4.3zM636.1 930.1l2.5 4.3l2.5 -4.3zM637.1 933.1l2.5 4.3l2.5 -4.3zM638.1 932.2l2.5 4.3l2.5 -4.3zM639.1 929.6l2.5 4.3l2.5 -4.3zM640.1 931.7l2.5 4.3l2.5 -4.3zM641.1 931.3l2.5 4.3l2.5 -4.3zM642.1 932.9l2.5 4.3l2.5 -4.3zM643.1 931l2.5 4.3l2.5 -4.3zM644.1 931.3l2.5 4.3l2.5 -4.3zM645.1 931.7l2.5 4.3l2.5 -4.3zM646.1 931l2.5 4.3l2.5 -4.3zM647.1 933l2.5 4.3l2.5 -4.3zM648.1 931.7l2.5 4.3l2.5 -4.3zM649.1 930.5l2.5 4.3l2.5 -4.3zM650.1 931.4l2.5 4.3l2.5 -4.3zM651.1 930.9l2.5 4.3l2.5 -4.3zM652.1 933l2.5 4.3l2.5 -4.3zM653.1 930l2.5 4.3l2.5 -4.3zM654.1 929.2l2.5 4.3l2.5 -4.3zM655.1 933.4l2.5 4.3l2.5 -4.3zM656.1 931.1l2.5 4.3l2.5 -4.3zM657.1 932.4l2.5 4.3l2.5 -4.3zM658.1 931.1l2.5 4.3l2.5 -4.3zM659.1 930.6l2.5 4.3l2.5 -4.3zM660.1 931.7l2.5 4.3l2.5 -4.3zM661.1 931.2l2.5 4.3l2.5 -4.3zM662.1 930.4l2.5 4.3l2.5 -4.3zM663.1 929l2.5 4.3l2.5 -4.3zM664.1 931.4l2.5 4.3l2.5 -4.3zM665.1 934.3l2.5 4.3l2.5 -4.3zM666.1 932.3l2.5 4.3l2.5 -4.3zM667.1 929.5l2.5 4.3l2.5 -4.3zM668.1 932.5l2.5 4.3l2.5 -4.3zM669.1 929.5l2.5 4.3l2.5 -4.3zM670.1 930.4l2.5 4.3l2.5 -4.3zM671.1 931l2.5 4.3l2.5 -4.3zM672.1 931l2.5 4.3l2.5 -4.3zM673.1 930l2.5 4.3l2.5 -4.3zM674.1 930.6l2.5 4.3l2.5 -4.3zM675.1 931l2.5 4.3l2.5 -4.3zM676.1 931l2.5 4.3l2.5 -4.3zM677.1 932.7l2.5 4.3l2.5 -4.3zM678.1 931.9l2.5 4.3l2.5 -4.3zM679.1 931l2.5 4.3l2.5 -4.3zM680.1 930.1l2.5 4.3l2.5 -4.3zM681.1 931.7l2.5 4.3l2.5 -4.3zM682.1 930.8l2.5 4.3l2.5 -4.3zM683.1 930l2.5 4.3l2.5 -4.3zM684.1 928.2l2.5 4.3l2.5 -4.3zM685.1 931l2.5 4.3l2.5 -4.3zM686.1 931.5l2.5 4.3l2.5 -4.3zM687.1 931.9l2.5 4.3l2.5 -4.3zM688.1 929.7l2.5 4.3l2.5 -4.3zM689.1 930.7l2.5 4.3l2.5 -4.3zM690.1 928.8l2.5 4.3l2.5 -4.3zM691.1 930.9l2.5 4.3l2.5 -4.3zM692.1 931l2.5 4.3l2.5 -4.3zM693.1 929.8l2.5 4.3l2.5 -4.3zM694.1 931.2l2.5 4.3l2.5 -4.3zM695.1 931.8l2.5 4.3l2.5 -4.3zM696.1 931.8l2.5 4.3l2.5 -4.3zM697.1 929.7l2.5 4.3l2.5 -4.3zM698.1 930.7l2.5 4.3l2.5 -4.3zM699.1 931.8l2.5 4.3l2.5 -4.3zM700.1 930.5l2.5 4.3l2.5 -4.3zM701.1 930.2l2.5 4.3l2.5 -4.3zM702.1 930.4l2.5 4.3l2.5 -4.3zM703.1 931.6l2.5 4.3l2.5 -4.3zM704.1 930.4l2.5 4.3l2.5 -4.3zM705.1 928.6l2.5 4.3l2.5 -4.3zM706.1 931.3l2.5 4.3l2.5 -4.3zM707.1 933.7l2.5 4.3l2.5 -4.3zM708.1 931.1l2.5 4.3l2.5 -4.3zM709.1 932.1l2.5 4.3l2.5 -4.3zM710.1 931l2.5 4.3l2.5 -4.3zM711.1 930.4l2.5 4.3l2.5 -4.3zM712.1 928.7l2.5 4.3l2.5 -4.3zM713.1 931.1l2.5 4.3l2.5 -4.3zM714.1 930.6l2.5 4.3l2.5 -4.3zM715.1 931.6l2.5 4.3l2.5 -4.3zM716.1 930.7l2.5 4.3l2.5 -4.3zM717.1 931.3l2.5 4.3l2.5 -4.3zM718.1 928.3l2.5 4.3l2.5 -4.3zM719.1 930.9l2.5 4.3l2.5 -4.3zM720.1 931.2l2.5 4.3l2.5 -4.3zM721.1 930.9l2.5 4.3l2.5 -4.3zM722.1 932l2.5 4.3l2.5 -4.3zM723.1 930.4l2.5 4.3l2.5 -4.3zM724.1 931.2l2.5 4.3l2.5 -4.3zM725.1 928.4l2.5 4.3l2.5 -4.3zM726.1 931.3l2.5 4.3l2.5 -4.3zM727.1 931.3l2.5 4.3l2.5 -4.3zM728.1 929.5l2.5 4.3l2.5 -4.3zM729.1 928.1l2.5 4.3l2.5 -4.3zM730.1 929.4l2.5 4.3l2.5 -4.3zM731.1 930.4l2.5 4.3l2.5 -4.3zM732.1 932.1l2.5 4.3l2.5 -4.3zM733.1 929.1l2.5 4.3l2.5 -4.3zM734.1 930.8l2.5 4.3l2.5 -4.3zM735.1 931l2.5 4.3l2.5 -4.3zM736.1 930.9l2.5 4.3l2.5 -4.3zM737.1 929.6l2.5 4.3l2.5 -4.3zM738.1 931l2.5 4.3l2.5 -4.3zM739.1 928.8l2.5 4.3l2.5 -4.3zM740.1 928.2l2.5 4.3l2.5 -4.3zM741.1 930.2l2.5 4.3l2.5 -4.3zM742.1 929.3l2.5 4.3l2.5 -4.3zM743.1 927.8l2.5 4.3l2.5 -4.3zM744.1 931.7l2.5 4.3l2.5 -4.3zM745.1 931.1l2.5 4.3l2.5 -4.3zM746.1 930.9l2.5 4.3l2.5 -4.3zM747.1 929.2l2.5 4.3l2.5 -4.3zM748.1 929.5l2.5 4.3l2.5 -4.3zM749.1 928.5l2.5 4.3l2.5 -4.3zM750.1 930.2l2.5 4.3l2.5 -4.3zM751.1 929.9l2.5 4.3l2.5 -4.3zM752.1 930.2l2.5 4.3l2.5 -4.3zM753.1 931.8l2.5 4.3l2.5 -4.3zM754.1 929.7l2.5 4.3l2.5 -4.3zM755.1 930l2.5 4.3l2.5 -4.3zM756.1 928.6l2.5 4.3l2.5 -4.3zM757.1 931.9l2.5 4.3l2.5 -4.3zM758.1 931.5l2.5 4.3l2.5 -4.3zM759.1 927.7l2.5 4.3l2.5 -4.3zM760.1 927.8l2.5 4.3l2.5 -4.3zM761.1 932l2.5 4.3l2.5 -4.3zM762.1 932.3l2.5 4.3l2.5 -4.3zM763.1 931l2.5 4.3l2.5 -4.3zM764.1 933.5l2.5 4.3l2.5 -4.3zM765.1 928.7l2.5 4.3l2.5 -4.3zM766.1 930.3l2.5 4.3l2.5 -4.3zM767.1 931.1l2.5 4.3l2.5 -4.3zM768.1 930l2.5 4.3l2.5 -4.3zM769.1 929.1l2.5 4.3l2.5 -4.3zM770.1 930l2.5 4.3l2.5 -4.3zM771.1 929.2l2.5 4.3l2.5 -4.3zM772.1 932.2l2.5 4.3l2.5 -4.3zM773.1 929.7l2.5 4.3l2.5 -4.3zM774.1 929.4l2.5 4.3l2.5 -4.3zM775.1 928l2.5 4.3l2.5 -4.3zM776.1 931.7l2.5 4.3l2.5 -4.3zM777.1 929.9l2.5 4.3l2.5 -4.3zM778.1 930.7l2.5 4.3l2.5 -4.3zM779.1 929.9l2.5 4.3l2.5 -4.3zM780.1 930.4l2.5 4.3l2.5 -4.3zM781.1 930.1l2.5 4.3l2.5 -4.3zM782.1 929.4l2.5 4.3l2.5 -4.3zM783.1 930.6l2.5 4.3l2.5 -4.3zM784.1 929.1l2.5 4.3l2.5 -4.3zM785.1 930.3l2.5 4.3l2.5 -4.3zM786.1 930.4l2.5 4.3l2.5 -4.3zM787.1 930.9l2.5 4.3l2.5 -4.3zM788.1 929l2.5 4.3l2.5 -4.3zM789.1 932.6l2.5 4.3l2.5 -4.3zM790.1 930.2l2.5 4.3l2.5 -4.3zM791.1 928.7l2.5 4.3l2.5 -4.3zM792.1 928.1l2.5 4.3l2.5 -4.3zM793.1 930l2.5 4.3l2.5 -4.3zM794.1 929.8l2.5 4.3l2.5 -4.3zM795.1 930.6l2.5 4.3l2.5 -4.3zM796.1 926.6l2.5 4.3l2.5 -4.3zM797.1 929.8l2.5 4.3l2.5 -4.3zM798.1 930.4l2.5 4.3l2.5 -4.3zM799.1 931l2.5 4.3l2.5 -4.3zM800.1 927.9l2.5 4.3l2.5 -4.3zM801.1 929.2l2.5 4.3l2.5 -4.3zM802.1 929l2.5 4.3l2.5 -4.3zM803.1 929.7l2.5 4.3l2.5 -4.3zM804.1 929.5l2.5 4.3l2.5 -4.3zM805.1 929.9l2.5 4.3l2.5 -4.3zM806.1 928.8l2.5 4.3l2.5 -4.3zM807.1 930.3l2.5 4.3l2.5 -4.3zM808.1 928.1l2.5 4.3l2.5 -4.3zM809.1 929.7l2.5 4.3l2.5 -4.3zM810.1 932.2l2.5 4.3l2.5 -4.3zM811.1 928.6l2.5 4.3l2.5 -4.3zM812.1 931.8l2.5 4.3l2.5 -4.3zM813.1 931.2l2.5 4.3l2.5 -4.3zM814.1 929.2l2.5 4.3l2.5 -4.3zM815.1 930.3l2.5 4.3l2.5 -4.3zM816.1 930.4l2.5 4.3l2.5 -4.3zM817.1 928.7l2.5 4.3l2.5 -4.3zM818.1 927.4l2.5 4.3l2.5 -4.3zM819.1 929.4l2.5 4.3l2.5 -4.3zM820.1 928.3l2.5 4.3l2.5 -4.3zM821.1 930.4l2.5 4.3l2.5 -4.3zM822.1 927.8l2.5 4.3l2.5 -4.3zM823.1 932l2.5 4.3l2.5 -4.3zM824.1 932.4l2.5 4.3l2.5 -4.3zM825.1 928.9l2.5 4.3l2.5 -4.3zM826.1 927.4l2.5 4.3l2.5 -4.3zM827.1 930.1l2.5 4.3l2.5 -4.3zM828.1 929.1l2.5 4.3l2.5 -4.3zM829.1 929.6l2.5 4.3l2.5 -4.3zM830.1 927.9l2.5 4.3l2.5 -4.3zM831.1 928l2.5 4.3l2.5 -4.3zM832.1 930.2l2.5 4.3l2.5 -4.3zM833.1 928.1l2.5 4.3l2.5 -4.3zM834.1 927.4l2.5 4.3l2.5 -4.3zM835.1 930.2l2.5 4.3l2.5 -4.3zM836.1 930.3l2.5 4.3l2.5 -4.3zM837.1 929.2l2.5 4.3l2.5 -4.3zM838.1 928.4l2.5 4.3l2.5 -4.3zM839.1 931.4l2.5 4.3l2.5 -4.3zM840.1 929.2l2.5 4.3l2.5 -4.3zM841.1 930.3l2.5 4.3l2.5 -4.3zM842.1 928l2.5 4.3l2.5 -4.3zM843.1 928l2.5 4.3l2.5 -4.3zM844.1 929.8l2.5 4.3l2.5 -4.3zM845.1 931.3l2.5 4.3l2.5 -4.3zM846.1 928.4l2.5 4.3l2.5 -4.3zM847.1 928.9l2.5 4.3l2.5 -4.3zM848.1 929.1l2.5 4.3l2.5 -4.3zM849.1 931.1l2.5 4.3l2.5 -4.3zM850.1 929.5l2.5 4.3l2.5 -4.3zM851.1 929.9l2.5 4.3l2.5 -4.3zM852.1 930.5l2.5 4.3l2.5 -4.3zM853.1 930.3l2.5 4.3l2.5 -4.3zM854.1 931.3l2.5 4.3l2.5 -4.3zM855.1 928l2.5 4.3l2.5 -4.3zM856.1 929.8l2.5 4.3l2.5 -4.3zM857.1 929.8l2.5 4.3l2.5 -4.3zM858.1 928l2.5 4.3l2.5 -4.3zM859.1 929.5l2.5 4.3l2.5 -4.3zM860.1 929.7l2.5 4.3l2.5 -4.3zM861.1 928.9l2.5 4.3l2.5 -4.3zM862.1 928.6l2.5 4.3l2.5 -4.3zM863.1 930.7l2.5 4.3l2.5 -4.3zM864.1 929.6l2.5 4.3l2.5 -4.3zM865.1 929.2l2.5 4.3l2.5 -4.3zM866.1 929.6l2.5 4.3l2.5 -4.3zM867.1 928.7l2.5 4.3l2.5 -4.3zM868.1 929.5l2.5 4.3l2.5 -4.3zM869.1 929.8l2.5 4.3l2.5 -4.3zM870.1 928.3l2.5 4.3l2.5 -4.3zM871.1 929.1l2.5 4.3l2.5 -4.3zM872.1 929.1l2.5 4.3l2.5 -4.3zM873.1 929.3l2.5 4.3l2.5 -4.3zM874.1 928.7l2.5 4.3l2.5 -4.3zM875.1 929.1l2.5 4.3l2.5 -4.3zM876.1 928.6l2.5 4.3l2.5 -4.3zM877.1 928.1l2.5 4.3l2.5 -4.3zM878.1 928.4l2.5 4.3l2.5 -4.3zM879.1 927.2l2.5 4.3l2.5 -4.3zM880.1 929.7l2.5 4.3l2.5 -4.3zM881.1 929.4l2.5 4.3l2.5 -4.3zM882.1 927l2.5 4.3l2.5 -4.3zM883.1 927.8l2.5 4.3l2.5 -4.3zM884.1 927.9l2.5 4.3l2.5 -4.3zM885.1 927.5l2.5 4.3l2.5 -4.3zM886.1 927.5l2.5 4.3l2.5 -4.3zM887.1 929.1l2.5 4.3l2.5 -4.3zM888.1 927.8l2.5 4.3l2.5 -4.3zM889.1 928.7l2.5 4.3l2.5 -4.3zM890.1 927.7l2.5 4.3l2.5 -4.3zM891.1 927.1l2.5 4.3l2.5 -4.3zM892.1 924.5l2.5 4.3l2.5 -4.3zM893.1 927.4l2.5 4.3l2.5 -4.3zM894.1 924.7l2.5 4.3l2.5 -4.3zM895.1 921.8l2.5 4.3l2.5 -4.3zM896.1 923.6l2.5 4.3l2.5 -4.3zM897.1 922.8l2.5 4.3l2.5 -4.3zM898.1 923.2l2.5 4.3l2.5 -4.3zM899.1 920.7l2.5 4.3l2.5 -4.3zM900.1 921.4l2.5 4.3l2.5 -4.3zM901.1 920.4l2.5 4.3l2.5 -4.3zM902.1 921.8l2.5 4.3l2.5 -4.3zM903.1 919.9l2.5 4.3l2.5 -4.3zM904.1 921l2.5 4.3l2.5 -4.3zM905.1 922.4l2.5 4.3l2.5 -4.3zM906.1 921.7l2.5 4.3l2.5 -4.3zM907.1 924.6l2.5 4.3l2.5 -4.3zM908.1 926l2.5 4.3l2.5 -4.3zM909.1 929.2l2.5 4.3l2.5 -4.3zM910.1 929.1l2.5 4.3l2.5 -4.3zM911.1 928l2.5 4.3l2.5 -4.3zM912.1 931.1l2.5 4.3l2.5 -4.3zM913.1 928.4l2.5 4.3l2.5 -4.3zM914.1 929.1l2.5 4.3l2.5 -4.3zM915.1 929.4l2.5 4.3l2.5 -4.3zM916.1 930l2.5 4.3l2.5 -4.3zM917.1 928.7l2.5 4.3l2.5 -4.3zM918.1 929.2l2.5 4.3l2.5 -4.3zM919.1 929.2l2.5 4.3l2.5 -4.3zM920.1 929.9l2.5 4.3l2.5 -4.3zM921.1 928.8l2.5 4.3l2.5 -4.3zM922.1 929.3l2.5 4.3l2.5 -4.3zM923.1 928.3l2.5 4.3l2.5 -4.3zM924.1 931.9l2.5 4.3l2.5 -4.3zM925.1 930.6l2.5 4.3l2.5 -4.3zM926.1 931.5l2.5 4.3l2.5 -4.3zM927.1 929.3l2.5 4.3l2.5 -4.3zM928.1 928.2l2.5 4.3l2.5 -4.3zM929.1 928.4l2.5 4.3l2.5 -4.3zM930.1 928.9l2.5 4.3l2.5 -4.3zM931.1 931l2.5 4.3l2.5 -4.3zM932.1 930l2.5 4.3l2.5 -4.3zM933.1 929.9l2.5 4.3l2.5 -4.3zM934.1 929.1l2.5 4.3l2.5 -4.3zM935.1 932.5l2.5 4.3l2.5 -4.3zM936.1 929.1l2.5 4.3l2.5 -4.3zM937.1 930.4l2.5 4.3l2.5 -4.3zM938.1 930.4l2.5 4.3l2.5 -4.3zM939.1 930.6l2.5 4.3l2.5 -4.3zM940.1 930.6l2.5 4.3l2.5 -4.3zM941.1 931.3l2.5 4.3l2.5 -4.3zM942.1 933.9l2.5 4.3l2.5 -4.3zM943.1 932.2l2.5 4.3l2.5 -4.3zM944.1 931.7l2.5 4.3l2.5 -4.3zM945.1 929.8l2.5 4.3l2.5 -4.3zM946.1 932.7l2.5 4.3l2.5 -4.3zM947.1 932.9l2.5 4.3l2.5 -4.3zM948.1 930.5l2.5 4.3l2.5 -4.3zM949.1 931.8l2.5 4.3l2.5 -4.3zM950.1 928.5l2.5 4.3l2.5 -4.3zM951.1 930l2.5 4.3l2.5 -4.3zM952.1 932.5l2.5 4.3l2.5 -4.3zM953.1 929.3l2.5 4.3l2.5 -4.3zM954.1 932l2.5 4.3l2.5 -4.3zM955.1 932.6l2.5 4.3l2.5 -4.3zM956.1 929.7l2.5 4.3l2.5 -4.3zM957.1 931.2l2.5 4.3l2.5 -4.3zM958.1 933.1l2.5 4.3l2.5 -4.3zM959.1 934.1l2.5 4.3l2.5 -4.3zM960.1 931.5l2.5 4.3l2.5 -4.3zM961.1 933.1l2.5 4.3l2.5 -4.3zM962.1 930.5l2.5 4.3l2.5 -4.3zM963.1 930.7l2.5 4.3l2.5 -4.3zM964.1 932l2.5 4.3l2.5 -4.3zM965.1 932.4l2.5 4.3l2.5 -4.3zM966.1 931.7l2.5 4.3l2.5 -4.3zM967.1 932.8l2.5 4.3l2.5 -4.3zM968.1 933.7l2.5 4.3l2.5 -4.3zM969.1 933.1l2.5 4.3l2.5 -4.3zM970.1 932.5l2.5 4.3l2.5 -4.3zM971.1 931.7l2.5 4.3l2.5 -4.3zM972.1 931.8l2.5 4.3l2.5 -4.3zM973.1 931.6l2.5 4.3l2.5 -4.3zM974.1 932.4l2.5 4.3l2.5 -4.3zM975.1 933l2.5 4.3l2.5 -4.3zM976.1 932.9l2.5 4.3l2.5 -4.3zM977.1 933.3l2.5 4.3l2.5 -4.3zM978.1 932.8l2.5 4.3l2.5 -4.3zM979.1 932.8l2.5 4.3l2.5 -4.3z" fill="#008000"/><path d="M590.1 881.6l2.5 -4.3l2.5 4.3zM591.1 883.6l2.5 -4.3l2.5 4.3zM592.1 882.4l2.5 -4.3l2.5 4.3zM593.1 880.5l2.5 -4.3l2.5 4.3zM594.1 880.3l2.5 -4.3l2.5 4.3zM595.1 882.6l2.5 -4.3l2.5 4.3zM596.1 882.6l2.5 -4.3l2.5 4.3zM597.1 880.4l2.5 -4.3l2.5 4.3zM598.1 882.4l2.5 -4.3l2.5 4.3zM599.1 881.9l2.5 -4.3l2.5 4.3zM600.1 882.8l2.5 -4.3l2.5 4.3zM601.1 881.4l2.5 -4.3l2.5 4.3zM602.1 882.3l2.5 -4.3l2.5 4.3zM603.1 882l2.5 -4.3l2.5 4.3zM604.1 882.8l2.5 -4.3l2.5 4.3zM605.1 883.4l2.5 -4.3l2.5 4.3zM606.1 884.5l2.5 -4.3l2.5 4.3zM607.1 880.3l2.5 -4.3l2.5 4.3zM608.1 882.3l2.5 -4.3l2.5 4.3zM609.1 880.9l2.5 -4.3l2.5 4.3zM610.1 880.6l2.5 -4.3l2.5 4.3zM611.1 877.6l2.5 -4.3l2.5 4.3zM612.1 881.2l2.5 -4.3l2.5 4.3zM613.1 881.9l2.5 -4.3l2.5 4.3zM614.1 881.5l2.5 -4.3l2.5 4.3zM615.1 882l2.5 -4.3l2.5 4.3zM616.1 882l2.5 -4.3l2.5 4.3zM617.1 882.3l2.5 -4.3l2.5 4.3zM618.1 881.8l2.5 -4.3l2.5 4.3zM619.1 882l2.5 -4.3l2.5 4.3zM620.1 881.9l2.5 -4.3l2.5 4.3zM621.1 881.1l2.5 -4.3l2.5 4.3zM622.1 880l2.5 -4.3l2.5 4.3zM623.1 879.8l2.5 -4.3l2.5 4.3zM624.1 882l2.5 -4.3l2.5 4.3zM625.1 880.3l2.5 -4.3l2.5 4.3zM626.1 882.3l2.5 -4.3l2.5 4.3zM627.1 880.9l2.5 -4.3l2.5 4.3zM628.1 880.5l2.5 -4.3l2.5 4.3zM629.1 881.1l2.5 -4.3l2.5 4.3zM630.1 881.5l2.5 -4.3l2.5 4.3zM631.1 883.4l2.5 -4.3l2.5 4.3zM632.1 880.8l2.5 -4.3l2.5 4.3zM633.1 880.7l2.5 -4.3l2.5 4.3zM634.1 881.7l2.5 -4.3l2.5 4.3zM635.1 882.4l2.5 -4.3l2.5 4.3zM636.1 881.1l2.5 -4.3l2.5 4.3zM637.1 880.6l2.5 -4.3l2.5 4.3zM638.1 881.9l2.5 -4.3l2.5 4.3zM639.1 881.6l2.5 -4.3l2.5 4.3zM640.1 881.8l2.5 -4.3l2.5 4.3zM641.1 877.8l2.5 -4.3l2.5 4.3zM642.1 882l2.5 -4.3l2.5 4.3zM643.1 881.4l2.5 -4.3l2.5 4.3zM644.1 882.5l2.5 -4.3l2.5 4.3zM645.1 881l2.5 -4.3l2.5 4.3zM646.1 881.8l2.5 -4.3l2.5 4.3zM647.1 881l2.5 -4.3l2.5 4.3zM648.1 883.8l2.5 -4.3l2.5 4.3zM649.1 879.5l2.5 -4.3l2.5 4.3zM650.1 880.1l2.5 -4.3l2.5 4.3zM651.1 880.3l2.5 -4.3l2.5 4.3zM652.1 877.7l2.5 -4.3l2.5 4.3zM653.1 880.6l2.5 -4.3l2.5 4.3zM654.1 883.1l2.5 -4.3l2.5 4.3zM655.1 882.1l2.5 -4.3l2.5 4.3zM656.1 882.5l2.5 -4.3l2.5 4.3zM657.1 881.1l2.5 -4.3l2.5 4.3zM658.1 880.5l2.5 -4.3l2.5 4.3zM659.1 881l2.5 -4.3l2.5 4.3zM660.1 879.7l2.5 -4.3l2.5 4.3zM661.1 879.2l2.5 -4.3l2.5 4.3zM662.1 883.7l2.5 -4.3l2.5 4.3zM663.1 881.2l2.5 -4.3l2.5 4.3zM664.1 882.9l2.5 -4.3l2.5 4.3zM665.1 879.6l2.5 -4.3l2.5 4.3zM666.1 881.3l2.5 -4.3l2.5 4.3zM667.1 879.5l2.5 -4.3l2.5 4.3zM668.1 883.1l2.5 -4.3l2.5 4.3zM669.1 881.4l2.5 -4.3l2.5 4.3zM670.1 880l2.5 -4.3l2.5 4.3zM671.1 878.7l2.5 -4.3l2.5 4.3zM672.1 882.7l2.5 -4.3l2.5 4.3zM673.1 880l2.5 -4.3l2.5 4.3zM674.1 881l2.5 -4.3l2.5 4.3zM675.1 881.1l2.5 -4.3l2.5 4.3zM676.1 880l2.5 -4.3l2.5 4.3zM677.1 883l2.5 -4.3l2.5 4.3zM678.1 883.4l2.5 -4.3l2.5 4.3zM679.1 880.6l2.5 -4.3l2.5 4.3zM680.1 881.5l2.5 -4.3l2.5 4.3zM681.1 882.1l2.5 -4.3l2.5 4.3zM682.1 882l2.5 -4.3l2.5 4.3zM683.1 882.1l2.5 -4.3l2.5 4.3zM684.1 879.9l2.5 -4.3l2.5 4.3zM685.1 881.2l2.5 -4.3l2.5 4.3zM686.1 879.6l2.5 -4.3l2.5 4.3zM687.1 881.1l2.5 -4.3l2.5 4.3zM688.1 881.9l2.5 -4.3l2.5 4.3zM689.1 882.3l2.5 -4.3l2.5 4.3zM690.1 878.8l2.5 -4.3l2.5 4.3zM691.1 881.6l2.5 -4.3l2.5 4.3zM692.1 879.6l2.5 -4.3l2.5 4.3zM693.1 881.9l2.5 -4.3l2.5 4.3zM694.1 881.8l2.5 -4.3l2.5 4.3zM695.1 881.5l2.5 -4.3l2.5 4.3zM696.1 882.4l2.5 -4.3l2.5 4.3zM697.1 881.6l2.5 -4.3l2.5 4.3zM698.1 880.4l2.5 -4.3l2.5 4.3zM699.1 880.9l2.5 -4.3l2.5 4.3zM700.1 881.7l2.5 -4.3l2.5 4.3zM701.1 879.4l2.5 -4.3l2.5 4.3zM702.1 881l2.5 -4.3l2.5 4.3zM703.1 881.7l2.5 -4.3l2.5 4.3zM704.1 880.1l2.5 -4.3l2.5 4.3zM705.1 882.8l2.5 -4.3l2.5 4.3zM706.1 882.6l2.5 -4.3l2.5 4.3zM707.1 881.9l2.5 -4.3l2.5 4.3zM708.1 881.2l2.5 -4.3l2.5 4.3zM709.1 880.9l2.5 -4.3l2.5 4.3zM710.1 882l2.5 -4.3l2.5 4.3zM711.1 881.9l2.5 -4.3l2.5 4.3zM712.1 883.5l2.5 -4.3l2.5 4.3zM713.1 880.5l2.5 -4.3l2.5 4.3zM714.1 882l2.5 -4.3l2.5 4.3zM715.1 882.6l2.5 -4.3l2.5 4.3zM716.1 880.2l2.5 -4.3l2.5 4.3zM717.1 881.5l2.5 -4.3l2.5 4.3zM718.1 881.4l2.5 -4.3l2.5 4.3zM719.1 881.1l2.5 -4.3l2.5 4.3zM720.1 882.4l2.5 -4.3l2.5 4.3zM721.1 881.1l2.5 -4.3l2.5 4.3zM722.1 882.1l2.5 -4.3l2.5 4.3zM723.1 881.8l2.5 -4.3l2.5 4.3zM724.1 882.2l2.5 -4.3l2.5 4.3zM725.1 881l2.5 -4.3l2.5 4.3zM726.1 880.5l2.5 -4.3l2.5 4.3zM727.1 882.1l2.5 -4.3l2.5 4.3zM728.1 881.4l2.5 -4.3l2.5 4.3zM729.1 882.3l2.5 -4.3l2.5 4.3zM730.1 880.7l2.5 -4.3l2.5 4.3zM731.1 880.7l2.5 -4.3l2.5 4.3zM732.1 882.1l2.5 -4.3l2.5 4.3zM733.1 881.5l2.5 -4.3l2.5 4.3zM734.1 881.2l2.5 -4.3l2.5 4.3zM735.1 882.1l2.5 -4.3l2.5 4.3zM736.1 881.1l2.5 -4.3l2.5 4.3zM737.1 881.5l2.5 -4.3l2.5 4.3zM738.1 881.9l2.5 -4.3l2.5 4.3zM739.1 880.1l2.5 -4.3l2.5 4.3zM740.1 882.4l2.5 -4.3l2.5 4.3zM741.1 881.3l2.5 -4.3l2.5 4.3zM742.1 881l2.5 -4.3l2.5 4.3zM743.1 881.3l2.5 -4.3l2.5 4.3zM744.1 880.6l2.5 -4.3l2.5 4.3zM745.1 879.2l2.5 -4.3l2.5 4.3zM746.1 881.4l2.5 -4.3l2.5 4.3zM747.1 880.8l2.5 -4.3l2.5 4.3zM748.1 883.2l2.5 -4.3l2.5 4.3zM749.1 883l2.5 -4.3l2.5 4.3zM750.1 880.8l2.5 -4.3l2.5 4.3zM751.1 881.7l2.5 -4.3l2.5 4.3zM752.1 882.6l2.5 -4.3l2.5 4.3zM753.1 881.8l2.5 -4.3l2.5 4.3zM754.1 881.2l2.5 -4.3l2.5 4.3zM755.1 881l2.5 -4.3l2.5 4.3zM756.1 880.2l2.5 -4.3l2.5 4.3zM757.1 883.3l2.5 -4.3l2.5 4.3zM758.1 882l2.5 -4.3l2.5 4.3zM759.1 881.3l2.5 -4.3l2.5 4.3zM760.1 880.8l2.5 -4.3l2.5 4.3zM761.1 884.4l2.5 -4.3l2.5 4.3zM762.1 880.5l2.5 -4.3l2.5 4.3zM763.1 881.1l2.5 -4.3l2.5 4.3zM764.1 877.6l2.5 -4.3l2.5 4.3zM765.1 877.5l2.5 -4.3l2.5 4.3zM766.1 877l2.5 -4.3l2.5 4.3zM767.1 878.2l2.5 -4.3l2.5 4.3zM768.1 876.4l2.5 -4.3l2.5 4.3zM769.1 877.8l2.5 -4.3l2.5 4.3zM770.1 876l2.5 -4.3l2.5 4.3zM771.1 876.7l2.5 -4.3l2.5 4.3zM772.1 874.9l2.5 -4.3l2.5 4.3zM773.1 876.1l2.5 -4.3l2.5 4.3zM774.1 874.7l2.5 -4.3l2.5 4.3zM775.1 875l2.5 -4.3l2.5 4.3zM776.1 874.2l2.5 -4.3l2.5 4.3zM777.1 873.7l2.5 -4.3l2.5 4.3zM778.1 874.9l2.5 -4.3l2.5 4.3zM779.1 877.1l2.5 -4.3l2.5 4.3zM780.1 877.7l2.5 -4.3l2.5 4.3zM781.1 876.3l2.5 -4.3l2.5 4.3zM782.1 877.4l2.5 -4.3l2.5 4.3zM783.1 877.9l2.5 -4.3l2.5 4.3zM784.1 880.7l2.5 -4.3l2.5 4.3zM785.1 879.6l2.5 -4.3l2.5 4.3zM786.1 879.8l2.5 -4.3l2.5 4.3zM787.1 881.8l2.5 -4.3l2.5 4.3zM788.1 880.7l2.5 -4.3l2.5 4.3zM789.1 882l2.5 -4.3l2.5 4.3zM790.1 882.3l2.5 -4.3l2.5 4.3zM791.1 880.8l2.5 -4.3l2.5 4.3zM792.1 879.5l2.5 -4.3l2.5 4.3zM793.1 881.1l2.5 -4.3l2.5 4.3zM794.1 883.8l2.5 -4.3l2.5 4.3zM795.1 880.2l2.5 -4.3l2.5 4.3zM796.1 882.9l2.5 -4.3l2.5 4.3zM797.1 880.7l2.5 -4.3l2.5 4.3zM798.1 880.3l2.5 -4.3l2.5 4.3zM799.1 883l2.5 -4.3l2.5 4.3zM800.1 880.9l2.5 -4.3l2.5 4.3zM801.1 879l2.5 -4.3l2.5 4.3zM802.1 879.9l2.5 -4.3l2.5 4.3zM803.1 880.4l2.5 -4.3l2.5 4.3zM804.1 880.7l2.5 -4.3l2.5 4.3zM805.1 882.8l2.5 -4.3l2.5 4.3zM806.1 882.5l2.5 -4.3l2.5 4.3zM807.1 881.4l2.5 -4.3l2.5 4.3zM808.1 881.9l2.5 -4.3l2.5 4.3zM809.1 880.8l2.5 -4.3l2.5 4.3zM810.1 879.5l2.5 -4.3l2.5 4.3zM811.1 881.4l2.5 -4.3l2.5 4.3zM812.1 881.1l2.5 -4.3l2.5 4.3zM813.1 882.4l2.5 -4.3l2.5 4.3zM814.1 881.7l2.5 -4.3l2.5 4.3zM815.1 882.7l2.5 -4.3l2.5 4.3zM816.1 880.9l2.5 -4.3l2.5 4.3zM817.1 881l2.5 -4.3l2.5 4.3zM818.1 880.9l2.5 -4.3l2.5 4.3zM819.1 880.4l2.5 -4.3l2.5 4.3zM820.1 882.6l2.5 -4.3l2.5 4.3zM821.1 881.6l2.5 -4.3l2.5 4.3zM822.1 880l2.5 -4.3l2.5 4.3zM823.1 880.7l2.5 -4.3l2.5 4.3zM824.1 883.5l2.5 -4.3l2.5 4.3zM825.1 884l2.5 -4.3l2.5 4.3zM826.1 883l2.5 -4.3l2.5 4.3zM827.1 881.5l2.5 -4.3l2.5 4.3zM828.1 883.2l2.5 -4.3l2.5 4.3zM829.1 881.3l2.5 -4.3l2.5 4.3zM830.1 880.1l2.5 -4.3l2.5 4.3zM831.1 881.5l2.5 -4.3l2.5 4.3zM832.1 880.1l2.5 -4.3l2.5 4.3zM833.1 881.1l2.5 -4.3l2.5 4.3zM834.1 884l2.5 -4.3l2.5 4.3zM835.1 882l2.5 -4.3l2.5 4.3zM836.1 881.6l2.5 -4.3l2.5 4.3zM837.1 882.3l2.5 -4.3l2.5 4.3zM838.1 880.9l2.5 -4.3l2.5 4.3zM839.1 881.7l2.5 -4.3l2.5 4.3zM840.1 880.3l2.5 -4.3l2.5 4.3zM841.1 878.3l2.5 -4.3l2.5 4.3zM842.1 880.8l2.5 -4.3l2.5 4.3zM843.1 880l2.5 -4.3l2.5 4.3zM844.1 878.8l2.5 -4.3l2.5 4.3zM845.1 880.8l2.5 -4.3l2.5 4.3zM846.1 880.2l2.5 -4.3l2.5 4.3zM847.1 880.3l2.5 -4.3l2.5 4.3zM848.1 883l2.5 -4.3l2.5 4.3zM849.1 882l2.5 -4.3l2.5 4.3zM850.1 882.4l2.5 -4.3l2.5 4.3zM851.1 881.1l2.5 -4.3l2.5 4.3zM852.1 880.1l2.5 -4.3l2.5 4.3zM853.1 880.2l2.5 -4.3l2.5 4.3zM854.1 883.3l2.5 -4.3l2.5 4.3zM855.1 878l2.5 -4.3l2.5 4.3zM856.1 880.6l2.5 -4.3l2.5 4.3zM857.1 881.4l2.5 -4.3l2.5 4.3zM858.1 879.5l2.5 -4.3l2.5 4.3zM859.1 882.3l2.5 -4.3l2.5 4.3zM860.1 880.2l2.5 -4.3l2.5 4.3zM861.1 881.1l2.5 -4.3l2.5 4.3zM862.1 882.9l2.5 -4.3l2.5 4.3zM863.1 882.1l2.5 -4.3l2.5 4.3zM864.1 880.8l2.5 -4.3l2.5 4.3zM865.1 880.9l2.5 -4.3l2.5 4.3zM866.1 882.6l2.5 -4.3l2.5 4.3zM867.1 883.1l2.5 -4.3l2.5 4.3zM868.1 881.5l2.5 -4.3l2.5 4.3zM869.1 878.7l2.5 -4.3l2.5 4.3zM870.1 880.3l2.5 -4.3l2.5 4.3zM871.1 882l2.5 -4.3l2.5 4.3zM872.1 879.9l2.5 -4.3l2.5 4.3zM873.1 880.3l2.5 -4.3l2.5 4.3zM874.1 879.5l2.5 -4.3l2.5 4.3zM875.1 880.1l2.5 -4.3l2.5 4.3zM876.1 881.6l2.5 -4.3l2.5 4.3zM877.1 881.2l2.5 -4.3l2.5 4.3zM878.1 879.1l2.5 -4.3l2.5 4.3zM879.1 881.7l2.5 -4.3l2.5 4.3zM880.1 878.6l2.5 -4.3l2.5 4.3zM881.1 881.2l2.5 -4.3l2.5 4.3zM882.1 881.1l2.5 -4.3l2.5 4.3zM883.1 878.5l2.5 -4.3l2.5 4.3zM884.1 877.8l2.5 -4.3l2.5 4.3zM885.1 881l2.5 -4.3l2.5 4.3zM886.1 880.5l2.5 -4.3l2.5 4.3zM887.1 879.9l2.5 -4.3l2.5 4.3zM888.1 878.6l2.5 -4.3l2.5 4.3zM889.1 879.8l2.5 -4.3l2.5 4.3zM890.1 877.4l2.5 -4.3l2.5 4.3zM891.1 879.2l2.5 -4.3l2.5 4.3zM892.1 879.7l2.5 -4.3l2.5 4.3zM893.1 875.2l2.5 -4.3l2.5 4.3zM894.1 874.9l2.5 -4.3l2.5 4.3zM895.1 871l2.5 -4.3l2.5 4.3zM896.1 871l2.5 -4.3l2.5 4.3zM897.1 869.3l2.5 -4.3l2.5 4.3zM898.1 869.3l2.5 -4.3l2.5 4.3zM899.1 867.6l2.5 -4.3l2.5 4.3zM900.1 865.3l2.5 -4.3l2.5 4.3zM901.1 867.9l2.5 -4.3l2.5 4.3zM902.1 865.1l2.5 -4.3l2.5 4.3zM903.1 868l2.5 -4.3l2.5 4.3zM904.1 866.4l2.5 -4.3l2.5 4.3zM905.1 870.4l2.5 -4.3l2.5 4.3zM906.1 871.8l2.5 -4.3l2.5 4.3zM907.1 872.5l2.5 -4.3l2.5 4.3zM908.1 875.5l2.5 -4.3l2.5 4.3zM909.1 876l2.5 -4.3l2.5 4.3zM910.1 878.8l2.5 -4.3l2.5 4.3zM911.1 879l2.5 -4.3l2.5 4.3zM912.1 880.8l2.5 -4.3l2.5 4.3zM913.1 878l2.5 -4.3l2.5 4.3zM914.1 882.6l2.5 -4.3l2.5 4.3zM915.1 881.1l2.5 -4.3l2.5 4.3zM916.1 881.2l2.5 -4.3l2.5 4.3zM917.1 880.1l2.5 -4.3l2.5 4.3zM918.1 880l2.5 -4.3l2.5 4.3zM919.1 881.3l2.5 -4.3l2.5 4.3zM920.1 881.8l2.5 -4.3l2.5 4.3zM921.1 881.9l2.5 -4.3l2.5 4.3zM922.1 881l2.5 -4.3l2.5 4.3zM923.1 882l2.5 -4.3l2.5 4.3zM924.1 882.9l2.5 -4.3l2.5 4.3zM925.1 881.4l2.5 -4.3l2.5 4.3zM926.1 881.2l2.5 -4.3l2.5 4.3zM927.1 883.2l2.5 -4.3l2.5 4.3zM928.1 882.5l2.5 -4.3l2.5 4.3zM929.1 880.9l2.5 -4.3l2.5 4.3zM930.1 882.8l2.5 -4.3l2.5 4.3zM931.1 882.6l2.5 -4.3l2.5 4.3zM932.1 887.2l2.5 -4.3l2.5 4.3zM933.1 883.1l2.5 -4.3l2.5 4.3zM934.1 883.1l2.5 -4.3l2.5 4.3zM935.1 882l2.5 -4.3l2.5 4.3zM936.1 881.1l2.5 -4.3l2.5 4.3zM937.1 882.1l2.5 -4.3l2.5 4.3zM938.1 881.9l2.5 -4.3l2.5 4.3zM939.1 881.6l2.5 -4.3l2.5 4.3zM940.1 883.6l2.5 -4.3l2.5 4.3zM941.1 881.1l2.5 -4.3l2.5 4.3zM942.1 884.3l2.5 -4.3l2.5 4.3zM943.1 881.1l2.5 -4.3l2.5 4.3zM944.1 879.1l2.5 -4.3l2.5 4.3zM945.1 883.4l2.5 -4.3l2.5 4.3zM946.1 882.1l2.5 -4.3l2.5 4.3zM947.1 881.6l2.5 -4.3l2.5 4.3zM948.1 882.9l2.5 -4.3l2.5 4.3zM949.1 881.9l2.5 -4.3l2.5 4.3zM950.1 882.7l2.5 -4.3l2.5 4.3zM951.1 882.1l2.5 -4.3l2.5 4.3zM952.1 882.8l2.5 -4.3l2.5 4.3zM953.1 881.7l2.5 -4.3l2.5 4.3zM954.1 883.5l2.5 -4.3l2.5 4.3zM955.1 881.8l2.5 -4.3l2.5 4.3zM956.1 882.9l2.5 -4.3l2.5 4.3zM957.1 880.4l2.5 -4.3l2.5 4.3zM958.1 883.5l2.5 -4.3l2.5 4.3zM959.1 882.3l2.5 -4.3l2.5 4.3zM960.1 882.8l2.5 -4.3l2.5 4.3zM961.1 882.7l2.5 -4.3l2.5 4.3zM962.1 882.5l2.5 -4.3l2.5 4.3zM963.1 882.1l2.5 -4.3l2.5 4.3zM964.1 884.4l2.5 -4.3l2.5 4.3zM965.1 882.8l2.5 -4.3l2.5 4.3zM966.1 882.9l2.5 -4.3l2.5 4.3zM967.1 883.1l2.5 -4.3l2.5 4.3zM968.1 882.7l2.5 -4.3l2.5 4.3zM969.1 884.9l2.5 -4.3l2.5 4.3zM970.1 882.9l2.5 -4.3l2.5 4.3zM971.1 884.2l2.5 -4.3l2.5 4.3zM972.1 883l2.5 -4.3l2.5 4.3zM973.1 882.3l2.5 -4.3l2.5 4.3zM974.1 882.3l2.5 -4.3l2.5 4.3zM975.1 884.7l2.5 -4.3l2.5 4.3zM976.1 881.9l2.5 -4.3l2.5 4.3zM977.1 882.3l2.5 -4.3l2.5 4.3zM978.1 883.6l2.5 -4.3l2.5 4.3zM979.1 885.1l2.5 -4.3l2.5 4.3z" fill="#ff00ff"/><path d="M593.7 819.7h0M594.7 819.5h0M595.7 823.2h0M596.7 820.2h0M597.7 820.3h0M598.7 819.2h0M599.7 821h0M600.7 813.9h0M601.7 819.4h0M602.7 820.2h0M603.7 819.5h0M604.7 821h0M605.7 822.4h0M606.7 821.7h0M607.7 820.2h0M608.7 817.2h0M609.7 818.3h0M610.7 822.6h0M611.7 823.1h0M612.7 821.7h0M613.7 822.1h0M614.7 822.1h0M615.7 818.7h0M616.7 820.3h0M617.7 820.2h0M618.7 821.9h0M619.7 822.6h0M620.7 821.1h0M621.7 823.8h0M622.7 820.8h0M623.7 820.3h0M624.7 820.2h0M625.7 818h0M626.7 822.1h0M627.7 820.3h0M628.7 822.1h0M629.7 821.7h0M630.7 821.9h0M631.7 818.7h0M632.7 820.5h0M633.7 820.7h0M634.7 821.6h0M635.7 819.6h0M636.7 819.5h0M637.7 822.8h0M638.7 819h0M639.7 821.4h0M640.7 817.6h0M641.7 822.2h0M642.7 820.3h0M643.7 820.4h0M644.7 819.6h0M645.7 818h0M646.7 823.6h0M647.7 820.8h0M648.7 823.1h0M649.7 821.9h0M650.7 819.4h0M651.7 820.1h0M652.7 821.7h0M653.7 820.9h0M654.7 818.6h0M655.7 821.3h0M656.7 822h0M657.7 822.5h0M658.7 823.2h0M659.7 820.8h0M660.7 820.1h0M661.7 820.1h0M662.7 816.8h0M663.7 822.6h0M664.7 823h0M665.7 814.9h0M666.7 820.7h0M667.7 819.6h0M668.7 820h0M669.7 817.7h0M670.7 820.1h0M671.7 813.8h0M672.7 821.1h0M673.7 821.5h0M674.7 821.9h0M675.7 817.5h0M676.7 818.2h0M677.7 819h0M678.7 822h0M679.7 819.6h0M680.7 822.2h0M681.7 820.1h0M682.7 820.7h0M683.7 817.5h0M684.7 817.1h0M685.7 818.4h0M686.7 817.7h0M687.7 817.2h0M688.7 820.2h0M689.7 821.7h0M690.7 818.2h0M691.7 819.1h0M692.7 821.2h0M693.7 819.2h0M694.7 820.2h0M695.7 821h0M696.7 820.8h0M697.7 820.6h0M698.7 819.3h0M699.7 817.3h0M700.7 820.4h0M701.7 817h0M702.7 818.8h0M703.7 819.3h0M704.7 827.2h0M705.7 819.6h0M706.7 819.1h0M707.7 817.9h0M708.7 818.1h0M709.7 816h0M710.7 814.9h0M711.7 818h0M712.7 818.4h0M713.7 817.4h0M714.7 817.7h0M715.7 817.7h0M716.7 820.7h0M717.7 817.1h0M718.7 820.9h0M719.7 817h0M720.7 817.7h0M721.7 818h0M722.7 818.9h0M723.7 820.2h0M724.7 819.6h0M725.7 819.8h0M726.7 818.6h0M727.7 818.1h0M728.7 817.9h0M729.7 816.4h0M730.7 821.4h0M731.7 818h0M732.7 817h0M733.7 816.3h0M734.7 817.6h0M735.7 816.5h0M736.7 819.6h0M737.7 819.8h0M738.7 817.1h0M739.7 820h0M740.7 819.3h0M741.7 818.6h0M742.7 818.5h0M743.7 817.7h0M744.7 819.5h0M745.7 815.5h0M746.7 819.2h0M747.7 818h0M748.7 814.6h0M749.7 817.6h0M750.7 818.3h0M751.7 819h0M752.7 818.2h0M753.7 816.6h0M754.7 818.4h0M755.7 818.2h0M756.7 813h0M757.7 816.1h0M758.7 817.1h0M759.7 816.6h0M760.7 817.7h0M761.7 820.4h0M762.7 817.1h0M763.7 816.2h0M764.7 816.5h0M765.7 814.7h0M766.7 814.6h0M767.7 813.5h0M768.7 814.6h0M769.7 812h0M770.7 812h0M771.7 811.5h0M772.7 808.5h0M773.7 810.2h0M774.7 811.2h0M775.7 808h0M776.7 808.7h0M777.7 810.2h0M778.7 811.2h0M779.7 810.9h0M780.7 811h0M781.7 813.5h0M782.7 812.4h0M783.7 814h0M784.7 815.5h0M785.7 817.9h0M786.7 816.4h0M787.7 819.3h0M788.7 817.1h0M789.7 818.7h0M790.7 819.3h0M791.7 821.8h0M792.7 823.9h0M793.7 819.1h0M794.7 822.1h0M795.7 821.8h0M796.7 822.8h0M797.7 821.5h0M798.7 823.9h0M799.7 819.6h0M800.7 824.4h0M801.7 825.3h0M802.7 822h0M803.7 823.7h0M804.7 821.8h0M805.7 823.2h0M806.7 823.3h0M807.7 819.7h0M808.7 825.2h0M809.7 824.9h0M810.7 826.8h0M811.7 823.9h0M812.7 824.2h0M813.7 825.8h0M814.7 821.2h0M815.7 824.8h0M816.7 823.4h0M817.7 826.8h0M818.7 823.6h0M819.7 825.4h0M820.7 823.1h0M821.7 818.8h0M822.7 825.8h0M823.7 825.2h0M824.7 825.1h0M825.7 823h0M826.7 825.2h0M827.7 821.9h0M828.7 822h0M829.7 824.6h0M830.7 824.3h0M831.7 825.8h0M832.7 821.8h0M833.7 823.5h0M834.7 823.6h0M835.7 824.3h0M836.7 820.9h0M837.7 822.6h0M838.7 821.8h0M839.7 823.1h0M840.7 831.2h0M841.7 823.3h0M842.7 824.5h0M843.7 823h0M844.7 821.4h0M845.7 822.8h0M846.7 821.8h0M847.7 821.6h0M848.7 823h0M849.7 822.5h0M850.7 820.3h0M851.7 818.3h0M852.7 820.6h0M853.7 822h0M854.7 823.4h0M855.7 821.5h0M856.7 822h0M857.7 822.7h0M858.7 822.8h0M859.7 819.8h0M860.7 820.6h0M861.7 821.8h0M862.7 819.9h0M863.7 819.3h0M864.7 820.1h0M865.7 820.5h0M866.7 822h0M867.7 819.5h0M868.7 818.9h0M869.7 819.5h0M870.7 821.2h0M871.7 817.1h0M872.7 820.2h0M873.7 821.1h0M874.7 818.8h0M875.7 818.4h0M876.7 817.4h0M877.7 817.6h0M878.7 818.6h0M879.7 820.5h0M880.7 819.2h0M881.7 817.5h0M882.7 815.7h0M883.7 815.8h0M884.7 819h0M885.7 814.9h0M886.7 819.9h0M887.7 816.6h0M888.7 817.5h0M889.7 816.9h0M890.7 814.3h0M891.7 814.7h0M892.7 813.5h0M893.7 811.5h0M894.7 811.9h0M895.7 810.8h0M896.7 807.6h0M897.7 807.1h0M898.7 806.6h0M899.7 803.2h0M900.7 797.1h0M901.7 794.9h0M902.7 785h0M903.7 782.4h0M904.7 778.5h0M905.7 780.3h0M906.7 781.4h0M907.7 782.8h0M908.7 790.5h0M909.7 792.5h0M910.7 799.1h0M911.7 806.8h0M912.7 813.8h0M913.7 814.9h0M914.7 817.3h0M915.7 817.7h0M916.7 824.4h0M917.7 823.9h0M918.7 825.3h0M919.7 824.5h0M920.7 826.2h0M921.7 823.9h0M922.7 826.9h0M923.7 825h0M924.7 824.5h0M925.7 826.5h0M926.7 826.2h0M927.7 826.2h0M928.7 823.4h0M929.7 824.4h0M930.7 824h0M931.7 824.9h0M932.7 826.7h0M933.7 824.7h0M934.7 826.3h0M935.7 824.7h0M936.7 825.8h0M937.7 827.2h0M938.7 828.1h0M939.7 829.3h0M940.7 826.8h0M941.7 826.9h0M942.7 828.7h0M943.7 824.1h0M944.7 824.9h0M945.7 827.9h0M946.7 828.1h0M947.7 829.3h0M948.7 829.1h0M949.7 828.9h0M950.7 827.8h0M951.7 826.6h0M952.7 828.3h0M953.7 823.8h0M954.7 826.3h0M955.7 824.2h0M956.7 826.1h0M957.7 822.2h0M958.7 827.1h0M959.7 826.4h0M960.7 828.1h0M961.7 824h0M962.7 825.9h0M963.7 827.7h0M964.7 823.8h0M965.7 826.1h0M966.7 823.1h0M967.7 829.2h0M968.7 824.9h0M969.7 826.4h0M970.7 826.8h0M971.7 823.6h0M972.7 825.4h0M973.7 821.3h0M974.7 827.2h0M975.7 829h0M976.7 824h0M977.7 828.2h0M978.7 827h0M979.7 830.7h0M980.7 832h0" stroke="#0000ff" stroke-width="3.9" stroke-linecap="round" fill="none"/><path d="M590.9 733.9h3.4v3.4h-3.4zM591.9 735.1h3.4v3.4h-3.4zM592.9 733.8h3.4v3.4h-3.4zM593.9 734h3.4v3.4h-3.4zM594.9 732.5h3.4v3.4h-3.4zM595.9 734h3.4v3.4h-3.4zM596.9 733.7h3.4v3.4h-3.4zM597.9 735.3h3.4v3.4h-3.4zM598.9 731.3h3.4v3.4h-3.4zM599.9 734.6h3.4v3.4h-3.4zM600.9 736.5h3.4v3.4h-3.4zM601.9 730.5h3.4v3.4h-3.4zM602.9 736h3.4v3.4h-3.4zM603.9 735.8h3.4v3.4h-3.4zM604.9 735.5h3.4v3.4h-3.4zM605.9 735.8h3.4v3.4h-3.4zM606.9 734.2h3.4v3.4h-3.4zM607.9 736.8h3.4v3.4h-3.4zM608.9 735.9h3.4v3.4h-3.4zM609.9 732.7h3.4v3.4h-3.4zM610.9 736.6h3.4v3.4h-3.4zM611.9 733.8h3.4v3.4h-3.4zM612.9 734.1h3.4v3.4h-3.4zM613.9 736.3h3.4v3.4h-3.4zM614.9 735.1h3.4v3.4h-3.4zM615.9 736h3.4v3.4h-3.4zM616.9 736.2h3.4v3.4h-3.4zM617.9 735.7h3.4v3.4h-3.4zM618.9 736.6h3.4v3.4h-3.4zM619.9 733.5h3.4v3.4h-3.4zM620.9 738.7h3.4v3.4h-3.4zM621.9 737.4h3.4v3.4h-3.4zM622.9 735.1h3.4v3.4h-3.4zM623.9 735.8h3.4v3.4h-3.4zM624.9 738.5h3.4v3.4h-3.4zM625.9 734.8h3.4v3.4h-3.4zM626.9 733.6h3.4v3.4h-3.4zM627.9 739.6h3.4v3.4h-3.4zM628.9 738.5h3.4v3.4h-3.4zM629.9 737.5h3.4v3.4h-3.4zM630.9 739.1h3.4v3.4h-3.4zM631.9 737.2h3.4v3.4h-3.4zM632.9 737.6h3.4v3.4h-3.4zM633.9 737.5h3.4v3.4h-3.4zM634.9 737.8h3.4v3.4h-3.4zM635.9 735h3.4v3.4h-3.4zM636.9 736.7h3.4v3.4h-3.4zM637.9 737.2h3.4v3.4h-3.4zM638.9 733.2h3.4v3.4h-3.4zM639.9 734.6h3.4v3.4h-3.4zM640.9 736.5h3.4v3.4h-3.4zM641.9 739.2h3.4v3.4h-3.4zM642.9 736.5h3.4v3.4h-3.4zM643.9 738.4h3.4v3.4h-3.4zM644.9 738.7h3.4v3.4h-3.4zM645.9 738.8h3.4v3.4h-3.4zM646.9 737.6h3.4v3.4h-3.4zM647.9 733.8h3.4v3.4h-3.4zM648.9 733.1h3.4v3.4h-3.4zM649.9 734.7h3.4v3.4h-3.4zM650.9 735.9h3.4v3.4h-3.4zM651.9 736.1h3.4v3.4h-3.4zM652.9 735.4h3.4v3.4h-3.4zM653.9 735.5h3.4v3.4h-3.4zM654.9 736.9h3.4v3.4h-3.4zM655.9 733.9h3.4v3.4h-3.4zM656.9 736.7h3.4v3.4h-3.4zM657.9 736.5h3.4v3.4h-3.4zM658.9 732.7h3.4v3.4h-3.4zM659.9 735.6h3.4v3.4h-3.4zM660.9 735.2h3.4v3.4h-3.4zM661.9 735.9h3.4v3.4h-3.4zM662.9 735.7h3.4v3.4h-3.4zM663.9 731.3h3.4v3.4h-3.4zM664.9 740.8h3.4v3.4h-3.4zM665.9 734.7h3.4v3.4h-3.4zM666.9 737.5h3.4v3.4h-3.4zM667.9 735.7h3.4v3.4h-3.4zM668.9 732.6h3.4v3.4h-3.4zM669.9 733.9h3.4v3.4h-3.4zM670.9 733.6h3.4v3.4h-3.4zM671.9 737.3h3.4v3.4h-3.4zM672.9 731.6h3.4v3.4h-3.4zM673.9 736.1h3.4v3.4h-3.4zM674.9 735h3.4v3.4h-3.4zM675.9 733.3h3.4v3.4h-3.4zM676.9 731.8h3.4v3.4h-3.4zM677.9 733.1h3.4v3.4h-3.4zM678.9 734.4h3.4v3.4h-3.4zM679.9 731.7h3.4v3.4h-3.4zM680.9 733.5h3.4v3.4h-3.4zM681.9 734.1h3.4v3.4h-3.4zM682.9 734.2h3.4v3.4h-3.4zM683.9 732.5h3.4v3.4h-3.4zM684.9 734h3.4v3.4h-3.4zM685.9 734.1h3.4v3.4h-3.4zM686.9 729.7h3.4v3.4h-3.4zM687.9 731h3.4v3.4h-3.4zM688.9 730.5h3.4v3.4h-3.4zM689.9 731.6h3.4v3.4h-3.4zM690.9 733.9h3.4v3.4h-3.4zM691.9 733.5h3.4v3.4h-3.4zM692.9 733.3h3.4v3.4h-3.4zM693.9 731.7h3.4v3.4h-3.4zM694.9 734.2h3.4v3.4h-3.4zM695.9 730h3.4v3.4h-3.4zM696.9 727.9h3.4v3.4h-3.4zM697.9 733.6h3.4v3.4h-3.4zM698.9 731.9h3.4v3.4h-3.4zM699.9 734.1h3.4v3.4h-3.4zM700.9 733.7h3.4v3.4h-3.4zM701.9 733.8h3.4v3.4h-3.4zM702.9 731h3.4v3.4h-3.4zM703.9 731.3h3.4v3.4h-3.4zM704.9 729.5h3.4v3.4h-3.4zM705.9 732.1h3.4v3.4h-3.4zM706.9 732h3.4v3.4h-3.4zM707.9 731.1h3.4v3.4h-3.4zM708.9 731.5h3.4v3.4h-3.4zM709.9 732.2h3.4v3.4h-3.4zM710.9 733.3h3.4v3.4h-3.4zM711.9 730.9h3.4v3.4h-3.4zM712.9 730.8h3.4v3.4h-3.4zM713.9 731.5h3.4v3.4h-3.4zM714.9 733.4h3.4v3.4h-3.4zM715.9 734.6h3.4v3.4h-3.4zM716.9 733h3.4v3.4h-3.4zM717.9 727.5h3.4v3.4h-3.4zM718.9 728.6h3.4v3.4h-3.4zM719.9 730h3.4v3.4h-3.4zM720.9 727.1h3.4v3.4h-3.4zM721.9 732.2h3.4v3.4h-3.4zM722.9 729.6h3.4v3.4h-3.4zM723.9 728.8h3.4v3.4h-3.4zM724.9 730.5h3.4v3.4h-3.4zM725.9 731.2h3.4v3.4h-3.4zM726.9 730h3.4v3.4h-3.4zM727.9 730.5h3.4v3.4h-3.4zM728.9 731.9h3.4v3.4h-3.4zM729.9 728.6h3.4v3.4h-3.4zM730.9 730.2h3.4v3.4h-3.4zM731.9 727.1h3.4v3.4h-3.4zM732.9 728h3.4v3.4h-3.4zM733.9 731.5h3.4v3.4h-3.4zM734.9 728.5h3.4v3.4h-3.4zM735.9 728h3.4v3.4h-3.4zM736.9 730.8h3.4v3.4h-3.4zM737.9 728.6h3.4v3.4h-3.4zM738.9 730.7h3.4v3.4h-3.4zM739.9 732.1h3.4v3.4h-3.4zM740.9 732.5h3.4v3.4h-3.4zM741.9 728.4h3.4v3.4h-3.4zM742.9 729.1h3.4v3.4h-3.4zM743.9 727.5h3.4v3.4h-3.4zM744.9 731h3.4v3.4h-3.4zM745.9 729.8h3.4v3.4h-3.4zM746.9 732.4h3.4v3.4h-3.4zM747.9 726.9h3.4v3.4h-3.4zM748.9 727.4h3.4v3.4h-3.4zM749.9 722.6h3.4v3.4h-3.4zM750.9 725.9h3.4v3.4h-3.4zM751.9 725.8h3.4v3.4h-3.4zM752.9 727.3h3.4v3.4h-3.4zM753.9 727.9h3.4v3.4h-3.4zM754.9 723.3h3.4v3.4h-3.4zM755.9 725.4h3.4v3.4h-3.4zM756.9 726.2h3.4v3.4h-3.4zM757.9 724.7h3.4v3.4h-3.4zM758.9 725.5h3.4v3.4h-3.4zM759.9 726.5h3.4v3.4h-3.4zM760.9 722.5h3.4v3.4h-3.4zM761.9 723.5h3.4v3.4h-3.4zM762.9 724.3h3.4v3.4h-3.4zM763.9 722.1h3.4v3.4h-3.4zM764.9 723.9h3.4v3.4h-3.4zM765.9 720.3h3.4v3.4h-3.4zM766.9 722h3.4v3.4h-3.4zM767.9 719.7h3.4v3.4h-3.4zM768.9 719.2h3.4v3.4h-3.4zM769.9 716h3.4v3.4h-3.4zM770.9 717.6h3.4v3.4h-3.4zM771.9 713h3.4v3.4h-3.4zM772.9 715.6h3.4v3.4h-3.4zM773.9 713.3h3.4v3.4h-3.4zM774.9 713.5h3.4v3.4h-3.4zM775.9 715.6h3.4v3.4h-3.4zM776.9 712.7h3.4v3.4h-3.4zM777.9 718.2h3.4v3.4h-3.4zM778.9 719.9h3.4v3.4h-3.4zM779.9 721h3.4v3.4h-3.4zM780.9 725.3h3.4v3.4h-3.4zM781.9 725.7h3.4v3.4h-3.4zM782.9 730.5h3.4v3.4h-3.4zM783.9 728.4h3.4v3.4h-3.4zM784.9 733.3h3.4v3.4h-3.4zM785.9 734.3h3.4v3.4h-3.4zM786.9 733.6h3.4v3.4h-3.4zM787.9 732.6h3.4v3.4h-3.4zM788.9 734.3h3.4v3.4h-3.4zM789.9 732.9h3.4v3.4h-3.4zM790.9 734.4h3.4v3.4h-3.4zM791.9 735.1h3.4v3.4h-3.4zM792.9 737.2h3.4v3.4h-3.4zM793.9 734.8h3.4v3.4h-3.4zM794.9 738.2h3.4v3.4h-3.4zM795.9 737.1h3.4v3.4h-3.4zM796.9 739.6h3.4v3.4h-3.4zM797.9 739.2h3.4v3.4h-3.4zM798.9 737.4h3.4v3.4h-3.4zM799.9 738.8h3.4v3.4h-3.4zM800.9 738.7h3.4v3.4h-3.4zM801.9 737.5h3.4v3.4h-3.4zM802.9 738h3.4v3.4h-3.4zM803.9 738.2h3.4v3.4h-3.4zM804.9 736.8h3.4v3.4h-3.4zM805.9 736.4h3.4v3.4h-3.4zM806.9 738.7h3.4v3.4h-3.4zM807.9 735.5h3.4v3.4h-3.4zM808.9 739.1h3.4v3.4h-3.4zM809.9 739.7h3.4v3.4h-3.4zM810.9 737.7h3.4v3.4h-3.4zM811.9 739.1h3.4v3.4h-3.4zM812.9 737.1h3.4v3.4h-3.4zM813.9 740.4h3.4v3.4h-3.4zM814.9 743.3h3.4v3.4h-3.4zM815.9 739.2h3.4v3.4h-3.4zM816.9 738.3h3.4v3.4h-3.4zM817.9 738.3h3.4v3.4h-3.4zM818.9 736.1h3.4v3.4h-3.4zM819.9 737.2h3.4v3.4h-3.4zM820.9 737.9h3.4v3.4h-3.4zM821.9 737.4h3.4v3.4h-3.4zM822.9 738.5h3.4v3.4h-3.4zM823.9 740.3h3.4v3.4h-3.4zM824.9 736h3.4v3.4h-3.4zM825.9 737.1h3.4v3.4h-3.4zM826.9 738.2h3.4v3.4h-3.4zM827.9 736h3.4v3.4h-3.4zM828.9 736.3h3.4v3.4h-3.4zM829.9 738.3h3.4v3.4h-3.4zM830.9 738.3h3.4v3.4h-3.4zM831.9 737.7h3.4v3.4h-3.4zM832.9 735.4h3.4v3.4h-3.4zM833.9 737.7h3.4v3.4h-3.4zM834.9 738h3.4v3.4h-3.4zM835.9 735.7h3.4v3.4h-3.4zM836.9 736.4h3.4v3.4h-3.4zM837.9 735.6h3.4v3.4h-3.4zM838.9 735.5h3.4v3.4h-3.4zM839.9 734.8h3.4v3.4h-3.4zM840.9 736.1h3.4v3.4h-3.4zM841.9 734h3.4v3.4h-3.4zM842.9 737.8h3.4v3.4h-3.4zM843.9 735.9h3.4v3.4h-3.4zM844.9 734.3h3.4v3.4h-3.4zM845.9 738h3.4v3.4h-3.4zM846.9 734.5h3.4v3.4h-3.4zM847.9 730.4h3.4v3.4h-3.4zM848.9 735.5h3.4v3.4h-3.4zM849.9 734.7h3.4v3.4h-3.4zM850.9 733.2h3.4v3.4h-3.4zM851.9 733.2h3.4v3.4h-3.4zM852.9 731.8h3.4v3.4h-3.4zM853.9 730.6h3.4v3.4h-3.4zM854.9 730.5h3.4v3.4h-3.4zM855.9 735.9h3.4v3.4h-3.4zM856.9 730.7h3.4v3.4h-3.4zM857.9 731.7h3.4v3.4h-3.4zM858.9 734h3.4v3.4h-3.4zM859.9 729.8h3.4v3.4h-3.4zM860.9 730.5h3.4v3.4h-3.4zM861.9 729.6h3.4v3.4h-3.4zM862.9 727.8h3.4v3.4h-3.4zM863.9 730.6h3.4v3.4h-3.4zM864.9 730.6h3.4v3.4h-3.4zM865.9 729h3.4v3.4h-3.4zM866.9 728.8h3.4v3.4h-3.4zM867.9 729.9h3.4v3.4h-3.4zM868.9 729.8h3.4v3.4h-3.4zM869.9 731.7h3.4v3.4h-3.4zM870.9 729.5h3.4v3.4h-3.4zM871.9 729.5h3.4v3.4h-3.4zM872.9 727h3.4v3.4h-3.4zM873.9 725.7h3.4v3.4h-3.4zM874.9 729.7h3.4v3.4h-3.4zM875.9 726.1h3.4v3.4h-3.4zM876.9 728.3h3.4v3.4h-3.4zM877.9 727.1h3.4v3.4h-3.4zM878.9 725.5h3.4v3.4h-3.4zM879.9 726.9h3.4v3.4h-3.4zM880.9 728.9h3.4v3.4h-3.4zM881.9 728.1h3.4v3.4h-3.4zM882.9 724.8h3.4v3.4h-3.4zM883.9 724.8h3.4v3.4h-3.4zM884.9 721.6h3.4v3.4h-3.4zM885.9 722.5h3.4v3.4h-3.4zM886.9 723h3.4v3.4h-3.4zM887.9 723.2h3.4v3.4h-3.4zM888.9 723h3.4v3.4h-3.4zM889.9 720.6h3.4v3.4h-3.4zM890.9 722.1h3.4v3.4h-3.4zM891.9 717.3h3.4v3.4h-3.4zM892.9 718.2h3.4v3.4h-3.4zM893.9 712.8h3.4v3.4h-3.4zM894.9 710.2h3.4v3.4h-3.4zM895.9 706.9h3.4v3.4h-3.4zM896.9 703.2h3.4v3.4h-3.4zM897.9 694.7h3.4v3.4h-3.4zM898.9 688h3.4v3.4h-3.4zM899.9 681.1h3.4v3.4h-3.4zM900.9 673.6h3.4v3.4h-3.4zM901.9 666.8h3.4v3.4h-3.4zM902.9 660.3h3.4v3.4h-3.4zM903.9 659.6h3.4v3.4h-3.4zM904.9 664.8h3.4v3.4h-3.4zM905.9 674.9h3.4v3.4h-3.4zM906.9 685.3h3.4v3.4h-3.4zM907.9 701.4h3.4v3.4h-3.4zM908.9 710.4h3.4v3.4h-3.4zM909.9 716h3.4v3.4h-3.4zM910.9 721.8h3.4v3.4h-3.4zM911.9 727.7h3.4v3.4h-3.4zM912.9 729.3h3.4v3.4h-3.4zM913.9 733.6h3.4v3.4h-3.4zM914.9 740.1h3.4v3.4h-3.4zM915.9 739.8h3.4v3.4h-3.4zM916.9 742.8h3.4v3.4h-3.4zM917.9 741.8h3.4v3.4h-3.4zM918.9 747h3.4v3.4h-3.4zM919.9 745.1h3.4v3.4h-3.4zM920.9 746.3h3.4v3.4h-3.4zM921.9 746.8h3.4v3.4h-3.4zM922.9 746.9h3.4v3.4h-3.4zM923.9 746.2h3.4v3.4h-3.4zM924.9 748.3h3.4v3.4h-3.4zM925.9 750.8h3.4v3.4h-3.4zM926.9 747.2h3.4v3.4h-3.4zM927.9 749.3h3.4v3.4h-3.4zM928.9 746.4h3.4v3.4h-3.4zM929.9 748.8h3.4v3.4h-3.4zM930.9 747.5h3.4v3.4h-3.4zM931.9 750.8h3.4v3.4h-3.4zM932.9 748h3.4v3.4h-3.4zM933.9 749.8h3.4v3.4h-3.4zM934.9 749h3.4v3.4h-3.4zM935.9 745.4h3.4v3.4h-3.4zM936.9 749.2h3.4v3.4h-3.4zM937.9 749.2h3.4v3.4h-3.4zM938.9 750.5h3.4v3.4h-3.4zM939.9 749.1h3.4v3.4h-3.4zM940.9 746.6h3.4v3.4h-3.4zM941.9 747.9h3.4v3.4h-3.4zM942.9 748.8h3.4v3.4h-3.4zM943.9 750.7h3.4v3.4h-3.4zM944.9 749.2h3.4v3.4h-3.4zM945.9 751.3h3.4v3.4h-3.4zM946.9 749.5h3.4v3.4h-3.4zM947.9 750.6h3.4v3.4h-3.4zM948.9 751.6h3.4v3.4h-3.4zM949.9 750.4h3.4v3.4h-3.4zM950.9 747.6h3.4v3.4h-3.4zM951.9 752.1h3.4v3.4h-3.4zM952.9 750h3.4v3.4h-3.4zM953.9 751.7h3.4v3.4h-3.4zM954.9 746.2h3.4v3.4h-3.4zM955.9 750.5h3.4v3.4h-3.4zM956.9 750.5h3.4v3.4h-3.4zM957.9 750h3.4v3.4h-3.4zM958.9 750.5h3.4v3.4h-3.4zM959.9 749.2h3.4v3.4h-3.4zM960.9 749.4h3.4v3.4h-3.4zM961.9 752.4h3.4v3.4h-3.4zM962.9 750.6h3.4v3.4h-3.4zM963.9 753.3h3.4v3.4h-3.4zM964.9 751.6h3.4v3.4h-3.4zM965.9 748.9h3.4v3.4h-3.4zM966.9 751.1h3.4v3.4h-3.4zM967.9 750.6h3.4v3.4h-3.4zM968.9 752h3.4v3.4h-3.4zM969.9 753.8h3.4v3.4h-3.4zM970.9 751.3h3.4v3.4h-3.4zM971.9 750.5h3.4v3.4h-3.4zM972.9 754.7h3.4v3.4h-3.4zM973.9 750.9h3.4v3.4h-3.4zM974.9 750.2h3.4v3.4h-3.4zM975.9 750.8h3.4v3.4h-3.4zM976.9 748h3.4v3.4h-3.4zM977.9 753.7h3.4v3.4h-3.4z" fill="#ff0000"/><line x1="450.8" y1="174" x2="450.8" y2="519" stroke="#000" stroke-width="2" stroke-dasharray="9 7"/><line x1="882.4" y1="131.2" x2="882.4" y2="477" stroke="#000" stroke-width="2" stroke-dasharray="9 7"/><line x1="451" y1="618.4" x2="451" y2="963" stroke="#000" stroke-width="2" stroke-dasharray="9 7"/><line x1="475.5" y1="667.2" x2="475.5" y2="977" stroke="#000" stroke-width="2" stroke-dasharray="9 7"/><line x1="906.4" y1="628.2" x2="906.4" y2="972" stroke="#000" stroke-width="2" stroke-dasharray="9 7"/><g stroke="#000" stroke-width="2.9" fill="none" stroke-linecap="round"><rect x="133" y="122" width="864.5" height="866.3"/><line x1="565" y1="122" x2="565" y2="988.3"/><line x1="133" y1="555.3" x2="997.5" y2="555.3"/><path d="M245.2 98.7L245.2 122M245.2 532L245.2 578.6M245.2 988.3L245.2 1011M374.7 98.7L374.7 122M374.7 532L374.7 578.6M374.7 988.3L374.7 1011M504.2 98.7L504.2 122M504.2 532L504.2 578.6M504.2 988.3L504.2 1011M180.2 111L180.2 122M180.2 544.3L180.2 566.3M180.2 988.3L180.2 999.3M309.7 111L309.7 122M309.7 544.3L309.7 566.3M309.7 988.3L309.7 999.3M439.2 111L439.2 122M439.2 544.3L439.2 566.3M439.2 988.3L439.2 999.3M677.2 98.7L677.2 122M677.2 532L677.2 578.6M677.2 988.3L677.2 1011M806.7 98.7L806.7 122M806.7 532L806.7 578.6M806.7 988.3L806.7 1011M936.2 98.7L936.2 122M936.2 532L936.2 578.6M936.2 988.3L936.2 1011M612.2 111L612.2 122M612.2 544.3L612.2 566.3M612.2 988.3L612.2 999.3M741.7 111L741.7 122M741.7 544.3L741.7 566.3M741.7 988.3L741.7 999.3M871.2 111L871.2 122M871.2 544.3L871.2 566.3M871.2 988.3L871.2 999.3M109.4 181.4L133 181.4M541.4 181.4L588.6 181.4M997.5 181.4L1022 181.4M109.4 279.8L133 279.8M541.4 279.8L588.6 279.8M997.5 279.8L1022 279.8M109.4 377.7L133 377.7M541.4 377.7L588.6 377.7M997.5 377.7L1022 377.7M109.4 476.8L133 476.8M541.4 476.8L588.6 476.8M997.5 476.8L1022 476.8M121.9 131.7L133 131.7M553.9 131.7L576.1 131.7M997.5 131.7L1007.8 131.7M121.9 230.5L133 230.5M553.9 230.5L576.1 230.5M997.5 230.5L1007.8 230.5M121.9 328.8L133 328.8M553.9 328.8L576.1 328.8M997.5 328.8L1007.8 328.8M121.9 427.2L133 427.2M553.9 427.2L576.1 427.2M997.5 427.2L1007.8 427.2M121.9 525.6L133 525.6M553.9 525.6L576.1 525.6M997.5 525.6L1007.8 525.6M109.4 614.7L133 614.7M541.4 614.7L588.6 614.7M997.5 614.7L1022 614.7M109.4 713.1L133 713.1M541.4 713.1L588.6 713.1M997.5 713.1L1022 713.1M109.4 811L133 811M541.4 811L588.6 811M997.5 811L1022 811M109.4 910.1L133 910.1M541.4 910.1L588.6 910.1M997.5 910.1L1022 910.1M121.9 565L133 565M553.9 565L576.1 565M997.5 565L1007.8 565M121.9 663.8L133 663.8M553.9 663.8L576.1 663.8M997.5 663.8L1007.8 663.8M121.9 762.1L133 762.1M553.9 762.1L576.1 762.1M997.5 762.1L1007.8 762.1M121.9 860.5L133 860.5M553.9 860.5L576.1 860.5M997.5 860.5L1007.8 860.5M121.9 958.9L133 958.9M553.9 958.9L576.1 958.9M997.5 958.9L1007.8 958.9"/></g><g font-size="34.5" fill="#000"><text x="93.2" y="191.6" text-anchor="end">20</text><text x="93.2" y="290.3" text-anchor="end">15</text><text x="93.2" y="389" text-anchor="end">10</text><text x="93.2" y="487.6" text-anchor="end">5</text><text x="93.2" y="624.9" text-anchor="end">20</text><text x="93.2" y="723.6" text-anchor="end">15</text><text x="93.2" y="822.3" text-anchor="end">10</text><text x="93.2" y="920.9" text-anchor="end">5</text><text x="245.2" y="1054.5" text-anchor="middle">805</text><text x="374.7" y="1054.5" text-anchor="middle">790</text><text x="504.2" y="1054.5" text-anchor="middle">775</text><text x="677.2" y="1054.5" text-anchor="middle">805</text><text x="806.7" y="1054.5" text-anchor="middle">790</text><text x="936.2" y="1054.5" text-anchor="middle">775</text></g><g font-size="45.8" fill="#000"><text transform="translate(33 510.1) rotate(-90)">Intensity (k cts/s)</text><text transform="translate(33 943.1) rotate(-90)">Intensity (k cts/s)</text></g><g font-size="45.2" fill="#000"><text x="146.4" y="1126.3">Binding Energy (eV)</text><text x="579" y="1126.3">Binding Energy (eV)</text></g><text x="151" y="185" font-size="46" font-weight="bold">(a)</text><text x="595.2" y="182.5" font-size="46" font-weight="bold">(b)</text><text x="170.3" y="623.5" font-size="46" font-weight="bold">(c)</text><text x="607.1" y="624.3" font-size="46" font-weight="bold">(d)</text><text x="150.4" y="247.4" font-size="46">200</text><text x="233.7" y="226" font-size="27">o</text><text x="249" y="247.4" font-size="46">C</text><text x="595" y="244.8" font-size="46">300</text><text x="677.8" y="222" font-size="27">o</text><text x="693.5" y="244.8" font-size="46">C</text><text x="169.5" y="686.2" font-size="46">350</text><text x="252.5" y="663.7" font-size="27">o</text><text x="267.1" y="686.2" font-size="46">C</text><text x="605.3" y="686.9" font-size="46">400</text><text x="689.6" y="665" font-size="27">o</text><text x="703.9" y="686.9" font-size="46">C</text><text x="372.5" y="177.3" font-size="32">Co-N</text><text x="797.2" y="160.5" font-size="32">Co-N</text><text x="374.3" y="614.9" font-size="32">Co-N</text><text x="469.4" y="642.5" font-size="31">Co</text><text x="509.2" y="627.2" font-size="19">0</text><text x="916.2" y="647.3" font-size="31">Co</text><text x="956.5" y="631.4" font-size="19">0</text><text transform="translate(124.6 56.6) scale(0.985 1.06)" font-size="68" font-weight="bold">Co 2<tspan font-style="italic">p</tspan></text><g font-size="31" fill="#000"><text x="431.9" y="22.3">1000 cyc</text><text x="431.9" y="60.5">100 cyc</text><text x="665.7" y="22.3">500 cyc</text><text x="648.5" y="60.5">50 cyc</text><text x="882" y="22.3">200 cyc</text></g><rect x="382" y="5.8" width="12" height="11.3" fill="#ff0000"/><path d="M379.6 44.9L395.8 44.9L387.7 58.2Z" fill="#008000"/><circle cx="622.5" cy="11.4" r="6.2" fill="#0000ff"/><path d="M596.9 49.4L605.2 41.6L613.5 49.4L605.2 57.2Z" fill="#800000"/><path d="M831.5 16.3L839.5 2.6L847.4 16.3Z" fill="#ff00ff"/></svg></body></html>
